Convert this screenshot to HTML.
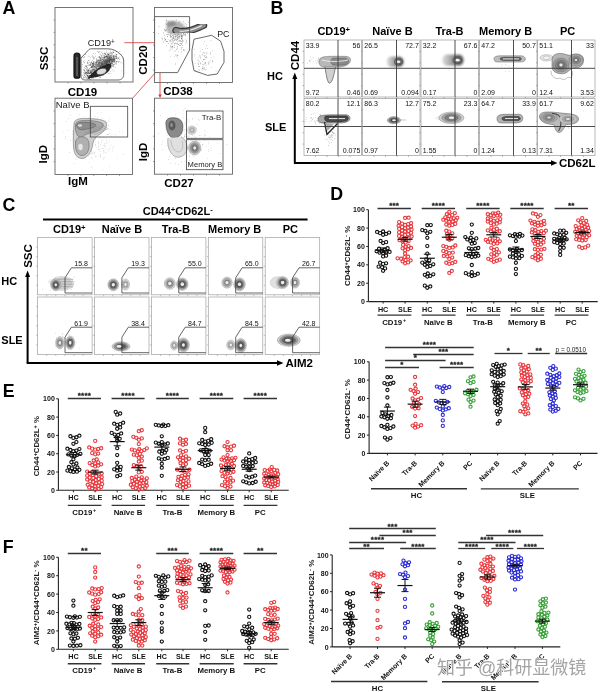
<!DOCTYPE html>
<html><head><meta charset="utf-8"><style>
html,body{margin:0;padding:0;background:#fff;}
svg{display:block;}
text{font-family:"Liberation Sans", Arial, sans-serif;}
</style></head><body>
<svg width="600" height="692" viewBox="0 0 600 692">
<defs>
<radialGradient id="bg"><stop offset="0" stop-color="#222"/><stop offset="0.6" stop-color="#555"/><stop offset="1" stop-color="#999" stop-opacity="0.3"/></radialGradient>
<linearGradient id="tailg" x1="0" y1="0" x2="1" y2="0"><stop offset="0" stop-color="#ddd" stop-opacity="0.2"/><stop offset="0.6" stop-color="#aaa" stop-opacity="0.8"/><stop offset="1" stop-color="#777"/></linearGradient>
<linearGradient id="tailg2" x1="0" y1="0" x2="1" y2="0"><stop offset="0" stop-color="#dcdcdc"/><stop offset="0.4" stop-color="#a4a4a4"/><stop offset="0.72" stop-color="#5e5e5e"/><stop offset="1" stop-color="#707070"/></linearGradient>
<filter id="soft" x="-20%" y="-20%" width="140%" height="140%"><feGaussianBlur stdDeviation="0.45"/></filter>
<filter id="soft2" x="-20%" y="-20%" width="140%" height="140%"><feGaussianBlur stdDeviation="0.9"/></filter>
</defs>
<rect width="600" height="692" fill="#fff"/>
<text x="2.60" y="13.50" font-size="17.8" font-weight="bold" text-anchor="start" fill="#000" >A</text>
<text x="270.40" y="13.50" font-size="17.8" font-weight="bold" text-anchor="start" fill="#000" >B</text>
<text x="2.40" y="211.10" font-size="17.8" font-weight="bold" text-anchor="start" fill="#000" >C</text>
<text x="330.20" y="199.50" font-size="17.8" font-weight="bold" text-anchor="start" fill="#000" >D</text>
<text x="2.70" y="396.50" font-size="17.8" font-weight="bold" text-anchor="start" fill="#000" >E</text>
<text x="2.70" y="553.00" font-size="17.8" font-weight="bold" text-anchor="start" fill="#000" >F</text>
<circle cx="89.0" cy="78.7" r="0.4" fill="#222"/>
<circle cx="91.8" cy="74.8" r="0.4" fill="#333"/>
<circle cx="89.8" cy="68.4" r="0.4" fill="#333"/>
<circle cx="92.0" cy="67.1" r="0.4" fill="#333"/>
<circle cx="114.5" cy="58.4" r="0.4" fill="#777"/>
<circle cx="96.5" cy="71.4" r="0.4" fill="#333"/>
<circle cx="92.8" cy="75.6" r="0.4" fill="#222"/>
<circle cx="114.4" cy="56.0" r="0.4" fill="#333"/>
<circle cx="91.1" cy="70.1" r="0.4" fill="#222"/>
<circle cx="110.0" cy="57.8" r="0.4" fill="#333"/>
<circle cx="88.8" cy="72.8" r="0.4" fill="#555"/>
<circle cx="104.1" cy="63.5" r="0.4" fill="#555"/>
<circle cx="90.6" cy="67.8" r="0.4" fill="#555"/>
<circle cx="107.4" cy="62.3" r="0.4" fill="#555"/>
<circle cx="102.3" cy="61.8" r="0.4" fill="#777"/>
<circle cx="91.7" cy="75.4" r="0.4" fill="#333"/>
<circle cx="90.1" cy="76.7" r="0.4" fill="#777"/>
<circle cx="106.5" cy="59.9" r="0.4" fill="#222"/>
<circle cx="104.6" cy="53.3" r="0.4" fill="#333"/>
<circle cx="93.8" cy="62.3" r="0.4" fill="#777"/>
<circle cx="84.4" cy="73.0" r="0.4" fill="#555"/>
<circle cx="108.8" cy="58.5" r="0.4" fill="#222"/>
<circle cx="101.0" cy="61.1" r="0.4" fill="#777"/>
<circle cx="113.5" cy="55.9" r="0.4" fill="#777"/>
<circle cx="99.1" cy="68.4" r="0.4" fill="#555"/>
<circle cx="100.3" cy="66.0" r="0.4" fill="#222"/>
<circle cx="116.5" cy="55.2" r="0.4" fill="#555"/>
<circle cx="101.1" cy="60.5" r="0.4" fill="#777"/>
<circle cx="94.0" cy="75.2" r="0.4" fill="#555"/>
<circle cx="104.2" cy="61.8" r="0.4" fill="#222"/>
<circle cx="99.3" cy="66.3" r="0.4" fill="#555"/>
<circle cx="103.5" cy="60.9" r="0.4" fill="#222"/>
<circle cx="107.2" cy="63.5" r="0.4" fill="#555"/>
<circle cx="94.0" cy="69.9" r="0.4" fill="#333"/>
<circle cx="110.7" cy="66.4" r="0.4" fill="#222"/>
<circle cx="95.1" cy="75.9" r="0.4" fill="#555"/>
<circle cx="95.6" cy="72.2" r="0.4" fill="#333"/>
<circle cx="91.4" cy="73.1" r="0.4" fill="#555"/>
<circle cx="108.2" cy="53.0" r="0.4" fill="#777"/>
<circle cx="111.8" cy="60.7" r="0.4" fill="#222"/>
<circle cx="112.1" cy="59.6" r="0.4" fill="#555"/>
<circle cx="104.8" cy="67.6" r="0.4" fill="#555"/>
<circle cx="97.7" cy="64.7" r="0.4" fill="#333"/>
<circle cx="106.7" cy="59.0" r="0.4" fill="#222"/>
<circle cx="104.6" cy="61.5" r="0.4" fill="#777"/>
<circle cx="110.4" cy="55.2" r="0.4" fill="#555"/>
<circle cx="90.6" cy="72.2" r="0.4" fill="#333"/>
<circle cx="111.8" cy="62.0" r="0.4" fill="#333"/>
<circle cx="92.4" cy="74.3" r="0.4" fill="#555"/>
<circle cx="97.1" cy="72.5" r="0.4" fill="#555"/>
<circle cx="92.8" cy="74.1" r="0.4" fill="#222"/>
<circle cx="113.2" cy="65.0" r="0.4" fill="#333"/>
<circle cx="84.2" cy="75.1" r="0.4" fill="#555"/>
<circle cx="94.2" cy="66.1" r="0.4" fill="#555"/>
<circle cx="96.5" cy="70.7" r="0.4" fill="#555"/>
<circle cx="92.2" cy="70.9" r="0.4" fill="#222"/>
<circle cx="105.7" cy="61.1" r="0.4" fill="#777"/>
<circle cx="93.4" cy="69.4" r="0.4" fill="#555"/>
<circle cx="92.2" cy="64.5" r="0.4" fill="#777"/>
<circle cx="89.6" cy="73.5" r="0.4" fill="#333"/>
<circle cx="87.7" cy="75.2" r="0.4" fill="#555"/>
<circle cx="100.8" cy="65.6" r="0.4" fill="#555"/>
<circle cx="104.3" cy="60.2" r="0.4" fill="#222"/>
<circle cx="91.6" cy="74.5" r="0.4" fill="#333"/>
<circle cx="92.5" cy="69.9" r="0.4" fill="#555"/>
<circle cx="94.1" cy="66.7" r="0.4" fill="#222"/>
<circle cx="96.5" cy="70.8" r="0.4" fill="#777"/>
<circle cx="101.7" cy="68.1" r="0.4" fill="#333"/>
<circle cx="85.3" cy="73.7" r="0.4" fill="#555"/>
<circle cx="101.6" cy="62.5" r="0.4" fill="#333"/>
<circle cx="96.4" cy="61.1" r="0.4" fill="#555"/>
<circle cx="88.8" cy="76.3" r="0.4" fill="#777"/>
<circle cx="107.1" cy="57.4" r="0.4" fill="#555"/>
<circle cx="105.7" cy="59.5" r="0.4" fill="#333"/>
<circle cx="93.0" cy="64.2" r="0.4" fill="#333"/>
<circle cx="100.0" cy="66.1" r="0.4" fill="#333"/>
<circle cx="99.7" cy="59.0" r="0.4" fill="#777"/>
<circle cx="112.5" cy="56.6" r="0.4" fill="#777"/>
<circle cx="96.9" cy="62.5" r="0.4" fill="#777"/>
<circle cx="112.9" cy="63.9" r="0.4" fill="#777"/>
<circle cx="98.6" cy="68.6" r="0.4" fill="#222"/>
<circle cx="111.0" cy="58.5" r="0.4" fill="#333"/>
<circle cx="89.0" cy="75.4" r="0.4" fill="#555"/>
<circle cx="102.1" cy="66.9" r="0.4" fill="#777"/>
<circle cx="97.1" cy="70.2" r="0.4" fill="#222"/>
<circle cx="84.4" cy="77.4" r="0.4" fill="#333"/>
<circle cx="101.7" cy="65.8" r="0.4" fill="#777"/>
<circle cx="116.8" cy="54.5" r="0.4" fill="#222"/>
<circle cx="95.1" cy="75.1" r="0.4" fill="#777"/>
<circle cx="109.6" cy="61.4" r="0.4" fill="#333"/>
<circle cx="112.2" cy="53.9" r="0.4" fill="#333"/>
<circle cx="110.1" cy="58.1" r="0.4" fill="#222"/>
<circle cx="110.7" cy="61.2" r="0.4" fill="#333"/>
<circle cx="97.7" cy="71.3" r="0.4" fill="#555"/>
<circle cx="111.7" cy="61.6" r="0.4" fill="#555"/>
<circle cx="107.7" cy="59.4" r="0.4" fill="#777"/>
<circle cx="87.9" cy="73.8" r="0.4" fill="#222"/>
<circle cx="82.3" cy="75.7" r="0.4" fill="#777"/>
<circle cx="92.4" cy="66.2" r="0.4" fill="#777"/>
<circle cx="95.4" cy="64.5" r="0.4" fill="#222"/>
<circle cx="89.0" cy="62.6" r="0.4" fill="#555"/>
<circle cx="105.9" cy="61.8" r="0.4" fill="#333"/>
<circle cx="87.7" cy="70.9" r="0.4" fill="#777"/>
<circle cx="116.4" cy="61.8" r="0.4" fill="#555"/>
<circle cx="95.4" cy="70.9" r="0.4" fill="#222"/>
<circle cx="85.9" cy="76.9" r="0.4" fill="#222"/>
<circle cx="102.3" cy="65.0" r="0.4" fill="#777"/>
<circle cx="109.6" cy="59.9" r="0.4" fill="#555"/>
<circle cx="97.9" cy="69.9" r="0.4" fill="#555"/>
<circle cx="112.6" cy="61.0" r="0.4" fill="#222"/>
<circle cx="88.1" cy="76.1" r="0.4" fill="#777"/>
<circle cx="93.0" cy="71.9" r="0.4" fill="#777"/>
<circle cx="101.5" cy="64.9" r="0.4" fill="#333"/>
<circle cx="93.6" cy="75.7" r="0.4" fill="#222"/>
<circle cx="89.4" cy="72.9" r="0.4" fill="#555"/>
<circle cx="96.6" cy="65.9" r="0.4" fill="#222"/>
<circle cx="115.2" cy="55.2" r="0.4" fill="#777"/>
<circle cx="87.0" cy="72.0" r="0.4" fill="#333"/>
<circle cx="101.3" cy="63.3" r="0.4" fill="#222"/>
<circle cx="111.0" cy="52.4" r="0.4" fill="#333"/>
<circle cx="105.8" cy="65.7" r="0.4" fill="#333"/>
<circle cx="96.3" cy="59.8" r="0.4" fill="#777"/>
<circle cx="99.4" cy="66.6" r="0.4" fill="#777"/>
<circle cx="97.0" cy="63.7" r="0.4" fill="#777"/>
<circle cx="103.8" cy="67.2" r="0.4" fill="#333"/>
<circle cx="101.5" cy="64.7" r="0.4" fill="#333"/>
<circle cx="93.3" cy="78.1" r="0.4" fill="#555"/>
<circle cx="111.3" cy="55.1" r="0.4" fill="#555"/>
<circle cx="90.3" cy="73.3" r="0.4" fill="#777"/>
<circle cx="98.2" cy="63.9" r="0.4" fill="#555"/>
<circle cx="91.3" cy="72.8" r="0.4" fill="#777"/>
<circle cx="105.4" cy="60.1" r="0.4" fill="#333"/>
<circle cx="109.0" cy="54.1" r="0.4" fill="#333"/>
<circle cx="100.2" cy="57.7" r="0.4" fill="#222"/>
<circle cx="103.9" cy="60.7" r="0.4" fill="#555"/>
<circle cx="102.7" cy="66.3" r="0.4" fill="#777"/>
<circle cx="107.0" cy="63.8" r="0.4" fill="#333"/>
<circle cx="116.6" cy="56.8" r="0.4" fill="#555"/>
<circle cx="109.1" cy="62.2" r="0.4" fill="#222"/>
<circle cx="102.0" cy="64.5" r="0.4" fill="#222"/>
<circle cx="108.8" cy="55.2" r="0.4" fill="#333"/>
<circle cx="96.3" cy="63.4" r="0.4" fill="#555"/>
<circle cx="107.6" cy="59.8" r="0.4" fill="#222"/>
<circle cx="94.3" cy="72.1" r="0.4" fill="#222"/>
<circle cx="92.7" cy="65.8" r="0.4" fill="#555"/>
<circle cx="100.3" cy="63.1" r="0.4" fill="#333"/>
<circle cx="94.7" cy="70.2" r="0.4" fill="#222"/>
<circle cx="100.3" cy="66.8" r="0.4" fill="#222"/>
<circle cx="109.6" cy="58.1" r="0.4" fill="#222"/>
<circle cx="106.1" cy="62.0" r="0.4" fill="#333"/>
<circle cx="102.5" cy="64.2" r="0.4" fill="#555"/>
<circle cx="101.7" cy="59.9" r="0.4" fill="#333"/>
<circle cx="97.8" cy="62.1" r="0.4" fill="#555"/>
<circle cx="97.4" cy="74.4" r="0.4" fill="#777"/>
<circle cx="102.2" cy="63.8" r="0.4" fill="#555"/>
<circle cx="101.5" cy="66.0" r="0.4" fill="#222"/>
<circle cx="105.5" cy="53.7" r="0.4" fill="#222"/>
<circle cx="106.8" cy="64.0" r="0.4" fill="#555"/>
<circle cx="91.3" cy="73.6" r="0.4" fill="#777"/>
<circle cx="104.5" cy="63.2" r="0.4" fill="#555"/>
<circle cx="111.9" cy="59.2" r="0.4" fill="#333"/>
<circle cx="109.1" cy="59.3" r="0.4" fill="#777"/>
<circle cx="111.1" cy="62.4" r="0.4" fill="#555"/>
<circle cx="104.9" cy="59.3" r="0.4" fill="#555"/>
<circle cx="98.6" cy="62.9" r="0.4" fill="#222"/>
<circle cx="94.4" cy="74.2" r="0.4" fill="#333"/>
<circle cx="90.3" cy="65.4" r="0.4" fill="#222"/>
<circle cx="105.1" cy="68.2" r="0.4" fill="#333"/>
<circle cx="113.8" cy="60.5" r="0.4" fill="#777"/>
<circle cx="88.3" cy="73.0" r="0.4" fill="#555"/>
<circle cx="98.8" cy="67.6" r="0.4" fill="#555"/>
<circle cx="104.0" cy="64.6" r="0.4" fill="#333"/>
<circle cx="112.2" cy="63.5" r="0.4" fill="#777"/>
<circle cx="106.1" cy="58.6" r="0.4" fill="#222"/>
<circle cx="94.7" cy="68.1" r="0.4" fill="#777"/>
<circle cx="113.1" cy="66.5" r="0.4" fill="#555"/>
<circle cx="104.9" cy="61.6" r="0.4" fill="#333"/>
<circle cx="114.7" cy="58.5" r="0.4" fill="#555"/>
<circle cx="84.3" cy="70.6" r="0.4" fill="#222"/>
<circle cx="116.2" cy="58.0" r="0.4" fill="#555"/>
<circle cx="115.2" cy="67.4" r="0.4" fill="#777"/>
<circle cx="109.7" cy="59.5" r="0.4" fill="#333"/>
<circle cx="83.6" cy="77.9" r="0.4" fill="#333"/>
<circle cx="93.9" cy="74.0" r="0.4" fill="#777"/>
<circle cx="90.9" cy="75.9" r="0.4" fill="#555"/>
<circle cx="86.2" cy="78.6" r="0.4" fill="#777"/>
<circle cx="101.9" cy="58.2" r="0.4" fill="#777"/>
<circle cx="106.9" cy="57.2" r="0.4" fill="#777"/>
<circle cx="100.7" cy="67.3" r="0.4" fill="#333"/>
<circle cx="85.7" cy="73.8" r="0.4" fill="#333"/>
<circle cx="109.0" cy="60.4" r="0.4" fill="#333"/>
<circle cx="93.9" cy="67.8" r="0.4" fill="#333"/>
<circle cx="91.6" cy="72.3" r="0.4" fill="#555"/>
<circle cx="109.4" cy="61.7" r="0.4" fill="#555"/>
<circle cx="102.5" cy="63.7" r="0.4" fill="#777"/>
<circle cx="107.5" cy="62.2" r="0.4" fill="#777"/>
<circle cx="109.8" cy="59.9" r="0.4" fill="#777"/>
<circle cx="108.9" cy="58.9" r="0.4" fill="#222"/>
<circle cx="117.4" cy="58.9" r="0.4" fill="#555"/>
<circle cx="110.5" cy="65.0" r="0.4" fill="#777"/>
<circle cx="93.3" cy="66.1" r="0.4" fill="#222"/>
<circle cx="88.0" cy="62.9" r="0.4" fill="#555"/>
<circle cx="102.3" cy="62.7" r="0.4" fill="#555"/>
<circle cx="95.6" cy="68.6" r="0.4" fill="#555"/>
<circle cx="98.5" cy="70.1" r="0.4" fill="#222"/>
<circle cx="107.2" cy="65.8" r="0.4" fill="#777"/>
<circle cx="112.6" cy="53.0" r="0.4" fill="#777"/>
<circle cx="89.4" cy="78.4" r="0.4" fill="#222"/>
<circle cx="93.3" cy="74.0" r="0.4" fill="#555"/>
<circle cx="91.1" cy="71.9" r="0.4" fill="#333"/>
<circle cx="85.0" cy="71.5" r="0.4" fill="#555"/>
<circle cx="114.4" cy="60.2" r="0.4" fill="#333"/>
<circle cx="84.3" cy="73.7" r="0.4" fill="#222"/>
<circle cx="109.0" cy="61.5" r="0.4" fill="#777"/>
<circle cx="101.4" cy="63.6" r="0.4" fill="#555"/>
<circle cx="104.8" cy="70.1" r="0.4" fill="#222"/>
<circle cx="89.8" cy="75.3" r="0.4" fill="#555"/>
<circle cx="98.9" cy="65.2" r="0.4" fill="#333"/>
<circle cx="100.2" cy="65.8" r="0.4" fill="#222"/>
<circle cx="97.7" cy="66.6" r="0.4" fill="#333"/>
<circle cx="91.7" cy="75.5" r="0.4" fill="#555"/>
<circle cx="103.3" cy="63.6" r="0.4" fill="#333"/>
<circle cx="106.0" cy="61.3" r="0.4" fill="#555"/>
<circle cx="84.8" cy="75.6" r="0.4" fill="#222"/>
<circle cx="99.1" cy="57.6" r="0.4" fill="#222"/>
<circle cx="98.9" cy="68.4" r="0.4" fill="#555"/>
<circle cx="95.6" cy="76.8" r="0.4" fill="#555"/>
<circle cx="101.5" cy="63.6" r="0.4" fill="#222"/>
<circle cx="110.8" cy="67.5" r="0.4" fill="#333"/>
<circle cx="86.5" cy="72.5" r="0.4" fill="#333"/>
<circle cx="87.0" cy="72.7" r="0.4" fill="#333"/>
<circle cx="107.1" cy="61.6" r="0.4" fill="#777"/>
<circle cx="91.9" cy="76.0" r="0.4" fill="#555"/>
<circle cx="101.4" cy="68.5" r="0.4" fill="#333"/>
<circle cx="91.9" cy="71.3" r="0.4" fill="#333"/>
<circle cx="97.7" cy="68.7" r="0.4" fill="#777"/>
<circle cx="87.4" cy="73.1" r="0.4" fill="#777"/>
<circle cx="90.8" cy="75.5" r="0.4" fill="#222"/>
<circle cx="110.1" cy="62.5" r="0.4" fill="#555"/>
<circle cx="101.2" cy="62.7" r="0.4" fill="#222"/>
<circle cx="111.2" cy="58.2" r="0.4" fill="#777"/>
<circle cx="108.8" cy="64.4" r="0.4" fill="#333"/>
<circle cx="102.9" cy="57.7" r="0.4" fill="#777"/>
<circle cx="103.0" cy="62.9" r="0.4" fill="#777"/>
<circle cx="88.3" cy="70.1" r="0.4" fill="#777"/>
<circle cx="86.2" cy="70.6" r="0.4" fill="#777"/>
<circle cx="111.0" cy="57.5" r="0.4" fill="#777"/>
<circle cx="101.7" cy="68.4" r="0.4" fill="#222"/>
<circle cx="118.7" cy="58.5" r="0.4" fill="#222"/>
<circle cx="105.9" cy="57.5" r="0.4" fill="#222"/>
<circle cx="105.2" cy="60.3" r="0.4" fill="#777"/>
<circle cx="107.7" cy="65.6" r="0.4" fill="#333"/>
<circle cx="87.8" cy="70.4" r="0.4" fill="#555"/>
<circle cx="91.8" cy="74.3" r="0.4" fill="#555"/>
<circle cx="111.6" cy="60.1" r="0.4" fill="#777"/>
<circle cx="104.7" cy="61.7" r="0.4" fill="#222"/>
<circle cx="104.2" cy="62.0" r="0.4" fill="#777"/>
<circle cx="104.7" cy="58.4" r="0.4" fill="#555"/>
<circle cx="92.7" cy="65.0" r="0.4" fill="#222"/>
<circle cx="100.6" cy="60.2" r="0.4" fill="#333"/>
<circle cx="106.9" cy="56.2" r="0.4" fill="#333"/>
<circle cx="106.6" cy="65.3" r="0.4" fill="#222"/>
<circle cx="96.4" cy="73.2" r="0.4" fill="#555"/>
<circle cx="85.9" cy="73.9" r="0.4" fill="#222"/>
<circle cx="100.0" cy="65.9" r="0.4" fill="#555"/>
<circle cx="95.1" cy="72.5" r="0.4" fill="#222"/>
<circle cx="98.7" cy="70.8" r="0.4" fill="#333"/>
<circle cx="91.6" cy="78.4" r="0.4" fill="#777"/>
<circle cx="94.5" cy="71.6" r="0.4" fill="#333"/>
<circle cx="96.4" cy="61.6" r="0.4" fill="#777"/>
<circle cx="105.4" cy="61.7" r="0.4" fill="#555"/>
<circle cx="99.5" cy="67.7" r="0.4" fill="#777"/>
<circle cx="89.9" cy="77.5" r="0.4" fill="#222"/>
<circle cx="103.8" cy="65.0" r="0.4" fill="#777"/>
<circle cx="87.4" cy="68.8" r="0.4" fill="#333"/>
<circle cx="99.3" cy="69.5" r="0.4" fill="#777"/>
<circle cx="99.0" cy="60.5" r="0.4" fill="#333"/>
<circle cx="102.2" cy="66.7" r="0.4" fill="#555"/>
<circle cx="91.6" cy="62.9" r="0.4" fill="#222"/>
<circle cx="105.0" cy="66.9" r="0.4" fill="#555"/>
<circle cx="93.2" cy="69.4" r="0.4" fill="#555"/>
<circle cx="116.0" cy="54.2" r="0.4" fill="#555"/>
<circle cx="90.6" cy="64.6" r="0.4" fill="#333"/>
<circle cx="91.0" cy="72.7" r="0.4" fill="#777"/>
<circle cx="113.0" cy="65.8" r="0.4" fill="#555"/>
<circle cx="92.1" cy="78.1" r="0.4" fill="#777"/>
<circle cx="99.2" cy="69.1" r="0.4" fill="#555"/>
<circle cx="89.8" cy="73.0" r="0.4" fill="#222"/>
<circle cx="93.7" cy="64.2" r="0.4" fill="#222"/>
<circle cx="106.5" cy="64.0" r="0.4" fill="#555"/>
<circle cx="100.3" cy="67.4" r="0.4" fill="#222"/>
<circle cx="84.0" cy="74.3" r="0.4" fill="#555"/>
<circle cx="115.3" cy="56.6" r="0.4" fill="#222"/>
<circle cx="115.1" cy="63.4" r="0.4" fill="#222"/>
<circle cx="91.6" cy="70.4" r="0.4" fill="#777"/>
<circle cx="104.3" cy="65.2" r="0.4" fill="#555"/>
<circle cx="95.8" cy="73.8" r="0.4" fill="#555"/>
<circle cx="112.8" cy="61.5" r="0.4" fill="#333"/>
<circle cx="109.6" cy="58.7" r="0.4" fill="#555"/>
<circle cx="94.9" cy="66.8" r="0.4" fill="#333"/>
<circle cx="106.3" cy="56.4" r="0.4" fill="#333"/>
<circle cx="91.3" cy="75.2" r="0.4" fill="#777"/>
<circle cx="92.8" cy="68.7" r="0.4" fill="#555"/>
<circle cx="110.9" cy="52.2" r="0.4" fill="#777"/>
<circle cx="101.5" cy="65.5" r="0.4" fill="#777"/>
<circle cx="95.3" cy="63.8" r="0.4" fill="#555"/>
<circle cx="86.7" cy="73.8" r="0.4" fill="#222"/>
<circle cx="97.8" cy="64.5" r="0.4" fill="#777"/>
<circle cx="99.9" cy="69.0" r="0.4" fill="#333"/>
<circle cx="90.1" cy="65.0" r="0.4" fill="#333"/>
<circle cx="113.1" cy="58.5" r="0.4" fill="#777"/>
<circle cx="114.5" cy="59.1" r="0.4" fill="#222"/>
<circle cx="87.4" cy="78.9" r="0.4" fill="#333"/>
<circle cx="87.5" cy="67.6" r="0.4" fill="#777"/>
<circle cx="95.8" cy="66.5" r="0.4" fill="#777"/>
<circle cx="88.8" cy="70.4" r="0.4" fill="#777"/>
<circle cx="91.7" cy="67.5" r="0.4" fill="#222"/>
<circle cx="110.1" cy="63.3" r="0.4" fill="#222"/>
<circle cx="114.7" cy="64.6" r="0.4" fill="#333"/>
<circle cx="102.6" cy="61.4" r="0.4" fill="#222"/>
<circle cx="111.4" cy="60.6" r="0.4" fill="#333"/>
<circle cx="87.9" cy="77.2" r="0.4" fill="#777"/>
<circle cx="103.6" cy="61.6" r="0.4" fill="#777"/>
<circle cx="111.1" cy="53.9" r="0.4" fill="#333"/>
<circle cx="100.1" cy="62.1" r="0.4" fill="#555"/>
<circle cx="107.7" cy="61.8" r="0.4" fill="#333"/>
<circle cx="98.3" cy="60.3" r="0.4" fill="#333"/>
<circle cx="101.9" cy="61.4" r="0.4" fill="#555"/>
<circle cx="115.2" cy="56.1" r="0.4" fill="#222"/>
<circle cx="96.3" cy="68.8" r="0.4" fill="#222"/>
<circle cx="87.1" cy="73.5" r="0.4" fill="#333"/>
<circle cx="89.5" cy="77.7" r="0.4" fill="#555"/>
<circle cx="113.5" cy="59.0" r="0.4" fill="#555"/>
<circle cx="114.1" cy="60.3" r="0.4" fill="#777"/>
<circle cx="110.3" cy="56.9" r="0.4" fill="#333"/>
<circle cx="92.6" cy="77.6" r="0.4" fill="#555"/>
<circle cx="99.9" cy="67.6" r="0.4" fill="#333"/>
<circle cx="112.2" cy="61.7" r="0.4" fill="#555"/>
<circle cx="104.7" cy="66.9" r="0.4" fill="#777"/>
<circle cx="92.8" cy="63.6" r="0.4" fill="#222"/>
<circle cx="93.9" cy="64.8" r="0.4" fill="#333"/>
<circle cx="99.2" cy="64.0" r="0.4" fill="#222"/>
<circle cx="105.5" cy="66.0" r="0.4" fill="#222"/>
<circle cx="107.5" cy="57.0" r="0.4" fill="#555"/>
<circle cx="109.0" cy="60.2" r="0.4" fill="#222"/>
<circle cx="111.8" cy="57.5" r="0.4" fill="#222"/>
<circle cx="113.2" cy="55.6" r="0.4" fill="#333"/>
<circle cx="116.4" cy="58.1" r="0.4" fill="#222"/>
<circle cx="106.1" cy="68.8" r="0.4" fill="#555"/>
<circle cx="92.7" cy="73.5" r="0.4" fill="#222"/>
<circle cx="105.4" cy="54.5" r="0.4" fill="#333"/>
<circle cx="107.9" cy="56.8" r="0.4" fill="#222"/>
<circle cx="93.7" cy="65.8" r="0.4" fill="#333"/>
<circle cx="104.9" cy="62.7" r="0.4" fill="#333"/>
<circle cx="118.4" cy="57.8" r="0.4" fill="#777"/>
<circle cx="101.1" cy="65.9" r="0.4" fill="#222"/>
<circle cx="107.4" cy="58.4" r="0.4" fill="#777"/>
<circle cx="87.6" cy="71.2" r="0.4" fill="#333"/>
<circle cx="104.4" cy="69.4" r="0.4" fill="#333"/>
<circle cx="116.8" cy="54.3" r="0.4" fill="#777"/>
<circle cx="113.7" cy="52.7" r="0.4" fill="#222"/>
<circle cx="93.0" cy="75.6" r="0.4" fill="#333"/>
<circle cx="92.8" cy="70.3" r="0.4" fill="#777"/>
<circle cx="87.4" cy="73.0" r="0.4" fill="#555"/>
<circle cx="91.3" cy="68.8" r="0.4" fill="#777"/>
<circle cx="92.5" cy="71.8" r="0.4" fill="#555"/>
<circle cx="96.7" cy="62.7" r="0.4" fill="#777"/>
<circle cx="93.8" cy="63.0" r="0.4" fill="#222"/>
<circle cx="102.5" cy="63.1" r="0.4" fill="#333"/>
<circle cx="104.7" cy="67.8" r="0.4" fill="#555"/>
<circle cx="110.2" cy="63.6" r="0.4" fill="#222"/>
<circle cx="111.8" cy="56.0" r="0.4" fill="#222"/>
<circle cx="105.7" cy="63.5" r="0.4" fill="#555"/>
<circle cx="110.0" cy="56.8" r="0.4" fill="#555"/>
<circle cx="83.5" cy="77.0" r="0.4" fill="#555"/>
<circle cx="98.6" cy="66.1" r="0.4" fill="#333"/>
<circle cx="108.3" cy="60.6" r="0.4" fill="#777"/>
<circle cx="107.7" cy="58.2" r="0.4" fill="#555"/>
<circle cx="96.4" cy="65.7" r="0.4" fill="#333"/>
<circle cx="93.8" cy="65.7" r="0.4" fill="#777"/>
<circle cx="93.9" cy="76.4" r="0.4" fill="#333"/>
<circle cx="89.3" cy="64.4" r="0.4" fill="#555"/>
<circle cx="97.7" cy="61.6" r="0.4" fill="#222"/>
<circle cx="87.6" cy="75.8" r="0.4" fill="#333"/>
<circle cx="100.1" cy="60.4" r="0.4" fill="#333"/>
<circle cx="112.0" cy="59.5" r="0.4" fill="#222"/>
<circle cx="101.1" cy="59.0" r="0.4" fill="#222"/>
<circle cx="113.3" cy="57.4" r="0.4" fill="#222"/>
<circle cx="105.2" cy="54.9" r="0.4" fill="#333"/>
<circle cx="97.3" cy="69.1" r="0.4" fill="#555"/>
<circle cx="112.5" cy="61.1" r="0.4" fill="#333"/>
<circle cx="106.4" cy="63.6" r="0.4" fill="#222"/>
<circle cx="93.7" cy="68.2" r="0.4" fill="#555"/>
<circle cx="92.0" cy="73.6" r="0.4" fill="#777"/>
<circle cx="102.7" cy="62.9" r="0.4" fill="#777"/>
<circle cx="90.0" cy="70.7" r="0.4" fill="#777"/>
<circle cx="102.8" cy="62.0" r="0.4" fill="#555"/>
<circle cx="104.8" cy="57.4" r="0.4" fill="#333"/>
<circle cx="100.5" cy="58.5" r="0.4" fill="#333"/>
<circle cx="112.9" cy="59.1" r="0.4" fill="#222"/>
<circle cx="111.1" cy="57.8" r="0.4" fill="#777"/>
<circle cx="108.5" cy="54.4" r="0.4" fill="#333"/>
<circle cx="103.4" cy="64.9" r="0.4" fill="#777"/>
<circle cx="111.3" cy="63.7" r="0.4" fill="#222"/>
<circle cx="110.0" cy="57.6" r="0.4" fill="#222"/>
<circle cx="91.8" cy="75.2" r="0.4" fill="#777"/>
<circle cx="109.3" cy="65.9" r="0.4" fill="#555"/>
<circle cx="99.4" cy="63.9" r="0.4" fill="#222"/>
<circle cx="103.3" cy="60.6" r="0.4" fill="#333"/>
<circle cx="83.6" cy="72.2" r="0.4" fill="#777"/>
<circle cx="104.7" cy="62.4" r="0.4" fill="#777"/>
<circle cx="109.7" cy="61.1" r="0.4" fill="#777"/>
<circle cx="100.9" cy="66.3" r="0.4" fill="#777"/>
<circle cx="105.3" cy="57.4" r="0.4" fill="#777"/>
<circle cx="93.1" cy="72.1" r="0.4" fill="#777"/>
<circle cx="96.0" cy="70.5" r="0.4" fill="#555"/>
<circle cx="95.6" cy="62.4" r="0.4" fill="#555"/>
<circle cx="88.6" cy="70.8" r="0.4" fill="#222"/>
<circle cx="105.7" cy="63.4" r="0.4" fill="#555"/>
<circle cx="95.3" cy="71.2" r="0.4" fill="#777"/>
<circle cx="111.5" cy="53.1" r="0.4" fill="#222"/>
<circle cx="92.6" cy="70.9" r="0.4" fill="#777"/>
<circle cx="94.9" cy="69.4" r="0.4" fill="#333"/>
<circle cx="92.3" cy="63.5" r="0.4" fill="#222"/>
<circle cx="96.2" cy="71.7" r="0.4" fill="#555"/>
<circle cx="109.3" cy="59.9" r="0.4" fill="#555"/>
<circle cx="111.0" cy="62.7" r="0.4" fill="#555"/>
<circle cx="106.5" cy="63.8" r="0.4" fill="#555"/>
<circle cx="95.7" cy="67.8" r="0.4" fill="#555"/>
<circle cx="113.2" cy="59.5" r="0.4" fill="#777"/>
<circle cx="83.2" cy="69.9" r="0.4" fill="#333"/>
<circle cx="98.4" cy="68.6" r="0.4" fill="#333"/>
<circle cx="106.9" cy="68.5" r="0.4" fill="#222"/>
<circle cx="107.7" cy="58.3" r="0.4" fill="#555"/>
<circle cx="113.6" cy="59.2" r="0.4" fill="#555"/>
<circle cx="86.1" cy="72.5" r="0.4" fill="#555"/>
<circle cx="108.8" cy="70.3" r="0.4" fill="#222"/>
<circle cx="106.6" cy="56.7" r="0.4" fill="#222"/>
<circle cx="94.6" cy="66.7" r="0.4" fill="#777"/>
<circle cx="110.6" cy="59.8" r="0.4" fill="#333"/>
<circle cx="114.8" cy="60.5" r="0.4" fill="#555"/>
<circle cx="87.0" cy="69.7" r="0.4" fill="#333"/>
<circle cx="100.8" cy="69.9" r="0.4" fill="#333"/>
<circle cx="91.6" cy="70.8" r="0.4" fill="#555"/>
<circle cx="102.9" cy="60.2" r="0.4" fill="#222"/>
<circle cx="93.8" cy="67.4" r="0.4" fill="#333"/>
<circle cx="104.8" cy="57.1" r="0.4" fill="#555"/>
<circle cx="100.0" cy="62.2" r="0.4" fill="#333"/>
<circle cx="99.7" cy="68.6" r="0.4" fill="#555"/>
<circle cx="88.0" cy="76.4" r="0.4" fill="#222"/>
<circle cx="85.5" cy="76.5" r="0.4" fill="#777"/>
<circle cx="104.0" cy="68.1" r="0.4" fill="#555"/>
<circle cx="114.4" cy="61.6" r="0.4" fill="#555"/>
<circle cx="86.8" cy="69.8" r="0.4" fill="#555"/>
<circle cx="106.1" cy="52.7" r="0.4" fill="#555"/>
<circle cx="95.1" cy="67.5" r="0.4" fill="#222"/>
<circle cx="109.6" cy="57.8" r="0.4" fill="#333"/>
<circle cx="101.2" cy="62.3" r="0.4" fill="#777"/>
<circle cx="91.8" cy="75.9" r="0.4" fill="#555"/>
<circle cx="104.9" cy="59.2" r="0.4" fill="#555"/>
<circle cx="87.5" cy="75.7" r="0.4" fill="#333"/>
<circle cx="90.1" cy="74.4" r="0.4" fill="#777"/>
<circle cx="93.2" cy="64.4" r="0.4" fill="#333"/>
<circle cx="100.7" cy="58.9" r="0.4" fill="#777"/>
<circle cx="97.9" cy="61.5" r="0.4" fill="#555"/>
<circle cx="94.0" cy="61.8" r="0.4" fill="#333"/>
<circle cx="99.2" cy="72.6" r="0.4" fill="#333"/>
<circle cx="103.3" cy="67.6" r="0.4" fill="#222"/>
<circle cx="115.4" cy="56.8" r="0.4" fill="#777"/>
<circle cx="88.4" cy="78.3" r="0.4" fill="#222"/>
<circle cx="107.8" cy="59.7" r="0.4" fill="#555"/>
<circle cx="94.3" cy="72.0" r="0.4" fill="#222"/>
<circle cx="113.8" cy="57.4" r="0.4" fill="#333"/>
<circle cx="89.1" cy="79.0" r="0.4" fill="#777"/>
<circle cx="91.7" cy="71.9" r="0.4" fill="#222"/>
<circle cx="99.3" cy="65.1" r="0.4" fill="#222"/>
<circle cx="93.7" cy="63.7" r="0.4" fill="#333"/>
<circle cx="107.6" cy="64.0" r="0.4" fill="#777"/>
<circle cx="99.3" cy="70.3" r="0.4" fill="#222"/>
<circle cx="109.1" cy="56.7" r="0.4" fill="#222"/>
<circle cx="114.4" cy="58.8" r="0.4" fill="#777"/>
<circle cx="98.4" cy="64.1" r="0.4" fill="#555"/>
<circle cx="108.0" cy="60.2" r="0.4" fill="#555"/>
<circle cx="89.2" cy="78.7" r="0.4" fill="#555"/>
<circle cx="107.5" cy="60.2" r="0.4" fill="#555"/>
<circle cx="91.6" cy="62.6" r="0.4" fill="#222"/>
<circle cx="98.2" cy="70.9" r="0.4" fill="#222"/>
<circle cx="96.6" cy="67.5" r="0.4" fill="#222"/>
<circle cx="96.8" cy="68.5" r="0.4" fill="#222"/>
<circle cx="88.6" cy="73.8" r="0.4" fill="#777"/>
<circle cx="99.3" cy="57.4" r="0.4" fill="#333"/>
<circle cx="88.4" cy="77.3" r="0.4" fill="#222"/>
<circle cx="91.5" cy="76.1" r="0.4" fill="#777"/>
<circle cx="88.4" cy="69.2" r="0.4" fill="#222"/>
<circle cx="116.5" cy="56.6" r="0.4" fill="#777"/>
<circle cx="92.6" cy="66.5" r="0.4" fill="#333"/>
<circle cx="112.1" cy="60.0" r="0.4" fill="#777"/>
<circle cx="89.9" cy="70.9" r="0.4" fill="#222"/>
<circle cx="93.4" cy="72.5" r="0.4" fill="#333"/>
<circle cx="97.2" cy="65.3" r="0.4" fill="#333"/>
<circle cx="109.7" cy="60.7" r="0.4" fill="#222"/>
<circle cx="116.3" cy="61.8" r="0.4" fill="#777"/>
<circle cx="94.5" cy="69.8" r="0.4" fill="#777"/>
<circle cx="103.3" cy="66.0" r="0.4" fill="#777"/>
<circle cx="99.0" cy="60.7" r="0.4" fill="#333"/>
<circle cx="96.7" cy="71.1" r="0.4" fill="#333"/>
<circle cx="109.9" cy="55.4" r="0.4" fill="#777"/>
<circle cx="87.6" cy="72.2" r="0.4" fill="#777"/>
<circle cx="94.3" cy="70.5" r="0.4" fill="#777"/>
<circle cx="101.6" cy="63.9" r="0.4" fill="#777"/>
<circle cx="102.4" cy="59.4" r="0.4" fill="#777"/>
<circle cx="100.6" cy="64.4" r="0.4" fill="#777"/>
<circle cx="97.0" cy="69.6" r="0.4" fill="#222"/>
<circle cx="100.2" cy="70.4" r="0.4" fill="#777"/>
<circle cx="92.7" cy="63.5" r="0.4" fill="#333"/>
<circle cx="106.8" cy="65.3" r="0.4" fill="#222"/>
<circle cx="95.4" cy="70.5" r="0.4" fill="#555"/>
<circle cx="93.6" cy="70.1" r="0.4" fill="#222"/>
<circle cx="91.3" cy="67.5" r="0.4" fill="#333"/>
<circle cx="109.1" cy="53.1" r="0.4" fill="#777"/>
<circle cx="100.6" cy="56.9" r="0.4" fill="#777"/>
<circle cx="110.0" cy="55.6" r="0.4" fill="#333"/>
<circle cx="109.1" cy="60.2" r="0.4" fill="#555"/>
<circle cx="95.0" cy="74.2" r="0.4" fill="#222"/>
<circle cx="98.9" cy="64.9" r="0.4" fill="#333"/>
<circle cx="90.7" cy="71.3" r="0.4" fill="#333"/>
<circle cx="91.2" cy="72.3" r="0.4" fill="#777"/>
<circle cx="113.2" cy="52.5" r="0.4" fill="#222"/>
<circle cx="114.3" cy="61.7" r="0.4" fill="#333"/>
<circle cx="108.2" cy="60.3" r="0.4" fill="#555"/>
<circle cx="88.0" cy="70.8" r="0.4" fill="#333"/>
<circle cx="90.9" cy="70.0" r="0.4" fill="#222"/>
<circle cx="95.1" cy="69.1" r="0.4" fill="#777"/>
<circle cx="109.5" cy="62.4" r="0.4" fill="#555"/>
<circle cx="97.6" cy="66.5" r="0.4" fill="#222"/>
<circle cx="107.0" cy="61.8" r="0.4" fill="#222"/>
<circle cx="112.1" cy="60.8" r="0.4" fill="#777"/>
<circle cx="99.1" cy="62.7" r="0.4" fill="#222"/>
<circle cx="97.4" cy="71.0" r="0.4" fill="#222"/>
<circle cx="98.4" cy="68.3" r="0.4" fill="#333"/>
<circle cx="89.4" cy="69.3" r="0.4" fill="#777"/>
<circle cx="108.4" cy="64.5" r="0.4" fill="#777"/>
<circle cx="103.8" cy="66.2" r="0.4" fill="#222"/>
<circle cx="108.5" cy="64.7" r="0.4" fill="#555"/>
<circle cx="100.9" cy="62.2" r="0.4" fill="#555"/>
<circle cx="103.6" cy="69.7" r="0.4" fill="#333"/>
<circle cx="94.4" cy="70.1" r="0.4" fill="#555"/>
<circle cx="108.3" cy="54.7" r="0.4" fill="#777"/>
<circle cx="103.7" cy="58.9" r="0.4" fill="#777"/>
<circle cx="103.9" cy="59.3" r="0.4" fill="#555"/>
<circle cx="94.2" cy="69.3" r="0.4" fill="#777"/>
<circle cx="103.6" cy="65.2" r="0.4" fill="#555"/>
<circle cx="110.4" cy="59.5" r="0.4" fill="#777"/>
<circle cx="102.9" cy="66.0" r="0.4" fill="#333"/>
<circle cx="105.8" cy="62.4" r="0.4" fill="#333"/>
<circle cx="91.7" cy="76.7" r="0.4" fill="#555"/>
<circle cx="101.5" cy="65.6" r="0.4" fill="#555"/>
<circle cx="106.0" cy="61.1" r="0.4" fill="#777"/>
<circle cx="104.0" cy="59.0" r="0.4" fill="#555"/>
<circle cx="103.4" cy="55.1" r="0.4" fill="#777"/>
<circle cx="108.7" cy="55.2" r="0.4" fill="#555"/>
<circle cx="97.7" cy="72.2" r="0.4" fill="#777"/>
<circle cx="103.0" cy="61.2" r="0.4" fill="#777"/>
<circle cx="97.0" cy="72.1" r="0.4" fill="#333"/>
<circle cx="99.4" cy="60.1" r="0.4" fill="#555"/>
<circle cx="94.1" cy="66.0" r="0.4" fill="#333"/>
<circle cx="111.9" cy="59.7" r="0.4" fill="#555"/>
<circle cx="94.7" cy="64.5" r="0.4" fill="#777"/>
<circle cx="98.9" cy="66.2" r="0.4" fill="#777"/>
<circle cx="107.3" cy="56.1" r="0.4" fill="#333"/>
<circle cx="87.2" cy="75.2" r="0.4" fill="#333"/>
<circle cx="97.1" cy="60.5" r="0.4" fill="#333"/>
<circle cx="99.9" cy="63.6" r="0.4" fill="#333"/>
<circle cx="103.4" cy="66.9" r="0.4" fill="#222"/>
<circle cx="100.8" cy="59.5" r="0.4" fill="#333"/>
<circle cx="113.3" cy="59.3" r="0.4" fill="#222"/>
<circle cx="104.4" cy="56.1" r="0.4" fill="#333"/>
<circle cx="102.4" cy="66.6" r="0.4" fill="#222"/>
<circle cx="111.6" cy="58.1" r="0.4" fill="#777"/>
<circle cx="93.6" cy="64.1" r="0.4" fill="#777"/>
<circle cx="116.4" cy="63.9" r="0.4" fill="#222"/>
<circle cx="113.3" cy="61.7" r="0.4" fill="#555"/>
<circle cx="95.3" cy="65.3" r="0.4" fill="#222"/>
<circle cx="98.6" cy="69.0" r="0.4" fill="#333"/>
<circle cx="86.4" cy="75.2" r="0.4" fill="#777"/>
<circle cx="91.4" cy="73.3" r="0.4" fill="#222"/>
<circle cx="104.4" cy="60.1" r="0.4" fill="#222"/>
<circle cx="100.2" cy="77.3" r="0.4" fill="#222"/>
<circle cx="103.3" cy="64.2" r="0.4" fill="#777"/>
<circle cx="87.9" cy="75.4" r="0.4" fill="#333"/>
<circle cx="106.5" cy="60.2" r="0.4" fill="#222"/>
<circle cx="100.7" cy="60.7" r="0.4" fill="#777"/>
<circle cx="99.9" cy="67.3" r="0.4" fill="#555"/>
<circle cx="105.7" cy="63.3" r="0.4" fill="#333"/>
<circle cx="108.1" cy="62.8" r="0.4" fill="#777"/>
<circle cx="103.9" cy="57.2" r="0.4" fill="#555"/>
<circle cx="106.6" cy="63.4" r="0.4" fill="#222"/>
<circle cx="107.6" cy="60.7" r="0.4" fill="#777"/>
<circle cx="88.4" cy="71.3" r="0.4" fill="#555"/>
<circle cx="95.8" cy="62.5" r="0.4" fill="#777"/>
<circle cx="105.1" cy="61.1" r="0.4" fill="#333"/>
<circle cx="90.3" cy="62.9" r="0.4" fill="#333"/>
<circle cx="98.2" cy="64.0" r="0.4" fill="#333"/>
<circle cx="98.6" cy="68.3" r="0.4" fill="#333"/>
<circle cx="86.8" cy="74.5" r="0.4" fill="#777"/>
<circle cx="91.4" cy="66.8" r="0.4" fill="#777"/>
<circle cx="97.3" cy="71.9" r="0.4" fill="#333"/>
<circle cx="104.7" cy="67.5" r="0.4" fill="#777"/>
<circle cx="94.2" cy="66.3" r="0.4" fill="#333"/>
<circle cx="104.5" cy="57.0" r="0.4" fill="#555"/>
<circle cx="101.1" cy="62.8" r="0.4" fill="#777"/>
<circle cx="113.0" cy="61.7" r="0.4" fill="#333"/>
<circle cx="96.1" cy="66.5" r="0.4" fill="#555"/>
<circle cx="97.8" cy="76.0" r="0.4" fill="#777"/>
<circle cx="116.4" cy="56.6" r="0.4" fill="#555"/>
<circle cx="104.1" cy="67.2" r="0.4" fill="#222"/>
<circle cx="104.2" cy="53.5" r="0.4" fill="#777"/>
<circle cx="101.1" cy="61.2" r="0.4" fill="#222"/>
<circle cx="112.6" cy="63.5" r="0.4" fill="#555"/>
<circle cx="110.3" cy="56.1" r="0.4" fill="#777"/>
<circle cx="102.6" cy="53.1" r="0.4" fill="#222"/>
<circle cx="100.2" cy="70.6" r="0.4" fill="#222"/>
<circle cx="110.0" cy="56.1" r="0.4" fill="#222"/>
<circle cx="98.5" cy="66.6" r="0.4" fill="#777"/>
<circle cx="102.8" cy="64.7" r="0.4" fill="#222"/>
<circle cx="112.8" cy="62.2" r="0.4" fill="#555"/>
<circle cx="113.6" cy="59.3" r="0.4" fill="#222"/>
<circle cx="100.6" cy="67.4" r="0.4" fill="#777"/>
<circle cx="108.6" cy="61.6" r="0.4" fill="#222"/>
<circle cx="97.1" cy="70.2" r="0.4" fill="#555"/>
<circle cx="96.2" cy="72.2" r="0.4" fill="#555"/>
<circle cx="87.5" cy="77.1" r="0.4" fill="#555"/>
<circle cx="110.1" cy="56.2" r="0.4" fill="#777"/>
<circle cx="103.5" cy="68.3" r="0.4" fill="#333"/>
<circle cx="101.4" cy="66.0" r="0.4" fill="#777"/>
<circle cx="91.2" cy="73.5" r="0.4" fill="#555"/>
<circle cx="87.7" cy="75.3" r="0.4" fill="#555"/>
<circle cx="113.4" cy="56.0" r="0.4" fill="#777"/>
<circle cx="117.1" cy="57.6" r="0.4" fill="#222"/>
<circle cx="104.1" cy="61.8" r="0.4" fill="#555"/>
<circle cx="103.7" cy="62.0" r="0.4" fill="#555"/>
<circle cx="108.5" cy="59.2" r="0.4" fill="#555"/>
<circle cx="99.4" cy="65.1" r="0.4" fill="#333"/>
<circle cx="106.6" cy="60.6" r="0.4" fill="#555"/>
<circle cx="88.5" cy="78.3" r="0.4" fill="#222"/>
<circle cx="107.1" cy="60.4" r="0.4" fill="#222"/>
<circle cx="91.4" cy="67.0" r="0.4" fill="#333"/>
<circle cx="93.6" cy="65.6" r="0.4" fill="#333"/>
<circle cx="97.6" cy="62.6" r="0.4" fill="#777"/>
<circle cx="111.2" cy="63.6" r="0.4" fill="#555"/>
<circle cx="110.7" cy="59.4" r="0.4" fill="#222"/>
<circle cx="117.0" cy="61.5" r="0.4" fill="#555"/>
<circle cx="103.7" cy="60.8" r="0.4" fill="#777"/>
<circle cx="100.1" cy="68.7" r="0.4" fill="#222"/>
<circle cx="100.3" cy="70.2" r="0.4" fill="#777"/>
<circle cx="104.7" cy="64.4" r="0.4" fill="#333"/>
<circle cx="92.9" cy="75.3" r="0.4" fill="#777"/>
<circle cx="109.3" cy="60.0" r="0.4" fill="#333"/>
<circle cx="112.1" cy="60.2" r="0.4" fill="#777"/>
<circle cx="97.5" cy="59.9" r="0.4" fill="#555"/>
<circle cx="106.5" cy="55.8" r="0.4" fill="#222"/>
<circle cx="108.9" cy="57.7" r="0.4" fill="#777"/>
<circle cx="118.1" cy="61.2" r="0.4" fill="#222"/>
<circle cx="107.6" cy="54.1" r="0.4" fill="#777"/>
<circle cx="98.6" cy="70.6" r="0.4" fill="#555"/>
<circle cx="102.6" cy="59.4" r="0.4" fill="#555"/>
<circle cx="114.2" cy="61.4" r="0.4" fill="#222"/>
<circle cx="97.8" cy="64.1" r="0.4" fill="#777"/>
<circle cx="106.4" cy="63.0" r="0.4" fill="#555"/>
<circle cx="111.3" cy="62.8" r="0.4" fill="#333"/>
<circle cx="103.4" cy="59.8" r="0.4" fill="#777"/>
<circle cx="113.9" cy="58.5" r="0.4" fill="#777"/>
<circle cx="94.9" cy="69.5" r="0.4" fill="#555"/>
<circle cx="100.1" cy="63.4" r="0.4" fill="#555"/>
<circle cx="98.9" cy="72.8" r="0.4" fill="#333"/>
<circle cx="99.5" cy="62.4" r="0.4" fill="#222"/>
<circle cx="109.7" cy="57.2" r="0.4" fill="#222"/>
<circle cx="84.5" cy="67.1" r="0.4" fill="#555"/>
<circle cx="93.7" cy="71.5" r="0.4" fill="#555"/>
<circle cx="108.5" cy="63.4" r="0.4" fill="#555"/>
<circle cx="89.5" cy="76.8" r="0.4" fill="#333"/>
<circle cx="111.6" cy="60.9" r="0.4" fill="#777"/>
<circle cx="106.9" cy="60.8" r="0.4" fill="#555"/>
<circle cx="109.2" cy="61.1" r="0.4" fill="#555"/>
<circle cx="113.6" cy="60.5" r="0.4" fill="#777"/>
<circle cx="90.8" cy="79.4" r="0.4" fill="#333"/>
<circle cx="111.9" cy="55.8" r="0.4" fill="#777"/>
<circle cx="98.0" cy="73.8" r="0.4" fill="#777"/>
<circle cx="90.5" cy="73.0" r="0.4" fill="#222"/>
<circle cx="103.2" cy="55.9" r="0.4" fill="#777"/>
<circle cx="107.6" cy="66.9" r="0.4" fill="#555"/>
<circle cx="103.0" cy="57.6" r="0.4" fill="#333"/>
<circle cx="95.5" cy="66.8" r="0.4" fill="#333"/>
<circle cx="113.5" cy="56.5" r="0.4" fill="#222"/>
<circle cx="98.3" cy="66.5" r="0.4" fill="#333"/>
<circle cx="106.2" cy="68.6" r="0.4" fill="#555"/>
<circle cx="107.4" cy="57.2" r="0.4" fill="#222"/>
<circle cx="97.9" cy="67.8" r="0.4" fill="#555"/>
<circle cx="98.3" cy="70.4" r="0.4" fill="#777"/>
<circle cx="93.3" cy="69.4" r="0.4" fill="#777"/>
<circle cx="115.1" cy="60.2" r="0.4" fill="#333"/>
<circle cx="101.9" cy="65.2" r="0.4" fill="#555"/>
<circle cx="88.5" cy="71.9" r="0.4" fill="#333"/>
<circle cx="110.8" cy="59.6" r="0.4" fill="#222"/>
<circle cx="96.8" cy="72.0" r="0.4" fill="#333"/>
<circle cx="93.9" cy="73.0" r="0.4" fill="#555"/>
<circle cx="102.5" cy="59.4" r="0.4" fill="#555"/>
<circle cx="96.5" cy="62.5" r="0.4" fill="#222"/>
<circle cx="113.7" cy="64.6" r="0.4" fill="#333"/>
<circle cx="104.4" cy="62.7" r="0.4" fill="#555"/>
<circle cx="115.6" cy="58.2" r="0.4" fill="#333"/>
<circle cx="94.6" cy="68.0" r="0.4" fill="#777"/>
<circle cx="98.2" cy="65.5" r="0.4" fill="#777"/>
<circle cx="107.4" cy="60.6" r="0.4" fill="#555"/>
<circle cx="100.0" cy="61.7" r="0.4" fill="#333"/>
<circle cx="85.7" cy="72.3" r="0.4" fill="#222"/>
<circle cx="109.3" cy="61.5" r="0.4" fill="#222"/>
<circle cx="96.4" cy="67.9" r="0.4" fill="#555"/>
<circle cx="96.2" cy="68.0" r="0.4" fill="#222"/>
<circle cx="95.8" cy="70.1" r="0.4" fill="#555"/>
<circle cx="105.5" cy="64.1" r="0.4" fill="#222"/>
<circle cx="96.6" cy="64.5" r="0.4" fill="#222"/>
<circle cx="85.3" cy="66.5" r="0.4" fill="#555"/>
<circle cx="104.3" cy="61.4" r="0.4" fill="#555"/>
<circle cx="104.5" cy="57.8" r="0.4" fill="#333"/>
<circle cx="85.6" cy="72.2" r="0.4" fill="#333"/>
<circle cx="119.5" cy="61.3" r="0.4" fill="#777"/>
<circle cx="100.3" cy="76.9" r="0.4" fill="#777"/>
<circle cx="112.6" cy="64.7" r="0.4" fill="#777"/>
<circle cx="97.9" cy="64.6" r="0.4" fill="#777"/>
<circle cx="114.6" cy="61.7" r="0.4" fill="#777"/>
<circle cx="93.0" cy="71.9" r="0.4" fill="#777"/>
<circle cx="90.5" cy="63.2" r="0.4" fill="#555"/>
<circle cx="96.7" cy="73.1" r="0.4" fill="#555"/>
<circle cx="87.6" cy="76.7" r="0.4" fill="#555"/>
<circle cx="112.2" cy="61.9" r="0.4" fill="#333"/>
<circle cx="106.5" cy="61.7" r="0.4" fill="#555"/>
<circle cx="107.5" cy="62.3" r="0.4" fill="#333"/>
<circle cx="102.0" cy="59.0" r="0.4" fill="#777"/>
<circle cx="91.1" cy="72.7" r="0.4" fill="#222"/>
<circle cx="102.7" cy="63.5" r="0.4" fill="#333"/>
<circle cx="111.0" cy="63.3" r="0.4" fill="#222"/>
<circle cx="88.4" cy="70.3" r="0.4" fill="#222"/>
<circle cx="88.8" cy="72.9" r="0.4" fill="#555"/>
<circle cx="97.2" cy="68.9" r="0.4" fill="#333"/>
<circle cx="92.5" cy="69.6" r="0.4" fill="#555"/>
<circle cx="86.2" cy="72.1" r="0.4" fill="#555"/>
<circle cx="108.1" cy="60.6" r="0.4" fill="#777"/>
<circle cx="103.4" cy="59.0" r="0.4" fill="#777"/>
<circle cx="105.5" cy="56.4" r="0.4" fill="#333"/>
<circle cx="93.0" cy="69.9" r="0.4" fill="#555"/>
<circle cx="98.9" cy="62.2" r="0.4" fill="#222"/>
<circle cx="110.3" cy="60.4" r="0.4" fill="#333"/>
<circle cx="105.4" cy="56.4" r="0.4" fill="#333"/>
<circle cx="86.6" cy="66.0" r="0.4" fill="#222"/>
<circle cx="102.2" cy="75.0" r="0.4" fill="#222"/>
<circle cx="93.7" cy="69.7" r="0.4" fill="#555"/>
<circle cx="116.8" cy="58.3" r="0.4" fill="#333"/>
<circle cx="103.8" cy="69.6" r="0.4" fill="#222"/>
<circle cx="92.5" cy="69.9" r="0.4" fill="#333"/>
<circle cx="87.4" cy="62.7" r="0.4" fill="#555"/>
<circle cx="108.8" cy="54.3" r="0.4" fill="#222"/>
<circle cx="94.4" cy="70.4" r="0.4" fill="#333"/>
<circle cx="86.1" cy="77.9" r="0.4" fill="#555"/>
<circle cx="98.2" cy="68.4" r="0.4" fill="#333"/>
<circle cx="86.6" cy="72.8" r="0.4" fill="#777"/>
<circle cx="98.5" cy="68.3" r="0.4" fill="#333"/>
<circle cx="109.7" cy="62.0" r="0.4" fill="#333"/>
<circle cx="109.7" cy="58.8" r="0.4" fill="#555"/>
<circle cx="103.5" cy="61.7" r="0.4" fill="#777"/>
<circle cx="114.6" cy="56.1" r="0.4" fill="#777"/>
<circle cx="99.2" cy="66.8" r="0.4" fill="#555"/>
<circle cx="110.2" cy="64.0" r="0.4" fill="#555"/>
<circle cx="90.5" cy="72.5" r="0.4" fill="#222"/>
<circle cx="108.8" cy="57.7" r="0.4" fill="#555"/>
<circle cx="107.9" cy="55.2" r="0.4" fill="#333"/>
<circle cx="104.5" cy="57.6" r="0.4" fill="#555"/>
<circle cx="113.8" cy="57.8" r="0.4" fill="#777"/>
<circle cx="105.7" cy="60.4" r="0.4" fill="#555"/>
<circle cx="107.5" cy="62.0" r="0.4" fill="#333"/>
<circle cx="108.6" cy="62.9" r="0.4" fill="#222"/>
<circle cx="90.0" cy="75.5" r="0.4" fill="#222"/>
<circle cx="90.1" cy="64.9" r="0.4" fill="#555"/>
<circle cx="87.2" cy="76.1" r="0.4" fill="#777"/>
<circle cx="99.6" cy="68.7" r="0.4" fill="#555"/>
<circle cx="101.0" cy="68.8" r="0.4" fill="#777"/>
<circle cx="98.2" cy="63.7" r="0.4" fill="#222"/>
<circle cx="105.8" cy="69.2" r="0.4" fill="#777"/>
<circle cx="112.5" cy="60.0" r="0.4" fill="#777"/>
<circle cx="104.7" cy="61.3" r="0.4" fill="#777"/>
<circle cx="102.4" cy="69.9" r="0.4" fill="#222"/>
<circle cx="85.7" cy="68.4" r="0.4" fill="#777"/>
<circle cx="108.5" cy="61.1" r="0.4" fill="#777"/>
<circle cx="92.8" cy="65.6" r="0.4" fill="#777"/>
<circle cx="99.9" cy="63.0" r="0.4" fill="#555"/>
<circle cx="110.1" cy="65.1" r="0.4" fill="#222"/>
<circle cx="93.9" cy="75.7" r="0.4" fill="#333"/>
<circle cx="102.1" cy="65.8" r="0.4" fill="#555"/>
<circle cx="89.4" cy="79.4" r="0.4" fill="#777"/>
<circle cx="98.8" cy="66.6" r="0.4" fill="#777"/>
<circle cx="104.4" cy="57.1" r="0.4" fill="#222"/>
<circle cx="107.0" cy="64.0" r="0.4" fill="#222"/>
<circle cx="108.8" cy="56.9" r="0.4" fill="#222"/>
<circle cx="90.7" cy="71.7" r="0.4" fill="#222"/>
<circle cx="103.1" cy="65.0" r="0.4" fill="#555"/>
<circle cx="112.0" cy="61.9" r="0.4" fill="#555"/>
<circle cx="108.0" cy="56.1" r="0.4" fill="#555"/>
<circle cx="101.6" cy="64.1" r="0.4" fill="#777"/>
<circle cx="87.9" cy="78.1" r="0.4" fill="#333"/>
<circle cx="109.7" cy="59.1" r="0.4" fill="#555"/>
<circle cx="97.7" cy="68.0" r="0.4" fill="#777"/>
<circle cx="112.0" cy="65.5" r="0.4" fill="#555"/>
<circle cx="109.3" cy="62.8" r="0.4" fill="#333"/>
<circle cx="114.6" cy="57.8" r="0.4" fill="#222"/>
<circle cx="89.6" cy="73.3" r="0.4" fill="#333"/>
<circle cx="104.4" cy="66.0" r="0.4" fill="#777"/>
<circle cx="113.2" cy="60.2" r="0.4" fill="#222"/>
<circle cx="91.5" cy="77.3" r="0.4" fill="#333"/>
<circle cx="92.4" cy="67.7" r="0.4" fill="#777"/>
<circle cx="88.9" cy="73.6" r="0.4" fill="#555"/>
<circle cx="100.0" cy="68.3" r="0.4" fill="#222"/>
<circle cx="100.5" cy="72.1" r="0.4" fill="#777"/>
<circle cx="108.3" cy="65.6" r="0.4" fill="#333"/>
<circle cx="109.1" cy="66.0" r="0.4" fill="#555"/>
<circle cx="106.2" cy="59.8" r="0.4" fill="#222"/>
<circle cx="112.6" cy="58.6" r="0.4" fill="#777"/>
<circle cx="94.0" cy="62.1" r="0.4" fill="#333"/>
<circle cx="93.3" cy="63.5" r="0.4" fill="#555"/>
<circle cx="89.8" cy="75.8" r="0.4" fill="#333"/>
<circle cx="92.2" cy="72.4" r="0.4" fill="#555"/>
<circle cx="88.3" cy="72.8" r="0.4" fill="#333"/>
<circle cx="99.8" cy="65.6" r="0.4" fill="#777"/>
<circle cx="106.2" cy="62.0" r="0.4" fill="#222"/>
<circle cx="102.0" cy="68.5" r="0.4" fill="#555"/>
<circle cx="98.7" cy="62.9" r="0.4" fill="#333"/>
<circle cx="109.1" cy="59.4" r="0.4" fill="#777"/>
<circle cx="94.2" cy="70.7" r="0.4" fill="#777"/>
<circle cx="109.5" cy="57.3" r="0.4" fill="#333"/>
<circle cx="100.0" cy="67.3" r="0.4" fill="#333"/>
<circle cx="104.0" cy="57.8" r="0.4" fill="#222"/>
<circle cx="92.5" cy="67.2" r="0.4" fill="#222"/>
<circle cx="88.6" cy="76.2" r="0.4" fill="#222"/>
<circle cx="92.4" cy="66.0" r="0.4" fill="#333"/>
<circle cx="108.7" cy="64.2" r="0.4" fill="#222"/>
<circle cx="106.3" cy="62.0" r="0.4" fill="#333"/>
<circle cx="102.9" cy="58.7" r="0.4" fill="#777"/>
<circle cx="107.1" cy="64.7" r="0.4" fill="#222"/>
<circle cx="98.2" cy="71.8" r="0.4" fill="#222"/>
<circle cx="103.2" cy="73.3" r="0.4" fill="#555"/>
<circle cx="105.8" cy="64.3" r="0.4" fill="#222"/>
<circle cx="86.2" cy="66.2" r="0.4" fill="#222"/>
<circle cx="102.2" cy="64.4" r="0.4" fill="#555"/>
<circle cx="106.8" cy="56.7" r="0.4" fill="#222"/>
<circle cx="107.6" cy="53.3" r="0.4" fill="#555"/>
<circle cx="99.6" cy="62.0" r="0.4" fill="#222"/>
<circle cx="103.5" cy="61.9" r="0.4" fill="#777"/>
<circle cx="107.7" cy="62.0" r="0.4" fill="#222"/>
<circle cx="107.0" cy="57.3" r="0.4" fill="#555"/>
<circle cx="88.8" cy="75.1" r="0.4" fill="#777"/>
<circle cx="109.4" cy="61.5" r="0.4" fill="#333"/>
<circle cx="84.3" cy="69.7" r="0.4" fill="#777"/>
<circle cx="108.9" cy="57.2" r="0.4" fill="#777"/>
<circle cx="108.8" cy="58.4" r="0.4" fill="#555"/>
<circle cx="114.6" cy="59.5" r="0.4" fill="#222"/>
<circle cx="115.6" cy="61.9" r="0.4" fill="#777"/>
<circle cx="107.7" cy="54.7" r="0.4" fill="#222"/>
<circle cx="91.2" cy="66.4" r="0.4" fill="#222"/>
<circle cx="97.8" cy="64.4" r="0.4" fill="#222"/>
<circle cx="91.1" cy="65.3" r="0.4" fill="#555"/>
<circle cx="84.8" cy="70.4" r="0.4" fill="#777"/>
<circle cx="106.1" cy="64.3" r="0.38" fill="#777"/>
<circle cx="93.0" cy="76.2" r="0.38" fill="#777"/>
<circle cx="84.0" cy="62.3" r="0.38" fill="#777"/>
<circle cx="109.6" cy="66.9" r="0.38" fill="#777"/>
<circle cx="106.7" cy="54.9" r="0.38" fill="#777"/>
<circle cx="119.4" cy="57.1" r="0.38" fill="#777"/>
<circle cx="99.7" cy="62.2" r="0.38" fill="#777"/>
<circle cx="100.2" cy="58.4" r="0.38" fill="#777"/>
<circle cx="116.2" cy="62.7" r="0.38" fill="#777"/>
<circle cx="110.5" cy="50.9" r="0.38" fill="#777"/>
<circle cx="106.4" cy="60.6" r="0.38" fill="#777"/>
<circle cx="104.4" cy="63.7" r="0.38" fill="#777"/>
<circle cx="104.8" cy="61.5" r="0.38" fill="#777"/>
<circle cx="101.1" cy="63.2" r="0.38" fill="#777"/>
<circle cx="102.7" cy="62.6" r="0.38" fill="#777"/>
<circle cx="96.4" cy="65.3" r="0.38" fill="#777"/>
<circle cx="91.6" cy="77.0" r="0.38" fill="#777"/>
<circle cx="109.1" cy="73.2" r="0.38" fill="#777"/>
<circle cx="99.1" cy="52.9" r="0.38" fill="#777"/>
<circle cx="84.8" cy="56.5" r="0.38" fill="#777"/>
<circle cx="93.8" cy="59.4" r="0.38" fill="#777"/>
<circle cx="96.4" cy="66.6" r="0.38" fill="#777"/>
<circle cx="96.6" cy="63.2" r="0.38" fill="#777"/>
<circle cx="85.3" cy="65.7" r="0.38" fill="#777"/>
<circle cx="103.0" cy="63.4" r="0.38" fill="#777"/>
<circle cx="98.3" cy="60.1" r="0.38" fill="#777"/>
<circle cx="96.8" cy="68.5" r="0.38" fill="#777"/>
<circle cx="100.9" cy="63.8" r="0.38" fill="#777"/>
<circle cx="109.0" cy="54.6" r="0.38" fill="#777"/>
<circle cx="88.2" cy="60.7" r="0.38" fill="#777"/>
<circle cx="101.5" cy="68.7" r="0.38" fill="#777"/>
<circle cx="98.9" cy="57.5" r="0.38" fill="#777"/>
<circle cx="107.0" cy="55.2" r="0.38" fill="#777"/>
<circle cx="85.3" cy="54.1" r="0.38" fill="#777"/>
<circle cx="96.7" cy="59.0" r="0.38" fill="#777"/>
<circle cx="100.0" cy="62.3" r="0.38" fill="#777"/>
<circle cx="101.7" cy="56.0" r="0.38" fill="#777"/>
<circle cx="122.1" cy="58.8" r="0.38" fill="#777"/>
<circle cx="96.0" cy="62.8" r="0.38" fill="#777"/>
<circle cx="97.5" cy="65.8" r="0.38" fill="#777"/>
<circle cx="97.2" cy="64.2" r="0.38" fill="#777"/>
<circle cx="104.2" cy="73.8" r="0.38" fill="#777"/>
<circle cx="90.1" cy="57.9" r="0.38" fill="#777"/>
<circle cx="108.1" cy="58.3" r="0.38" fill="#777"/>
<circle cx="101.1" cy="60.3" r="0.38" fill="#777"/>
<circle cx="106.2" cy="61.0" r="0.38" fill="#777"/>
<circle cx="120.6" cy="62.3" r="0.38" fill="#777"/>
<circle cx="97.3" cy="51.7" r="0.38" fill="#777"/>
<circle cx="101.0" cy="55.2" r="0.38" fill="#777"/>
<circle cx="106.6" cy="66.0" r="0.38" fill="#777"/>
<circle cx="101.4" cy="69.5" r="0.38" fill="#777"/>
<circle cx="118.8" cy="62.5" r="0.38" fill="#777"/>
<circle cx="99.7" cy="70.8" r="0.38" fill="#777"/>
<circle cx="102.9" cy="64.1" r="0.38" fill="#777"/>
<circle cx="108.8" cy="56.5" r="0.38" fill="#777"/>
<circle cx="119.7" cy="59.5" r="0.38" fill="#777"/>
<circle cx="100.1" cy="59.2" r="0.38" fill="#777"/>
<circle cx="96.3" cy="62.0" r="0.38" fill="#777"/>
<circle cx="107.5" cy="61.2" r="0.38" fill="#777"/>
<circle cx="93.4" cy="72.1" r="0.38" fill="#777"/>
<circle cx="93.6" cy="61.8" r="0.38" fill="#777"/>
<circle cx="113.9" cy="61.1" r="0.38" fill="#777"/>
<circle cx="98.6" cy="63.1" r="0.38" fill="#777"/>
<circle cx="83.3" cy="61.2" r="0.38" fill="#777"/>
<circle cx="101.9" cy="64.7" r="0.38" fill="#777"/>
<circle cx="91.9" cy="67.5" r="0.38" fill="#777"/>
<circle cx="92.1" cy="55.6" r="0.38" fill="#777"/>
<circle cx="105.5" cy="66.1" r="0.38" fill="#777"/>
<circle cx="101.8" cy="66.5" r="0.38" fill="#777"/>
<circle cx="108.5" cy="65.7" r="0.38" fill="#777"/>
<circle cx="103.7" cy="75.3" r="0.38" fill="#777"/>
<circle cx="88.8" cy="78.2" r="0.38" fill="#777"/>
<circle cx="103.0" cy="56.9" r="0.38" fill="#777"/>
<circle cx="107.4" cy="69.5" r="0.38" fill="#777"/>
<circle cx="87.8" cy="63.4" r="0.38" fill="#777"/>
<circle cx="108.8" cy="68.0" r="0.38" fill="#777"/>
<circle cx="100.6" cy="54.4" r="0.38" fill="#777"/>
<circle cx="99.3" cy="77.8" r="0.38" fill="#777"/>
<circle cx="99.7" cy="61.6" r="0.38" fill="#777"/>
<circle cx="94.6" cy="63.3" r="0.38" fill="#777"/>
<circle cx="102.4" cy="54.9" r="0.38" fill="#777"/>
<circle cx="121.2" cy="70.8" r="0.38" fill="#777"/>
<circle cx="104.2" cy="52.9" r="0.38" fill="#777"/>
<circle cx="96.4" cy="60.9" r="0.38" fill="#777"/>
<circle cx="108.4" cy="61.3" r="0.38" fill="#777"/>
<circle cx="88.5" cy="60.8" r="0.38" fill="#777"/>
<circle cx="98.1" cy="62.2" r="0.38" fill="#777"/>
<circle cx="109.1" cy="56.9" r="0.38" fill="#777"/>
<circle cx="84.4" cy="70.6" r="0.38" fill="#777"/>
<circle cx="110.2" cy="53.4" r="0.38" fill="#777"/>
<circle cx="107.8" cy="58.4" r="0.38" fill="#777"/>
<circle cx="107.3" cy="66.0" r="0.38" fill="#777"/>
<circle cx="85.9" cy="54.7" r="0.38" fill="#777"/>
<circle cx="98.6" cy="52.2" r="0.38" fill="#777"/>
<circle cx="88.1" cy="55.9" r="0.38" fill="#777"/>
<circle cx="98.4" cy="61.4" r="0.38" fill="#777"/>
<circle cx="92.3" cy="60.4" r="0.38" fill="#777"/>
<circle cx="112.4" cy="66.2" r="0.38" fill="#777"/>
<circle cx="104.4" cy="57.2" r="0.38" fill="#777"/>
<circle cx="93.3" cy="53.4" r="0.38" fill="#777"/>
<circle cx="98.6" cy="59.3" r="0.38" fill="#777"/>
<circle cx="93.1" cy="57.7" r="0.38" fill="#777"/>
<circle cx="87.0" cy="67.2" r="0.38" fill="#777"/>
<circle cx="106.5" cy="70.7" r="0.38" fill="#777"/>
<circle cx="103.7" cy="60.9" r="0.38" fill="#777"/>
<circle cx="109.3" cy="53.2" r="0.38" fill="#777"/>
<circle cx="86.0" cy="68.8" r="0.38" fill="#777"/>
<circle cx="105.2" cy="64.0" r="0.38" fill="#777"/>
<circle cx="113.9" cy="61.9" r="0.38" fill="#777"/>
<circle cx="102.6" cy="65.2" r="0.38" fill="#777"/>
<circle cx="88.1" cy="64.9" r="0.38" fill="#777"/>
<circle cx="106.4" cy="61.7" r="0.38" fill="#777"/>
<circle cx="92.9" cy="56.3" r="0.38" fill="#777"/>
<circle cx="114.0" cy="71.0" r="0.38" fill="#777"/>
<circle cx="99.1" cy="56.5" r="0.38" fill="#777"/>
<circle cx="112.1" cy="69.9" r="0.38" fill="#777"/>
<circle cx="105.6" cy="56.9" r="0.38" fill="#777"/>
<circle cx="108.2" cy="68.8" r="0.38" fill="#777"/>
<circle cx="95.5" cy="56.2" r="0.38" fill="#777"/>
<circle cx="96.1" cy="63.7" r="0.38" fill="#777"/>
<circle cx="104.5" cy="65.8" r="0.38" fill="#777"/>
<circle cx="100.3" cy="58.4" r="0.38" fill="#777"/>
<circle cx="103.6" cy="69.4" r="0.38" fill="#777"/>
<circle cx="101.8" cy="67.0" r="0.38" fill="#777"/>
<circle cx="99.4" cy="56.9" r="0.38" fill="#777"/>
<circle cx="96.1" cy="60.9" r="0.38" fill="#777"/>
<circle cx="84.6" cy="60.8" r="0.38" fill="#777"/>
<circle cx="93.9" cy="63.5" r="0.38" fill="#777"/>
<circle cx="107.9" cy="63.1" r="0.38" fill="#777"/>
<circle cx="96.1" cy="63.8" r="0.38" fill="#777"/>
<circle cx="89.3" cy="65.7" r="0.38" fill="#777"/>
<circle cx="113.6" cy="66.1" r="0.38" fill="#777"/>
<circle cx="115.0" cy="59.0" r="0.38" fill="#777"/>
<circle cx="82.0" cy="66.1" r="0.38" fill="#777"/>
<circle cx="116.3" cy="58.4" r="0.38" fill="#777"/>
<circle cx="115.9" cy="57.9" r="0.38" fill="#777"/>
<circle cx="97.6" cy="65.4" r="0.38" fill="#777"/>
<circle cx="84.5" cy="62.9" r="0.38" fill="#777"/>
<circle cx="98.9" cy="68.6" r="0.38" fill="#777"/>
<circle cx="102.5" cy="63.0" r="0.38" fill="#777"/>
<circle cx="98.9" cy="75.6" r="0.38" fill="#777"/>
<circle cx="105.3" cy="63.5" r="0.38" fill="#777"/>
<circle cx="100.6" cy="64.0" r="0.38" fill="#777"/>
<circle cx="108.8" cy="63.9" r="0.38" fill="#777"/>
<circle cx="114.9" cy="62.4" r="0.38" fill="#777"/>
<circle cx="106.0" cy="63.7" r="0.38" fill="#777"/>
<circle cx="107.0" cy="64.6" r="0.38" fill="#777"/>
<circle cx="105.1" cy="64.2" r="0.38" fill="#777"/>
<circle cx="102.5" cy="66.8" r="0.38" fill="#777"/>
<circle cx="93.6" cy="57.0" r="0.38" fill="#777"/>
<circle cx="100.4" cy="63.1" r="0.38" fill="#777"/>
<circle cx="113.0" cy="51.7" r="0.38" fill="#777"/>
<circle cx="114.9" cy="58.5" r="0.38" fill="#777"/>
<circle cx="91.9" cy="64.6" r="0.38" fill="#777"/>
<circle cx="103.7" cy="69.1" r="0.38" fill="#777"/>
<circle cx="104.8" cy="72.3" r="0.38" fill="#777"/>
<circle cx="98.2" cy="51.8" r="0.38" fill="#777"/>
<circle cx="97.8" cy="60.7" r="0.38" fill="#777"/>
<circle cx="107.3" cy="68.7" r="0.38" fill="#777"/>
<circle cx="101.6" cy="57.2" r="0.38" fill="#777"/>
<circle cx="110.3" cy="71.7" r="0.38" fill="#777"/>
<circle cx="122.0" cy="63.0" r="0.38" fill="#777"/>
<circle cx="111.6" cy="66.9" r="0.38" fill="#777"/>
<circle cx="102.4" cy="59.6" r="0.38" fill="#777"/>
<circle cx="111.3" cy="67.9" r="0.38" fill="#777"/>
<circle cx="99.7" cy="61.0" r="0.38" fill="#777"/>
<circle cx="82.6" cy="64.5" r="0.38" fill="#777"/>
<circle cx="101.6" cy="55.1" r="0.38" fill="#777"/>
<circle cx="113.9" cy="62.5" r="0.38" fill="#777"/>
<circle cx="89.8" cy="60.3" r="0.38" fill="#777"/>
<circle cx="89.1" cy="56.7" r="0.38" fill="#777"/>
<circle cx="87.5" cy="63.0" r="0.38" fill="#777"/>
<circle cx="84.1" cy="57.5" r="0.38" fill="#777"/>
<circle cx="100.5" cy="60.6" r="0.38" fill="#777"/>
<circle cx="101.6" cy="56.9" r="0.38" fill="#777"/>
<circle cx="93.8" cy="64.3" r="0.38" fill="#777"/>
<circle cx="96.4" cy="68.6" r="0.38" fill="#777"/>
<circle cx="95.5" cy="62.9" r="0.38" fill="#777"/>
<circle cx="97.0" cy="69.4" r="0.38" fill="#777"/>
<circle cx="90.7" cy="67.6" r="0.38" fill="#777"/>
<circle cx="111.6" cy="65.8" r="0.38" fill="#777"/>
<circle cx="113.6" cy="55.6" r="0.38" fill="#777"/>
<circle cx="83.1" cy="57.5" r="0.38" fill="#777"/>
<circle cx="95.5" cy="65.0" r="0.38" fill="#777"/>
<circle cx="94.3" cy="58.6" r="0.38" fill="#777"/>
<circle cx="97.5" cy="73.9" r="0.38" fill="#777"/>
<circle cx="93.8" cy="61.7" r="0.38" fill="#777"/>
<circle cx="103.3" cy="73.1" r="0.38" fill="#777"/>
<circle cx="99.4" cy="56.3" r="0.38" fill="#777"/>
<circle cx="116.3" cy="51.5" r="0.38" fill="#777"/>
<circle cx="104.6" cy="66.2" r="0.38" fill="#777"/>
<circle cx="108.6" cy="73.4" r="0.38" fill="#777"/>
<circle cx="95.5" cy="53.6" r="0.38" fill="#777"/>
<circle cx="103.4" cy="68.8" r="0.38" fill="#777"/>
<circle cx="99.1" cy="60.3" r="0.38" fill="#777"/>
<circle cx="112.1" cy="55.1" r="0.38" fill="#777"/>
<circle cx="119.2" cy="51.5" r="0.38" fill="#777"/>
<circle cx="91.6" cy="61.4" r="0.38" fill="#777"/>
<circle cx="91.6" cy="67.6" r="0.38" fill="#777"/>
<circle cx="93.7" cy="58.6" r="0.38" fill="#777"/>
<circle cx="97.1" cy="70.1" r="0.38" fill="#777"/>
<circle cx="99.9" cy="60.8" r="0.38" fill="#777"/>
<circle cx="111.8" cy="56.1" r="0.38" fill="#777"/>
<circle cx="87.3" cy="61.9" r="0.38" fill="#777"/>
<circle cx="104.6" cy="55.3" r="0.38" fill="#777"/>
<circle cx="98.0" cy="64.7" r="0.38" fill="#777"/>
<circle cx="98.2" cy="64.1" r="0.38" fill="#777"/>
<circle cx="99.6" cy="72.0" r="0.38" fill="#777"/>
<circle cx="86.2" cy="74.0" r="0.38" fill="#777"/>
<circle cx="104.1" cy="54.0" r="0.38" fill="#777"/>
<circle cx="110.9" cy="73.1" r="0.38" fill="#777"/>
<circle cx="110.6" cy="59.9" r="0.38" fill="#777"/>
<circle cx="101.4" cy="52.2" r="0.38" fill="#777"/>
<circle cx="96.7" cy="58.8" r="0.38" fill="#777"/>
<circle cx="88.4" cy="65.3" r="0.38" fill="#777"/>
<circle cx="102.4" cy="72.8" r="0.38" fill="#777"/>
<circle cx="98.0" cy="64.7" r="0.38" fill="#777"/>
<circle cx="89.7" cy="70.9" r="0.38" fill="#777"/>
<circle cx="94.2" cy="57.3" r="0.38" fill="#777"/>
<circle cx="86.6" cy="67.2" r="0.38" fill="#777"/>
<circle cx="102.8" cy="59.3" r="0.38" fill="#777"/>
<circle cx="103.4" cy="68.8" r="0.38" fill="#777"/>
<circle cx="101.3" cy="66.3" r="0.38" fill="#777"/>
<circle cx="98.2" cy="65.7" r="0.38" fill="#777"/>
<circle cx="110.3" cy="63.7" r="0.38" fill="#777"/>
<circle cx="87.2" cy="65.7" r="0.38" fill="#777"/>
<circle cx="121.5" cy="55.0" r="0.38" fill="#777"/>
<circle cx="92.0" cy="62.8" r="0.38" fill="#777"/>
<circle cx="92.0" cy="56.9" r="0.38" fill="#777"/>
<circle cx="106.4" cy="50.9" r="0.38" fill="#777"/>
<circle cx="116.3" cy="61.7" r="0.38" fill="#777"/>
<circle cx="99.8" cy="51.5" r="0.38" fill="#777"/>
<path d="M88,77.8 C91,74 95,70.5 100,67.5 C104,65 108,63.2 110.5,63.5 C112.5,64.5 111,68.5 108,72 C104,75.5 97,77.8 88,78.2 Z" fill="#151515" opacity="0.9" filter="url(#soft)"/>
<path d="M100,67 C104,63.5 109,60 113,58.5" fill="none" stroke="#333" stroke-width="3" opacity="0.55" filter="url(#soft2)"/>
<ellipse cx="101.5" cy="71.5" rx="5.2" ry="3" fill="#dcdcdc" stroke="#333" stroke-width="0.5" transform="rotate(-18 101.5 71.5)"/>
<path d="M74,56 C74,52 80,52 80,56 L80,76 C80,79 74,79 74,76 Z" fill="#2a2a2a" stroke="#111" stroke-width="1.2" filter="url(#soft)"/>
<line x1="77" y1="57" x2="77" y2="76" stroke="#999" stroke-width="0.8"/>
<path d="M81,58 L89,49.5 C90,48.9 90.5,48.8 91.5,48.8 L108,48.8 C113,49 117,51 120,54 C122.5,56 123.7,58 123.7,61 L123.7,74 C123.7,78 121.5,80 118,80 L85,80 C82.5,80 81,78.5 81,76 Z" fill="none" stroke="#444" stroke-width="0.8"/>
<rect x="55.00" y="7.50" width="78.00" height="74.50" stroke="#666" stroke-width="0.9" fill="none" />
<line x1="53.50" y1="19.92" x2="55.00" y2="19.92" stroke="#666" stroke-width="0.6" />
<line x1="53.50" y1="32.33" x2="55.00" y2="32.33" stroke="#666" stroke-width="0.6" />
<line x1="53.50" y1="44.75" x2="55.00" y2="44.75" stroke="#666" stroke-width="0.6" />
<line x1="53.50" y1="57.17" x2="55.00" y2="57.17" stroke="#666" stroke-width="0.6" />
<line x1="53.50" y1="69.58" x2="55.00" y2="69.58" stroke="#666" stroke-width="0.6" />
<line x1="68.00" y1="82.00" x2="68.00" y2="83.50" stroke="#666" stroke-width="0.6" />
<line x1="81.00" y1="82.00" x2="81.00" y2="83.50" stroke="#666" stroke-width="0.6" />
<line x1="94.00" y1="82.00" x2="94.00" y2="83.50" stroke="#666" stroke-width="0.6" />
<line x1="107.00" y1="82.00" x2="107.00" y2="83.50" stroke="#666" stroke-width="0.6" />
<line x1="120.00" y1="82.00" x2="120.00" y2="83.50" stroke="#666" stroke-width="0.6" />
<text transform="translate(47.50,58.50) rotate(-90)" font-size="11.5" font-weight="bold" text-anchor="middle" fill="#000" >SSC</text>
<text x="82.50" y="95.50" font-size="11.5" font-weight="bold" text-anchor="middle" fill="#000" >CD19</text>
<text x="87.70" y="45.70" font-size="9.1"  text-anchor="start" fill="#222" >CD19<tspan baseline-shift="38%" font-size="70%">+</tspan></text>
<circle cx="168.1" cy="29.8" r="0.38" fill="#555"/>
<circle cx="179.3" cy="28.9" r="0.38" fill="#555"/>
<circle cx="168.5" cy="22.0" r="0.38" fill="#555"/>
<circle cx="180.8" cy="31.6" r="0.38" fill="#555"/>
<circle cx="171.4" cy="26.1" r="0.38" fill="#555"/>
<circle cx="158.8" cy="33.6" r="0.38" fill="#555"/>
<circle cx="169.5" cy="32.7" r="0.38" fill="#555"/>
<circle cx="186.3" cy="30.5" r="0.38" fill="#555"/>
<circle cx="175.1" cy="39.7" r="0.38" fill="#555"/>
<circle cx="174.7" cy="34.1" r="0.38" fill="#555"/>
<circle cx="168.1" cy="26.9" r="0.38" fill="#555"/>
<circle cx="164.9" cy="40.1" r="0.38" fill="#555"/>
<circle cx="185.0" cy="30.1" r="0.38" fill="#555"/>
<circle cx="175.5" cy="30.8" r="0.38" fill="#555"/>
<circle cx="176.0" cy="38.7" r="0.38" fill="#555"/>
<circle cx="186.3" cy="27.0" r="0.38" fill="#555"/>
<circle cx="181.4" cy="38.3" r="0.38" fill="#555"/>
<circle cx="177.3" cy="39.6" r="0.38" fill="#555"/>
<circle cx="185.5" cy="34.3" r="0.38" fill="#555"/>
<circle cx="174.7" cy="40.6" r="0.38" fill="#555"/>
<circle cx="178.3" cy="37.1" r="0.38" fill="#555"/>
<circle cx="176.9" cy="25.0" r="0.38" fill="#555"/>
<circle cx="179.8" cy="36.8" r="0.38" fill="#555"/>
<circle cx="181.5" cy="38.2" r="0.38" fill="#555"/>
<circle cx="182.3" cy="36.0" r="0.38" fill="#555"/>
<circle cx="178.3" cy="38.4" r="0.38" fill="#555"/>
<circle cx="172.6" cy="27.6" r="0.38" fill="#555"/>
<circle cx="170.5" cy="35.1" r="0.38" fill="#555"/>
<circle cx="165.1" cy="31.0" r="0.38" fill="#555"/>
<circle cx="176.0" cy="36.5" r="0.38" fill="#555"/>
<circle cx="170.2" cy="34.8" r="0.38" fill="#555"/>
<circle cx="177.6" cy="30.7" r="0.38" fill="#555"/>
<circle cx="177.8" cy="33.1" r="0.38" fill="#555"/>
<circle cx="169.7" cy="32.0" r="0.38" fill="#555"/>
<circle cx="171.1" cy="47.5" r="0.38" fill="#555"/>
<circle cx="175.8" cy="30.0" r="0.38" fill="#555"/>
<circle cx="167.4" cy="34.3" r="0.38" fill="#555"/>
<circle cx="179.9" cy="34.6" r="0.38" fill="#555"/>
<circle cx="167.9" cy="27.2" r="0.38" fill="#555"/>
<circle cx="169.9" cy="35.7" r="0.38" fill="#555"/>
<circle cx="171.6" cy="33.8" r="0.38" fill="#555"/>
<circle cx="175.6" cy="34.2" r="0.38" fill="#555"/>
<circle cx="166.9" cy="41.6" r="0.38" fill="#555"/>
<circle cx="175.5" cy="36.9" r="0.38" fill="#555"/>
<circle cx="181.4" cy="44.1" r="0.38" fill="#555"/>
<circle cx="172.9" cy="30.0" r="0.38" fill="#555"/>
<circle cx="168.6" cy="25.7" r="0.38" fill="#555"/>
<circle cx="165.3" cy="39.1" r="0.38" fill="#555"/>
<circle cx="177.0" cy="24.7" r="0.38" fill="#555"/>
<circle cx="163.4" cy="33.0" r="0.38" fill="#555"/>
<circle cx="169.1" cy="26.1" r="0.38" fill="#555"/>
<circle cx="177.4" cy="37.0" r="0.38" fill="#555"/>
<circle cx="175.8" cy="43.2" r="0.38" fill="#555"/>
<circle cx="172.8" cy="31.9" r="0.38" fill="#555"/>
<circle cx="183.4" cy="49.9" r="0.38" fill="#555"/>
<circle cx="178.3" cy="24.9" r="0.38" fill="#555"/>
<circle cx="187.6" cy="33.7" r="0.38" fill="#555"/>
<circle cx="163.6" cy="42.1" r="0.38" fill="#555"/>
<circle cx="178.5" cy="30.5" r="0.38" fill="#555"/>
<circle cx="178.4" cy="34.4" r="0.38" fill="#555"/>
<circle cx="179.4" cy="21.8" r="0.38" fill="#555"/>
<circle cx="177.5" cy="37.4" r="0.38" fill="#555"/>
<circle cx="168.6" cy="43.3" r="0.38" fill="#555"/>
<circle cx="176.2" cy="20.0" r="0.38" fill="#555"/>
<circle cx="188.5" cy="31.7" r="0.38" fill="#555"/>
<circle cx="177.7" cy="32.9" r="0.38" fill="#555"/>
<circle cx="172.4" cy="29.8" r="0.38" fill="#555"/>
<circle cx="181.4" cy="38.5" r="0.38" fill="#555"/>
<circle cx="172.6" cy="40.9" r="0.38" fill="#555"/>
<circle cx="172.5" cy="35.5" r="0.38" fill="#555"/>
<circle cx="181.1" cy="36.3" r="0.38" fill="#555"/>
<circle cx="179.2" cy="36.3" r="0.38" fill="#555"/>
<circle cx="173.8" cy="35.9" r="0.38" fill="#555"/>
<circle cx="179.7" cy="25.6" r="0.38" fill="#555"/>
<circle cx="167.3" cy="36.5" r="0.38" fill="#555"/>
<circle cx="177.1" cy="35.5" r="0.38" fill="#555"/>
<circle cx="182.6" cy="37.0" r="0.38" fill="#555"/>
<circle cx="173.6" cy="38.1" r="0.38" fill="#555"/>
<circle cx="172.4" cy="46.4" r="0.38" fill="#555"/>
<circle cx="184.6" cy="34.4" r="0.38" fill="#555"/>
<circle cx="172.8" cy="37.8" r="0.38" fill="#555"/>
<circle cx="176.2" cy="29.1" r="0.38" fill="#555"/>
<circle cx="181.0" cy="35.1" r="0.38" fill="#555"/>
<circle cx="183.4" cy="33.1" r="0.38" fill="#555"/>
<circle cx="166.3" cy="20.2" r="0.38" fill="#555"/>
<circle cx="170.8" cy="45.1" r="0.38" fill="#555"/>
<circle cx="182.0" cy="35.3" r="0.38" fill="#555"/>
<circle cx="179.3" cy="25.9" r="0.38" fill="#555"/>
<circle cx="178.7" cy="27.3" r="0.38" fill="#555"/>
<circle cx="179.0" cy="32.0" r="0.38" fill="#555"/>
<circle cx="173.8" cy="30.8" r="0.38" fill="#555"/>
<circle cx="181.5" cy="47.8" r="0.38" fill="#555"/>
<circle cx="165.4" cy="39.5" r="0.38" fill="#555"/>
<circle cx="174.6" cy="45.1" r="0.38" fill="#555"/>
<circle cx="185.2" cy="28.6" r="0.38" fill="#555"/>
<circle cx="178.0" cy="44.3" r="0.38" fill="#555"/>
<circle cx="189.0" cy="30.2" r="0.38" fill="#555"/>
<circle cx="170.4" cy="36.4" r="0.38" fill="#555"/>
<circle cx="186.7" cy="41.0" r="0.38" fill="#555"/>
<circle cx="179.7" cy="38.1" r="0.38" fill="#555"/>
<circle cx="181.1" cy="34.9" r="0.38" fill="#555"/>
<circle cx="171.1" cy="39.3" r="0.38" fill="#555"/>
<circle cx="180.3" cy="40.6" r="0.38" fill="#555"/>
<circle cx="177.2" cy="30.8" r="0.38" fill="#555"/>
<circle cx="182.6" cy="40.4" r="0.38" fill="#555"/>
<circle cx="174.2" cy="32.7" r="0.38" fill="#555"/>
<circle cx="183.9" cy="28.9" r="0.38" fill="#555"/>
<circle cx="170.1" cy="40.3" r="0.38" fill="#555"/>
<circle cx="168.7" cy="34.3" r="0.38" fill="#555"/>
<circle cx="173.8" cy="42.1" r="0.38" fill="#555"/>
<circle cx="171.5" cy="32.5" r="0.38" fill="#555"/>
<circle cx="162.0" cy="38.0" r="0.38" fill="#555"/>
<circle cx="177.5" cy="39.3" r="0.38" fill="#555"/>
<circle cx="172.3" cy="47.0" r="0.38" fill="#555"/>
<circle cx="172.7" cy="46.4" r="0.38" fill="#555"/>
<circle cx="178.5" cy="29.7" r="0.38" fill="#555"/>
<circle cx="164.6" cy="38.0" r="0.38" fill="#555"/>
<circle cx="177.2" cy="43.5" r="0.38" fill="#555"/>
<circle cx="188.2" cy="22.2" r="0.38" fill="#555"/>
<circle cx="174.9" cy="36.8" r="0.38" fill="#555"/>
<circle cx="183.0" cy="35.2" r="0.38" fill="#555"/>
<circle cx="171.6" cy="32.3" r="0.38" fill="#555"/>
<circle cx="181.5" cy="24.9" r="0.38" fill="#555"/>
<circle cx="167.5" cy="25.0" r="0.38" fill="#555"/>
<circle cx="172.2" cy="42.9" r="0.38" fill="#555"/>
<circle cx="173.6" cy="38.7" r="0.38" fill="#555"/>
<circle cx="186.3" cy="42.1" r="0.38" fill="#555"/>
<circle cx="178.4" cy="33.0" r="0.38" fill="#555"/>
<circle cx="176.5" cy="31.5" r="0.38" fill="#555"/>
<circle cx="171.7" cy="37.0" r="0.38" fill="#555"/>
<circle cx="183.1" cy="29.7" r="0.38" fill="#555"/>
<circle cx="170.4" cy="33.6" r="0.38" fill="#555"/>
<circle cx="176.8" cy="39.2" r="0.38" fill="#555"/>
<circle cx="178.1" cy="34.5" r="0.38" fill="#555"/>
<circle cx="166.1" cy="30.4" r="0.38" fill="#555"/>
<circle cx="174.4" cy="29.2" r="0.38" fill="#555"/>
<circle cx="179.8" cy="33.8" r="0.38" fill="#555"/>
<circle cx="171.3" cy="36.6" r="0.38" fill="#555"/>
<circle cx="184.7" cy="50.1" r="0.38" fill="#555"/>
<circle cx="176.2" cy="30.4" r="0.38" fill="#555"/>
<circle cx="182.6" cy="45.4" r="0.38" fill="#555"/>
<circle cx="172.9" cy="38.3" r="0.38" fill="#555"/>
<circle cx="175.2" cy="39.9" r="0.38" fill="#555"/>
<circle cx="171.9" cy="30.8" r="0.38" fill="#555"/>
<circle cx="174.9" cy="32.6" r="0.38" fill="#555"/>
<circle cx="168.0" cy="32.0" r="0.38" fill="#555"/>
<circle cx="171.0" cy="46.7" r="0.38" fill="#555"/>
<circle cx="186.2" cy="29.5" r="0.38" fill="#555"/>
<circle cx="173.4" cy="36.2" r="0.38" fill="#555"/>
<circle cx="172.9" cy="29.9" r="0.38" fill="#555"/>
<circle cx="181.4" cy="41.4" r="0.38" fill="#555"/>
<circle cx="180.1" cy="43.5" r="0.38" fill="#555"/>
<circle cx="177.1" cy="32.9" r="0.38" fill="#555"/>
<circle cx="173.9" cy="30.6" r="0.38" fill="#555"/>
<circle cx="171.2" cy="43.6" r="0.38" fill="#555"/>
<circle cx="182.9" cy="32.7" r="0.38" fill="#555"/>
<circle cx="177.2" cy="27.5" r="0.38" fill="#555"/>
<circle cx="181.0" cy="32.4" r="0.38" fill="#555"/>
<circle cx="175.5" cy="31.5" r="0.38" fill="#555"/>
<circle cx="166.3" cy="29.8" r="0.38" fill="#555"/>
<circle cx="187.2" cy="27.8" r="0.38" fill="#555"/>
<circle cx="170.3" cy="31.8" r="0.38" fill="#555"/>
<circle cx="170.1" cy="26.6" r="0.38" fill="#555"/>
<circle cx="168.5" cy="26.9" r="0.38" fill="#555"/>
<circle cx="166.6" cy="24.2" r="0.38" fill="#555"/>
<circle cx="176.6" cy="27.2" r="0.38" fill="#555"/>
<circle cx="179.2" cy="27.7" r="0.38" fill="#555"/>
<circle cx="183.8" cy="21.3" r="0.38" fill="#555"/>
<circle cx="174.1" cy="26.3" r="0.38" fill="#555"/>
<circle cx="174.6" cy="43.7" r="0.38" fill="#555"/>
<circle cx="182.2" cy="29.9" r="0.38" fill="#555"/>
<circle cx="179.9" cy="45.4" r="0.38" fill="#555"/>
<circle cx="181.0" cy="31.4" r="0.38" fill="#555"/>
<circle cx="179.2" cy="36.6" r="0.38" fill="#555"/>
<circle cx="164.5" cy="29.8" r="0.38" fill="#555"/>
<circle cx="177.2" cy="46.4" r="0.38" fill="#555"/>
<circle cx="181.6" cy="35.4" r="0.38" fill="#555"/>
<circle cx="165.7" cy="30.6" r="0.38" fill="#555"/>
<circle cx="166.3" cy="34.4" r="0.38" fill="#555"/>
<circle cx="172.7" cy="39.3" r="0.38" fill="#555"/>
<circle cx="176.6" cy="33.9" r="0.38" fill="#555"/>
<circle cx="179.0" cy="40.2" r="0.38" fill="#555"/>
<circle cx="174.4" cy="30.1" r="0.38" fill="#555"/>
<circle cx="177.9" cy="55.4" r="0.38" fill="#555"/>
<circle cx="172.8" cy="28.2" r="0.38" fill="#555"/>
<circle cx="179.3" cy="23.1" r="0.38" fill="#555"/>
<circle cx="180.7" cy="25.8" r="0.38" fill="#555"/>
<circle cx="174.6" cy="31.9" r="0.38" fill="#555"/>
<circle cx="170.7" cy="37.0" r="0.38" fill="#555"/>
<circle cx="176.7" cy="40.7" r="0.38" fill="#555"/>
<circle cx="180.7" cy="30.7" r="0.38" fill="#555"/>
<circle cx="181.8" cy="38.1" r="0.38" fill="#555"/>
<circle cx="177.7" cy="35.3" r="0.38" fill="#555"/>
<circle cx="184.5" cy="29.4" r="0.38" fill="#555"/>
<circle cx="185.5" cy="35.4" r="0.38" fill="#555"/>
<circle cx="180.7" cy="41.1" r="0.38" fill="#555"/>
<circle cx="167.2" cy="41.3" r="0.38" fill="#555"/>
<circle cx="174.1" cy="34.1" r="0.38" fill="#555"/>
<circle cx="166.7" cy="41.5" r="0.38" fill="#555"/>
<circle cx="178.9" cy="23.0" r="0.38" fill="#555"/>
<circle cx="183.8" cy="33.5" r="0.38" fill="#555"/>
<circle cx="173.2" cy="21.6" r="0.38" fill="#555"/>
<circle cx="181.5" cy="29.4" r="0.38" fill="#555"/>
<circle cx="170.0" cy="40.7" r="0.38" fill="#555"/>
<circle cx="181.4" cy="38.1" r="0.38" fill="#555"/>
<circle cx="173.7" cy="37.4" r="0.38" fill="#555"/>
<circle cx="181.0" cy="43.3" r="0.38" fill="#555"/>
<circle cx="176.1" cy="36.2" r="0.38" fill="#555"/>
<circle cx="178.7" cy="44.5" r="0.38" fill="#555"/>
<circle cx="181.3" cy="36.5" r="0.38" fill="#555"/>
<circle cx="182.1" cy="42.6" r="0.38" fill="#555"/>
<circle cx="164.9" cy="29.3" r="0.38" fill="#555"/>
<circle cx="170.7" cy="24.1" r="0.38" fill="#555"/>
<circle cx="183.5" cy="27.4" r="0.38" fill="#555"/>
<circle cx="177.6" cy="38.1" r="0.38" fill="#555"/>
<circle cx="185.1" cy="23.8" r="0.38" fill="#555"/>
<circle cx="166.5" cy="20.3" r="0.38" fill="#555"/>
<circle cx="179.6" cy="27.4" r="0.38" fill="#555"/>
<circle cx="179.9" cy="40.8" r="0.38" fill="#555"/>
<circle cx="177.8" cy="34.0" r="0.38" fill="#555"/>
<circle cx="162.5" cy="39.1" r="0.38" fill="#555"/>
<circle cx="186.6" cy="24.8" r="0.38" fill="#555"/>
<circle cx="181.3" cy="36.0" r="0.38" fill="#555"/>
<circle cx="178.1" cy="26.5" r="0.38" fill="#555"/>
<circle cx="169.5" cy="50.2" r="0.38" fill="#555"/>
<circle cx="185.0" cy="34.9" r="0.38" fill="#555"/>
<circle cx="185.0" cy="26.7" r="0.38" fill="#555"/>
<circle cx="181.3" cy="30.4" r="0.38" fill="#555"/>
<circle cx="159.0" cy="26.8" r="0.38" fill="#555"/>
<circle cx="182.0" cy="39.5" r="0.38" fill="#555"/>
<circle cx="181.1" cy="33.8" r="0.38" fill="#555"/>
<circle cx="178.7" cy="22.5" r="0.38" fill="#555"/>
<circle cx="176.0" cy="55.2" r="0.38" fill="#555"/>
<circle cx="177.7" cy="30.3" r="0.38" fill="#555"/>
<circle cx="175.3" cy="34.2" r="0.38" fill="#555"/>
<circle cx="179.0" cy="24.9" r="0.38" fill="#555"/>
<circle cx="176.9" cy="31.2" r="0.38" fill="#555"/>
<circle cx="164.4" cy="35.6" r="0.38" fill="#555"/>
<circle cx="176.4" cy="29.7" r="0.38" fill="#555"/>
<circle cx="173.3" cy="40.8" r="0.38" fill="#555"/>
<circle cx="170.2" cy="41.8" r="0.35" fill="#888"/>
<circle cx="182.2" cy="38.2" r="0.35" fill="#888"/>
<circle cx="184.0" cy="41.0" r="0.35" fill="#888"/>
<circle cx="177.1" cy="47.8" r="0.35" fill="#888"/>
<circle cx="174.5" cy="43.6" r="0.35" fill="#888"/>
<circle cx="176.8" cy="56.2" r="0.35" fill="#888"/>
<circle cx="179.8" cy="45.7" r="0.35" fill="#888"/>
<circle cx="177.8" cy="55.4" r="0.35" fill="#888"/>
<circle cx="183.7" cy="30.3" r="0.35" fill="#888"/>
<circle cx="185.3" cy="39.1" r="0.35" fill="#888"/>
<circle cx="174.7" cy="38.3" r="0.35" fill="#888"/>
<circle cx="176.4" cy="49.6" r="0.35" fill="#888"/>
<circle cx="170.0" cy="41.3" r="0.35" fill="#888"/>
<circle cx="172.6" cy="40.0" r="0.35" fill="#888"/>
<circle cx="174.0" cy="47.1" r="0.35" fill="#888"/>
<circle cx="181.2" cy="33.1" r="0.35" fill="#888"/>
<circle cx="177.4" cy="48.4" r="0.35" fill="#888"/>
<circle cx="175.3" cy="63.2" r="0.35" fill="#888"/>
<circle cx="179.6" cy="35.1" r="0.35" fill="#888"/>
<circle cx="178.9" cy="35.9" r="0.35" fill="#888"/>
<circle cx="179.7" cy="41.1" r="0.35" fill="#888"/>
<circle cx="172.1" cy="48.8" r="0.35" fill="#888"/>
<circle cx="181.3" cy="49.3" r="0.35" fill="#888"/>
<circle cx="178.5" cy="51.5" r="0.35" fill="#888"/>
<circle cx="182.6" cy="47.2" r="0.35" fill="#888"/>
<circle cx="183.8" cy="50.7" r="0.35" fill="#888"/>
<circle cx="174.4" cy="47.6" r="0.35" fill="#888"/>
<circle cx="182.8" cy="41.3" r="0.35" fill="#888"/>
<circle cx="165.5" cy="40.2" r="0.35" fill="#888"/>
<circle cx="168.6" cy="32.4" r="0.35" fill="#888"/>
<circle cx="187.0" cy="49.8" r="0.35" fill="#888"/>
<circle cx="175.3" cy="50.8" r="0.35" fill="#888"/>
<circle cx="174.9" cy="51.2" r="0.35" fill="#888"/>
<circle cx="175.5" cy="64.6" r="0.35" fill="#888"/>
<circle cx="174.5" cy="39.4" r="0.35" fill="#888"/>
<circle cx="176.0" cy="43.4" r="0.35" fill="#888"/>
<circle cx="177.1" cy="54.5" r="0.35" fill="#888"/>
<circle cx="168.3" cy="39.5" r="0.35" fill="#888"/>
<circle cx="177.9" cy="57.9" r="0.35" fill="#888"/>
<circle cx="181.5" cy="43.9" r="0.35" fill="#888"/>
<circle cx="170.6" cy="56.2" r="0.35" fill="#888"/>
<circle cx="181.4" cy="43.6" r="0.35" fill="#888"/>
<circle cx="170.1" cy="46.6" r="0.35" fill="#888"/>
<circle cx="179.3" cy="37.2" r="0.35" fill="#888"/>
<circle cx="184.1" cy="32.6" r="0.35" fill="#888"/>
<circle cx="183.2" cy="34.6" r="0.35" fill="#888"/>
<circle cx="171.6" cy="41.3" r="0.35" fill="#888"/>
<circle cx="172.4" cy="49.5" r="0.35" fill="#888"/>
<circle cx="172.0" cy="44.4" r="0.35" fill="#888"/>
<circle cx="181.7" cy="51.2" r="0.35" fill="#888"/>
<circle cx="182.8" cy="41.4" r="0.35" fill="#888"/>
<circle cx="174.0" cy="45.8" r="0.35" fill="#888"/>
<circle cx="174.7" cy="56.4" r="0.35" fill="#888"/>
<circle cx="178.2" cy="31.5" r="0.35" fill="#888"/>
<circle cx="181.2" cy="48.5" r="0.35" fill="#888"/>
<circle cx="176.5" cy="31.4" r="0.35" fill="#888"/>
<circle cx="175.7" cy="37.6" r="0.35" fill="#888"/>
<circle cx="185.6" cy="33.3" r="0.35" fill="#888"/>
<circle cx="166.3" cy="45.7" r="0.35" fill="#888"/>
<circle cx="175.6" cy="54.5" r="0.35" fill="#888"/>
<circle cx="162.4" cy="41.0" r="0.35" fill="#888"/>
<circle cx="183.1" cy="40.8" r="0.35" fill="#888"/>
<circle cx="179.0" cy="36.6" r="0.35" fill="#888"/>
<circle cx="187.4" cy="31.3" r="0.35" fill="#888"/>
<circle cx="177.3" cy="41.8" r="0.35" fill="#888"/>
<circle cx="176.7" cy="49.2" r="0.35" fill="#888"/>
<circle cx="176.4" cy="43.9" r="0.35" fill="#888"/>
<circle cx="180.5" cy="45.6" r="0.35" fill="#888"/>
<circle cx="183.4" cy="34.8" r="0.35" fill="#888"/>
<circle cx="167.4" cy="36.7" r="0.35" fill="#888"/>
<circle cx="170.5" cy="48.9" r="0.35" fill="#888"/>
<circle cx="181.2" cy="52.5" r="0.35" fill="#888"/>
<circle cx="183.5" cy="49.7" r="0.35" fill="#888"/>
<circle cx="178.0" cy="41.3" r="0.35" fill="#888"/>
<circle cx="185.4" cy="43.3" r="0.35" fill="#888"/>
<circle cx="175.2" cy="35.8" r="0.35" fill="#888"/>
<circle cx="178.8" cy="36.3" r="0.35" fill="#888"/>
<circle cx="194.5" cy="56.0" r="0.35" fill="#777"/>
<circle cx="203.8" cy="44.0" r="0.35" fill="#777"/>
<circle cx="194.9" cy="54.6" r="0.35" fill="#777"/>
<circle cx="204.4" cy="41.6" r="0.35" fill="#777"/>
<circle cx="203.1" cy="67.6" r="0.35" fill="#777"/>
<circle cx="202.4" cy="49.6" r="0.35" fill="#777"/>
<circle cx="204.0" cy="52.4" r="0.35" fill="#777"/>
<circle cx="204.9" cy="59.7" r="0.35" fill="#777"/>
<circle cx="203.0" cy="52.4" r="0.35" fill="#777"/>
<circle cx="212.9" cy="61.9" r="0.35" fill="#777"/>
<circle cx="208.2" cy="61.9" r="0.35" fill="#777"/>
<circle cx="202.4" cy="64.2" r="0.35" fill="#777"/>
<circle cx="205.2" cy="62.7" r="0.35" fill="#777"/>
<circle cx="205.4" cy="57.3" r="0.35" fill="#777"/>
<circle cx="205.3" cy="62.7" r="0.35" fill="#777"/>
<circle cx="210.4" cy="54.6" r="0.35" fill="#777"/>
<circle cx="211.1" cy="40.7" r="0.35" fill="#777"/>
<circle cx="198.0" cy="60.2" r="0.35" fill="#777"/>
<circle cx="200.4" cy="64.0" r="0.35" fill="#777"/>
<circle cx="212.7" cy="50.3" r="0.35" fill="#777"/>
<circle cx="200.4" cy="51.1" r="0.35" fill="#777"/>
<circle cx="208.8" cy="64.5" r="0.35" fill="#777"/>
<circle cx="207.9" cy="53.1" r="0.35" fill="#777"/>
<circle cx="202.0" cy="54.4" r="0.35" fill="#777"/>
<circle cx="200.3" cy="57.2" r="0.35" fill="#777"/>
<circle cx="206.5" cy="45.7" r="0.35" fill="#777"/>
<circle cx="212.8" cy="61.3" r="0.35" fill="#777"/>
<circle cx="216.1" cy="70.9" r="0.35" fill="#777"/>
<circle cx="205.4" cy="63.8" r="0.35" fill="#777"/>
<circle cx="210.5" cy="53.1" r="0.35" fill="#777"/>
<circle cx="210.7" cy="60.6" r="0.35" fill="#777"/>
<circle cx="205.7" cy="55.8" r="0.35" fill="#777"/>
<circle cx="204.1" cy="53.3" r="0.35" fill="#777"/>
<circle cx="198.4" cy="62.9" r="0.35" fill="#777"/>
<circle cx="209.6" cy="62.6" r="0.35" fill="#777"/>
<circle cx="195.7" cy="58.5" r="0.35" fill="#777"/>
<circle cx="200.5" cy="58.8" r="0.35" fill="#777"/>
<circle cx="200.1" cy="55.9" r="0.35" fill="#777"/>
<circle cx="206.2" cy="57.9" r="0.35" fill="#777"/>
<circle cx="204.4" cy="56.7" r="0.35" fill="#777"/>
<circle cx="198.9" cy="57.1" r="0.35" fill="#777"/>
<circle cx="195.1" cy="63.1" r="0.35" fill="#777"/>
<circle cx="204.2" cy="59.3" r="0.35" fill="#777"/>
<circle cx="210.5" cy="52.3" r="0.35" fill="#777"/>
<circle cx="211.4" cy="67.5" r="0.35" fill="#777"/>
<circle cx="206.1" cy="52.8" r="0.35" fill="#777"/>
<circle cx="206.6" cy="56.7" r="0.35" fill="#777"/>
<circle cx="199.7" cy="61.6" r="0.35" fill="#777"/>
<circle cx="206.3" cy="53.9" r="0.35" fill="#777"/>
<circle cx="198.3" cy="64.7" r="0.35" fill="#777"/>
<circle cx="202.9" cy="55.2" r="0.35" fill="#777"/>
<circle cx="207.4" cy="48.6" r="0.35" fill="#777"/>
<circle cx="206.0" cy="57.5" r="0.35" fill="#777"/>
<circle cx="211.1" cy="57.6" r="0.35" fill="#777"/>
<circle cx="205.8" cy="48.2" r="0.35" fill="#777"/>
<circle cx="213.9" cy="56.8" r="0.35" fill="#777"/>
<circle cx="204.1" cy="64.5" r="0.35" fill="#777"/>
<circle cx="200.3" cy="63.7" r="0.35" fill="#777"/>
<circle cx="205.0" cy="69.9" r="0.35" fill="#777"/>
<circle cx="198.0" cy="59.9" r="0.35" fill="#777"/>
<circle cx="204.2" cy="55.5" r="0.35" fill="#777"/>
<circle cx="198.0" cy="63.1" r="0.35" fill="#777"/>
<circle cx="194.7" cy="49.7" r="0.35" fill="#777"/>
<circle cx="203.7" cy="59.8" r="0.35" fill="#777"/>
<circle cx="199.3" cy="55.8" r="0.35" fill="#777"/>
<circle cx="197.9" cy="72.5" r="0.35" fill="#555"/>
<circle cx="208.5" cy="63.3" r="0.35" fill="#555"/>
<circle cx="203.5" cy="59.1" r="0.35" fill="#555"/>
<circle cx="206.2" cy="65.0" r="0.35" fill="#555"/>
<circle cx="202.1" cy="69.9" r="0.35" fill="#555"/>
<circle cx="198.5" cy="66.6" r="0.35" fill="#555"/>
<circle cx="198.2" cy="64.0" r="0.35" fill="#555"/>
<circle cx="206.0" cy="57.5" r="0.35" fill="#555"/>
<circle cx="198.9" cy="69.5" r="0.35" fill="#555"/>
<circle cx="204.3" cy="63.1" r="0.35" fill="#555"/>
<circle cx="204.5" cy="67.5" r="0.35" fill="#555"/>
<circle cx="202.3" cy="61.4" r="0.35" fill="#555"/>
<circle cx="203.9" cy="69.3" r="0.35" fill="#555"/>
<circle cx="199.2" cy="70.6" r="0.35" fill="#555"/>
<circle cx="204.0" cy="68.5" r="0.35" fill="#555"/>
<circle cx="195.5" cy="70.7" r="0.35" fill="#555"/>
<circle cx="206.0" cy="69.7" r="0.35" fill="#555"/>
<circle cx="199.5" cy="66.4" r="0.35" fill="#555"/>
<circle cx="202.9" cy="68.4" r="0.35" fill="#555"/>
<circle cx="212.4" cy="60.1" r="0.35" fill="#555"/>
<circle cx="205.8" cy="63.5" r="0.35" fill="#555"/>
<circle cx="202.3" cy="68.6" r="0.35" fill="#555"/>
<circle cx="200.5" cy="63.0" r="0.35" fill="#555"/>
<circle cx="203.3" cy="64.9" r="0.35" fill="#555"/>
<circle cx="202.2" cy="67.0" r="0.35" fill="#555"/>
<ellipse cx="175.5" cy="28" rx="9.5" ry="6.8" fill="#a8a8a8" opacity="0.85" filter="url(#soft2)"/>
<ellipse cx="171" cy="23.5" rx="5" ry="2.6" fill="#777" opacity="0.7" filter="url(#soft2)"/>
<ellipse cx="176" cy="30" rx="4" ry="3" fill="#d8d8d8" opacity="0.8" filter="url(#soft2)"/>
<path d="M176,30.5 C184,33.5 195,29.5 203.5,25.3" fill="none" stroke="#3a3a3a" stroke-width="7.4" stroke-linecap="round" filter="url(#soft)"/>
<path d="M176,30.5 C184,33.5 195,29.5 203.5,25.3" fill="none" stroke="#8c8c8c" stroke-width="4.8" stroke-linecap="round" filter="url(#soft)"/>
<path d="M180,31 C187,32 195,29 201.5,25.8" fill="none" stroke="#f0f0f0" stroke-width="1.1" stroke-linecap="round"/>
<polygon points="154.60,16.60 189.60,16.60 189.60,50.00 177.60,72.60 154.60,72.60" stroke="#444" stroke-width="0.8" fill="none" />
<path d="M194,39.2 L211.7,35.3 L220.6,41.2 L224,51.4 L224,62.4 L217.2,74 L207.6,75.4 L194,70.6 L192,60 L192,50 Z" fill="none" stroke="#444" stroke-width="0.8" stroke-linejoin="round"/>
<rect x="154.50" y="7.50" width="78.00" height="75.00" stroke="#666" stroke-width="0.9" fill="none" />
<line x1="153.00" y1="20.00" x2="154.50" y2="20.00" stroke="#666" stroke-width="0.6" />
<line x1="153.00" y1="32.50" x2="154.50" y2="32.50" stroke="#666" stroke-width="0.6" />
<line x1="153.00" y1="45.00" x2="154.50" y2="45.00" stroke="#666" stroke-width="0.6" />
<line x1="153.00" y1="57.50" x2="154.50" y2="57.50" stroke="#666" stroke-width="0.6" />
<line x1="153.00" y1="70.00" x2="154.50" y2="70.00" stroke="#666" stroke-width="0.6" />
<line x1="167.50" y1="82.50" x2="167.50" y2="84.00" stroke="#666" stroke-width="0.6" />
<line x1="180.50" y1="82.50" x2="180.50" y2="84.00" stroke="#666" stroke-width="0.6" />
<line x1="193.50" y1="82.50" x2="193.50" y2="84.00" stroke="#666" stroke-width="0.6" />
<line x1="206.50" y1="82.50" x2="206.50" y2="84.00" stroke="#666" stroke-width="0.6" />
<line x1="219.50" y1="82.50" x2="219.50" y2="84.00" stroke="#666" stroke-width="0.6" />
<text transform="translate(146.60,60.00) rotate(-90)" font-size="11.5" font-weight="bold" text-anchor="middle" fill="#000" >CD20</text>
<text x="178.00" y="94.50" font-size="11.5" font-weight="bold" text-anchor="middle" fill="#000" >CD38</text>
<text x="217.20" y="36.70" font-size="8.9"  text-anchor="start" fill="#222" >PC</text>
<line x1="124.30" y1="42.70" x2="154.50" y2="42.70" stroke="#d33" stroke-width="0.8" />
<line x1="155.50" y1="72.50" x2="132.80" y2="98.00" stroke="#d33" stroke-width="0.8" />
<line x1="160.00" y1="73.00" x2="160.00" y2="96.00" stroke="#d33" stroke-width="0.8" />
<polygon points="158.30,94.50 161.70,94.50 160.00,98.00" stroke="#d33" stroke-width="0" fill="#d33" />
<circle cx="89.8" cy="135.2" r="0.35" fill="#999"/>
<circle cx="75.0" cy="124.5" r="0.35" fill="#999"/>
<circle cx="99.3" cy="127.6" r="0.35" fill="#999"/>
<circle cx="84.2" cy="131.6" r="0.35" fill="#999"/>
<circle cx="86.4" cy="139.0" r="0.35" fill="#999"/>
<circle cx="85.4" cy="125.2" r="0.35" fill="#999"/>
<circle cx="89.7" cy="151.5" r="0.35" fill="#999"/>
<circle cx="90.9" cy="127.0" r="0.35" fill="#999"/>
<circle cx="122.9" cy="132.0" r="0.35" fill="#999"/>
<circle cx="94.8" cy="135.5" r="0.35" fill="#999"/>
<circle cx="100.8" cy="144.5" r="0.35" fill="#999"/>
<circle cx="79.9" cy="154.4" r="0.35" fill="#999"/>
<circle cx="99.2" cy="126.3" r="0.35" fill="#999"/>
<circle cx="82.0" cy="128.0" r="0.35" fill="#999"/>
<circle cx="106.3" cy="143.1" r="0.35" fill="#999"/>
<circle cx="94.9" cy="152.1" r="0.35" fill="#999"/>
<circle cx="109.5" cy="141.0" r="0.35" fill="#999"/>
<circle cx="95.8" cy="137.6" r="0.35" fill="#999"/>
<circle cx="89.7" cy="138.7" r="0.35" fill="#999"/>
<circle cx="87.8" cy="145.7" r="0.35" fill="#999"/>
<circle cx="104.4" cy="125.1" r="0.35" fill="#999"/>
<circle cx="98.7" cy="134.9" r="0.35" fill="#999"/>
<circle cx="88.4" cy="121.7" r="0.35" fill="#999"/>
<circle cx="65.3" cy="138.2" r="0.35" fill="#999"/>
<circle cx="85.1" cy="133.1" r="0.35" fill="#999"/>
<circle cx="89.2" cy="126.5" r="0.35" fill="#999"/>
<circle cx="95.8" cy="156.2" r="0.35" fill="#999"/>
<circle cx="104.5" cy="143.9" r="0.35" fill="#999"/>
<circle cx="91.2" cy="139.7" r="0.35" fill="#999"/>
<circle cx="88.9" cy="135.9" r="0.35" fill="#999"/>
<circle cx="85.5" cy="131.1" r="0.35" fill="#999"/>
<circle cx="98.4" cy="142.7" r="0.35" fill="#999"/>
<circle cx="83.0" cy="139.7" r="0.35" fill="#999"/>
<circle cx="78.6" cy="137.4" r="0.35" fill="#999"/>
<circle cx="78.7" cy="133.0" r="0.35" fill="#999"/>
<circle cx="89.7" cy="148.0" r="0.35" fill="#999"/>
<circle cx="87.7" cy="128.1" r="0.35" fill="#999"/>
<circle cx="65.5" cy="136.6" r="0.35" fill="#999"/>
<circle cx="101.7" cy="140.5" r="0.35" fill="#999"/>
<circle cx="88.3" cy="138.4" r="0.35" fill="#999"/>
<circle cx="92.3" cy="127.8" r="0.35" fill="#999"/>
<circle cx="88.8" cy="147.2" r="0.35" fill="#999"/>
<circle cx="95.6" cy="139.2" r="0.35" fill="#999"/>
<circle cx="100.1" cy="123.1" r="0.35" fill="#999"/>
<circle cx="106.9" cy="128.8" r="0.35" fill="#999"/>
<circle cx="83.3" cy="152.4" r="0.35" fill="#999"/>
<circle cx="95.1" cy="138.4" r="0.35" fill="#999"/>
<circle cx="102.5" cy="125.5" r="0.35" fill="#999"/>
<circle cx="102.3" cy="169.6" r="0.35" fill="#999"/>
<circle cx="91.6" cy="141.1" r="0.35" fill="#999"/>
<circle cx="90.4" cy="154.4" r="0.35" fill="#999"/>
<circle cx="107.8" cy="142.8" r="0.35" fill="#999"/>
<circle cx="81.9" cy="143.7" r="0.35" fill="#999"/>
<circle cx="92.6" cy="123.4" r="0.35" fill="#999"/>
<circle cx="115.7" cy="134.8" r="0.35" fill="#999"/>
<circle cx="109.8" cy="118.5" r="0.35" fill="#999"/>
<circle cx="100.1" cy="128.8" r="0.35" fill="#999"/>
<circle cx="103.9" cy="145.4" r="0.35" fill="#999"/>
<circle cx="68.8" cy="118.4" r="0.35" fill="#999"/>
<circle cx="83.1" cy="127.1" r="0.35" fill="#999"/>
<circle cx="106.9" cy="149.0" r="0.35" fill="#999"/>
<circle cx="98.5" cy="141.5" r="0.35" fill="#999"/>
<circle cx="110.8" cy="145.2" r="0.35" fill="#999"/>
<circle cx="107.0" cy="134.2" r="0.35" fill="#999"/>
<circle cx="108.8" cy="150.3" r="0.35" fill="#999"/>
<circle cx="100.6" cy="156.8" r="0.35" fill="#999"/>
<circle cx="79.1" cy="114.2" r="0.35" fill="#999"/>
<circle cx="96.4" cy="147.5" r="0.35" fill="#999"/>
<circle cx="90.0" cy="144.3" r="0.35" fill="#999"/>
<circle cx="107.8" cy="134.4" r="0.35" fill="#999"/>
<circle cx="102.7" cy="148.5" r="0.35" fill="#999"/>
<circle cx="117.1" cy="158.0" r="0.35" fill="#999"/>
<circle cx="91.5" cy="140.7" r="0.35" fill="#999"/>
<circle cx="91.3" cy="129.3" r="0.35" fill="#999"/>
<circle cx="79.6" cy="123.1" r="0.35" fill="#999"/>
<circle cx="105.5" cy="146.8" r="0.35" fill="#999"/>
<circle cx="100.2" cy="137.3" r="0.35" fill="#999"/>
<circle cx="92.1" cy="158.0" r="0.35" fill="#999"/>
<circle cx="112.8" cy="147.9" r="0.35" fill="#999"/>
<circle cx="101.3" cy="112.5" r="0.35" fill="#999"/>
<circle cx="99.9" cy="126.3" r="0.35" fill="#999"/>
<circle cx="77.6" cy="143.7" r="0.35" fill="#999"/>
<circle cx="70.4" cy="115.2" r="0.35" fill="#999"/>
<circle cx="100.1" cy="151.5" r="0.35" fill="#999"/>
<circle cx="83.4" cy="142.8" r="0.35" fill="#999"/>
<circle cx="102.8" cy="158.0" r="0.35" fill="#999"/>
<circle cx="76.2" cy="130.7" r="0.35" fill="#999"/>
<circle cx="91.4" cy="153.7" r="0.35" fill="#999"/>
<circle cx="95.7" cy="145.8" r="0.35" fill="#999"/>
<circle cx="103.5" cy="153.0" r="0.35" fill="#999"/>
<circle cx="101.0" cy="127.2" r="0.35" fill="#999"/>
<circle cx="92.9" cy="135.2" r="0.35" fill="#999"/>
<circle cx="85.5" cy="139.2" r="0.35" fill="#999"/>
<circle cx="83.0" cy="138.6" r="0.35" fill="#999"/>
<circle cx="91.4" cy="166.9" r="0.35" fill="#999"/>
<circle cx="83.5" cy="137.3" r="0.35" fill="#999"/>
<circle cx="82.2" cy="140.6" r="0.35" fill="#999"/>
<circle cx="95.4" cy="128.4" r="0.35" fill="#999"/>
<circle cx="100.8" cy="126.5" r="0.35" fill="#999"/>
<circle cx="82.5" cy="126.6" r="0.35" fill="#999"/>
<circle cx="88.3" cy="137.8" r="0.35" fill="#999"/>
<circle cx="96.2" cy="124.0" r="0.35" fill="#999"/>
<circle cx="94.3" cy="153.9" r="0.35" fill="#999"/>
<circle cx="108.7" cy="134.7" r="0.35" fill="#999"/>
<circle cx="78.0" cy="135.2" r="0.35" fill="#999"/>
<circle cx="104.7" cy="145.9" r="0.35" fill="#999"/>
<circle cx="76.3" cy="147.0" r="0.35" fill="#999"/>
<circle cx="87.7" cy="145.1" r="0.35" fill="#999"/>
<circle cx="97.3" cy="132.6" r="0.35" fill="#999"/>
<circle cx="94.0" cy="152.7" r="0.35" fill="#999"/>
<circle cx="109.5" cy="133.6" r="0.35" fill="#999"/>
<circle cx="95.4" cy="144.2" r="0.35" fill="#999"/>
<circle cx="87.7" cy="140.0" r="0.35" fill="#999"/>
<circle cx="92.8" cy="145.8" r="0.35" fill="#999"/>
<circle cx="108.4" cy="121.2" r="0.35" fill="#999"/>
<circle cx="103.9" cy="127.2" r="0.35" fill="#999"/>
<circle cx="101.3" cy="142.4" r="0.35" fill="#999"/>
<circle cx="93.6" cy="136.9" r="0.35" fill="#999"/>
<circle cx="70.6" cy="140.2" r="0.35" fill="#999"/>
<circle cx="91.5" cy="151.1" r="0.35" fill="#999"/>
<circle cx="80.5" cy="126.8" r="0.35" fill="#999"/>
<circle cx="104.1" cy="157.4" r="0.35" fill="#999"/>
<circle cx="98.2" cy="143.5" r="0.35" fill="#999"/>
<circle cx="88.8" cy="147.4" r="0.35" fill="#999"/>
<circle cx="81.3" cy="143.1" r="0.35" fill="#999"/>
<circle cx="88.7" cy="118.2" r="0.35" fill="#999"/>
<circle cx="95.2" cy="116.5" r="0.35" fill="#999"/>
<circle cx="91.7" cy="157.6" r="0.35" fill="#999"/>
<circle cx="97.5" cy="117.8" r="0.35" fill="#999"/>
<circle cx="69.5" cy="152.2" r="0.35" fill="#999"/>
<circle cx="76.0" cy="159.5" r="0.35" fill="#999"/>
<circle cx="89.9" cy="136.1" r="0.35" fill="#999"/>
<circle cx="109.9" cy="129.7" r="0.35" fill="#999"/>
<circle cx="63.0" cy="131.5" r="0.35" fill="#999"/>
<circle cx="108.3" cy="125.8" r="0.35" fill="#999"/>
<circle cx="93.7" cy="121.0" r="0.35" fill="#999"/>
<circle cx="103.9" cy="150.6" r="0.35" fill="#999"/>
<circle cx="106.3" cy="140.6" r="0.35" fill="#999"/>
<circle cx="100.7" cy="156.5" r="0.35" fill="#999"/>
<circle cx="99.0" cy="135.9" r="0.35" fill="#999"/>
<circle cx="82.9" cy="136.3" r="0.35" fill="#999"/>
<circle cx="105.9" cy="137.9" r="0.35" fill="#999"/>
<circle cx="100.0" cy="155.2" r="0.35" fill="#999"/>
<circle cx="77.8" cy="143.0" r="0.35" fill="#999"/>
<circle cx="85.3" cy="142.2" r="0.35" fill="#999"/>
<circle cx="103.9" cy="151.1" r="0.35" fill="#999"/>
<circle cx="100.2" cy="148.6" r="0.35" fill="#999"/>
<circle cx="72.5" cy="131.6" r="0.35" fill="#999"/>
<circle cx="98.5" cy="149.7" r="0.35" fill="#999"/>
<circle cx="98.7" cy="145.8" r="0.35" fill="#999"/>
<circle cx="111.0" cy="136.0" r="0.35" fill="#999"/>
<circle cx="123.0" cy="154.2" r="0.35" fill="#999"/>
<circle cx="84.0" cy="153.4" r="0.35" fill="#999"/>
<circle cx="94.1" cy="131.8" r="0.35" fill="#999"/>
<circle cx="89.6" cy="150.2" r="0.35" fill="#999"/>
<circle cx="66.1" cy="121.4" r="0.35" fill="#999"/>
<circle cx="109.7" cy="166.5" r="0.35" fill="#999"/>
<circle cx="80.0" cy="133.9" r="0.35" fill="#999"/>
<circle cx="109.1" cy="148.3" r="0.35" fill="#999"/>
<circle cx="112.4" cy="150.8" r="0.35" fill="#999"/>
<circle cx="89.1" cy="162.0" r="0.35" fill="#999"/>
<circle cx="92.2" cy="128.5" r="0.35" fill="#999"/>
<circle cx="88.3" cy="155.1" r="0.35" fill="#999"/>
<circle cx="80.0" cy="142.7" r="0.35" fill="#999"/>
<circle cx="102.9" cy="139.5" r="0.35" fill="#999"/>
<circle cx="80.4" cy="156.0" r="0.35" fill="#999"/>
<circle cx="83.3" cy="143.1" r="0.35" fill="#999"/>
<circle cx="86.8" cy="142.9" r="0.35" fill="#999"/>
<circle cx="103.2" cy="159.1" r="0.35" fill="#999"/>
<circle cx="79.1" cy="142.7" r="0.35" fill="#999"/>
<circle cx="84.7" cy="142.2" r="0.35" fill="#999"/>
<circle cx="93.3" cy="141.3" r="0.35" fill="#999"/>
<circle cx="83.4" cy="134.4" r="0.35" fill="#999"/>
<circle cx="87.0" cy="130.7" r="0.35" fill="#999"/>
<circle cx="97.2" cy="112.9" r="0.35" fill="#999"/>
<circle cx="80.4" cy="152.0" r="0.35" fill="#999"/>
<circle cx="100.1" cy="154.1" r="0.35" fill="#999"/>
<circle cx="89.3" cy="152.8" r="0.35" fill="#999"/>
<circle cx="102.9" cy="118.3" r="0.35" fill="#999"/>
<circle cx="76.4" cy="149.1" r="0.35" fill="#999"/>
<circle cx="80.8" cy="136.2" r="0.35" fill="#999"/>
<circle cx="95.4" cy="142.0" r="0.35" fill="#999"/>
<circle cx="99.6" cy="149.9" r="0.35" fill="#999"/>
<circle cx="90.0" cy="147.5" r="0.35" fill="#999"/>
<circle cx="89.0" cy="150.5" r="0.35" fill="#999"/>
<circle cx="93.5" cy="118.3" r="0.35" fill="#999"/>
<circle cx="96.3" cy="125.1" r="0.35" fill="#999"/>
<circle cx="113.7" cy="146.0" r="0.35" fill="#999"/>
<circle cx="93.3" cy="134.2" r="0.35" fill="#999"/>
<circle cx="92.7" cy="153.2" r="0.35" fill="#999"/>
<circle cx="81.3" cy="128.6" r="0.35" fill="#999"/>
<circle cx="92.2" cy="152.0" r="0.35" fill="#999"/>
<circle cx="72.2" cy="133.9" r="0.35" fill="#999"/>
<circle cx="85.3" cy="150.6" r="0.35" fill="#999"/>
<circle cx="85.0" cy="152.0" r="0.35" fill="#999"/>
<circle cx="88.2" cy="148.1" r="0.35" fill="#999"/>
<circle cx="67.9" cy="130.3" r="0.35" fill="#999"/>
<circle cx="119.6" cy="131.5" r="0.35" fill="#999"/>
<circle cx="74.0" cy="163.6" r="0.35" fill="#999"/>
<circle cx="98.3" cy="146.9" r="0.35" fill="#999"/>
<circle cx="96.0" cy="156.3" r="0.35" fill="#999"/>
<circle cx="91.6" cy="150.0" r="0.35" fill="#999"/>
<circle cx="105.5" cy="152.7" r="0.35" fill="#999"/>
<circle cx="82.9" cy="130.2" r="0.35" fill="#999"/>
<circle cx="74.2" cy="123.4" r="0.35" fill="#999"/>
<circle cx="100.1" cy="137.8" r="0.35" fill="#999"/>
<circle cx="102.1" cy="126.7" r="0.35" fill="#999"/>
<circle cx="90.5" cy="133.4" r="0.35" fill="#999"/>
<circle cx="103.3" cy="137.6" r="0.35" fill="#999"/>
<circle cx="103.9" cy="148.2" r="0.35" fill="#999"/>
<circle cx="83.1" cy="157.1" r="0.35" fill="#999"/>
<circle cx="77.1" cy="123.5" r="0.35" fill="#999"/>
<circle cx="106.6" cy="124.8" r="0.35" fill="#999"/>
<circle cx="82.3" cy="150.5" r="0.35" fill="#999"/>
<circle cx="73.3" cy="140.2" r="0.35" fill="#999"/>
<circle cx="79.7" cy="129.8" r="0.35" fill="#999"/>
<circle cx="84.9" cy="152.0" r="0.35" fill="#999"/>
<circle cx="76.0" cy="153.9" r="0.35" fill="#999"/>
<path d="M74,124 C74,119 80,118 88,118.5 C96,118.8 103,119.5 106,122 C108,125 105,131 101,133.5 C97,135.5 94,138 93,143 C92,150 89,157 83,158.5 C77,159 74,154 73.5,147 C73,140 73.5,130 74,124 Z" fill="#cfcfcf" stroke="#777" stroke-width="0.6" filter="url(#soft)"/>
<path d="M75.5,124.5 C76,121 82,120 89,120.5 C96,121 101,122 103,124 C104,127 100,130 96,131.5 C90,133 85,134 82,137 C79,139 76.5,135 75.5,130 Z" fill="#a8a8a8" stroke="#666" stroke-width="0.6" filter="url(#soft)"/>
<path d="M76.5,125 C77,122.5 82,122 88,122.5 C93,123 96,124 96,125.5 C95,127.5 90,128.5 85,129.5 C80,130.5 77,129 76.5,125 Z" fill="#8c8c8c" stroke="#555" stroke-width="0.5" filter="url(#soft)"/>
<path d="M75.5,142 C76,138 80,136 84,137 C88,138 89.5,142 89,147 C88.5,152 86,155.5 82,155.5 C78,155.5 75.5,151 75.5,146 Z" fill="#b0b0b0" stroke="#666" stroke-width="0.6" filter="url(#soft)"/>
<ellipse cx="80.5" cy="147" rx="2.2" ry="3.2" fill="#e6e6e6"/>
<ellipse cx="80" cy="125.5" rx="2.2" ry="1.3" fill="#dcdcdc"/>
<path d="M85,133.0 C92,129 99,127 104.0,125.0" fill="none" stroke="#888" stroke-width="0.5"/>
<path d="M88,133.6 C95,130 101,128 105.5,126.2" fill="none" stroke="#888" stroke-width="0.5"/>
<path d="M91,134.2 C98,131 103,129 107.0,127.4" fill="none" stroke="#888" stroke-width="0.5"/>
<path d="M94,134.8 C101,132 105,130 108.5,128.6" fill="none" stroke="#888" stroke-width="0.5"/>
<rect x="90.30" y="106.30" width="37.40" height="30.70" stroke="#444" stroke-width="0.8" fill="none" />
<rect x="55.00" y="98.20" width="77.50" height="76.30" stroke="#666" stroke-width="0.9" fill="none" />
<line x1="53.50" y1="110.92" x2="55.00" y2="110.92" stroke="#666" stroke-width="0.6" />
<line x1="53.50" y1="123.63" x2="55.00" y2="123.63" stroke="#666" stroke-width="0.6" />
<line x1="53.50" y1="136.35" x2="55.00" y2="136.35" stroke="#666" stroke-width="0.6" />
<line x1="53.50" y1="149.07" x2="55.00" y2="149.07" stroke="#666" stroke-width="0.6" />
<line x1="53.50" y1="161.78" x2="55.00" y2="161.78" stroke="#666" stroke-width="0.6" />
<line x1="67.92" y1="174.50" x2="67.92" y2="176.00" stroke="#666" stroke-width="0.6" />
<line x1="80.83" y1="174.50" x2="80.83" y2="176.00" stroke="#666" stroke-width="0.6" />
<line x1="93.75" y1="174.50" x2="93.75" y2="176.00" stroke="#666" stroke-width="0.6" />
<line x1="106.67" y1="174.50" x2="106.67" y2="176.00" stroke="#666" stroke-width="0.6" />
<line x1="119.58" y1="174.50" x2="119.58" y2="176.00" stroke="#666" stroke-width="0.6" />
<text transform="translate(46.60,154.30) rotate(-90)" font-size="11.5" font-weight="bold" text-anchor="middle" fill="#000" >IgD</text>
<text x="78.00" y="185.00" font-size="11.5" font-weight="bold" text-anchor="middle" fill="#000" >IgM</text>
<text x="55.70" y="107.60" font-size="9.5"  text-anchor="start" fill="#222" >Na&#239;ve B</text>
<circle cx="176.9" cy="129.4" r="0.35" fill="#999"/>
<circle cx="184.3" cy="135.2" r="0.35" fill="#999"/>
<circle cx="181.3" cy="128.1" r="0.35" fill="#999"/>
<circle cx="179.3" cy="135.0" r="0.35" fill="#999"/>
<circle cx="179.7" cy="148.5" r="0.35" fill="#999"/>
<circle cx="175.7" cy="158.4" r="0.35" fill="#999"/>
<circle cx="177.6" cy="135.4" r="0.35" fill="#999"/>
<circle cx="173.8" cy="129.6" r="0.35" fill="#999"/>
<circle cx="194.3" cy="152.3" r="0.35" fill="#999"/>
<circle cx="196.6" cy="140.9" r="0.35" fill="#999"/>
<circle cx="167.2" cy="135.5" r="0.35" fill="#999"/>
<circle cx="201.0" cy="135.5" r="0.35" fill="#999"/>
<circle cx="198.5" cy="142.3" r="0.35" fill="#999"/>
<circle cx="185.0" cy="161.6" r="0.35" fill="#999"/>
<circle cx="189.0" cy="136.6" r="0.35" fill="#999"/>
<circle cx="186.4" cy="129.3" r="0.35" fill="#999"/>
<circle cx="190.4" cy="153.0" r="0.35" fill="#999"/>
<circle cx="176.4" cy="145.2" r="0.35" fill="#999"/>
<circle cx="183.9" cy="153.8" r="0.35" fill="#999"/>
<circle cx="182.3" cy="132.8" r="0.35" fill="#999"/>
<circle cx="178.8" cy="146.9" r="0.35" fill="#999"/>
<circle cx="183.8" cy="130.3" r="0.35" fill="#999"/>
<circle cx="184.8" cy="136.9" r="0.35" fill="#999"/>
<circle cx="192.8" cy="129.2" r="0.35" fill="#999"/>
<circle cx="204.6" cy="130.7" r="0.35" fill="#999"/>
<circle cx="186.6" cy="137.3" r="0.35" fill="#999"/>
<circle cx="184.9" cy="124.1" r="0.35" fill="#999"/>
<circle cx="196.7" cy="129.0" r="0.35" fill="#999"/>
<circle cx="170.1" cy="163.1" r="0.35" fill="#999"/>
<circle cx="193.5" cy="139.7" r="0.35" fill="#999"/>
<circle cx="192.9" cy="151.1" r="0.35" fill="#999"/>
<circle cx="181.1" cy="133.6" r="0.35" fill="#999"/>
<circle cx="172.1" cy="131.7" r="0.35" fill="#999"/>
<circle cx="187.0" cy="133.1" r="0.35" fill="#999"/>
<circle cx="194.2" cy="152.1" r="0.35" fill="#999"/>
<circle cx="185.2" cy="122.7" r="0.35" fill="#999"/>
<circle cx="184.6" cy="129.8" r="0.35" fill="#999"/>
<circle cx="203.0" cy="144.1" r="0.35" fill="#999"/>
<circle cx="183.3" cy="137.6" r="0.35" fill="#999"/>
<circle cx="200.9" cy="150.3" r="0.35" fill="#999"/>
<circle cx="180.9" cy="132.3" r="0.35" fill="#999"/>
<circle cx="184.1" cy="153.5" r="0.35" fill="#999"/>
<circle cx="195.1" cy="141.4" r="0.35" fill="#999"/>
<circle cx="185.2" cy="143.8" r="0.35" fill="#999"/>
<circle cx="201.3" cy="149.4" r="0.35" fill="#999"/>
<circle cx="177.6" cy="133.0" r="0.35" fill="#999"/>
<circle cx="172.2" cy="122.4" r="0.35" fill="#999"/>
<circle cx="184.2" cy="153.3" r="0.35" fill="#999"/>
<circle cx="176.0" cy="130.0" r="0.35" fill="#999"/>
<circle cx="189.8" cy="152.1" r="0.35" fill="#999"/>
<circle cx="181.1" cy="123.3" r="0.35" fill="#999"/>
<circle cx="180.6" cy="149.4" r="0.35" fill="#999"/>
<circle cx="193.7" cy="156.8" r="0.35" fill="#999"/>
<circle cx="186.6" cy="130.5" r="0.35" fill="#999"/>
<circle cx="181.7" cy="136.6" r="0.35" fill="#999"/>
<circle cx="192.2" cy="155.6" r="0.35" fill="#999"/>
<circle cx="176.5" cy="150.1" r="0.35" fill="#999"/>
<circle cx="198.4" cy="145.2" r="0.35" fill="#999"/>
<circle cx="176.5" cy="141.6" r="0.35" fill="#999"/>
<circle cx="179.0" cy="133.4" r="0.35" fill="#999"/>
<circle cx="181.6" cy="144.9" r="0.35" fill="#999"/>
<circle cx="195.2" cy="127.6" r="0.35" fill="#999"/>
<circle cx="194.0" cy="133.1" r="0.35" fill="#999"/>
<circle cx="187.9" cy="121.0" r="0.35" fill="#999"/>
<circle cx="211.0" cy="148.3" r="0.35" fill="#999"/>
<circle cx="174.3" cy="139.5" r="0.35" fill="#999"/>
<circle cx="178.3" cy="147.6" r="0.35" fill="#999"/>
<circle cx="186.1" cy="126.1" r="0.35" fill="#999"/>
<circle cx="173.7" cy="147.0" r="0.35" fill="#999"/>
<circle cx="178.9" cy="124.1" r="0.35" fill="#999"/>
<circle cx="186.5" cy="157.0" r="0.35" fill="#999"/>
<circle cx="196.1" cy="137.5" r="0.35" fill="#999"/>
<circle cx="199.1" cy="120.5" r="0.35" fill="#999"/>
<circle cx="185.0" cy="149.4" r="0.35" fill="#999"/>
<circle cx="180.0" cy="143.6" r="0.35" fill="#999"/>
<circle cx="194.9" cy="145.6" r="0.35" fill="#999"/>
<circle cx="168.9" cy="141.5" r="0.35" fill="#999"/>
<circle cx="196.1" cy="128.3" r="0.35" fill="#999"/>
<circle cx="184.2" cy="139.8" r="0.35" fill="#999"/>
<circle cx="199.2" cy="140.5" r="0.35" fill="#999"/>
<circle cx="188.1" cy="133.6" r="0.35" fill="#999"/>
<circle cx="206.7" cy="146.5" r="0.35" fill="#999"/>
<circle cx="204.3" cy="136.0" r="0.35" fill="#999"/>
<circle cx="208.4" cy="151.4" r="0.35" fill="#999"/>
<circle cx="175.4" cy="114.9" r="0.35" fill="#999"/>
<circle cx="174.7" cy="123.7" r="0.35" fill="#999"/>
<circle cx="194.9" cy="131.8" r="0.35" fill="#999"/>
<circle cx="188.3" cy="147.1" r="0.35" fill="#999"/>
<circle cx="169.9" cy="156.8" r="0.35" fill="#999"/>
<circle cx="191.6" cy="128.5" r="0.35" fill="#999"/>
<circle cx="186.5" cy="146.4" r="0.35" fill="#999"/>
<circle cx="178.6" cy="164.6" r="0.35" fill="#999"/>
<circle cx="200.8" cy="146.5" r="0.35" fill="#999"/>
<circle cx="199.4" cy="135.6" r="0.35" fill="#999"/>
<circle cx="184.3" cy="136.6" r="0.35" fill="#999"/>
<circle cx="167.0" cy="145.3" r="0.35" fill="#999"/>
<circle cx="191.1" cy="148.2" r="0.35" fill="#999"/>
<circle cx="162.3" cy="141.1" r="0.35" fill="#999"/>
<circle cx="170.5" cy="131.1" r="0.35" fill="#999"/>
<circle cx="175.7" cy="138.2" r="0.35" fill="#999"/>
<circle cx="204.3" cy="134.3" r="0.35" fill="#999"/>
<circle cx="220.4" cy="153.3" r="0.35" fill="#999"/>
<circle cx="185.8" cy="134.6" r="0.35" fill="#999"/>
<circle cx="172.9" cy="152.1" r="0.35" fill="#999"/>
<circle cx="192.4" cy="147.4" r="0.35" fill="#999"/>
<circle cx="187.3" cy="147.9" r="0.35" fill="#999"/>
<circle cx="183.0" cy="149.4" r="0.35" fill="#999"/>
<circle cx="169.6" cy="129.2" r="0.35" fill="#999"/>
<circle cx="223.2" cy="138.0" r="0.35" fill="#999"/>
<circle cx="208.3" cy="142.9" r="0.35" fill="#999"/>
<circle cx="182.7" cy="152.6" r="0.35" fill="#999"/>
<circle cx="191.9" cy="138.0" r="0.35" fill="#999"/>
<circle cx="194.2" cy="136.1" r="0.35" fill="#999"/>
<circle cx="195.0" cy="137.4" r="0.35" fill="#999"/>
<circle cx="182.0" cy="139.7" r="0.35" fill="#999"/>
<circle cx="192.9" cy="118.4" r="0.35" fill="#999"/>
<circle cx="181.5" cy="161.7" r="0.35" fill="#999"/>
<circle cx="192.5" cy="119.1" r="0.35" fill="#999"/>
<circle cx="207.8" cy="158.6" r="0.35" fill="#999"/>
<circle cx="181.4" cy="146.1" r="0.35" fill="#999"/>
<circle cx="210.9" cy="150.4" r="0.35" fill="#999"/>
<circle cx="180.7" cy="145.4" r="0.35" fill="#999"/>
<circle cx="189.9" cy="134.8" r="0.35" fill="#999"/>
<circle cx="189.5" cy="156.6" r="0.35" fill="#999"/>
<circle cx="202.5" cy="162.1" r="0.35" fill="#999"/>
<circle cx="198.6" cy="144.3" r="0.35" fill="#999"/>
<circle cx="200.1" cy="142.6" r="0.35" fill="#999"/>
<circle cx="187.0" cy="136.7" r="0.35" fill="#999"/>
<circle cx="198.3" cy="119.7" r="0.35" fill="#999"/>
<circle cx="193.4" cy="128.4" r="0.35" fill="#999"/>
<circle cx="190.1" cy="132.2" r="0.35" fill="#999"/>
<circle cx="192.1" cy="128.0" r="0.35" fill="#999"/>
<circle cx="190.9" cy="139.9" r="0.35" fill="#999"/>
<circle cx="205.1" cy="135.7" r="0.35" fill="#999"/>
<circle cx="195.9" cy="155.0" r="0.35" fill="#999"/>
<circle cx="183.8" cy="142.1" r="0.35" fill="#999"/>
<circle cx="158.6" cy="133.4" r="0.35" fill="#999"/>
<circle cx="202.8" cy="144.9" r="0.35" fill="#999"/>
<circle cx="226.8" cy="144.2" r="0.35" fill="#999"/>
<circle cx="160.5" cy="115.3" r="0.35" fill="#999"/>
<circle cx="175.5" cy="163.2" r="0.35" fill="#999"/>
<circle cx="161.9" cy="144.3" r="0.35" fill="#999"/>
<circle cx="179.0" cy="126.4" r="0.35" fill="#999"/>
<circle cx="192.7" cy="135.5" r="0.35" fill="#999"/>
<circle cx="171.5" cy="148.3" r="0.35" fill="#999"/>
<circle cx="187.6" cy="119.8" r="0.35" fill="#999"/>
<circle cx="185.4" cy="155.6" r="0.35" fill="#999"/>
<circle cx="185.2" cy="108.2" r="0.35" fill="#999"/>
<circle cx="170.5" cy="139.0" r="0.35" fill="#999"/>
<circle cx="195.3" cy="143.1" r="0.35" fill="#999"/>
<circle cx="188.3" cy="126.4" r="0.35" fill="#999"/>
<circle cx="208.6" cy="149.3" r="0.35" fill="#999"/>
<circle cx="190.2" cy="145.9" r="0.35" fill="#999"/>
<circle cx="206.0" cy="132.0" r="0.35" fill="#999"/>
<circle cx="182.8" cy="142.7" r="0.35" fill="#999"/>
<circle cx="179.5" cy="149.2" r="0.35" fill="#999"/>
<circle cx="175.0" cy="157.8" r="0.35" fill="#999"/>
<circle cx="182.2" cy="127.1" r="0.35" fill="#999"/>
<circle cx="204.3" cy="140.5" r="0.35" fill="#999"/>
<circle cx="183.1" cy="117.8" r="0.35" fill="#999"/>
<circle cx="182.2" cy="169.9" r="0.35" fill="#999"/>
<circle cx="196.8" cy="147.6" r="0.35" fill="#999"/>
<circle cx="182.3" cy="151.3" r="0.35" fill="#999"/>
<circle cx="189.3" cy="154.9" r="0.35" fill="#999"/>
<circle cx="222.4" cy="117.2" r="0.35" fill="#999"/>
<circle cx="209.7" cy="137.0" r="0.35" fill="#999"/>
<circle cx="168.6" cy="159.3" r="0.35" fill="#999"/>
<circle cx="167.0" cy="117.2" r="0.35" fill="#999"/>
<circle cx="191.5" cy="138.9" r="0.35" fill="#999"/>
<circle cx="187.5" cy="147.4" r="0.35" fill="#999"/>
<circle cx="188.2" cy="135.1" r="0.35" fill="#999"/>
<circle cx="192.6" cy="147.2" r="0.35" fill="#999"/>
<circle cx="191.5" cy="134.7" r="0.35" fill="#999"/>
<circle cx="178.7" cy="146.5" r="0.35" fill="#999"/>
<circle cx="189.0" cy="121.2" r="0.35" fill="#999"/>
<circle cx="197.2" cy="124.2" r="0.35" fill="#999"/>
<circle cx="190.3" cy="128.1" r="0.35" fill="#999"/>
<circle cx="188.1" cy="137.9" r="0.35" fill="#999"/>
<circle cx="217.2" cy="143.0" r="0.35" fill="#999"/>
<circle cx="184.9" cy="136.3" r="0.35" fill="#999"/>
<circle cx="180.7" cy="127.6" r="0.35" fill="#999"/>
<circle cx="194.2" cy="146.7" r="0.35" fill="#999"/>
<circle cx="188.2" cy="128.1" r="0.35" fill="#999"/>
<circle cx="181.7" cy="132.7" r="0.35" fill="#999"/>
<circle cx="183.8" cy="110.6" r="0.35" fill="#999"/>
<circle cx="162.8" cy="149.9" r="0.35" fill="#999"/>
<circle cx="193.3" cy="126.4" r="0.35" fill="#999"/>
<circle cx="190.4" cy="128.2" r="0.35" fill="#999"/>
<circle cx="170.8" cy="138.1" r="0.35" fill="#999"/>
<circle cx="188.7" cy="132.7" r="0.35" fill="#999"/>
<circle cx="174.6" cy="121.9" r="0.35" fill="#999"/>
<circle cx="177.2" cy="149.0" r="0.35" fill="#999"/>
<circle cx="189.5" cy="160.7" r="0.35" fill="#999"/>
<circle cx="202.2" cy="144.7" r="0.35" fill="#999"/>
<circle cx="178.0" cy="146.4" r="0.35" fill="#999"/>
<path d="M166,125 C165,119 169,117.5 174,117.8 C180,118 183,121 182.8,127 C182.6,133 180,137.5 175,138 C170,138.5 166.5,133 166,125 Z" fill="#8a8a8a" stroke="#444" stroke-width="0.6" filter="url(#soft)"/>
<ellipse cx="172" cy="125.5" rx="3.5" ry="5" fill="#5a5a5a" filter="url(#soft)"/>
<ellipse cx="171.5" cy="125" rx="1.2" ry="2" fill="#999"/>
<path d="M168,138 C167,145 169,152 174,156 C179,159 185,156 187,150 C188,144 185,139 181,137" fill="#e0e0e0" stroke="#888" stroke-width="0.6" filter="url(#soft)"/>
<path d="M171,140 C171,146 174,151 178,152 C182,152 184,147 182,141" fill="none" stroke="#999" stroke-width="0.5"/>
<g transform="translate(192.00,130.10) rotate(0)" opacity="1.0" filter="url(#soft)">
<ellipse rx="4.30" ry="4.30" fill="#e2e2e2" stroke="#777" stroke-width="0.45" stroke-opacity="0.55"/>
<ellipse rx="3.01" ry="3.01" fill="#cacaca" stroke="#777" stroke-width="0.45" stroke-opacity="0.55"/>
<ellipse rx="1.94" ry="1.94" fill="#b0b0b0" stroke="#777" stroke-width="0.45" stroke-opacity="0.55"/>
<ellipse cx="0.00" cy="0.00" rx="0.86" ry="0.86" fill="#ececec"/>
</g>
<g transform="translate(194.70,147.90) rotate(0)" opacity="1.0" filter="url(#soft)">
<ellipse rx="6.20" ry="7.00" fill="#c8c8c8" stroke="#555" stroke-width="0.45" stroke-opacity="0.55"/>
<ellipse rx="4.65" ry="5.25" fill="#a0a0a0" stroke="#555" stroke-width="0.45" stroke-opacity="0.55"/>
<ellipse rx="3.10" ry="3.50" fill="#7c7c7c" stroke="#555" stroke-width="0.45" stroke-opacity="0.55"/>
<ellipse cx="0.00" cy="0.00" rx="1.36" ry="1.54" fill="#ececec"/>
</g>
<rect x="186.50" y="111.00" width="36.50" height="27.30" stroke="#444" stroke-width="0.8" fill="none" />
<rect x="186.50" y="139.70" width="36.50" height="30.00" stroke="#444" stroke-width="0.8" fill="none" />
<text x="221.20" y="119.60" font-size="7.9"  text-anchor="end" fill="#222" >Tra-B</text>
<text x="187.60" y="166.60" font-size="7.6"  text-anchor="start" fill="#222" >Memory B</text>
<rect x="154.50" y="98.20" width="78.00" height="76.00" stroke="#666" stroke-width="0.9" fill="none" />
<line x1="153.00" y1="110.87" x2="154.50" y2="110.87" stroke="#666" stroke-width="0.6" />
<line x1="153.00" y1="123.53" x2="154.50" y2="123.53" stroke="#666" stroke-width="0.6" />
<line x1="153.00" y1="136.20" x2="154.50" y2="136.20" stroke="#666" stroke-width="0.6" />
<line x1="153.00" y1="148.87" x2="154.50" y2="148.87" stroke="#666" stroke-width="0.6" />
<line x1="153.00" y1="161.53" x2="154.50" y2="161.53" stroke="#666" stroke-width="0.6" />
<line x1="167.50" y1="174.20" x2="167.50" y2="175.70" stroke="#666" stroke-width="0.6" />
<line x1="180.50" y1="174.20" x2="180.50" y2="175.70" stroke="#666" stroke-width="0.6" />
<line x1="193.50" y1="174.20" x2="193.50" y2="175.70" stroke="#666" stroke-width="0.6" />
<line x1="206.50" y1="174.20" x2="206.50" y2="175.70" stroke="#666" stroke-width="0.6" />
<line x1="219.50" y1="174.20" x2="219.50" y2="175.70" stroke="#666" stroke-width="0.6" />
<text transform="translate(147.00,152.00) rotate(-90)" font-size="11.5" font-weight="bold" text-anchor="middle" fill="#000" >IgD</text>
<text x="179.00" y="187.00" font-size="11.5" font-weight="bold" text-anchor="middle" fill="#000" >CD27</text>
<text x="333.70" y="35.40" font-size="11" font-weight="bold" text-anchor="middle" fill="#000" >CD19<tspan baseline-shift="38%" font-size="70%">+</tspan></text>
<text x="392.50" y="35.40" font-size="11" font-weight="bold" text-anchor="middle" fill="#000" >Na&#239;ve B</text>
<text x="449.50" y="35.40" font-size="11" font-weight="bold" text-anchor="middle" fill="#000" >Tra-B</text>
<text x="505.60" y="35.40" font-size="11" font-weight="bold" text-anchor="middle" fill="#000" >Memory B</text>
<text x="567.60" y="35.40" font-size="11" font-weight="bold" text-anchor="middle" fill="#000" >PC</text>
<circle cx="310.7" cy="62.1" r="0.4" fill="#999"/>
<circle cx="324.0" cy="59.5" r="0.4" fill="#999"/>
<circle cx="310.0" cy="60.8" r="0.4" fill="#999"/>
<circle cx="320.9" cy="64.3" r="0.4" fill="#999"/>
<circle cx="310.7" cy="57.1" r="0.4" fill="#999"/>
<circle cx="322.2" cy="62.4" r="0.4" fill="#999"/>
<circle cx="327.2" cy="63.9" r="0.4" fill="#999"/>
<circle cx="317.4" cy="60.2" r="0.4" fill="#999"/>
<circle cx="333.4" cy="60.1" r="0.4" fill="#999"/>
<circle cx="313.3" cy="57.6" r="0.4" fill="#999"/>
<circle cx="318.6" cy="61.4" r="0.4" fill="#999"/>
<circle cx="315.9" cy="60.8" r="0.4" fill="#999"/>
<circle cx="319.6" cy="63.1" r="0.4" fill="#999"/>
<circle cx="324.6" cy="61.6" r="0.4" fill="#999"/>
<circle cx="307.3" cy="63.1" r="0.4" fill="#999"/>
<circle cx="309.5" cy="60.5" r="0.4" fill="#999"/>
<circle cx="309.2" cy="61.0" r="0.4" fill="#999"/>
<circle cx="313.3" cy="61.6" r="0.4" fill="#999"/>
<circle cx="337.8" cy="60.9" r="0.4" fill="#999"/>
<circle cx="323.1" cy="57.0" r="0.4" fill="#999"/>
<circle cx="316.3" cy="63.0" r="0.4" fill="#999"/>
<circle cx="317.4" cy="62.1" r="0.4" fill="#999"/>
<circle cx="318.6" cy="58.0" r="0.4" fill="#999"/>
<circle cx="321.4" cy="58.6" r="0.4" fill="#999"/>
<circle cx="329.2" cy="59.5" r="0.4" fill="#999"/>
<circle cx="322.1" cy="61.0" r="0.4" fill="#999"/>
<circle cx="323.7" cy="59.2" r="0.4" fill="#999"/>
<circle cx="324.0" cy="60.6" r="0.4" fill="#999"/>
<circle cx="325.6" cy="62.9" r="0.4" fill="#999"/>
<circle cx="318.8" cy="58.7" r="0.4" fill="#999"/>
<circle cx="322.6" cy="62.4" r="0.4" fill="#999"/>
<circle cx="327.9" cy="59.9" r="0.4" fill="#999"/>
<circle cx="321.3" cy="62.5" r="0.4" fill="#999"/>
<circle cx="319.7" cy="61.6" r="0.4" fill="#999"/>
<circle cx="319.1" cy="59.2" r="0.4" fill="#999"/>
<circle cx="311.9" cy="59.8" r="0.4" fill="#999"/>
<circle cx="321.5" cy="65.5" r="0.4" fill="#999"/>
<circle cx="323.9" cy="64.2" r="0.4" fill="#999"/>
<circle cx="322.7" cy="63.1" r="0.4" fill="#999"/>
<circle cx="319.1" cy="63.3" r="0.4" fill="#999"/>
<path d="M319,61 C319,57 325,56.3 333,56.3 L344,56.3 C349,56.3 351,58 350.5,60.5 C350,64 346,66.5 339,67 L324,67 C320,67 319,64 319,61 Z" fill="#b8b8b8" stroke="#666" stroke-width="0.5" opacity="1.0" filter="url(#soft)"/>
<path d="M333,58 L345,58 C349,58.5 349.5,62 347,64 C344,65.5 338,65.5 333,65 C330,64 330,59 333,58 Z" fill="#8a8a8a" stroke="#555" stroke-width="0.5" opacity="1.0" filter="url(#soft)"/>
<path d="M325,67 C326,74 327,81 329,83 C331.5,84 333.5,78 335.5,67" fill="#d0d0d0" stroke="#555" stroke-width="0.7" filter="url(#soft)"/>
<path d="M322,60 C328,62 340,62 348,60" fill="none" stroke="#eee" stroke-width="0.9" filter="url(#soft)"/>
<path d="M391.00,56.80 L399.50,56.80 C405.00,56.80 405.00,66.70 399.50,66.70 L391.00,66.70 C386.00,66.70 386.00,56.80 391.00,56.80 Z" fill="url(#tailg2)" stroke="#888" stroke-width="0.4" stroke-opacity="0.5" filter="url(#soft2)"/>
<ellipse cx="398.60" cy="61.75" rx="4.00" ry="3.10" fill="none" stroke="#555" stroke-width="1.4" opacity="0.8" filter="url(#soft)"/>
<ellipse cx="398.60" cy="61.75" rx="1.80" ry="1.30" fill="#f2f2f2" filter="url(#soft)"/>
<path d="M446.50,54.80 L459.50,54.80 C465.00,54.80 465.00,65.50 459.50,65.50 L446.50,65.50 C441.50,65.50 441.50,54.80 446.50,54.80 Z" fill="url(#tailg2)" stroke="#888" stroke-width="0.4" stroke-opacity="0.5" filter="url(#soft2)"/>
<ellipse cx="457.50" cy="60.15" rx="4.40" ry="3.10" fill="none" stroke="#555" stroke-width="1.4" opacity="0.8" filter="url(#soft)"/>
<ellipse cx="457.50" cy="60.15" rx="2.20" ry="1.30" fill="#f2f2f2" filter="url(#soft)"/>
<path d="M494,58.8 C494,56.3 497,55.8 502,55.8 L521,55.8 C525,56 526,58.8 525,60.5 C524,62 521,62 518,62 L498,62 C495,62 494,61 494,58.8 Z" fill="#bdbdbd" stroke="#666" stroke-width="0.5" opacity="1.0" filter="url(#soft)"/>
<path d="M500,58.8 C500,57.5 503,57.3 506,57.3 L519,57.3 C522,57.6 522,60.2 519,60.5 L505,60.5 C502,60.5 500,60 500,58.8 Z" fill="#666" stroke="#333" stroke-width="0.5" opacity="1.0" filter="url(#soft)"/>
<line x1="503" y1="58.9" x2="519" y2="58.9" stroke="#f2f2f2" stroke-width="0.9"/>
<circle cx="501.7" cy="66.7" r="0.35" fill="#aaa"/>
<circle cx="505.2" cy="64.6" r="0.35" fill="#aaa"/>
<circle cx="508.9" cy="66.2" r="0.35" fill="#aaa"/>
<circle cx="505.2" cy="71.4" r="0.35" fill="#aaa"/>
<circle cx="504.5" cy="62.2" r="0.35" fill="#aaa"/>
<circle cx="501.9" cy="64.4" r="0.35" fill="#aaa"/>
<circle cx="508.0" cy="68.6" r="0.35" fill="#aaa"/>
<circle cx="509.4" cy="71.6" r="0.35" fill="#aaa"/>
<circle cx="511.2" cy="68.0" r="0.35" fill="#aaa"/>
<circle cx="510.1" cy="68.1" r="0.35" fill="#aaa"/>
<circle cx="504.4" cy="68.6" r="0.35" fill="#aaa"/>
<circle cx="506.3" cy="65.5" r="0.35" fill="#aaa"/>
<g transform="translate(546.50,57.80) rotate(0)" opacity="1.0" filter="url(#soft)">
<ellipse rx="6.50" ry="3.20" fill="#e6e6e6" stroke="#666" stroke-width="0.5" stroke-opacity="0.55"/>
<ellipse rx="3.58" ry="1.76" fill="#f4f4f4" stroke="#666" stroke-width="0.5" stroke-opacity="0.55"/>
</g>
<path d="M552,60 C552,55 556,53 562,53.5 C566,54 568,56 571,55 C576,53 583,54 583.5,59 C584,64 581,68 575,68 C571,68 569,71 566,73 C561,75 553,73 552,68 Z" fill="#b4b4b4" stroke="#555" stroke-width="0.5" opacity="1.0" filter="url(#soft)"/>
<g transform="translate(561.00,65.00) rotate(0)" opacity="1.0" filter="url(#soft)">
<ellipse rx="8.00" ry="7.00" fill="#9c9c9c" stroke="#444" stroke-width="0.5" stroke-opacity="0.55"/>
<ellipse rx="5.76" ry="5.04" fill="#888" stroke="#444" stroke-width="0.5" stroke-opacity="0.55"/>
<ellipse rx="3.84" ry="3.36" fill="#777" stroke="#444" stroke-width="0.5" stroke-opacity="0.55"/>
<ellipse cx="0.00" cy="0.00" rx="1.60" ry="1.40" fill="#ececec"/>
</g>
<g transform="translate(576.00,60.00) rotate(0)" opacity="1.0" filter="url(#soft)">
<ellipse rx="7.00" ry="6.00" fill="#a8a8a8" stroke="#444" stroke-width="0.5" stroke-opacity="0.55"/>
<ellipse rx="4.76" ry="4.08" fill="#949494" stroke="#444" stroke-width="0.5" stroke-opacity="0.55"/>
<ellipse rx="2.94" ry="2.52" fill="#7c7c7c" stroke="#444" stroke-width="0.5" stroke-opacity="0.55"/>
<ellipse cx="0.00" cy="0.00" rx="1.26" ry="1.08" fill="#ececec"/>
</g>
<path d="M551,71 C551,77 556,80 560,78 C562,80 566,80 568,77 C571,79 574,76 572,71" fill="none" stroke="#999" stroke-width="0.6"/>
<circle cx="315.5" cy="122.8" r="0.4" fill="#999"/>
<circle cx="311.3" cy="114.5" r="0.4" fill="#999"/>
<circle cx="317.7" cy="120.7" r="0.4" fill="#999"/>
<circle cx="318.6" cy="120.4" r="0.4" fill="#999"/>
<circle cx="315.7" cy="117.7" r="0.4" fill="#999"/>
<circle cx="311.9" cy="118.7" r="0.4" fill="#999"/>
<circle cx="314.2" cy="121.6" r="0.4" fill="#999"/>
<circle cx="320.3" cy="116.1" r="0.4" fill="#999"/>
<circle cx="320.8" cy="119.2" r="0.4" fill="#999"/>
<circle cx="323.3" cy="123.0" r="0.4" fill="#999"/>
<circle cx="320.0" cy="114.8" r="0.4" fill="#999"/>
<circle cx="320.6" cy="115.3" r="0.4" fill="#999"/>
<circle cx="326.1" cy="117.6" r="0.4" fill="#999"/>
<circle cx="315.5" cy="123.9" r="0.4" fill="#999"/>
<circle cx="306.0" cy="119.3" r="0.4" fill="#999"/>
<circle cx="310.2" cy="118.0" r="0.4" fill="#999"/>
<circle cx="311.8" cy="121.0" r="0.4" fill="#999"/>
<circle cx="314.8" cy="120.2" r="0.4" fill="#999"/>
<circle cx="320.5" cy="114.9" r="0.4" fill="#999"/>
<circle cx="325.2" cy="118.7" r="0.4" fill="#999"/>
<circle cx="306.6" cy="117.6" r="0.4" fill="#999"/>
<circle cx="322.0" cy="121.8" r="0.4" fill="#999"/>
<circle cx="312.5" cy="119.5" r="0.4" fill="#999"/>
<circle cx="318.1" cy="121.9" r="0.4" fill="#999"/>
<circle cx="315.9" cy="121.8" r="0.4" fill="#999"/>
<circle cx="311.3" cy="117.5" r="0.4" fill="#999"/>
<circle cx="320.7" cy="121.1" r="0.4" fill="#999"/>
<circle cx="316.4" cy="120.8" r="0.4" fill="#999"/>
<circle cx="318.0" cy="121.2" r="0.4" fill="#999"/>
<circle cx="323.8" cy="120.6" r="0.4" fill="#999"/>
<circle cx="321.7" cy="118.3" r="0.4" fill="#999"/>
<circle cx="313.3" cy="113.3" r="0.4" fill="#999"/>
<circle cx="319.2" cy="119.4" r="0.4" fill="#999"/>
<circle cx="320.0" cy="114.5" r="0.4" fill="#999"/>
<circle cx="313.7" cy="117.9" r="0.4" fill="#999"/>
<circle cx="305.7" cy="121.6" r="0.4" fill="#999"/>
<circle cx="324.2" cy="116.0" r="0.4" fill="#999"/>
<circle cx="319.4" cy="123.7" r="0.4" fill="#999"/>
<circle cx="309.3" cy="121.8" r="0.4" fill="#999"/>
<circle cx="326.4" cy="124.1" r="0.4" fill="#999"/>
<circle cx="334.3" cy="138.8" r="0.4" fill="#888"/>
<circle cx="329.6" cy="137.8" r="0.4" fill="#888"/>
<circle cx="329.5" cy="126.7" r="0.4" fill="#888"/>
<circle cx="328.3" cy="141.2" r="0.4" fill="#888"/>
<circle cx="325.2" cy="139.2" r="0.4" fill="#888"/>
<circle cx="331.8" cy="136.4" r="0.4" fill="#888"/>
<circle cx="332.7" cy="131.3" r="0.4" fill="#888"/>
<circle cx="329.6" cy="143.0" r="0.4" fill="#888"/>
<circle cx="328.7" cy="131.9" r="0.4" fill="#888"/>
<circle cx="325.1" cy="131.7" r="0.4" fill="#888"/>
<circle cx="332.6" cy="140.2" r="0.4" fill="#888"/>
<circle cx="332.3" cy="137.2" r="0.4" fill="#888"/>
<circle cx="332.1" cy="135.7" r="0.4" fill="#888"/>
<circle cx="333.5" cy="133.3" r="0.4" fill="#888"/>
<circle cx="333.8" cy="133.7" r="0.4" fill="#888"/>
<circle cx="324.5" cy="127.7" r="0.4" fill="#888"/>
<circle cx="329.3" cy="131.8" r="0.4" fill="#888"/>
<circle cx="325.8" cy="130.2" r="0.4" fill="#888"/>
<circle cx="330.7" cy="136.0" r="0.4" fill="#888"/>
<circle cx="333.0" cy="129.7" r="0.4" fill="#888"/>
<circle cx="331.3" cy="139.2" r="0.4" fill="#888"/>
<circle cx="331.2" cy="142.8" r="0.4" fill="#888"/>
<circle cx="328.4" cy="134.0" r="0.4" fill="#888"/>
<circle cx="330.6" cy="132.0" r="0.4" fill="#888"/>
<circle cx="329.8" cy="135.2" r="0.4" fill="#888"/>
<circle cx="329.9" cy="131.5" r="0.4" fill="#888"/>
<circle cx="328.5" cy="133.6" r="0.4" fill="#888"/>
<circle cx="324.7" cy="134.9" r="0.4" fill="#888"/>
<circle cx="326.2" cy="132.8" r="0.4" fill="#888"/>
<circle cx="326.3" cy="134.5" r="0.4" fill="#888"/>
<circle cx="328.7" cy="132.7" r="0.4" fill="#888"/>
<circle cx="327.5" cy="134.6" r="0.4" fill="#888"/>
<circle cx="335.5" cy="125.2" r="0.4" fill="#888"/>
<circle cx="331.8" cy="135.1" r="0.4" fill="#888"/>
<circle cx="328.7" cy="127.8" r="0.4" fill="#888"/>
<circle cx="335.4" cy="134.9" r="0.4" fill="#888"/>
<circle cx="333.4" cy="132.2" r="0.4" fill="#888"/>
<circle cx="327.4" cy="139.3" r="0.4" fill="#888"/>
<circle cx="332.5" cy="132.5" r="0.4" fill="#888"/>
<circle cx="329.3" cy="137.1" r="0.4" fill="#888"/>
<circle cx="327.3" cy="129.9" r="0.4" fill="#888"/>
<circle cx="329.9" cy="139.0" r="0.4" fill="#888"/>
<circle cx="333.0" cy="134.9" r="0.4" fill="#888"/>
<circle cx="334.6" cy="133.3" r="0.4" fill="#888"/>
<circle cx="328.3" cy="145.5" r="0.4" fill="#888"/>
<circle cx="328.3" cy="137.0" r="0.4" fill="#888"/>
<circle cx="331.9" cy="134.6" r="0.4" fill="#888"/>
<circle cx="330.8" cy="137.4" r="0.4" fill="#888"/>
<circle cx="331.9" cy="131.2" r="0.4" fill="#888"/>
<path d="M318,118.5 C318,115.5 324,114.8 332,114.8 L346,114.8 C350,115 350.5,118 349.5,120 C348,122.5 343,123 337,123 L323,123 C319,123 318,121 318,118.5 Z" fill="#a8a8a8" stroke="#444" stroke-width="0.5" opacity="1.0" filter="url(#soft)"/>
<path d="M326,116 L346,116 C349,116.5 349,120 346,121 C340,122 332,122 327,121.5 C324,120.5 324,116.5 326,116 Z" fill="#4a4a4a" stroke="#222" stroke-width="0.6" opacity="1.0" filter="url(#soft)"/>
<line x1="329" y1="118.6" x2="345" y2="118.6" stroke="#e8e8e8" stroke-width="1"/>
<path d="M324.5,122 L327,134.5 L337.5,123.5" fill="none" stroke="#222" stroke-width="1.3" filter="url(#soft)"/>
<path d="M325.5,123 L327.5,131 L334,124" fill="#aaa" stroke="none" filter="url(#soft)"/>
<path d="M386.00,120.20 C390.00,118.20 392.00,116.70 394.00,116.70 L394.00,123.70 C392.00,123.70 390.00,122.20 386.00,120.20 Z" fill="url(#tailg)" opacity="0.6" filter="url(#soft)"/>
<g transform="translate(394.00,120.20) rotate(0)" opacity="1.0" filter="url(#soft)">
<ellipse rx="6.80" ry="3.60" fill="#b8b8b8" stroke="#444" stroke-width="0.45" stroke-opacity="0.55"/>
<ellipse rx="5.10" ry="2.70" fill="#7a7a7a" stroke="#444" stroke-width="0.45" stroke-opacity="0.55"/>
<ellipse rx="3.40" ry="1.80" fill="#4a4a4a" stroke="#444" stroke-width="0.45" stroke-opacity="0.55"/>
<ellipse cx="0.00" cy="0.00" rx="1.90" ry="1.01" fill="#ececec"/>
</g>
<path d="M400,120 C402,119 404,119.5 406,120" stroke="#bbb" stroke-width="1.5" fill="none" filter="url(#soft2)"/>
<path d="M433.00,118.00 C440.00,116.00 445.00,113.00 447.00,113.00 L447.00,123.00 C445.00,123.00 440.00,120.00 433.00,118.00 Z" fill="url(#tailg)" opacity="0.6" filter="url(#soft)"/>
<g transform="translate(451.50,117.80) rotate(0)" opacity="1.0" filter="url(#soft)">
<ellipse rx="12.50" ry="5.80" fill="#d0d0d0" stroke="#444" stroke-width="0.45" stroke-opacity="0.55"/>
<ellipse rx="9.75" ry="4.52" fill="#a8a8a8" stroke="#444" stroke-width="0.45" stroke-opacity="0.55"/>
<ellipse rx="6.88" ry="3.19" fill="#7e7e7e" stroke="#444" stroke-width="0.45" stroke-opacity="0.55"/>
<ellipse cx="0.00" cy="0.00" rx="2.75" ry="1.28" fill="#ececec"/>
</g>
<path d="M497,118.5 C497,115.5 500,114.3 505,114.3 L519,114.3 C523,114.5 523.5,118 522,121 C520,123 516,123 513,123 L501,123 C498,123 497,121 497,118.5 Z" fill="#b4b4b4" stroke="#555" stroke-width="0.5" opacity="1.0" filter="url(#soft)"/>
<path d="M502,118.5 C502,116.8 505,116.4 508,116.4 L518,116.4 C521,116.8 521,120.3 518,120.6 L506,120.6 C503,120.6 502,120 502,118.5 Z" fill="#555" stroke="#222" stroke-width="0.5" opacity="1.0" filter="url(#soft)"/>
<line x1="505" y1="118.5" x2="518" y2="118.5" stroke="#eee" stroke-width="0.9"/>
<path d="M539.5,117 C539,112.5 544,111.8 550,112 C556,112.3 560,113 566,113.5 C573,114 578.5,115 578.5,119 C578.5,123 573,124.5 566,124.5 C564,128 562,132.5 559,132.5 C556,132.5 555,128 554,124.5 C547,124.5 540,122 539.5,117 Z" fill="#bcbcbc" stroke="#555" stroke-width="0.5" opacity="1.0" filter="url(#soft)"/>
<g transform="translate(549.00,117.50) rotate(0)" opacity="1.0" filter="url(#soft)">
<ellipse rx="8.50" ry="5.00" fill="#a8a8a8" stroke="#555" stroke-width="0.45" stroke-opacity="0.55"/>
<ellipse rx="5.95" ry="3.50" fill="#969696" stroke="#555" stroke-width="0.45" stroke-opacity="0.55"/>
<ellipse rx="3.83" ry="2.25" fill="#888" stroke="#555" stroke-width="0.45" stroke-opacity="0.55"/>
<ellipse cx="0.00" cy="0.00" rx="1.70" ry="1.00" fill="#ddd"/>
</g>
<path d="M552,113.5 C557,113 561,116 561,121 C561,125 560,129 558.5,131" fill="none" stroke="#444" stroke-width="1.1" filter="url(#soft)"/>
<g transform="translate(568.00,119.00) rotate(0)" opacity="1.0" filter="url(#soft)">
<ellipse rx="9.00" ry="4.80" fill="#c4c4c4" stroke="#666" stroke-width="0.45" stroke-opacity="0.55"/>
<ellipse rx="5.85" ry="3.12" fill="#aaa" stroke="#666" stroke-width="0.45" stroke-opacity="0.55"/>
<ellipse rx="3.60" ry="1.92" fill="#9a9a9a" stroke="#666" stroke-width="0.45" stroke-opacity="0.55"/>
<ellipse cx="0.00" cy="0.00" rx="1.80" ry="0.96" fill="#e6e6e6"/>
</g>
<circle cx="568.9" cy="123.9" r="0.35" fill="#aaa"/>
<circle cx="567.7" cy="121.7" r="0.35" fill="#aaa"/>
<circle cx="569.1" cy="123.9" r="0.35" fill="#aaa"/>
<circle cx="574.6" cy="119.8" r="0.35" fill="#aaa"/>
<circle cx="583.5" cy="111.0" r="0.35" fill="#aaa"/>
<circle cx="568.4" cy="127.6" r="0.35" fill="#aaa"/>
<circle cx="566.7" cy="120.9" r="0.35" fill="#aaa"/>
<circle cx="567.6" cy="126.9" r="0.35" fill="#aaa"/>
<circle cx="575.7" cy="117.7" r="0.35" fill="#aaa"/>
<circle cx="569.3" cy="121.3" r="0.35" fill="#aaa"/>
<circle cx="574.4" cy="121.8" r="0.35" fill="#aaa"/>
<circle cx="568.8" cy="128.4" r="0.35" fill="#aaa"/>
<circle cx="565.9" cy="124.8" r="0.35" fill="#aaa"/>
<circle cx="562.8" cy="122.5" r="0.35" fill="#aaa"/>
<circle cx="555.5" cy="120.1" r="0.35" fill="#aaa"/>
<rect x="304.00" y="40.00" width="57.50" height="57.00" stroke="#9a9a9a" stroke-width="0.7" fill="none" />
<line x1="302.50" y1="51.40" x2="304.00" y2="51.40" stroke="#888" stroke-width="0.6" />
<line x1="302.50" y1="62.80" x2="304.00" y2="62.80" stroke="#888" stroke-width="0.6" />
<line x1="302.50" y1="74.20" x2="304.00" y2="74.20" stroke="#888" stroke-width="0.6" />
<line x1="302.50" y1="85.60" x2="304.00" y2="85.60" stroke="#888" stroke-width="0.6" />
<line x1="315.50" y1="97.00" x2="315.50" y2="98.50" stroke="#888" stroke-width="0.6" />
<line x1="327.00" y1="97.00" x2="327.00" y2="98.50" stroke="#888" stroke-width="0.6" />
<line x1="338.50" y1="97.00" x2="338.50" y2="98.50" stroke="#888" stroke-width="0.6" />
<line x1="350.00" y1="97.00" x2="350.00" y2="98.50" stroke="#888" stroke-width="0.6" />
<line x1="338.00" y1="40.00" x2="338.00" y2="97.00" stroke="#3a3a3a" stroke-width="0.9" />
<line x1="304.00" y1="68.30" x2="361.50" y2="68.30" stroke="#3a3a3a" stroke-width="0.9" />
<text x="305.80" y="47.60" font-size="7"  text-anchor="start" fill="#111" >33.9</text>
<text x="360.30" y="47.60" font-size="7"  text-anchor="end" fill="#111" >56</text>
<text x="305.80" y="94.60" font-size="7"  text-anchor="start" fill="#111" >9.72</text>
<text x="360.30" y="94.60" font-size="7"  text-anchor="end" fill="#111" >0.46</text>
<rect x="362.50" y="40.00" width="57.50" height="57.00" stroke="#9a9a9a" stroke-width="0.7" fill="none" />
<line x1="361.00" y1="51.40" x2="362.50" y2="51.40" stroke="#888" stroke-width="0.6" />
<line x1="361.00" y1="62.80" x2="362.50" y2="62.80" stroke="#888" stroke-width="0.6" />
<line x1="361.00" y1="74.20" x2="362.50" y2="74.20" stroke="#888" stroke-width="0.6" />
<line x1="361.00" y1="85.60" x2="362.50" y2="85.60" stroke="#888" stroke-width="0.6" />
<line x1="374.00" y1="97.00" x2="374.00" y2="98.50" stroke="#888" stroke-width="0.6" />
<line x1="385.50" y1="97.00" x2="385.50" y2="98.50" stroke="#888" stroke-width="0.6" />
<line x1="397.00" y1="97.00" x2="397.00" y2="98.50" stroke="#888" stroke-width="0.6" />
<line x1="408.50" y1="97.00" x2="408.50" y2="98.50" stroke="#888" stroke-width="0.6" />
<line x1="396.50" y1="40.00" x2="396.50" y2="97.00" stroke="#3a3a3a" stroke-width="0.9" />
<line x1="362.50" y1="68.30" x2="420.00" y2="68.30" stroke="#3a3a3a" stroke-width="0.9" />
<text x="364.30" y="47.60" font-size="7"  text-anchor="start" fill="#111" >26.5</text>
<text x="418.80" y="47.60" font-size="7"  text-anchor="end" fill="#111" >72.7</text>
<text x="364.30" y="94.60" font-size="7"  text-anchor="start" fill="#111" >0.69</text>
<text x="418.80" y="94.60" font-size="7"  text-anchor="end" fill="#111" >0.094</text>
<rect x="421.00" y="40.00" width="57.50" height="57.00" stroke="#9a9a9a" stroke-width="0.7" fill="none" />
<line x1="419.50" y1="51.40" x2="421.00" y2="51.40" stroke="#888" stroke-width="0.6" />
<line x1="419.50" y1="62.80" x2="421.00" y2="62.80" stroke="#888" stroke-width="0.6" />
<line x1="419.50" y1="74.20" x2="421.00" y2="74.20" stroke="#888" stroke-width="0.6" />
<line x1="419.50" y1="85.60" x2="421.00" y2="85.60" stroke="#888" stroke-width="0.6" />
<line x1="432.50" y1="97.00" x2="432.50" y2="98.50" stroke="#888" stroke-width="0.6" />
<line x1="444.00" y1="97.00" x2="444.00" y2="98.50" stroke="#888" stroke-width="0.6" />
<line x1="455.50" y1="97.00" x2="455.50" y2="98.50" stroke="#888" stroke-width="0.6" />
<line x1="467.00" y1="97.00" x2="467.00" y2="98.50" stroke="#888" stroke-width="0.6" />
<line x1="455.00" y1="40.00" x2="455.00" y2="97.00" stroke="#3a3a3a" stroke-width="0.9" />
<line x1="421.00" y1="68.30" x2="478.50" y2="68.30" stroke="#3a3a3a" stroke-width="0.9" />
<text x="422.80" y="47.60" font-size="7"  text-anchor="start" fill="#111" >32.2</text>
<text x="477.30" y="47.60" font-size="7"  text-anchor="end" fill="#111" >67.6</text>
<text x="422.80" y="94.60" font-size="7"  text-anchor="start" fill="#111" >0.17</text>
<text x="477.30" y="94.60" font-size="7"  text-anchor="end" fill="#111" >0</text>
<rect x="479.50" y="40.00" width="57.50" height="57.00" stroke="#9a9a9a" stroke-width="0.7" fill="none" />
<line x1="478.00" y1="51.40" x2="479.50" y2="51.40" stroke="#888" stroke-width="0.6" />
<line x1="478.00" y1="62.80" x2="479.50" y2="62.80" stroke="#888" stroke-width="0.6" />
<line x1="478.00" y1="74.20" x2="479.50" y2="74.20" stroke="#888" stroke-width="0.6" />
<line x1="478.00" y1="85.60" x2="479.50" y2="85.60" stroke="#888" stroke-width="0.6" />
<line x1="491.00" y1="97.00" x2="491.00" y2="98.50" stroke="#888" stroke-width="0.6" />
<line x1="502.50" y1="97.00" x2="502.50" y2="98.50" stroke="#888" stroke-width="0.6" />
<line x1="514.00" y1="97.00" x2="514.00" y2="98.50" stroke="#888" stroke-width="0.6" />
<line x1="525.50" y1="97.00" x2="525.50" y2="98.50" stroke="#888" stroke-width="0.6" />
<line x1="513.50" y1="40.00" x2="513.50" y2="97.00" stroke="#3a3a3a" stroke-width="0.9" />
<line x1="479.50" y1="68.30" x2="537.00" y2="68.30" stroke="#3a3a3a" stroke-width="0.9" />
<text x="481.30" y="47.60" font-size="7"  text-anchor="start" fill="#111" >47.2</text>
<text x="535.80" y="47.60" font-size="7"  text-anchor="end" fill="#111" >50.7</text>
<text x="481.30" y="94.60" font-size="7"  text-anchor="start" fill="#111" >2.09</text>
<text x="535.80" y="94.60" font-size="7"  text-anchor="end" fill="#111" >0</text>
<rect x="537.50" y="40.00" width="57.50" height="57.00" stroke="#9a9a9a" stroke-width="0.7" fill="none" />
<line x1="536.00" y1="51.40" x2="537.50" y2="51.40" stroke="#888" stroke-width="0.6" />
<line x1="536.00" y1="62.80" x2="537.50" y2="62.80" stroke="#888" stroke-width="0.6" />
<line x1="536.00" y1="74.20" x2="537.50" y2="74.20" stroke="#888" stroke-width="0.6" />
<line x1="536.00" y1="85.60" x2="537.50" y2="85.60" stroke="#888" stroke-width="0.6" />
<line x1="549.00" y1="97.00" x2="549.00" y2="98.50" stroke="#888" stroke-width="0.6" />
<line x1="560.50" y1="97.00" x2="560.50" y2="98.50" stroke="#888" stroke-width="0.6" />
<line x1="572.00" y1="97.00" x2="572.00" y2="98.50" stroke="#888" stroke-width="0.6" />
<line x1="583.50" y1="97.00" x2="583.50" y2="98.50" stroke="#888" stroke-width="0.6" />
<line x1="571.50" y1="40.00" x2="571.50" y2="97.00" stroke="#3a3a3a" stroke-width="0.9" />
<line x1="537.50" y1="68.30" x2="595.00" y2="68.30" stroke="#3a3a3a" stroke-width="0.9" />
<text x="539.30" y="47.60" font-size="7"  text-anchor="start" fill="#111" >51.1</text>
<text x="593.80" y="47.60" font-size="7"  text-anchor="end" fill="#111" >33</text>
<text x="539.30" y="94.60" font-size="7"  text-anchor="start" fill="#111" >12.4</text>
<text x="593.80" y="94.60" font-size="7"  text-anchor="end" fill="#111" >3.53</text>
<rect x="304.00" y="98.50" width="57.50" height="57.00" stroke="#9a9a9a" stroke-width="0.7" fill="none" />
<line x1="302.50" y1="109.90" x2="304.00" y2="109.90" stroke="#888" stroke-width="0.6" />
<line x1="302.50" y1="121.30" x2="304.00" y2="121.30" stroke="#888" stroke-width="0.6" />
<line x1="302.50" y1="132.70" x2="304.00" y2="132.70" stroke="#888" stroke-width="0.6" />
<line x1="302.50" y1="144.10" x2="304.00" y2="144.10" stroke="#888" stroke-width="0.6" />
<line x1="315.50" y1="155.50" x2="315.50" y2="157.00" stroke="#888" stroke-width="0.6" />
<line x1="327.00" y1="155.50" x2="327.00" y2="157.00" stroke="#888" stroke-width="0.6" />
<line x1="338.50" y1="155.50" x2="338.50" y2="157.00" stroke="#888" stroke-width="0.6" />
<line x1="350.00" y1="155.50" x2="350.00" y2="157.00" stroke="#888" stroke-width="0.6" />
<line x1="338.00" y1="98.50" x2="338.00" y2="155.50" stroke="#3a3a3a" stroke-width="0.9" />
<line x1="304.00" y1="126.50" x2="361.50" y2="126.50" stroke="#3a3a3a" stroke-width="0.9" />
<text x="305.80" y="106.10" font-size="7"  text-anchor="start" fill="#111" >80.2</text>
<text x="360.30" y="106.10" font-size="7"  text-anchor="end" fill="#111" >12.1</text>
<text x="305.80" y="153.10" font-size="7"  text-anchor="start" fill="#111" >7.62</text>
<text x="360.30" y="153.10" font-size="7"  text-anchor="end" fill="#111" >0.075</text>
<rect x="362.50" y="98.50" width="57.50" height="57.00" stroke="#9a9a9a" stroke-width="0.7" fill="none" />
<line x1="361.00" y1="109.90" x2="362.50" y2="109.90" stroke="#888" stroke-width="0.6" />
<line x1="361.00" y1="121.30" x2="362.50" y2="121.30" stroke="#888" stroke-width="0.6" />
<line x1="361.00" y1="132.70" x2="362.50" y2="132.70" stroke="#888" stroke-width="0.6" />
<line x1="361.00" y1="144.10" x2="362.50" y2="144.10" stroke="#888" stroke-width="0.6" />
<line x1="374.00" y1="155.50" x2="374.00" y2="157.00" stroke="#888" stroke-width="0.6" />
<line x1="385.50" y1="155.50" x2="385.50" y2="157.00" stroke="#888" stroke-width="0.6" />
<line x1="397.00" y1="155.50" x2="397.00" y2="157.00" stroke="#888" stroke-width="0.6" />
<line x1="408.50" y1="155.50" x2="408.50" y2="157.00" stroke="#888" stroke-width="0.6" />
<line x1="396.50" y1="98.50" x2="396.50" y2="155.50" stroke="#3a3a3a" stroke-width="0.9" />
<line x1="362.50" y1="126.50" x2="420.00" y2="126.50" stroke="#3a3a3a" stroke-width="0.9" />
<text x="364.30" y="106.10" font-size="7"  text-anchor="start" fill="#111" >86.3</text>
<text x="418.80" y="106.10" font-size="7"  text-anchor="end" fill="#111" >12.7</text>
<text x="364.30" y="153.10" font-size="7"  text-anchor="start" fill="#111" >0.97</text>
<text x="418.80" y="153.10" font-size="7"  text-anchor="end" fill="#111" >0</text>
<rect x="421.00" y="98.50" width="57.50" height="57.00" stroke="#9a9a9a" stroke-width="0.7" fill="none" />
<line x1="419.50" y1="109.90" x2="421.00" y2="109.90" stroke="#888" stroke-width="0.6" />
<line x1="419.50" y1="121.30" x2="421.00" y2="121.30" stroke="#888" stroke-width="0.6" />
<line x1="419.50" y1="132.70" x2="421.00" y2="132.70" stroke="#888" stroke-width="0.6" />
<line x1="419.50" y1="144.10" x2="421.00" y2="144.10" stroke="#888" stroke-width="0.6" />
<line x1="432.50" y1="155.50" x2="432.50" y2="157.00" stroke="#888" stroke-width="0.6" />
<line x1="444.00" y1="155.50" x2="444.00" y2="157.00" stroke="#888" stroke-width="0.6" />
<line x1="455.50" y1="155.50" x2="455.50" y2="157.00" stroke="#888" stroke-width="0.6" />
<line x1="467.00" y1="155.50" x2="467.00" y2="157.00" stroke="#888" stroke-width="0.6" />
<line x1="455.00" y1="98.50" x2="455.00" y2="155.50" stroke="#3a3a3a" stroke-width="0.9" />
<line x1="421.00" y1="126.50" x2="478.50" y2="126.50" stroke="#3a3a3a" stroke-width="0.9" />
<text x="422.80" y="106.10" font-size="7"  text-anchor="start" fill="#111" >75.2</text>
<text x="477.30" y="106.10" font-size="7"  text-anchor="end" fill="#111" >23.3</text>
<text x="422.80" y="153.10" font-size="7"  text-anchor="start" fill="#111" >1.55</text>
<text x="477.30" y="153.10" font-size="7"  text-anchor="end" fill="#111" >0</text>
<rect x="479.50" y="98.50" width="57.50" height="57.00" stroke="#9a9a9a" stroke-width="0.7" fill="none" />
<line x1="478.00" y1="109.90" x2="479.50" y2="109.90" stroke="#888" stroke-width="0.6" />
<line x1="478.00" y1="121.30" x2="479.50" y2="121.30" stroke="#888" stroke-width="0.6" />
<line x1="478.00" y1="132.70" x2="479.50" y2="132.70" stroke="#888" stroke-width="0.6" />
<line x1="478.00" y1="144.10" x2="479.50" y2="144.10" stroke="#888" stroke-width="0.6" />
<line x1="491.00" y1="155.50" x2="491.00" y2="157.00" stroke="#888" stroke-width="0.6" />
<line x1="502.50" y1="155.50" x2="502.50" y2="157.00" stroke="#888" stroke-width="0.6" />
<line x1="514.00" y1="155.50" x2="514.00" y2="157.00" stroke="#888" stroke-width="0.6" />
<line x1="525.50" y1="155.50" x2="525.50" y2="157.00" stroke="#888" stroke-width="0.6" />
<line x1="513.50" y1="98.50" x2="513.50" y2="155.50" stroke="#3a3a3a" stroke-width="0.9" />
<line x1="479.50" y1="126.50" x2="537.00" y2="126.50" stroke="#3a3a3a" stroke-width="0.9" />
<text x="481.30" y="106.10" font-size="7"  text-anchor="start" fill="#111" >64.7</text>
<text x="535.80" y="106.10" font-size="7"  text-anchor="end" fill="#111" >33.9</text>
<text x="481.30" y="153.10" font-size="7"  text-anchor="start" fill="#111" >1.24</text>
<text x="535.80" y="153.10" font-size="7"  text-anchor="end" fill="#111" >0.13</text>
<rect x="537.50" y="98.50" width="57.50" height="57.00" stroke="#9a9a9a" stroke-width="0.7" fill="none" />
<line x1="536.00" y1="109.90" x2="537.50" y2="109.90" stroke="#888" stroke-width="0.6" />
<line x1="536.00" y1="121.30" x2="537.50" y2="121.30" stroke="#888" stroke-width="0.6" />
<line x1="536.00" y1="132.70" x2="537.50" y2="132.70" stroke="#888" stroke-width="0.6" />
<line x1="536.00" y1="144.10" x2="537.50" y2="144.10" stroke="#888" stroke-width="0.6" />
<line x1="549.00" y1="155.50" x2="549.00" y2="157.00" stroke="#888" stroke-width="0.6" />
<line x1="560.50" y1="155.50" x2="560.50" y2="157.00" stroke="#888" stroke-width="0.6" />
<line x1="572.00" y1="155.50" x2="572.00" y2="157.00" stroke="#888" stroke-width="0.6" />
<line x1="583.50" y1="155.50" x2="583.50" y2="157.00" stroke="#888" stroke-width="0.6" />
<line x1="571.50" y1="98.50" x2="571.50" y2="155.50" stroke="#3a3a3a" stroke-width="0.9" />
<line x1="537.50" y1="126.50" x2="595.00" y2="126.50" stroke="#3a3a3a" stroke-width="0.9" />
<text x="539.30" y="106.10" font-size="7"  text-anchor="start" fill="#111" >61.7</text>
<text x="593.80" y="106.10" font-size="7"  text-anchor="end" fill="#111" >9.62</text>
<text x="539.30" y="153.10" font-size="7"  text-anchor="start" fill="#111" >7.31</text>
<text x="593.80" y="153.10" font-size="7"  text-anchor="end" fill="#111" >1.34</text>
<line x1="294.80" y1="78.00" x2="294.80" y2="163.50" stroke="#000" stroke-width="2" />
<line x1="294.00" y1="163.00" x2="552.00" y2="163.00" stroke="#000" stroke-width="2" />
<polygon points="292.30,79.00 297.30,79.00 294.80,72.50" stroke="#000" stroke-width="0" fill="#000" />
<polygon points="551.00,160.30 551.00,165.70 557.50,163.00" stroke="#000" stroke-width="0" fill="#000" />
<text transform="translate(298.50,55.50) rotate(-90)" font-size="11.5" font-weight="bold" text-anchor="middle" fill="#000" >CD44</text>
<text x="559.00" y="166.80" font-size="11.5" font-weight="bold" text-anchor="start" fill="#000" >CD62L</text>
<text x="267.00" y="79.60" font-size="11" font-weight="bold" text-anchor="start" fill="#000" >HC</text>
<text x="265.00" y="130.60" font-size="11" font-weight="bold" text-anchor="start" fill="#000" >SLE</text>
<line x1="43.00" y1="219.40" x2="307.60" y2="219.40" stroke="#000" stroke-width="2" />
<text x="142.70" y="214.50" font-size="11" font-weight="bold" text-anchor="start" fill="#000" >CD44<tspan baseline-shift="38%" font-size="70%">+</tspan>CD62L<tspan baseline-shift="38%" font-size="70%">-</tspan></text>
<text x="69.30" y="233.00" font-size="11" font-weight="bold" text-anchor="middle" fill="#000" >CD19<tspan baseline-shift="38%" font-size="70%">+</tspan></text>
<text x="122.00" y="233.00" font-size="11" font-weight="bold" text-anchor="middle" fill="#000" >Na&#239;ve B</text>
<text x="175.90" y="233.00" font-size="11" font-weight="bold" text-anchor="middle" fill="#000" >Tra-B</text>
<text x="234.70" y="233.00" font-size="11" font-weight="bold" text-anchor="middle" fill="#000" >Memory B</text>
<text x="290.30" y="233.00" font-size="11" font-weight="bold" text-anchor="middle" fill="#000" >PC</text>
<circle cx="65.5" cy="288.3" r="0.4" fill="#aaa"/>
<circle cx="54.7" cy="279.6" r="0.4" fill="#aaa"/>
<circle cx="62.6" cy="289.9" r="0.4" fill="#aaa"/>
<circle cx="63.0" cy="278.5" r="0.4" fill="#aaa"/>
<circle cx="54.9" cy="282.9" r="0.4" fill="#aaa"/>
<circle cx="66.7" cy="283.1" r="0.4" fill="#aaa"/>
<circle cx="57.7" cy="282.2" r="0.4" fill="#aaa"/>
<circle cx="61.4" cy="280.2" r="0.4" fill="#aaa"/>
<circle cx="60.2" cy="284.2" r="0.4" fill="#aaa"/>
<circle cx="71.5" cy="282.9" r="0.4" fill="#aaa"/>
<circle cx="66.8" cy="279.1" r="0.4" fill="#aaa"/>
<circle cx="66.1" cy="283.8" r="0.4" fill="#aaa"/>
<circle cx="56.5" cy="283.0" r="0.4" fill="#aaa"/>
<circle cx="66.4" cy="281.9" r="0.4" fill="#aaa"/>
<circle cx="67.3" cy="289.1" r="0.4" fill="#aaa"/>
<circle cx="71.4" cy="289.5" r="0.4" fill="#aaa"/>
<circle cx="51.5" cy="284.5" r="0.4" fill="#aaa"/>
<circle cx="55.6" cy="286.8" r="0.4" fill="#aaa"/>
<circle cx="60.7" cy="284.0" r="0.4" fill="#aaa"/>
<circle cx="63.4" cy="280.8" r="0.4" fill="#aaa"/>
<circle cx="60.9" cy="280.3" r="0.4" fill="#aaa"/>
<circle cx="74.5" cy="281.3" r="0.4" fill="#aaa"/>
<circle cx="60.4" cy="276.2" r="0.4" fill="#aaa"/>
<circle cx="50.1" cy="279.9" r="0.4" fill="#aaa"/>
<circle cx="65.7" cy="286.2" r="0.4" fill="#aaa"/>
<circle cx="62.2" cy="280.6" r="0.4" fill="#aaa"/>
<circle cx="73.0" cy="279.1" r="0.4" fill="#aaa"/>
<circle cx="54.4" cy="285.1" r="0.4" fill="#aaa"/>
<circle cx="53.4" cy="284.2" r="0.4" fill="#aaa"/>
<circle cx="66.9" cy="282.9" r="0.4" fill="#aaa"/>
<circle cx="63.1" cy="283.3" r="0.4" fill="#aaa"/>
<circle cx="51.9" cy="283.1" r="0.4" fill="#aaa"/>
<circle cx="49.0" cy="280.9" r="0.4" fill="#aaa"/>
<circle cx="61.7" cy="288.4" r="0.4" fill="#aaa"/>
<circle cx="50.8" cy="281.1" r="0.4" fill="#aaa"/>
<circle cx="61.8" cy="285.2" r="0.4" fill="#aaa"/>
<circle cx="50.7" cy="290.5" r="0.4" fill="#aaa"/>
<circle cx="54.6" cy="287.4" r="0.4" fill="#aaa"/>
<circle cx="58.9" cy="284.8" r="0.4" fill="#aaa"/>
<circle cx="71.8" cy="285.9" r="0.4" fill="#aaa"/>
<circle cx="61.1" cy="279.2" r="0.4" fill="#aaa"/>
<circle cx="55.7" cy="277.5" r="0.4" fill="#aaa"/>
<circle cx="74.2" cy="277.0" r="0.4" fill="#aaa"/>
<circle cx="42.4" cy="289.6" r="0.4" fill="#aaa"/>
<circle cx="69.1" cy="281.7" r="0.4" fill="#aaa"/>
<circle cx="66.0" cy="279.9" r="0.4" fill="#aaa"/>
<circle cx="56.3" cy="285.1" r="0.4" fill="#aaa"/>
<circle cx="63.0" cy="281.3" r="0.4" fill="#aaa"/>
<circle cx="71.5" cy="286.1" r="0.4" fill="#aaa"/>
<circle cx="61.2" cy="278.5" r="0.4" fill="#aaa"/>
<circle cx="61.2" cy="281.9" r="0.4" fill="#aaa"/>
<circle cx="59.7" cy="286.3" r="0.4" fill="#aaa"/>
<circle cx="56.3" cy="284.2" r="0.4" fill="#aaa"/>
<circle cx="65.8" cy="284.5" r="0.4" fill="#aaa"/>
<circle cx="59.8" cy="278.4" r="0.4" fill="#aaa"/>
<circle cx="48.8" cy="282.0" r="0.4" fill="#aaa"/>
<circle cx="64.8" cy="283.5" r="0.4" fill="#aaa"/>
<g transform="translate(62.00,283.50) rotate(0)" opacity="1.0" filter="url(#soft)">
<ellipse rx="12.00" ry="7.00" fill="#e4e4e4" stroke="#999" stroke-width="0.45" stroke-opacity="0.55"/>
<ellipse rx="9.60" ry="5.60" fill="#d0d0d0" stroke="#999" stroke-width="0.45" stroke-opacity="0.55"/>
</g>
<path d="M58,279.5 C63,278.9 68,278.9 73,279.5" stroke="#888" stroke-width="0.5" fill="none"/>
<path d="M58,282 C63,281.4 68,281.4 73,282" stroke="#888" stroke-width="0.5" fill="none"/>
<path d="M58,284.5 C63,283.9 68,283.9 73,284.5" stroke="#888" stroke-width="0.5" fill="none"/>
<path d="M58,287 C63,286.4 68,286.4 73,287" stroke="#888" stroke-width="0.5" fill="none"/>
<g transform="translate(55.80,284.80) rotate(0)" opacity="1.0" filter="url(#soft)">
<ellipse rx="5.00" ry="6.00" fill="#d0d0d0" stroke="#444" stroke-width="0.45" stroke-opacity="0.55"/>
<ellipse rx="4.00" ry="4.80" fill="#a0a0a0" stroke="#444" stroke-width="0.45" stroke-opacity="0.55"/>
<ellipse rx="3.00" ry="3.60" fill="#6a6a6a" stroke="#444" stroke-width="0.45" stroke-opacity="0.55"/>
<ellipse rx="2.10" ry="2.52" fill="#5a5a5a" stroke="#444" stroke-width="0.45" stroke-opacity="0.55"/>
<ellipse cx="0.00" cy="0.00" rx="1.25" ry="1.50" fill="#ececec"/>
</g>
<g transform="translate(125.50,284.50) rotate(0)" opacity="1.0" filter="url(#soft)">
<ellipse rx="4.00" ry="5.50" fill="#e2e2e2" stroke="#444" stroke-width="0.45" stroke-opacity="0.55"/>
<ellipse rx="2.80" ry="3.85" fill="#c4c4c4" stroke="#444" stroke-width="0.45" stroke-opacity="0.55"/>
<ellipse rx="1.80" ry="2.48" fill="#a8a8a8" stroke="#444" stroke-width="0.45" stroke-opacity="0.55"/>
<ellipse cx="0.00" cy="0.00" rx="1.20" ry="1.65" fill="#ececec"/>
</g>
<g transform="translate(113.30,284.80) rotate(0)" opacity="1.0" filter="url(#soft)">
<ellipse rx="5.50" ry="6.00" fill="#d0d0d0" stroke="#444" stroke-width="0.45" stroke-opacity="0.55"/>
<ellipse rx="4.40" ry="4.80" fill="#a0a0a0" stroke="#444" stroke-width="0.45" stroke-opacity="0.55"/>
<ellipse rx="3.30" ry="3.60" fill="#6a6a6a" stroke="#444" stroke-width="0.45" stroke-opacity="0.55"/>
<ellipse rx="2.31" ry="2.52" fill="#5a5a5a" stroke="#444" stroke-width="0.45" stroke-opacity="0.55"/>
<ellipse cx="0.00" cy="0.00" rx="1.65" ry="1.80" fill="#ececec"/>
</g>
<g transform="translate(169.80,283.50) rotate(0)" opacity="1.0" filter="url(#soft)">
<ellipse rx="5.50" ry="5.80" fill="#dadada" stroke="#444" stroke-width="0.45" stroke-opacity="0.55"/>
<ellipse rx="4.12" ry="4.35" fill="#b4b4b4" stroke="#444" stroke-width="0.45" stroke-opacity="0.55"/>
<ellipse rx="2.75" ry="2.90" fill="#8c8c8c" stroke="#444" stroke-width="0.45" stroke-opacity="0.55"/>
<ellipse cx="0.00" cy="0.00" rx="1.65" ry="1.74" fill="#ececec"/>
</g>
<g transform="translate(182.30,284.20) rotate(0)" opacity="1.0" filter="url(#soft)">
<ellipse rx="5.80" ry="6.20" fill="#d0d0d0" stroke="#444" stroke-width="0.45" stroke-opacity="0.55"/>
<ellipse rx="4.64" ry="4.96" fill="#a0a0a0" stroke="#444" stroke-width="0.45" stroke-opacity="0.55"/>
<ellipse rx="3.48" ry="3.72" fill="#6a6a6a" stroke="#444" stroke-width="0.45" stroke-opacity="0.55"/>
<ellipse rx="2.44" ry="2.60" fill="#5a5a5a" stroke="#444" stroke-width="0.45" stroke-opacity="0.55"/>
<ellipse cx="0.00" cy="0.00" rx="1.74" ry="1.86" fill="#ececec"/>
</g>
<g transform="translate(227.00,282.60) rotate(0)" opacity="1.0" filter="url(#soft)">
<ellipse rx="5.20" ry="5.60" fill="#dadada" stroke="#444" stroke-width="0.45" stroke-opacity="0.55"/>
<ellipse rx="3.90" ry="4.20" fill="#b4b4b4" stroke="#444" stroke-width="0.45" stroke-opacity="0.55"/>
<ellipse rx="2.60" ry="2.80" fill="#8c8c8c" stroke="#444" stroke-width="0.45" stroke-opacity="0.55"/>
<ellipse cx="0.00" cy="0.00" rx="1.56" ry="1.68" fill="#ececec"/>
</g>
<g transform="translate(239.50,284.30) rotate(0)" opacity="1.0" filter="url(#soft)">
<ellipse rx="5.80" ry="6.50" fill="#d0d0d0" stroke="#444" stroke-width="0.45" stroke-opacity="0.55"/>
<ellipse rx="4.64" ry="5.20" fill="#a0a0a0" stroke="#444" stroke-width="0.45" stroke-opacity="0.55"/>
<ellipse rx="3.48" ry="3.90" fill="#6a6a6a" stroke="#444" stroke-width="0.45" stroke-opacity="0.55"/>
<ellipse rx="2.44" ry="2.73" fill="#5a5a5a" stroke="#444" stroke-width="0.45" stroke-opacity="0.55"/>
<ellipse cx="0.00" cy="0.00" rx="1.62" ry="1.82" fill="#ececec"/>
</g>
<g transform="translate(278.00,282.60) rotate(0)" opacity="1.0" filter="url(#soft)">
<ellipse rx="8.00" ry="6.00" fill="#e0e0e0" stroke="#aaa" stroke-width="0.45" stroke-opacity="0.55"/>
</g>
<g transform="translate(295.00,282.60) rotate(0)" opacity="1.0" filter="url(#soft)">
<ellipse rx="4.50" ry="5.50" fill="#dadada" stroke="#444" stroke-width="0.45" stroke-opacity="0.55"/>
<ellipse rx="3.38" ry="4.12" fill="#b4b4b4" stroke="#444" stroke-width="0.45" stroke-opacity="0.55"/>
<ellipse rx="2.25" ry="2.75" fill="#8c8c8c" stroke="#444" stroke-width="0.45" stroke-opacity="0.55"/>
<ellipse cx="0.00" cy="0.00" rx="1.35" ry="1.65" fill="#ececec"/>
</g>
<g transform="translate(282.60,282.60) rotate(0)" opacity="1.0" filter="url(#soft)">
<ellipse rx="6.00" ry="6.00" fill="#d0d0d0" stroke="#444" stroke-width="0.45" stroke-opacity="0.55"/>
<ellipse rx="4.80" ry="4.80" fill="#a0a0a0" stroke="#444" stroke-width="0.45" stroke-opacity="0.55"/>
<ellipse rx="3.60" ry="3.60" fill="#6a6a6a" stroke="#444" stroke-width="0.45" stroke-opacity="0.55"/>
<ellipse rx="2.52" ry="2.52" fill="#5a5a5a" stroke="#444" stroke-width="0.45" stroke-opacity="0.55"/>
<ellipse cx="0.00" cy="0.00" rx="1.80" ry="1.80" fill="#ececec"/>
</g>
<circle cx="67.7" cy="339.3" r="0.4" fill="#aaa"/>
<circle cx="66.0" cy="342.3" r="0.4" fill="#aaa"/>
<circle cx="62.3" cy="336.3" r="0.4" fill="#aaa"/>
<circle cx="67.8" cy="337.7" r="0.4" fill="#aaa"/>
<circle cx="69.2" cy="338.9" r="0.4" fill="#aaa"/>
<circle cx="55.7" cy="333.1" r="0.4" fill="#aaa"/>
<circle cx="64.6" cy="338.5" r="0.4" fill="#aaa"/>
<circle cx="69.9" cy="335.5" r="0.4" fill="#aaa"/>
<circle cx="63.8" cy="343.0" r="0.4" fill="#aaa"/>
<circle cx="68.9" cy="334.6" r="0.4" fill="#aaa"/>
<circle cx="73.0" cy="336.7" r="0.4" fill="#aaa"/>
<circle cx="71.3" cy="338.4" r="0.4" fill="#aaa"/>
<circle cx="62.8" cy="333.5" r="0.4" fill="#aaa"/>
<circle cx="61.7" cy="348.1" r="0.4" fill="#aaa"/>
<circle cx="72.0" cy="338.0" r="0.4" fill="#aaa"/>
<circle cx="70.9" cy="347.3" r="0.4" fill="#aaa"/>
<circle cx="63.4" cy="337.2" r="0.4" fill="#aaa"/>
<circle cx="70.9" cy="341.9" r="0.4" fill="#aaa"/>
<circle cx="76.1" cy="342.3" r="0.4" fill="#aaa"/>
<circle cx="59.0" cy="339.8" r="0.4" fill="#aaa"/>
<circle cx="58.8" cy="344.0" r="0.4" fill="#aaa"/>
<circle cx="68.7" cy="337.9" r="0.4" fill="#aaa"/>
<circle cx="60.4" cy="344.7" r="0.4" fill="#aaa"/>
<circle cx="63.0" cy="346.4" r="0.4" fill="#aaa"/>
<circle cx="59.9" cy="338.6" r="0.4" fill="#aaa"/>
<circle cx="62.2" cy="334.6" r="0.4" fill="#aaa"/>
<circle cx="79.3" cy="348.8" r="0.4" fill="#aaa"/>
<circle cx="61.7" cy="344.2" r="0.4" fill="#aaa"/>
<circle cx="55.6" cy="346.6" r="0.4" fill="#aaa"/>
<circle cx="70.7" cy="338.2" r="0.4" fill="#aaa"/>
<circle cx="63.2" cy="341.3" r="0.4" fill="#aaa"/>
<circle cx="67.4" cy="338.1" r="0.4" fill="#aaa"/>
<circle cx="60.6" cy="338.7" r="0.4" fill="#aaa"/>
<circle cx="62.8" cy="344.1" r="0.4" fill="#aaa"/>
<circle cx="65.5" cy="341.3" r="0.4" fill="#aaa"/>
<circle cx="56.3" cy="338.0" r="0.4" fill="#aaa"/>
<circle cx="63.0" cy="337.3" r="0.4" fill="#aaa"/>
<g transform="translate(59.80,342.80) rotate(0)" opacity="1.0" filter="url(#soft)">
<ellipse rx="4.20" ry="6.20" fill="#dadada" stroke="#444" stroke-width="0.45" stroke-opacity="0.55"/>
<ellipse rx="3.15" ry="4.65" fill="#b4b4b4" stroke="#444" stroke-width="0.45" stroke-opacity="0.55"/>
<ellipse rx="2.10" ry="3.10" fill="#8c8c8c" stroke="#444" stroke-width="0.45" stroke-opacity="0.55"/>
<ellipse cx="0.00" cy="0.00" rx="1.26" ry="1.86" fill="#ececec"/>
</g>
<g transform="translate(70.20,342.80) rotate(0)" opacity="1.0" filter="url(#soft)">
<ellipse rx="4.60" ry="6.60" fill="#d0d0d0" stroke="#444" stroke-width="0.45" stroke-opacity="0.55"/>
<ellipse rx="3.68" ry="5.28" fill="#a0a0a0" stroke="#444" stroke-width="0.45" stroke-opacity="0.55"/>
<ellipse rx="2.76" ry="3.96" fill="#6a6a6a" stroke="#444" stroke-width="0.45" stroke-opacity="0.55"/>
<ellipse rx="1.93" ry="2.77" fill="#5a5a5a" stroke="#444" stroke-width="0.45" stroke-opacity="0.55"/>
<ellipse cx="0.00" cy="0.00" rx="1.38" ry="1.98" fill="#ececec"/>
</g>
<g transform="translate(121.00,346.40) rotate(0)" opacity="1.0" filter="url(#soft)">
<ellipse rx="9.00" ry="4.60" fill="#d0d0d0" stroke="#444" stroke-width="0.45" stroke-opacity="0.55"/>
<ellipse rx="7.20" ry="3.68" fill="#a0a0a0" stroke="#444" stroke-width="0.45" stroke-opacity="0.55"/>
<ellipse rx="5.40" ry="2.76" fill="#6a6a6a" stroke="#444" stroke-width="0.45" stroke-opacity="0.55"/>
<ellipse rx="3.78" ry="1.93" fill="#5a5a5a" stroke="#444" stroke-width="0.45" stroke-opacity="0.55"/>
<ellipse cx="-2.00" cy="0.00" rx="2.70" ry="1.38" fill="#ececec"/>
</g>
<g transform="translate(174.20,345.50) rotate(0)" opacity="1.0" filter="url(#soft)">
<ellipse rx="3.60" ry="4.60" fill="#e2e2e2" stroke="#444" stroke-width="0.45" stroke-opacity="0.55"/>
<ellipse rx="2.52" ry="3.22" fill="#c4c4c4" stroke="#444" stroke-width="0.45" stroke-opacity="0.55"/>
<ellipse rx="1.62" ry="2.07" fill="#a8a8a8" stroke="#444" stroke-width="0.45" stroke-opacity="0.55"/>
<ellipse cx="0.00" cy="0.00" rx="1.08" ry="1.38" fill="#ececec"/>
</g>
<g transform="translate(183.40,345.00) rotate(0)" opacity="1.0" filter="url(#soft)">
<ellipse rx="6.00" ry="7.00" fill="#d0d0d0" stroke="#444" stroke-width="0.45" stroke-opacity="0.55"/>
<ellipse rx="4.80" ry="5.60" fill="#a0a0a0" stroke="#444" stroke-width="0.45" stroke-opacity="0.55"/>
<ellipse rx="3.60" ry="4.20" fill="#6a6a6a" stroke="#444" stroke-width="0.45" stroke-opacity="0.55"/>
<ellipse rx="2.52" ry="2.94" fill="#5a5a5a" stroke="#444" stroke-width="0.45" stroke-opacity="0.55"/>
<ellipse cx="0.00" cy="0.00" rx="1.50" ry="1.75" fill="#ececec"/>
</g>
<g transform="translate(230.80,345.00) rotate(0)" opacity="1.0" filter="url(#soft)">
<ellipse rx="4.20" ry="4.80" fill="#e2e2e2" stroke="#444" stroke-width="0.45" stroke-opacity="0.55"/>
<ellipse rx="2.94" ry="3.36" fill="#c4c4c4" stroke="#444" stroke-width="0.45" stroke-opacity="0.55"/>
<ellipse rx="1.89" ry="2.16" fill="#a8a8a8" stroke="#444" stroke-width="0.45" stroke-opacity="0.55"/>
<ellipse cx="0.00" cy="0.00" rx="1.26" ry="1.44" fill="#ececec"/>
</g>
<g transform="translate(240.80,345.50) rotate(0)" opacity="1.0" filter="url(#soft)">
<ellipse rx="5.60" ry="7.00" fill="#d0d0d0" stroke="#444" stroke-width="0.45" stroke-opacity="0.55"/>
<ellipse rx="4.48" ry="5.60" fill="#a0a0a0" stroke="#444" stroke-width="0.45" stroke-opacity="0.55"/>
<ellipse rx="3.36" ry="4.20" fill="#6a6a6a" stroke="#444" stroke-width="0.45" stroke-opacity="0.55"/>
<ellipse rx="2.35" ry="2.94" fill="#5a5a5a" stroke="#444" stroke-width="0.45" stroke-opacity="0.55"/>
<ellipse cx="0.00" cy="0.00" rx="1.40" ry="1.75" fill="#ececec"/>
</g>
<g transform="translate(288.80,340.20) rotate(0)" opacity="1.0" filter="url(#soft)">
<ellipse rx="11.50" ry="6.20" fill="#d0d0d0" stroke="#444" stroke-width="0.45" stroke-opacity="0.55"/>
<ellipse rx="9.20" ry="4.96" fill="#a0a0a0" stroke="#444" stroke-width="0.45" stroke-opacity="0.55"/>
<ellipse rx="6.90" ry="3.72" fill="#6a6a6a" stroke="#444" stroke-width="0.45" stroke-opacity="0.55"/>
<ellipse rx="4.83" ry="2.60" fill="#5a5a5a" stroke="#444" stroke-width="0.45" stroke-opacity="0.55"/>
<ellipse cx="-1.00" cy="0.00" rx="2.88" ry="1.55" fill="#ececec"/>
</g>
<rect x="37.60" y="237.60" width="54.50" height="57.20" stroke="#a0a0a0" stroke-width="0.7" fill="none" />
<line x1="36.10" y1="247.13" x2="37.60" y2="247.13" stroke="#999" stroke-width="0.6" />
<line x1="36.10" y1="256.67" x2="37.60" y2="256.67" stroke="#999" stroke-width="0.6" />
<line x1="36.10" y1="266.20" x2="37.60" y2="266.20" stroke="#999" stroke-width="0.6" />
<line x1="36.10" y1="275.73" x2="37.60" y2="275.73" stroke="#999" stroke-width="0.6" />
<line x1="36.10" y1="285.27" x2="37.60" y2="285.27" stroke="#999" stroke-width="0.6" />
<line x1="46.68" y1="294.80" x2="46.68" y2="296.30" stroke="#999" stroke-width="0.6" />
<line x1="55.77" y1="294.80" x2="55.77" y2="296.30" stroke="#999" stroke-width="0.6" />
<line x1="64.85" y1="294.80" x2="64.85" y2="296.30" stroke="#999" stroke-width="0.6" />
<line x1="73.93" y1="294.80" x2="73.93" y2="296.30" stroke="#999" stroke-width="0.6" />
<line x1="83.02" y1="294.80" x2="83.02" y2="296.30" stroke="#999" stroke-width="0.6" />
<polyline points="92.10,267.80 71.40,267.80 65.00,277.80 65.00,293.00 92.10,293.00" stroke="#333" stroke-width="0.75" fill="none" />
<text x="87.90" y="266.20" font-size="7"  text-anchor="end" fill="#111" >15.8</text>
<rect x="94.50" y="237.60" width="54.50" height="57.20" stroke="#a0a0a0" stroke-width="0.7" fill="none" />
<line x1="93.00" y1="247.13" x2="94.50" y2="247.13" stroke="#999" stroke-width="0.6" />
<line x1="93.00" y1="256.67" x2="94.50" y2="256.67" stroke="#999" stroke-width="0.6" />
<line x1="93.00" y1="266.20" x2="94.50" y2="266.20" stroke="#999" stroke-width="0.6" />
<line x1="93.00" y1="275.73" x2="94.50" y2="275.73" stroke="#999" stroke-width="0.6" />
<line x1="93.00" y1="285.27" x2="94.50" y2="285.27" stroke="#999" stroke-width="0.6" />
<line x1="103.58" y1="294.80" x2="103.58" y2="296.30" stroke="#999" stroke-width="0.6" />
<line x1="112.67" y1="294.80" x2="112.67" y2="296.30" stroke="#999" stroke-width="0.6" />
<line x1="121.75" y1="294.80" x2="121.75" y2="296.30" stroke="#999" stroke-width="0.6" />
<line x1="130.83" y1="294.80" x2="130.83" y2="296.30" stroke="#999" stroke-width="0.6" />
<line x1="139.92" y1="294.80" x2="139.92" y2="296.30" stroke="#999" stroke-width="0.6" />
<polyline points="149.00,267.80 128.30,267.80 121.90,277.80 121.90,293.00 149.00,293.00" stroke="#333" stroke-width="0.75" fill="none" />
<text x="144.80" y="266.20" font-size="7"  text-anchor="end" fill="#111" >19.3</text>
<rect x="151.40" y="237.60" width="54.50" height="57.20" stroke="#a0a0a0" stroke-width="0.7" fill="none" />
<line x1="149.90" y1="247.13" x2="151.40" y2="247.13" stroke="#999" stroke-width="0.6" />
<line x1="149.90" y1="256.67" x2="151.40" y2="256.67" stroke="#999" stroke-width="0.6" />
<line x1="149.90" y1="266.20" x2="151.40" y2="266.20" stroke="#999" stroke-width="0.6" />
<line x1="149.90" y1="275.73" x2="151.40" y2="275.73" stroke="#999" stroke-width="0.6" />
<line x1="149.90" y1="285.27" x2="151.40" y2="285.27" stroke="#999" stroke-width="0.6" />
<line x1="160.48" y1="294.80" x2="160.48" y2="296.30" stroke="#999" stroke-width="0.6" />
<line x1="169.57" y1="294.80" x2="169.57" y2="296.30" stroke="#999" stroke-width="0.6" />
<line x1="178.65" y1="294.80" x2="178.65" y2="296.30" stroke="#999" stroke-width="0.6" />
<line x1="187.73" y1="294.80" x2="187.73" y2="296.30" stroke="#999" stroke-width="0.6" />
<line x1="196.82" y1="294.80" x2="196.82" y2="296.30" stroke="#999" stroke-width="0.6" />
<polyline points="205.90,267.80 185.20,267.80 178.80,277.80 178.80,293.00 205.90,293.00" stroke="#333" stroke-width="0.75" fill="none" />
<text x="201.70" y="266.20" font-size="7"  text-anchor="end" fill="#111" >55.0</text>
<rect x="208.30" y="237.60" width="54.50" height="57.20" stroke="#a0a0a0" stroke-width="0.7" fill="none" />
<line x1="206.80" y1="247.13" x2="208.30" y2="247.13" stroke="#999" stroke-width="0.6" />
<line x1="206.80" y1="256.67" x2="208.30" y2="256.67" stroke="#999" stroke-width="0.6" />
<line x1="206.80" y1="266.20" x2="208.30" y2="266.20" stroke="#999" stroke-width="0.6" />
<line x1="206.80" y1="275.73" x2="208.30" y2="275.73" stroke="#999" stroke-width="0.6" />
<line x1="206.80" y1="285.27" x2="208.30" y2="285.27" stroke="#999" stroke-width="0.6" />
<line x1="217.38" y1="294.80" x2="217.38" y2="296.30" stroke="#999" stroke-width="0.6" />
<line x1="226.47" y1="294.80" x2="226.47" y2="296.30" stroke="#999" stroke-width="0.6" />
<line x1="235.55" y1="294.80" x2="235.55" y2="296.30" stroke="#999" stroke-width="0.6" />
<line x1="244.63" y1="294.80" x2="244.63" y2="296.30" stroke="#999" stroke-width="0.6" />
<line x1="253.72" y1="294.80" x2="253.72" y2="296.30" stroke="#999" stroke-width="0.6" />
<polyline points="262.80,267.80 242.10,267.80 235.70,277.80 235.70,293.00 262.80,293.00" stroke="#333" stroke-width="0.75" fill="none" />
<text x="258.60" y="266.20" font-size="7"  text-anchor="end" fill="#111" >65.0</text>
<rect x="265.20" y="237.60" width="54.50" height="57.20" stroke="#a0a0a0" stroke-width="0.7" fill="none" />
<line x1="263.70" y1="247.13" x2="265.20" y2="247.13" stroke="#999" stroke-width="0.6" />
<line x1="263.70" y1="256.67" x2="265.20" y2="256.67" stroke="#999" stroke-width="0.6" />
<line x1="263.70" y1="266.20" x2="265.20" y2="266.20" stroke="#999" stroke-width="0.6" />
<line x1="263.70" y1="275.73" x2="265.20" y2="275.73" stroke="#999" stroke-width="0.6" />
<line x1="263.70" y1="285.27" x2="265.20" y2="285.27" stroke="#999" stroke-width="0.6" />
<line x1="274.28" y1="294.80" x2="274.28" y2="296.30" stroke="#999" stroke-width="0.6" />
<line x1="283.37" y1="294.80" x2="283.37" y2="296.30" stroke="#999" stroke-width="0.6" />
<line x1="292.45" y1="294.80" x2="292.45" y2="296.30" stroke="#999" stroke-width="0.6" />
<line x1="301.53" y1="294.80" x2="301.53" y2="296.30" stroke="#999" stroke-width="0.6" />
<line x1="310.62" y1="294.80" x2="310.62" y2="296.30" stroke="#999" stroke-width="0.6" />
<polyline points="319.70,267.80 299.00,267.80 292.60,277.80 292.60,293.00 319.70,293.00" stroke="#333" stroke-width="0.75" fill="none" />
<text x="315.50" y="266.20" font-size="7"  text-anchor="end" fill="#111" >26.7</text>
<rect x="37.60" y="297.00" width="54.50" height="57.50" stroke="#a0a0a0" stroke-width="0.7" fill="none" />
<line x1="36.10" y1="306.58" x2="37.60" y2="306.58" stroke="#999" stroke-width="0.6" />
<line x1="36.10" y1="316.17" x2="37.60" y2="316.17" stroke="#999" stroke-width="0.6" />
<line x1="36.10" y1="325.75" x2="37.60" y2="325.75" stroke="#999" stroke-width="0.6" />
<line x1="36.10" y1="335.33" x2="37.60" y2="335.33" stroke="#999" stroke-width="0.6" />
<line x1="36.10" y1="344.92" x2="37.60" y2="344.92" stroke="#999" stroke-width="0.6" />
<line x1="46.68" y1="354.50" x2="46.68" y2="356.00" stroke="#999" stroke-width="0.6" />
<line x1="55.77" y1="354.50" x2="55.77" y2="356.00" stroke="#999" stroke-width="0.6" />
<line x1="64.85" y1="354.50" x2="64.85" y2="356.00" stroke="#999" stroke-width="0.6" />
<line x1="73.93" y1="354.50" x2="73.93" y2="356.00" stroke="#999" stroke-width="0.6" />
<line x1="83.02" y1="354.50" x2="83.02" y2="356.00" stroke="#999" stroke-width="0.6" />
<polyline points="92.10,327.20 71.40,327.20 65.00,337.20 65.00,352.70 92.10,352.70" stroke="#333" stroke-width="0.75" fill="none" />
<text x="87.90" y="325.60" font-size="7"  text-anchor="end" fill="#111" >61.9</text>
<rect x="94.50" y="297.00" width="54.50" height="57.50" stroke="#a0a0a0" stroke-width="0.7" fill="none" />
<line x1="93.00" y1="306.58" x2="94.50" y2="306.58" stroke="#999" stroke-width="0.6" />
<line x1="93.00" y1="316.17" x2="94.50" y2="316.17" stroke="#999" stroke-width="0.6" />
<line x1="93.00" y1="325.75" x2="94.50" y2="325.75" stroke="#999" stroke-width="0.6" />
<line x1="93.00" y1="335.33" x2="94.50" y2="335.33" stroke="#999" stroke-width="0.6" />
<line x1="93.00" y1="344.92" x2="94.50" y2="344.92" stroke="#999" stroke-width="0.6" />
<line x1="103.58" y1="354.50" x2="103.58" y2="356.00" stroke="#999" stroke-width="0.6" />
<line x1="112.67" y1="354.50" x2="112.67" y2="356.00" stroke="#999" stroke-width="0.6" />
<line x1="121.75" y1="354.50" x2="121.75" y2="356.00" stroke="#999" stroke-width="0.6" />
<line x1="130.83" y1="354.50" x2="130.83" y2="356.00" stroke="#999" stroke-width="0.6" />
<line x1="139.92" y1="354.50" x2="139.92" y2="356.00" stroke="#999" stroke-width="0.6" />
<polyline points="149.00,327.20 128.30,327.20 121.90,337.20 121.90,352.70 149.00,352.70" stroke="#333" stroke-width="0.75" fill="none" />
<text x="144.80" y="325.60" font-size="7"  text-anchor="end" fill="#111" >38.4</text>
<rect x="151.40" y="297.00" width="54.50" height="57.50" stroke="#a0a0a0" stroke-width="0.7" fill="none" />
<line x1="149.90" y1="306.58" x2="151.40" y2="306.58" stroke="#999" stroke-width="0.6" />
<line x1="149.90" y1="316.17" x2="151.40" y2="316.17" stroke="#999" stroke-width="0.6" />
<line x1="149.90" y1="325.75" x2="151.40" y2="325.75" stroke="#999" stroke-width="0.6" />
<line x1="149.90" y1="335.33" x2="151.40" y2="335.33" stroke="#999" stroke-width="0.6" />
<line x1="149.90" y1="344.92" x2="151.40" y2="344.92" stroke="#999" stroke-width="0.6" />
<line x1="160.48" y1="354.50" x2="160.48" y2="356.00" stroke="#999" stroke-width="0.6" />
<line x1="169.57" y1="354.50" x2="169.57" y2="356.00" stroke="#999" stroke-width="0.6" />
<line x1="178.65" y1="354.50" x2="178.65" y2="356.00" stroke="#999" stroke-width="0.6" />
<line x1="187.73" y1="354.50" x2="187.73" y2="356.00" stroke="#999" stroke-width="0.6" />
<line x1="196.82" y1="354.50" x2="196.82" y2="356.00" stroke="#999" stroke-width="0.6" />
<polyline points="205.90,327.20 185.20,327.20 178.80,337.20 178.80,352.70 205.90,352.70" stroke="#333" stroke-width="0.75" fill="none" />
<text x="201.70" y="325.60" font-size="7"  text-anchor="end" fill="#111" >84.7</text>
<rect x="208.30" y="297.00" width="54.50" height="57.50" stroke="#a0a0a0" stroke-width="0.7" fill="none" />
<line x1="206.80" y1="306.58" x2="208.30" y2="306.58" stroke="#999" stroke-width="0.6" />
<line x1="206.80" y1="316.17" x2="208.30" y2="316.17" stroke="#999" stroke-width="0.6" />
<line x1="206.80" y1="325.75" x2="208.30" y2="325.75" stroke="#999" stroke-width="0.6" />
<line x1="206.80" y1="335.33" x2="208.30" y2="335.33" stroke="#999" stroke-width="0.6" />
<line x1="206.80" y1="344.92" x2="208.30" y2="344.92" stroke="#999" stroke-width="0.6" />
<line x1="217.38" y1="354.50" x2="217.38" y2="356.00" stroke="#999" stroke-width="0.6" />
<line x1="226.47" y1="354.50" x2="226.47" y2="356.00" stroke="#999" stroke-width="0.6" />
<line x1="235.55" y1="354.50" x2="235.55" y2="356.00" stroke="#999" stroke-width="0.6" />
<line x1="244.63" y1="354.50" x2="244.63" y2="356.00" stroke="#999" stroke-width="0.6" />
<line x1="253.72" y1="354.50" x2="253.72" y2="356.00" stroke="#999" stroke-width="0.6" />
<polyline points="262.80,327.20 242.10,327.20 235.70,337.20 235.70,352.70 262.80,352.70" stroke="#333" stroke-width="0.75" fill="none" />
<text x="258.60" y="325.60" font-size="7"  text-anchor="end" fill="#111" >84.5</text>
<rect x="265.20" y="297.00" width="54.50" height="57.50" stroke="#a0a0a0" stroke-width="0.7" fill="none" />
<line x1="263.70" y1="306.58" x2="265.20" y2="306.58" stroke="#999" stroke-width="0.6" />
<line x1="263.70" y1="316.17" x2="265.20" y2="316.17" stroke="#999" stroke-width="0.6" />
<line x1="263.70" y1="325.75" x2="265.20" y2="325.75" stroke="#999" stroke-width="0.6" />
<line x1="263.70" y1="335.33" x2="265.20" y2="335.33" stroke="#999" stroke-width="0.6" />
<line x1="263.70" y1="344.92" x2="265.20" y2="344.92" stroke="#999" stroke-width="0.6" />
<line x1="274.28" y1="354.50" x2="274.28" y2="356.00" stroke="#999" stroke-width="0.6" />
<line x1="283.37" y1="354.50" x2="283.37" y2="356.00" stroke="#999" stroke-width="0.6" />
<line x1="292.45" y1="354.50" x2="292.45" y2="356.00" stroke="#999" stroke-width="0.6" />
<line x1="301.53" y1="354.50" x2="301.53" y2="356.00" stroke="#999" stroke-width="0.6" />
<line x1="310.62" y1="354.50" x2="310.62" y2="356.00" stroke="#999" stroke-width="0.6" />
<polyline points="319.70,327.20 299.00,327.20 292.60,337.20 292.60,352.70 319.70,352.70" stroke="#333" stroke-width="0.75" fill="none" />
<text x="315.50" y="325.60" font-size="7"  text-anchor="end" fill="#111" >42.8</text>
<line x1="27.60" y1="276.00" x2="27.60" y2="363.50" stroke="#000" stroke-width="2" />
<line x1="26.80" y1="363.00" x2="278.00" y2="363.00" stroke="#000" stroke-width="2" />
<polygon points="25.10,277.00 30.10,277.00 27.60,270.50" stroke="#000" stroke-width="0" fill="#000" />
<polygon points="277.00,360.30 277.00,365.70 283.50,363.00" stroke="#000" stroke-width="0" fill="#000" />
<text transform="translate(31.50,256.00) rotate(-90)" font-size="11.5" font-weight="bold" text-anchor="middle" fill="#000" >SSC</text>
<text x="285.50" y="367.00" font-size="11.5" font-weight="bold" text-anchor="start" fill="#000" >AIM2</text>
<text x="1.30" y="284.70" font-size="11" font-weight="bold" text-anchor="start" fill="#000" >HC</text>
<text x="1.30" y="344.00" font-size="11" font-weight="bold" text-anchor="start" fill="#000" >SLE</text>
<line x1="368.40" y1="301.60" x2="368.40" y2="209.70" stroke="#222" stroke-width="1.1" />
<line x1="368.40" y1="301.60" x2="597.70" y2="301.60" stroke="#222" stroke-width="1.1" />
<line x1="366.20" y1="301.60" x2="368.40" y2="301.60" stroke="#222" stroke-width="1.0" />
<text x="364.80" y="304.20" font-size="7.0" font-weight="bold" text-anchor="end" fill="#111" >0</text>
<line x1="366.20" y1="283.22" x2="368.40" y2="283.22" stroke="#222" stroke-width="1.0" />
<text x="364.80" y="285.82" font-size="7.0" font-weight="bold" text-anchor="end" fill="#111" >20</text>
<line x1="366.20" y1="264.84" x2="368.40" y2="264.84" stroke="#222" stroke-width="1.0" />
<text x="364.80" y="267.44" font-size="7.0" font-weight="bold" text-anchor="end" fill="#111" >40</text>
<line x1="366.20" y1="246.46" x2="368.40" y2="246.46" stroke="#222" stroke-width="1.0" />
<text x="364.80" y="249.06" font-size="7.0" font-weight="bold" text-anchor="end" fill="#111" >60</text>
<line x1="366.20" y1="228.08" x2="368.40" y2="228.08" stroke="#222" stroke-width="1.0" />
<text x="364.80" y="230.68" font-size="7.0" font-weight="bold" text-anchor="end" fill="#111" >80</text>
<line x1="366.20" y1="209.70" x2="368.40" y2="209.70" stroke="#222" stroke-width="1.0" />
<text x="364.80" y="212.30" font-size="7.0" font-weight="bold" text-anchor="end" fill="#111" >100</text>
<line x1="383.10" y1="301.60" x2="383.10" y2="303.60" stroke="#222" stroke-width="1.0" />
<line x1="405.10" y1="301.60" x2="405.10" y2="303.60" stroke="#222" stroke-width="1.0" />
<line x1="427.30" y1="301.60" x2="427.30" y2="303.60" stroke="#222" stroke-width="1.0" />
<line x1="449.30" y1="301.60" x2="449.30" y2="303.60" stroke="#222" stroke-width="1.0" />
<line x1="471.80" y1="301.60" x2="471.80" y2="303.60" stroke="#222" stroke-width="1.0" />
<line x1="493.80" y1="301.60" x2="493.80" y2="303.60" stroke="#222" stroke-width="1.0" />
<line x1="515.90" y1="301.60" x2="515.90" y2="303.60" stroke="#222" stroke-width="1.0" />
<line x1="537.90" y1="301.60" x2="537.90" y2="303.60" stroke="#222" stroke-width="1.0" />
<line x1="560.20" y1="301.60" x2="560.20" y2="303.60" stroke="#222" stroke-width="1.0" />
<line x1="582.20" y1="301.60" x2="582.20" y2="303.60" stroke="#222" stroke-width="1.0" />
<circle cx="383.10" cy="234.74" r="1.6" fill="none" stroke="#111" stroke-width="1.1"/>
<circle cx="386.10" cy="233.96" r="1.6" fill="none" stroke="#111" stroke-width="1.1"/>
<circle cx="380.10" cy="233.17" r="1.6" fill="none" stroke="#111" stroke-width="1.1"/>
<circle cx="389.10" cy="232.58" r="1.6" fill="none" stroke="#111" stroke-width="1.1"/>
<circle cx="377.10" cy="231.94" r="1.6" fill="none" stroke="#111" stroke-width="1.1"/>
<circle cx="383.10" cy="231.46" r="1.6" fill="none" stroke="#111" stroke-width="1.1"/>
<circle cx="380.60" cy="240.95" r="1.6" fill="none" stroke="#111" stroke-width="1.1"/>
<circle cx="383.10" cy="243.04" r="1.6" fill="none" stroke="#111" stroke-width="1.1"/>
<circle cx="386.10" cy="242.13" r="1.6" fill="none" stroke="#111" stroke-width="1.1"/>
<circle cx="384.60" cy="249.73" r="1.6" fill="none" stroke="#111" stroke-width="1.1"/>
<circle cx="379.10" cy="248.74" r="1.6" fill="none" stroke="#111" stroke-width="1.1"/>
<circle cx="387.60" cy="248.22" r="1.6" fill="none" stroke="#111" stroke-width="1.1"/>
<circle cx="383.10" cy="253.20" r="1.6" fill="none" stroke="#111" stroke-width="1.1"/>
<circle cx="379.60" cy="252.69" r="1.6" fill="none" stroke="#111" stroke-width="1.1"/>
<circle cx="386.10" cy="252.43" r="1.6" fill="none" stroke="#111" stroke-width="1.1"/>
<circle cx="389.60" cy="251.94" r="1.6" fill="none" stroke="#111" stroke-width="1.1"/>
<circle cx="376.60" cy="251.25" r="1.6" fill="none" stroke="#111" stroke-width="1.1"/>
<circle cx="381.60" cy="250.97" r="1.6" fill="none" stroke="#111" stroke-width="1.1"/>
<circle cx="383.10" cy="256.39" r="1.6" fill="none" stroke="#111" stroke-width="1.1"/>
<circle cx="386.10" cy="255.65" r="1.6" fill="none" stroke="#111" stroke-width="1.1"/>
<circle cx="383.10" cy="263.92" r="1.6" fill="none" stroke="#111" stroke-width="1.1"/>
<circle cx="386.10" cy="263.32" r="1.6" fill="none" stroke="#111" stroke-width="1.1"/>
<circle cx="380.10" cy="262.70" r="1.6" fill="none" stroke="#111" stroke-width="1.1"/>
<circle cx="385.10" cy="268.40" r="1.6" fill="none" stroke="#111" stroke-width="1.1"/>
<circle cx="382.10" cy="267.18" r="1.6" fill="none" stroke="#111" stroke-width="1.1"/>
<circle cx="378.60" cy="266.66" r="1.6" fill="none" stroke="#111" stroke-width="1.1"/>
<circle cx="383.10" cy="270.81" r="1.6" fill="none" stroke="#111" stroke-width="1.1"/>
<line x1="375.60" y1="250.30" x2="390.60" y2="250.30" stroke="#111" stroke-width="1.2" />
<line x1="383.10" y1="247.94" x2="383.10" y2="252.67" stroke="#111" stroke-width="1.0" />
<line x1="379.60" y1="247.94" x2="386.60" y2="247.94" stroke="#111" stroke-width="1.0" />
<line x1="379.60" y1="252.67" x2="386.60" y2="252.67" stroke="#111" stroke-width="1.0" />
<circle cx="405.10" cy="217.94" r="1.6" fill="none" stroke="#e8383d" stroke-width="1.1"/>
<circle cx="408.60" cy="217.68" r="1.6" fill="none" stroke="#e8383d" stroke-width="1.1"/>
<circle cx="402.10" cy="223.59" r="1.6" fill="none" stroke="#e8383d" stroke-width="1.1"/>
<circle cx="411.10" cy="223.22" r="1.6" fill="none" stroke="#e8383d" stroke-width="1.1"/>
<circle cx="399.10" cy="222.16" r="1.6" fill="none" stroke="#e8383d" stroke-width="1.1"/>
<circle cx="405.10" cy="238.44" r="1.6" fill="none" stroke="#e8383d" stroke-width="1.1"/>
<circle cx="408.60" cy="237.91" r="1.6" fill="none" stroke="#e8383d" stroke-width="1.1"/>
<circle cx="402.10" cy="237.01" r="1.6" fill="none" stroke="#e8383d" stroke-width="1.1"/>
<circle cx="411.60" cy="236.49" r="1.6" fill="none" stroke="#e8383d" stroke-width="1.1"/>
<circle cx="399.10" cy="235.90" r="1.6" fill="none" stroke="#e8383d" stroke-width="1.1"/>
<circle cx="405.10" cy="235.09" r="1.6" fill="none" stroke="#e8383d" stroke-width="1.1"/>
<circle cx="408.10" cy="234.33" r="1.6" fill="none" stroke="#e8383d" stroke-width="1.1"/>
<circle cx="402.10" cy="233.80" r="1.6" fill="none" stroke="#e8383d" stroke-width="1.1"/>
<circle cx="411.10" cy="232.78" r="1.6" fill="none" stroke="#e8383d" stroke-width="1.1"/>
<circle cx="399.10" cy="232.41" r="1.6" fill="none" stroke="#e8383d" stroke-width="1.1"/>
<circle cx="405.10" cy="231.52" r="1.6" fill="none" stroke="#e8383d" stroke-width="1.1"/>
<circle cx="408.60" cy="231.04" r="1.6" fill="none" stroke="#e8383d" stroke-width="1.1"/>
<circle cx="402.10" cy="230.51" r="1.6" fill="none" stroke="#e8383d" stroke-width="1.1"/>
<circle cx="411.60" cy="229.66" r="1.6" fill="none" stroke="#e8383d" stroke-width="1.1"/>
<circle cx="399.10" cy="228.86" r="1.6" fill="none" stroke="#e8383d" stroke-width="1.1"/>
<circle cx="405.10" cy="228.30" r="1.6" fill="none" stroke="#e8383d" stroke-width="1.1"/>
<circle cx="408.10" cy="227.54" r="1.6" fill="none" stroke="#e8383d" stroke-width="1.1"/>
<circle cx="402.10" cy="227.15" r="1.6" fill="none" stroke="#e8383d" stroke-width="1.1"/>
<circle cx="411.10" cy="226.48" r="1.6" fill="none" stroke="#e8383d" stroke-width="1.1"/>
<circle cx="398.60" cy="225.81" r="1.6" fill="none" stroke="#e8383d" stroke-width="1.1"/>
<circle cx="405.10" cy="224.95" r="1.6" fill="none" stroke="#e8383d" stroke-width="1.1"/>
<circle cx="408.10" cy="224.09" r="1.6" fill="none" stroke="#e8383d" stroke-width="1.1"/>
<circle cx="405.60" cy="242.62" r="1.6" fill="none" stroke="#e8383d" stroke-width="1.1"/>
<circle cx="402.60" cy="241.47" r="1.6" fill="none" stroke="#e8383d" stroke-width="1.1"/>
<circle cx="408.60" cy="241.11" r="1.6" fill="none" stroke="#e8383d" stroke-width="1.1"/>
<circle cx="399.60" cy="240.18" r="1.6" fill="none" stroke="#e8383d" stroke-width="1.1"/>
<circle cx="405.10" cy="250.22" r="1.6" fill="none" stroke="#e8383d" stroke-width="1.1"/>
<circle cx="408.10" cy="249.26" r="1.6" fill="none" stroke="#e8383d" stroke-width="1.1"/>
<circle cx="402.60" cy="248.37" r="1.6" fill="none" stroke="#e8383d" stroke-width="1.1"/>
<circle cx="411.10" cy="247.95" r="1.6" fill="none" stroke="#e8383d" stroke-width="1.1"/>
<circle cx="405.60" cy="246.79" r="1.6" fill="none" stroke="#e8383d" stroke-width="1.1"/>
<circle cx="408.60" cy="246.13" r="1.6" fill="none" stroke="#e8383d" stroke-width="1.1"/>
<circle cx="403.10" cy="244.89" r="1.6" fill="none" stroke="#e8383d" stroke-width="1.1"/>
<circle cx="405.10" cy="253.44" r="1.6" fill="none" stroke="#e8383d" stroke-width="1.1"/>
<circle cx="405.10" cy="263.34" r="1.6" fill="none" stroke="#e8383d" stroke-width="1.1"/>
<circle cx="408.10" cy="262.40" r="1.6" fill="none" stroke="#e8383d" stroke-width="1.1"/>
<circle cx="402.60" cy="261.46" r="1.6" fill="none" stroke="#e8383d" stroke-width="1.1"/>
<circle cx="410.60" cy="260.45" r="1.6" fill="none" stroke="#e8383d" stroke-width="1.1"/>
<circle cx="405.60" cy="259.95" r="1.6" fill="none" stroke="#e8383d" stroke-width="1.1"/>
<circle cx="401.10" cy="258.71" r="1.6" fill="none" stroke="#e8383d" stroke-width="1.1"/>
<circle cx="397.60" cy="258.33" r="1.6" fill="none" stroke="#e8383d" stroke-width="1.1"/>
<circle cx="404.60" cy="257.05" r="1.6" fill="none" stroke="#e8383d" stroke-width="1.1"/>
<circle cx="408.10" cy="256.73" r="1.6" fill="none" stroke="#e8383d" stroke-width="1.1"/>
<line x1="397.60" y1="239.28" x2="412.60" y2="239.28" stroke="#111" stroke-width="1.2" />
<line x1="405.10" y1="237.39" x2="405.10" y2="241.17" stroke="#111" stroke-width="1.0" />
<line x1="401.60" y1="237.39" x2="408.60" y2="237.39" stroke="#111" stroke-width="1.0" />
<line x1="401.60" y1="241.17" x2="408.60" y2="241.17" stroke="#111" stroke-width="1.0" />
<circle cx="427.30" cy="225.19" r="1.6" fill="none" stroke="#111" stroke-width="1.1"/>
<circle cx="430.80" cy="225.03" r="1.6" fill="none" stroke="#111" stroke-width="1.1"/>
<circle cx="430.30" cy="231.79" r="1.6" fill="none" stroke="#111" stroke-width="1.1"/>
<circle cx="425.30" cy="230.82" r="1.6" fill="none" stroke="#111" stroke-width="1.1"/>
<circle cx="422.30" cy="230.17" r="1.6" fill="none" stroke="#111" stroke-width="1.1"/>
<circle cx="427.30" cy="233.32" r="1.6" fill="none" stroke="#111" stroke-width="1.1"/>
<circle cx="427.30" cy="237.82" r="1.6" fill="none" stroke="#111" stroke-width="1.1"/>
<circle cx="427.30" cy="246.09" r="1.6" fill="none" stroke="#111" stroke-width="1.1"/>
<circle cx="427.30" cy="253.63" r="1.6" fill="none" stroke="#111" stroke-width="1.1"/>
<circle cx="429.30" cy="260.29" r="1.6" fill="none" stroke="#111" stroke-width="1.1"/>
<circle cx="426.30" cy="259.41" r="1.6" fill="none" stroke="#111" stroke-width="1.1"/>
<circle cx="427.30" cy="266.90" r="1.6" fill="none" stroke="#111" stroke-width="1.1"/>
<circle cx="430.30" cy="265.98" r="1.6" fill="none" stroke="#111" stroke-width="1.1"/>
<circle cx="424.80" cy="264.82" r="1.6" fill="none" stroke="#111" stroke-width="1.1"/>
<circle cx="433.30" cy="264.28" r="1.6" fill="none" stroke="#111" stroke-width="1.1"/>
<circle cx="427.30" cy="262.88" r="1.6" fill="none" stroke="#111" stroke-width="1.1"/>
<circle cx="422.30" cy="262.64" r="1.6" fill="none" stroke="#111" stroke-width="1.1"/>
<circle cx="427.30" cy="276.60" r="1.6" fill="none" stroke="#111" stroke-width="1.1"/>
<circle cx="430.30" cy="275.93" r="1.6" fill="none" stroke="#111" stroke-width="1.1"/>
<circle cx="424.80" cy="274.79" r="1.6" fill="none" stroke="#111" stroke-width="1.1"/>
<circle cx="433.30" cy="274.29" r="1.6" fill="none" stroke="#111" stroke-width="1.1"/>
<circle cx="427.80" cy="273.50" r="1.6" fill="none" stroke="#111" stroke-width="1.1"/>
<circle cx="427.30" cy="287.73" r="1.6" fill="none" stroke="#111" stroke-width="1.1"/>
<circle cx="430.30" cy="286.46" r="1.6" fill="none" stroke="#111" stroke-width="1.1"/>
<circle cx="424.80" cy="285.64" r="1.6" fill="none" stroke="#111" stroke-width="1.1"/>
<line x1="419.80" y1="258.24" x2="434.80" y2="258.24" stroke="#111" stroke-width="1.2" />
<line x1="427.30" y1="254.21" x2="427.30" y2="262.27" stroke="#111" stroke-width="1.0" />
<line x1="423.80" y1="254.21" x2="430.80" y2="254.21" stroke="#111" stroke-width="1.0" />
<line x1="423.80" y1="262.27" x2="430.80" y2="262.27" stroke="#111" stroke-width="1.0" />
<circle cx="449.30" cy="215.99" r="1.6" fill="none" stroke="#e8383d" stroke-width="1.1"/>
<circle cx="452.30" cy="214.88" r="1.6" fill="none" stroke="#e8383d" stroke-width="1.1"/>
<circle cx="446.80" cy="214.20" r="1.6" fill="none" stroke="#e8383d" stroke-width="1.1"/>
<circle cx="454.80" cy="213.08" r="1.6" fill="none" stroke="#e8383d" stroke-width="1.1"/>
<circle cx="449.30" cy="211.81" r="1.6" fill="none" stroke="#e8383d" stroke-width="1.1"/>
<circle cx="449.30" cy="221.78" r="1.6" fill="none" stroke="#e8383d" stroke-width="1.1"/>
<circle cx="452.80" cy="221.36" r="1.6" fill="none" stroke="#e8383d" stroke-width="1.1"/>
<circle cx="446.30" cy="220.74" r="1.6" fill="none" stroke="#e8383d" stroke-width="1.1"/>
<circle cx="455.80" cy="220.36" r="1.6" fill="none" stroke="#e8383d" stroke-width="1.1"/>
<circle cx="443.30" cy="219.68" r="1.6" fill="none" stroke="#e8383d" stroke-width="1.1"/>
<circle cx="450.80" cy="219.28" r="1.6" fill="none" stroke="#e8383d" stroke-width="1.1"/>
<circle cx="448.30" cy="218.97" r="1.6" fill="none" stroke="#e8383d" stroke-width="1.1"/>
<circle cx="453.80" cy="218.29" r="1.6" fill="none" stroke="#e8383d" stroke-width="1.1"/>
<circle cx="457.30" cy="217.82" r="1.6" fill="none" stroke="#e8383d" stroke-width="1.1"/>
<circle cx="445.30" cy="217.29" r="1.6" fill="none" stroke="#e8383d" stroke-width="1.1"/>
<circle cx="449.30" cy="225.71" r="1.6" fill="none" stroke="#e8383d" stroke-width="1.1"/>
<circle cx="452.30" cy="224.89" r="1.6" fill="none" stroke="#e8383d" stroke-width="1.1"/>
<circle cx="446.30" cy="224.53" r="1.6" fill="none" stroke="#e8383d" stroke-width="1.1"/>
<circle cx="455.30" cy="223.88" r="1.6" fill="none" stroke="#e8383d" stroke-width="1.1"/>
<circle cx="449.30" cy="239.74" r="1.6" fill="none" stroke="#e8383d" stroke-width="1.1"/>
<circle cx="452.30" cy="238.40" r="1.6" fill="none" stroke="#e8383d" stroke-width="1.1"/>
<circle cx="447.30" cy="237.18" r="1.6" fill="none" stroke="#e8383d" stroke-width="1.1"/>
<circle cx="449.80" cy="235.27" r="1.6" fill="none" stroke="#e8383d" stroke-width="1.1"/>
<circle cx="446.80" cy="234.05" r="1.6" fill="none" stroke="#e8383d" stroke-width="1.1"/>
<circle cx="452.30" cy="233.41" r="1.6" fill="none" stroke="#e8383d" stroke-width="1.1"/>
<circle cx="449.30" cy="231.53" r="1.6" fill="none" stroke="#e8383d" stroke-width="1.1"/>
<circle cx="446.30" cy="230.74" r="1.6" fill="none" stroke="#e8383d" stroke-width="1.1"/>
<circle cx="449.30" cy="247.94" r="1.6" fill="none" stroke="#e8383d" stroke-width="1.1"/>
<circle cx="452.80" cy="247.46" r="1.6" fill="none" stroke="#e8383d" stroke-width="1.1"/>
<circle cx="446.30" cy="246.81" r="1.6" fill="none" stroke="#e8383d" stroke-width="1.1"/>
<circle cx="443.30" cy="246.12" r="1.6" fill="none" stroke="#e8383d" stroke-width="1.1"/>
<circle cx="455.30" cy="245.52" r="1.6" fill="none" stroke="#e8383d" stroke-width="1.1"/>
<circle cx="449.30" cy="253.14" r="1.6" fill="none" stroke="#e8383d" stroke-width="1.1"/>
<circle cx="452.80" cy="252.62" r="1.6" fill="none" stroke="#e8383d" stroke-width="1.1"/>
<circle cx="446.30" cy="251.98" r="1.6" fill="none" stroke="#e8383d" stroke-width="1.1"/>
<circle cx="443.30" cy="250.92" r="1.6" fill="none" stroke="#e8383d" stroke-width="1.1"/>
<circle cx="449.30" cy="259.01" r="1.6" fill="none" stroke="#e8383d" stroke-width="1.1"/>
<circle cx="452.30" cy="257.56" r="1.6" fill="none" stroke="#e8383d" stroke-width="1.1"/>
<circle cx="447.30" cy="256.44" r="1.6" fill="none" stroke="#e8383d" stroke-width="1.1"/>
<circle cx="443.80" cy="255.94" r="1.6" fill="none" stroke="#e8383d" stroke-width="1.1"/>
<circle cx="449.30" cy="263.87" r="1.6" fill="none" stroke="#e8383d" stroke-width="1.1"/>
<circle cx="452.30" cy="263.18" r="1.6" fill="none" stroke="#e8383d" stroke-width="1.1"/>
<circle cx="446.30" cy="262.76" r="1.6" fill="none" stroke="#e8383d" stroke-width="1.1"/>
<circle cx="455.30" cy="261.97" r="1.6" fill="none" stroke="#e8383d" stroke-width="1.1"/>
<circle cx="449.30" cy="272.94" r="1.6" fill="none" stroke="#e8383d" stroke-width="1.1"/>
<circle cx="451.80" cy="270.94" r="1.6" fill="none" stroke="#e8383d" stroke-width="1.1"/>
<line x1="441.80" y1="237.22" x2="456.80" y2="237.22" stroke="#111" stroke-width="1.2" />
<line x1="449.30" y1="234.56" x2="449.30" y2="239.87" stroke="#111" stroke-width="1.0" />
<line x1="445.80" y1="234.56" x2="452.80" y2="234.56" stroke="#111" stroke-width="1.0" />
<line x1="445.80" y1="239.87" x2="452.80" y2="239.87" stroke="#111" stroke-width="1.0" />
<circle cx="471.80" cy="224.59" r="1.6" fill="none" stroke="#111" stroke-width="1.1"/>
<circle cx="471.80" cy="232.86" r="1.6" fill="none" stroke="#111" stroke-width="1.1"/>
<circle cx="470.30" cy="240.97" r="1.6" fill="none" stroke="#111" stroke-width="1.1"/>
<circle cx="473.30" cy="239.93" r="1.6" fill="none" stroke="#111" stroke-width="1.1"/>
<circle cx="467.30" cy="239.45" r="1.6" fill="none" stroke="#111" stroke-width="1.1"/>
<circle cx="476.30" cy="238.38" r="1.6" fill="none" stroke="#111" stroke-width="1.1"/>
<circle cx="470.80" cy="237.69" r="1.6" fill="none" stroke="#111" stroke-width="1.1"/>
<circle cx="465.30" cy="237.07" r="1.6" fill="none" stroke="#111" stroke-width="1.1"/>
<circle cx="471.80" cy="243.69" r="1.6" fill="none" stroke="#111" stroke-width="1.1"/>
<circle cx="474.80" cy="243.07" r="1.6" fill="none" stroke="#111" stroke-width="1.1"/>
<circle cx="471.80" cy="249.17" r="1.6" fill="none" stroke="#111" stroke-width="1.1"/>
<circle cx="475.30" cy="248.69" r="1.6" fill="none" stroke="#111" stroke-width="1.1"/>
<circle cx="468.80" cy="248.32" r="1.6" fill="none" stroke="#111" stroke-width="1.1"/>
<circle cx="478.30" cy="248.01" r="1.6" fill="none" stroke="#111" stroke-width="1.1"/>
<circle cx="471.80" cy="257.04" r="1.6" fill="none" stroke="#111" stroke-width="1.1"/>
<circle cx="475.30" cy="256.56" r="1.6" fill="none" stroke="#111" stroke-width="1.1"/>
<circle cx="468.80" cy="256.16" r="1.6" fill="none" stroke="#111" stroke-width="1.1"/>
<circle cx="478.30" cy="255.68" r="1.6" fill="none" stroke="#111" stroke-width="1.1"/>
<circle cx="465.80" cy="255.17" r="1.6" fill="none" stroke="#111" stroke-width="1.1"/>
<circle cx="473.30" cy="254.32" r="1.6" fill="none" stroke="#111" stroke-width="1.1"/>
<circle cx="470.30" cy="253.82" r="1.6" fill="none" stroke="#111" stroke-width="1.1"/>
<circle cx="476.30" cy="253.30" r="1.6" fill="none" stroke="#111" stroke-width="1.1"/>
<circle cx="471.80" cy="265.02" r="1.6" fill="none" stroke="#111" stroke-width="1.1"/>
<circle cx="471.80" cy="275.99" r="1.6" fill="none" stroke="#111" stroke-width="1.1"/>
<circle cx="474.80" cy="275.20" r="1.6" fill="none" stroke="#111" stroke-width="1.1"/>
<circle cx="468.80" cy="274.62" r="1.6" fill="none" stroke="#111" stroke-width="1.1"/>
<circle cx="477.80" cy="273.68" r="1.6" fill="none" stroke="#111" stroke-width="1.1"/>
<circle cx="465.80" cy="273.16" r="1.6" fill="none" stroke="#111" stroke-width="1.1"/>
<circle cx="471.80" cy="272.13" r="1.6" fill="none" stroke="#111" stroke-width="1.1"/>
<line x1="464.30" y1="252.54" x2="479.30" y2="252.54" stroke="#111" stroke-width="1.2" />
<line x1="471.80" y1="249.93" x2="471.80" y2="255.16" stroke="#111" stroke-width="1.0" />
<line x1="468.30" y1="249.93" x2="475.30" y2="249.93" stroke="#111" stroke-width="1.0" />
<line x1="468.30" y1="255.16" x2="475.30" y2="255.16" stroke="#111" stroke-width="1.0" />
<circle cx="493.80" cy="215.99" r="1.6" fill="none" stroke="#e8383d" stroke-width="1.1"/>
<circle cx="497.30" cy="215.57" r="1.6" fill="none" stroke="#e8383d" stroke-width="1.1"/>
<circle cx="490.80" cy="215.20" r="1.6" fill="none" stroke="#e8383d" stroke-width="1.1"/>
<circle cx="500.30" cy="214.82" r="1.6" fill="none" stroke="#e8383d" stroke-width="1.1"/>
<circle cx="487.80" cy="214.18" r="1.6" fill="none" stroke="#e8383d" stroke-width="1.1"/>
<circle cx="495.30" cy="213.62" r="1.6" fill="none" stroke="#e8383d" stroke-width="1.1"/>
<circle cx="492.80" cy="213.36" r="1.6" fill="none" stroke="#e8383d" stroke-width="1.1"/>
<circle cx="498.30" cy="212.74" r="1.6" fill="none" stroke="#e8383d" stroke-width="1.1"/>
<circle cx="493.80" cy="224.59" r="1.6" fill="none" stroke="#e8383d" stroke-width="1.1"/>
<circle cx="496.80" cy="223.66" r="1.6" fill="none" stroke="#e8383d" stroke-width="1.1"/>
<circle cx="490.80" cy="223.16" r="1.6" fill="none" stroke="#e8383d" stroke-width="1.1"/>
<circle cx="499.80" cy="222.33" r="1.6" fill="none" stroke="#e8383d" stroke-width="1.1"/>
<circle cx="487.80" cy="221.60" r="1.6" fill="none" stroke="#e8383d" stroke-width="1.1"/>
<circle cx="493.80" cy="220.80" r="1.6" fill="none" stroke="#e8383d" stroke-width="1.1"/>
<circle cx="497.30" cy="220.31" r="1.6" fill="none" stroke="#e8383d" stroke-width="1.1"/>
<circle cx="490.80" cy="219.45" r="1.6" fill="none" stroke="#e8383d" stroke-width="1.1"/>
<circle cx="500.30" cy="219.07" r="1.6" fill="none" stroke="#e8383d" stroke-width="1.1"/>
<circle cx="487.80" cy="218.51" r="1.6" fill="none" stroke="#e8383d" stroke-width="1.1"/>
<circle cx="493.80" cy="233.24" r="1.6" fill="none" stroke="#e8383d" stroke-width="1.1"/>
<circle cx="496.80" cy="232.35" r="1.6" fill="none" stroke="#e8383d" stroke-width="1.1"/>
<circle cx="490.80" cy="231.60" r="1.6" fill="none" stroke="#e8383d" stroke-width="1.1"/>
<circle cx="499.80" cy="231.26" r="1.6" fill="none" stroke="#e8383d" stroke-width="1.1"/>
<circle cx="487.80" cy="230.38" r="1.6" fill="none" stroke="#e8383d" stroke-width="1.1"/>
<circle cx="493.80" cy="229.63" r="1.6" fill="none" stroke="#e8383d" stroke-width="1.1"/>
<circle cx="496.80" cy="228.76" r="1.6" fill="none" stroke="#e8383d" stroke-width="1.1"/>
<circle cx="491.30" cy="227.78" r="1.6" fill="none" stroke="#e8383d" stroke-width="1.1"/>
<circle cx="493.80" cy="243.88" r="1.6" fill="none" stroke="#e8383d" stroke-width="1.1"/>
<circle cx="497.30" cy="243.40" r="1.6" fill="none" stroke="#e8383d" stroke-width="1.1"/>
<circle cx="490.80" cy="242.41" r="1.6" fill="none" stroke="#e8383d" stroke-width="1.1"/>
<circle cx="487.80" cy="241.84" r="1.6" fill="none" stroke="#e8383d" stroke-width="1.1"/>
<circle cx="499.80" cy="241.30" r="1.6" fill="none" stroke="#e8383d" stroke-width="1.1"/>
<circle cx="495.30" cy="241.05" r="1.6" fill="none" stroke="#e8383d" stroke-width="1.1"/>
<circle cx="492.80" cy="240.36" r="1.6" fill="none" stroke="#e8383d" stroke-width="1.1"/>
<circle cx="485.80" cy="239.81" r="1.6" fill="none" stroke="#e8383d" stroke-width="1.1"/>
<circle cx="497.80" cy="238.88" r="1.6" fill="none" stroke="#e8383d" stroke-width="1.1"/>
<circle cx="489.80" cy="238.66" r="1.6" fill="none" stroke="#e8383d" stroke-width="1.1"/>
<circle cx="493.80" cy="249.98" r="1.6" fill="none" stroke="#e8383d" stroke-width="1.1"/>
<circle cx="496.80" cy="249.16" r="1.6" fill="none" stroke="#e8383d" stroke-width="1.1"/>
<circle cx="491.30" cy="248.04" r="1.6" fill="none" stroke="#e8383d" stroke-width="1.1"/>
<circle cx="493.80" cy="256.57" r="1.6" fill="none" stroke="#e8383d" stroke-width="1.1"/>
<circle cx="496.80" cy="254.87" r="1.6" fill="none" stroke="#e8383d" stroke-width="1.1"/>
<circle cx="491.30" cy="254.39" r="1.6" fill="none" stroke="#e8383d" stroke-width="1.1"/>
<circle cx="494.30" cy="253.05" r="1.6" fill="none" stroke="#e8383d" stroke-width="1.1"/>
<circle cx="498.80" cy="252.39" r="1.6" fill="none" stroke="#e8383d" stroke-width="1.1"/>
<circle cx="493.80" cy="261.84" r="1.6" fill="none" stroke="#e8383d" stroke-width="1.1"/>
<circle cx="496.80" cy="260.77" r="1.6" fill="none" stroke="#e8383d" stroke-width="1.1"/>
<circle cx="491.30" cy="259.95" r="1.6" fill="none" stroke="#e8383d" stroke-width="1.1"/>
<circle cx="499.80" cy="259.66" r="1.6" fill="none" stroke="#e8383d" stroke-width="1.1"/>
<circle cx="488.30" cy="258.86" r="1.6" fill="none" stroke="#e8383d" stroke-width="1.1"/>
<line x1="486.30" y1="234.80" x2="501.30" y2="234.80" stroke="#111" stroke-width="1.2" />
<line x1="493.80" y1="232.58" x2="493.80" y2="237.01" stroke="#111" stroke-width="1.0" />
<line x1="490.30" y1="232.58" x2="497.30" y2="232.58" stroke="#111" stroke-width="1.0" />
<line x1="490.30" y1="237.01" x2="497.30" y2="237.01" stroke="#111" stroke-width="1.0" />
<circle cx="515.90" cy="236.86" r="1.6" fill="none" stroke="#111" stroke-width="1.1"/>
<circle cx="519.40" cy="236.60" r="1.6" fill="none" stroke="#111" stroke-width="1.1"/>
<circle cx="512.90" cy="236.04" r="1.6" fill="none" stroke="#111" stroke-width="1.1"/>
<circle cx="522.40" cy="235.58" r="1.6" fill="none" stroke="#111" stroke-width="1.1"/>
<circle cx="509.90" cy="235.31" r="1.6" fill="none" stroke="#111" stroke-width="1.1"/>
<circle cx="517.40" cy="234.90" r="1.6" fill="none" stroke="#111" stroke-width="1.1"/>
<circle cx="514.90" cy="234.25" r="1.6" fill="none" stroke="#111" stroke-width="1.1"/>
<circle cx="519.90" cy="233.96" r="1.6" fill="none" stroke="#111" stroke-width="1.1"/>
<circle cx="515.90" cy="241.04" r="1.6" fill="none" stroke="#111" stroke-width="1.1"/>
<circle cx="515.90" cy="251.40" r="1.6" fill="none" stroke="#111" stroke-width="1.1"/>
<circle cx="518.90" cy="250.69" r="1.6" fill="none" stroke="#111" stroke-width="1.1"/>
<circle cx="512.90" cy="250.19" r="1.6" fill="none" stroke="#111" stroke-width="1.1"/>
<circle cx="521.90" cy="249.99" r="1.6" fill="none" stroke="#111" stroke-width="1.1"/>
<circle cx="509.90" cy="249.50" r="1.6" fill="none" stroke="#111" stroke-width="1.1"/>
<circle cx="516.90" cy="248.94" r="1.6" fill="none" stroke="#111" stroke-width="1.1"/>
<circle cx="515.90" cy="258.48" r="1.6" fill="none" stroke="#111" stroke-width="1.1"/>
<circle cx="519.40" cy="258.21" r="1.6" fill="none" stroke="#111" stroke-width="1.1"/>
<circle cx="512.90" cy="257.35" r="1.6" fill="none" stroke="#111" stroke-width="1.1"/>
<circle cx="509.90" cy="256.67" r="1.6" fill="none" stroke="#111" stroke-width="1.1"/>
<circle cx="521.90" cy="255.91" r="1.6" fill="none" stroke="#111" stroke-width="1.1"/>
<circle cx="515.90" cy="254.93" r="1.6" fill="none" stroke="#111" stroke-width="1.1"/>
<circle cx="518.90" cy="254.39" r="1.6" fill="none" stroke="#111" stroke-width="1.1"/>
<circle cx="512.90" cy="253.50" r="1.6" fill="none" stroke="#111" stroke-width="1.1"/>
<circle cx="515.90" cy="262.82" r="1.6" fill="none" stroke="#111" stroke-width="1.1"/>
<circle cx="515.90" cy="268.88" r="1.6" fill="none" stroke="#111" stroke-width="1.1"/>
<circle cx="515.90" cy="274.03" r="1.6" fill="none" stroke="#111" stroke-width="1.1"/>
<line x1="508.40" y1="249.25" x2="523.40" y2="249.25" stroke="#111" stroke-width="1.2" />
<line x1="515.90" y1="247.03" x2="515.90" y2="251.47" stroke="#111" stroke-width="1.0" />
<line x1="512.40" y1="247.03" x2="519.40" y2="247.03" stroke="#111" stroke-width="1.0" />
<line x1="512.40" y1="251.47" x2="519.40" y2="251.47" stroke="#111" stroke-width="1.0" />
<circle cx="537.90" cy="216.86" r="1.6" fill="none" stroke="#e8383d" stroke-width="1.1"/>
<circle cx="540.40" cy="215.10" r="1.6" fill="none" stroke="#e8383d" stroke-width="1.1"/>
<circle cx="535.90" cy="214.21" r="1.6" fill="none" stroke="#e8383d" stroke-width="1.1"/>
<circle cx="532.90" cy="213.45" r="1.6" fill="none" stroke="#e8383d" stroke-width="1.1"/>
<circle cx="537.90" cy="225.80" r="1.6" fill="none" stroke="#e8383d" stroke-width="1.1"/>
<circle cx="541.40" cy="225.27" r="1.6" fill="none" stroke="#e8383d" stroke-width="1.1"/>
<circle cx="534.90" cy="224.54" r="1.6" fill="none" stroke="#e8383d" stroke-width="1.1"/>
<circle cx="544.40" cy="224.03" r="1.6" fill="none" stroke="#e8383d" stroke-width="1.1"/>
<circle cx="531.90" cy="223.36" r="1.6" fill="none" stroke="#e8383d" stroke-width="1.1"/>
<circle cx="537.90" cy="222.72" r="1.6" fill="none" stroke="#e8383d" stroke-width="1.1"/>
<circle cx="540.90" cy="222.32" r="1.6" fill="none" stroke="#e8383d" stroke-width="1.1"/>
<circle cx="534.40" cy="221.82" r="1.6" fill="none" stroke="#e8383d" stroke-width="1.1"/>
<circle cx="543.90" cy="220.81" r="1.6" fill="none" stroke="#e8383d" stroke-width="1.1"/>
<circle cx="530.40" cy="220.58" r="1.6" fill="none" stroke="#e8383d" stroke-width="1.1"/>
<circle cx="537.90" cy="234.74" r="1.6" fill="none" stroke="#e8383d" stroke-width="1.1"/>
<circle cx="540.90" cy="233.93" r="1.6" fill="none" stroke="#e8383d" stroke-width="1.1"/>
<circle cx="534.90" cy="233.64" r="1.6" fill="none" stroke="#e8383d" stroke-width="1.1"/>
<circle cx="543.90" cy="233.09" r="1.6" fill="none" stroke="#e8383d" stroke-width="1.1"/>
<circle cx="531.90" cy="232.43" r="1.6" fill="none" stroke="#e8383d" stroke-width="1.1"/>
<circle cx="538.40" cy="231.92" r="1.6" fill="none" stroke="#e8383d" stroke-width="1.1"/>
<circle cx="541.40" cy="231.06" r="1.6" fill="none" stroke="#e8383d" stroke-width="1.1"/>
<circle cx="545.90" cy="230.68" r="1.6" fill="none" stroke="#e8383d" stroke-width="1.1"/>
<circle cx="535.40" cy="230.19" r="1.6" fill="none" stroke="#e8383d" stroke-width="1.1"/>
<circle cx="532.40" cy="229.34" r="1.6" fill="none" stroke="#e8383d" stroke-width="1.1"/>
<circle cx="537.90" cy="245.29" r="1.6" fill="none" stroke="#e8383d" stroke-width="1.1"/>
<circle cx="540.90" cy="244.51" r="1.6" fill="none" stroke="#e8383d" stroke-width="1.1"/>
<circle cx="534.90" cy="243.79" r="1.6" fill="none" stroke="#e8383d" stroke-width="1.1"/>
<circle cx="543.40" cy="242.42" r="1.6" fill="none" stroke="#e8383d" stroke-width="1.1"/>
<circle cx="537.90" cy="241.90" r="1.6" fill="none" stroke="#e8383d" stroke-width="1.1"/>
<circle cx="533.40" cy="240.93" r="1.6" fill="none" stroke="#e8383d" stroke-width="1.1"/>
<circle cx="540.90" cy="240.18" r="1.6" fill="none" stroke="#e8383d" stroke-width="1.1"/>
<circle cx="536.40" cy="239.09" r="1.6" fill="none" stroke="#e8383d" stroke-width="1.1"/>
<circle cx="543.90" cy="238.80" r="1.6" fill="none" stroke="#e8383d" stroke-width="1.1"/>
<circle cx="533.40" cy="237.59" r="1.6" fill="none" stroke="#e8383d" stroke-width="1.1"/>
<circle cx="537.90" cy="249.84" r="1.6" fill="none" stroke="#e8383d" stroke-width="1.1"/>
<circle cx="541.40" cy="249.62" r="1.6" fill="none" stroke="#e8383d" stroke-width="1.1"/>
<circle cx="534.90" cy="249.18" r="1.6" fill="none" stroke="#e8383d" stroke-width="1.1"/>
<circle cx="544.40" cy="248.82" r="1.6" fill="none" stroke="#e8383d" stroke-width="1.1"/>
<circle cx="537.90" cy="260.27" r="1.6" fill="none" stroke="#e8383d" stroke-width="1.1"/>
<circle cx="540.90" cy="258.86" r="1.6" fill="none" stroke="#e8383d" stroke-width="1.1"/>
<circle cx="535.40" cy="258.46" r="1.6" fill="none" stroke="#e8383d" stroke-width="1.1"/>
<circle cx="532.40" cy="257.14" r="1.6" fill="none" stroke="#e8383d" stroke-width="1.1"/>
<circle cx="538.40" cy="256.72" r="1.6" fill="none" stroke="#e8383d" stroke-width="1.1"/>
<circle cx="535.40" cy="255.22" r="1.6" fill="none" stroke="#e8383d" stroke-width="1.1"/>
<circle cx="540.90" cy="254.81" r="1.6" fill="none" stroke="#e8383d" stroke-width="1.1"/>
<circle cx="537.90" cy="253.33" r="1.6" fill="none" stroke="#e8383d" stroke-width="1.1"/>
<line x1="530.40" y1="236.49" x2="545.40" y2="236.49" stroke="#111" stroke-width="1.2" />
<line x1="537.90" y1="234.50" x2="537.90" y2="238.49" stroke="#111" stroke-width="1.0" />
<line x1="534.40" y1="234.50" x2="541.40" y2="234.50" stroke="#111" stroke-width="1.0" />
<line x1="534.40" y1="238.49" x2="541.40" y2="238.49" stroke="#111" stroke-width="1.0" />
<circle cx="560.20" cy="230.65" r="1.6" fill="none" stroke="#111" stroke-width="1.1"/>
<circle cx="563.70" cy="230.65" r="1.6" fill="none" stroke="#111" stroke-width="1.1"/>
<circle cx="560.20" cy="235.13" r="1.6" fill="none" stroke="#111" stroke-width="1.1"/>
<circle cx="563.70" cy="234.79" r="1.6" fill="none" stroke="#111" stroke-width="1.1"/>
<circle cx="557.20" cy="234.18" r="1.6" fill="none" stroke="#111" stroke-width="1.1"/>
<circle cx="554.20" cy="233.43" r="1.6" fill="none" stroke="#111" stroke-width="1.1"/>
<circle cx="566.20" cy="232.82" r="1.6" fill="none" stroke="#111" stroke-width="1.1"/>
<circle cx="560.20" cy="240.45" r="1.6" fill="none" stroke="#111" stroke-width="1.1"/>
<circle cx="563.70" cy="240.05" r="1.6" fill="none" stroke="#111" stroke-width="1.1"/>
<circle cx="557.20" cy="239.48" r="1.6" fill="none" stroke="#111" stroke-width="1.1"/>
<circle cx="566.70" cy="239.35" r="1.6" fill="none" stroke="#111" stroke-width="1.1"/>
<circle cx="554.20" cy="238.84" r="1.6" fill="none" stroke="#111" stroke-width="1.1"/>
<circle cx="561.70" cy="238.58" r="1.6" fill="none" stroke="#111" stroke-width="1.1"/>
<circle cx="559.20" cy="238.13" r="1.6" fill="none" stroke="#111" stroke-width="1.1"/>
<circle cx="564.70" cy="237.71" r="1.6" fill="none" stroke="#111" stroke-width="1.1"/>
<circle cx="560.20" cy="244.00" r="1.6" fill="none" stroke="#111" stroke-width="1.1"/>
<circle cx="563.70" cy="243.47" r="1.6" fill="none" stroke="#111" stroke-width="1.1"/>
<circle cx="557.20" cy="242.88" r="1.6" fill="none" stroke="#111" stroke-width="1.1"/>
<circle cx="554.20" cy="242.11" r="1.6" fill="none" stroke="#111" stroke-width="1.1"/>
<circle cx="560.20" cy="247.75" r="1.6" fill="none" stroke="#111" stroke-width="1.1"/>
<circle cx="563.70" cy="247.75" r="1.6" fill="none" stroke="#111" stroke-width="1.1"/>
<circle cx="560.20" cy="251.33" r="1.6" fill="none" stroke="#111" stroke-width="1.1"/>
<circle cx="560.20" cy="254.91" r="1.6" fill="none" stroke="#111" stroke-width="1.1"/>
<line x1="552.70" y1="239.93" x2="567.70" y2="239.93" stroke="#111" stroke-width="1.2" />
<line x1="560.20" y1="238.61" x2="560.20" y2="241.25" stroke="#111" stroke-width="1.0" />
<line x1="556.70" y1="238.61" x2="563.70" y2="238.61" stroke="#111" stroke-width="1.0" />
<line x1="556.70" y1="241.25" x2="563.70" y2="241.25" stroke="#111" stroke-width="1.0" />
<circle cx="582.20" cy="218.15" r="1.6" fill="none" stroke="#e8383d" stroke-width="1.1"/>
<circle cx="583.70" cy="222.92" r="1.6" fill="none" stroke="#e8383d" stroke-width="1.1"/>
<circle cx="580.70" cy="222.23" r="1.6" fill="none" stroke="#e8383d" stroke-width="1.1"/>
<circle cx="586.20" cy="220.94" r="1.6" fill="none" stroke="#e8383d" stroke-width="1.1"/>
<circle cx="578.20" cy="220.35" r="1.6" fill="none" stroke="#e8383d" stroke-width="1.1"/>
<circle cx="579.70" cy="230.28" r="1.6" fill="none" stroke="#e8383d" stroke-width="1.1"/>
<circle cx="585.70" cy="229.77" r="1.6" fill="none" stroke="#e8383d" stroke-width="1.1"/>
<circle cx="576.70" cy="229.02" r="1.6" fill="none" stroke="#e8383d" stroke-width="1.1"/>
<circle cx="582.20" cy="228.69" r="1.6" fill="none" stroke="#e8383d" stroke-width="1.1"/>
<circle cx="588.20" cy="227.74" r="1.6" fill="none" stroke="#e8383d" stroke-width="1.1"/>
<circle cx="579.20" cy="227.57" r="1.6" fill="none" stroke="#e8383d" stroke-width="1.1"/>
<circle cx="584.70" cy="227.00" r="1.6" fill="none" stroke="#e8383d" stroke-width="1.1"/>
<circle cx="575.70" cy="226.14" r="1.6" fill="none" stroke="#e8383d" stroke-width="1.1"/>
<circle cx="581.70" cy="225.42" r="1.6" fill="none" stroke="#e8383d" stroke-width="1.1"/>
<circle cx="587.20" cy="224.89" r="1.6" fill="none" stroke="#e8383d" stroke-width="1.1"/>
<circle cx="582.70" cy="237.45" r="1.6" fill="none" stroke="#e8383d" stroke-width="1.1"/>
<circle cx="586.70" cy="237.17" r="1.6" fill="none" stroke="#e8383d" stroke-width="1.1"/>
<circle cx="579.70" cy="236.53" r="1.6" fill="none" stroke="#e8383d" stroke-width="1.1"/>
<circle cx="576.70" cy="235.87" r="1.6" fill="none" stroke="#e8383d" stroke-width="1.1"/>
<circle cx="589.20" cy="235.29" r="1.6" fill="none" stroke="#e8383d" stroke-width="1.1"/>
<circle cx="584.20" cy="234.71" r="1.6" fill="none" stroke="#e8383d" stroke-width="1.1"/>
<circle cx="581.20" cy="234.03" r="1.6" fill="none" stroke="#e8383d" stroke-width="1.1"/>
<circle cx="578.20" cy="233.38" r="1.6" fill="none" stroke="#e8383d" stroke-width="1.1"/>
<circle cx="586.70" cy="232.79" r="1.6" fill="none" stroke="#e8383d" stroke-width="1.1"/>
<circle cx="575.20" cy="231.94" r="1.6" fill="none" stroke="#e8383d" stroke-width="1.1"/>
<circle cx="582.70" cy="231.32" r="1.6" fill="none" stroke="#e8383d" stroke-width="1.1"/>
<circle cx="589.20" cy="231.05" r="1.6" fill="none" stroke="#e8383d" stroke-width="1.1"/>
<circle cx="582.20" cy="240.49" r="1.6" fill="none" stroke="#e8383d" stroke-width="1.1"/>
<circle cx="585.70" cy="240.09" r="1.6" fill="none" stroke="#e8383d" stroke-width="1.1"/>
<circle cx="579.20" cy="239.94" r="1.6" fill="none" stroke="#e8383d" stroke-width="1.1"/>
<circle cx="576.20" cy="239.34" r="1.6" fill="none" stroke="#e8383d" stroke-width="1.1"/>
<circle cx="582.20" cy="248.07" r="1.6" fill="none" stroke="#e8383d" stroke-width="1.1"/>
<circle cx="585.20" cy="247.41" r="1.6" fill="none" stroke="#e8383d" stroke-width="1.1"/>
<circle cx="579.20" cy="246.70" r="1.6" fill="none" stroke="#e8383d" stroke-width="1.1"/>
<circle cx="588.20" cy="245.67" r="1.6" fill="none" stroke="#e8383d" stroke-width="1.1"/>
<line x1="574.70" y1="232.58" x2="589.70" y2="232.58" stroke="#111" stroke-width="1.2" />
<line x1="582.20" y1="231.25" x2="582.20" y2="233.91" stroke="#111" stroke-width="1.0" />
<line x1="578.70" y1="231.25" x2="585.70" y2="231.25" stroke="#111" stroke-width="1.0" />
<line x1="578.70" y1="233.91" x2="585.70" y2="233.91" stroke="#111" stroke-width="1.0" />
<line x1="377.50" y1="208.50" x2="410.90" y2="208.50" stroke="#333" stroke-width="1.3" />
<text x="394.20" y="208.00" font-size="8" font-weight="bold" text-anchor="middle" fill="#222" stroke="#222" stroke-width="0.3" letter-spacing="0.25">***</text>
<line x1="421.70" y1="208.50" x2="455.10" y2="208.50" stroke="#333" stroke-width="1.3" />
<text x="438.40" y="208.00" font-size="8" font-weight="bold" text-anchor="middle" fill="#222" stroke="#222" stroke-width="0.3" letter-spacing="0.25">****</text>
<line x1="466.20" y1="208.50" x2="499.60" y2="208.50" stroke="#333" stroke-width="1.3" />
<text x="482.90" y="208.00" font-size="8" font-weight="bold" text-anchor="middle" fill="#222" stroke="#222" stroke-width="0.3" letter-spacing="0.25">****</text>
<line x1="510.30" y1="208.50" x2="543.70" y2="208.50" stroke="#333" stroke-width="1.3" />
<text x="527.00" y="208.00" font-size="8" font-weight="bold" text-anchor="middle" fill="#222" stroke="#222" stroke-width="0.3" letter-spacing="0.25">****</text>
<line x1="554.60" y1="208.50" x2="588.00" y2="208.50" stroke="#333" stroke-width="1.3" />
<text x="571.30" y="208.00" font-size="8" font-weight="bold" text-anchor="middle" fill="#222" stroke="#222" stroke-width="0.3" letter-spacing="0.25">**</text>
<text x="383.10" y="311.80" font-size="7.2" font-weight="bold" text-anchor="middle" fill="#111" >HC</text>
<text x="405.10" y="311.80" font-size="7.2" font-weight="bold" text-anchor="middle" fill="#111" >SLE</text>
<line x1="377.50" y1="315.10" x2="411.30" y2="315.10" stroke="#333" stroke-width="1.4" />
<text x="394.10" y="324.60" font-size="7.8" font-weight="bold" text-anchor="middle" fill="#111" >CD19<tspan dx="0.8" baseline-shift="55%" font-size="70%">+</tspan></text>
<text x="427.30" y="311.80" font-size="7.2" font-weight="bold" text-anchor="middle" fill="#111" >HC</text>
<text x="449.30" y="311.80" font-size="7.2" font-weight="bold" text-anchor="middle" fill="#111" >SLE</text>
<line x1="421.70" y1="315.10" x2="455.50" y2="315.10" stroke="#333" stroke-width="1.4" />
<text x="438.30" y="324.60" font-size="7.8" font-weight="bold" text-anchor="middle" fill="#111" >Na&#239;ve B</text>
<text x="471.80" y="311.80" font-size="7.2" font-weight="bold" text-anchor="middle" fill="#111" >HC</text>
<text x="493.80" y="311.80" font-size="7.2" font-weight="bold" text-anchor="middle" fill="#111" >SLE</text>
<line x1="466.20" y1="315.10" x2="500.00" y2="315.10" stroke="#333" stroke-width="1.4" />
<text x="482.80" y="324.60" font-size="7.8" font-weight="bold" text-anchor="middle" fill="#111" >Tra-B</text>
<text x="515.90" y="311.80" font-size="7.2" font-weight="bold" text-anchor="middle" fill="#111" >HC</text>
<text x="537.90" y="311.80" font-size="7.2" font-weight="bold" text-anchor="middle" fill="#111" >SLE</text>
<line x1="510.30" y1="315.10" x2="544.10" y2="315.10" stroke="#333" stroke-width="1.4" />
<text x="526.90" y="324.60" font-size="7.8" font-weight="bold" text-anchor="middle" fill="#111" >Memory B</text>
<text x="560.20" y="311.80" font-size="7.2" font-weight="bold" text-anchor="middle" fill="#111" >HC</text>
<text x="582.20" y="311.80" font-size="7.2" font-weight="bold" text-anchor="middle" fill="#111" >SLE</text>
<line x1="554.60" y1="315.10" x2="588.40" y2="315.10" stroke="#333" stroke-width="1.4" />
<text x="571.20" y="324.60" font-size="7.8" font-weight="bold" text-anchor="middle" fill="#111" >PC</text>
<text transform="translate(349.60,255.80) rotate(-90)" font-size="8" font-weight="bold" text-anchor="middle" fill="#222" >CD44<tspan baseline-shift="38%" font-size="70%">+</tspan>CD62L<tspan baseline-shift="38%" font-size="70%">-</tspan> %</text>
<line x1="369.10" y1="453.40" x2="369.10" y2="361.80" stroke="#222" stroke-width="1.1" />
<line x1="369.10" y1="453.40" x2="597.50" y2="453.40" stroke="#222" stroke-width="1.1" />
<line x1="366.90" y1="453.40" x2="369.10" y2="453.40" stroke="#222" stroke-width="1.0" />
<text x="365.50" y="456.00" font-size="7.0" font-weight="bold" text-anchor="end" fill="#111" >0</text>
<line x1="366.90" y1="435.08" x2="369.10" y2="435.08" stroke="#222" stroke-width="1.0" />
<text x="365.50" y="437.68" font-size="7.0" font-weight="bold" text-anchor="end" fill="#111" >20</text>
<line x1="366.90" y1="416.76" x2="369.10" y2="416.76" stroke="#222" stroke-width="1.0" />
<text x="365.50" y="419.36" font-size="7.0" font-weight="bold" text-anchor="end" fill="#111" >40</text>
<line x1="366.90" y1="398.44" x2="369.10" y2="398.44" stroke="#222" stroke-width="1.0" />
<text x="365.50" y="401.04" font-size="7.0" font-weight="bold" text-anchor="end" fill="#111" >60</text>
<line x1="366.90" y1="380.12" x2="369.10" y2="380.12" stroke="#222" stroke-width="1.0" />
<text x="365.50" y="382.72" font-size="7.0" font-weight="bold" text-anchor="end" fill="#111" >80</text>
<line x1="366.90" y1="361.80" x2="369.10" y2="361.80" stroke="#222" stroke-width="1.0" />
<text x="365.50" y="364.40" font-size="7.0" font-weight="bold" text-anchor="end" fill="#111" >100</text>
<line x1="387.40" y1="453.40" x2="387.40" y2="455.40" stroke="#222" stroke-width="1.0" />
<circle cx="387.40" cy="377.24" r="1.6" fill="none" stroke="#111" stroke-width="1.1"/>
<circle cx="390.90" cy="377.06" r="1.6" fill="none" stroke="#111" stroke-width="1.1"/>
<circle cx="387.40" cy="384.38" r="1.6" fill="none" stroke="#111" stroke-width="1.1"/>
<circle cx="390.40" cy="383.76" r="1.6" fill="none" stroke="#111" stroke-width="1.1"/>
<circle cx="384.40" cy="383.10" r="1.6" fill="none" stroke="#111" stroke-width="1.1"/>
<circle cx="393.40" cy="382.77" r="1.6" fill="none" stroke="#111" stroke-width="1.1"/>
<circle cx="387.40" cy="390.01" r="1.6" fill="none" stroke="#111" stroke-width="1.1"/>
<circle cx="387.40" cy="397.52" r="1.6" fill="none" stroke="#111" stroke-width="1.1"/>
<circle cx="387.40" cy="405.49" r="1.6" fill="none" stroke="#111" stroke-width="1.1"/>
<circle cx="387.40" cy="418.78" r="1.6" fill="none" stroke="#111" stroke-width="1.1"/>
<circle cx="390.90" cy="418.25" r="1.6" fill="none" stroke="#111" stroke-width="1.1"/>
<circle cx="384.40" cy="417.28" r="1.6" fill="none" stroke="#111" stroke-width="1.1"/>
<circle cx="381.40" cy="416.51" r="1.6" fill="none" stroke="#111" stroke-width="1.1"/>
<circle cx="388.40" cy="415.86" r="1.6" fill="none" stroke="#111" stroke-width="1.1"/>
<circle cx="391.40" cy="414.99" r="1.6" fill="none" stroke="#111" stroke-width="1.1"/>
<circle cx="385.40" cy="414.28" r="1.6" fill="none" stroke="#111" stroke-width="1.1"/>
<circle cx="382.40" cy="412.99" r="1.6" fill="none" stroke="#111" stroke-width="1.1"/>
<circle cx="387.40" cy="428.93" r="1.6" fill="none" stroke="#111" stroke-width="1.1"/>
<circle cx="390.40" cy="428.15" r="1.6" fill="none" stroke="#111" stroke-width="1.1"/>
<circle cx="384.40" cy="427.23" r="1.6" fill="none" stroke="#111" stroke-width="1.1"/>
<circle cx="393.40" cy="426.52" r="1.6" fill="none" stroke="#111" stroke-width="1.1"/>
<circle cx="381.40" cy="426.00" r="1.6" fill="none" stroke="#111" stroke-width="1.1"/>
<circle cx="387.40" cy="424.87" r="1.6" fill="none" stroke="#111" stroke-width="1.1"/>
<circle cx="387.40" cy="439.65" r="1.6" fill="none" stroke="#111" stroke-width="1.1"/>
<circle cx="390.40" cy="438.08" r="1.6" fill="none" stroke="#111" stroke-width="1.1"/>
<circle cx="384.90" cy="437.54" r="1.6" fill="none" stroke="#111" stroke-width="1.1"/>
<line x1="379.90" y1="411.05" x2="394.90" y2="411.05" stroke="#111" stroke-width="1.2" />
<line x1="387.40" y1="407.13" x2="387.40" y2="414.97" stroke="#111" stroke-width="1.0" />
<line x1="383.90" y1="407.13" x2="390.90" y2="407.13" stroke="#111" stroke-width="1.0" />
<line x1="383.90" y1="414.97" x2="390.90" y2="414.97" stroke="#111" stroke-width="1.0" />
<line x1="415.10" y1="453.40" x2="415.10" y2="455.40" stroke="#222" stroke-width="1.0" />
<circle cx="415.10" cy="377.01" r="1.6" fill="none" stroke="#e8383d" stroke-width="1.1"/>
<circle cx="415.10" cy="384.70" r="1.6" fill="none" stroke="#e8383d" stroke-width="1.1"/>
<circle cx="415.10" cy="393.77" r="1.6" fill="none" stroke="#e8383d" stroke-width="1.1"/>
<circle cx="418.10" cy="392.06" r="1.6" fill="none" stroke="#e8383d" stroke-width="1.1"/>
<circle cx="413.60" cy="391.07" r="1.6" fill="none" stroke="#e8383d" stroke-width="1.1"/>
<circle cx="410.60" cy="389.81" r="1.6" fill="none" stroke="#e8383d" stroke-width="1.1"/>
<circle cx="415.60" cy="388.74" r="1.6" fill="none" stroke="#e8383d" stroke-width="1.1"/>
<circle cx="415.10" cy="400.30" r="1.6" fill="none" stroke="#e8383d" stroke-width="1.1"/>
<circle cx="418.10" cy="399.75" r="1.6" fill="none" stroke="#e8383d" stroke-width="1.1"/>
<circle cx="412.60" cy="398.45" r="1.6" fill="none" stroke="#e8383d" stroke-width="1.1"/>
<circle cx="421.10" cy="398.11" r="1.6" fill="none" stroke="#e8383d" stroke-width="1.1"/>
<circle cx="415.10" cy="408.58" r="1.6" fill="none" stroke="#e8383d" stroke-width="1.1"/>
<circle cx="418.60" cy="408.25" r="1.6" fill="none" stroke="#e8383d" stroke-width="1.1"/>
<circle cx="412.10" cy="406.86" r="1.6" fill="none" stroke="#e8383d" stroke-width="1.1"/>
<circle cx="416.10" cy="405.68" r="1.6" fill="none" stroke="#e8383d" stroke-width="1.1"/>
<circle cx="419.10" cy="404.26" r="1.6" fill="none" stroke="#e8383d" stroke-width="1.1"/>
<circle cx="414.10" cy="403.26" r="1.6" fill="none" stroke="#e8383d" stroke-width="1.1"/>
<circle cx="415.10" cy="416.03" r="1.6" fill="none" stroke="#e8383d" stroke-width="1.1"/>
<circle cx="415.10" cy="427.72" r="1.6" fill="none" stroke="#e8383d" stroke-width="1.1"/>
<circle cx="418.10" cy="426.61" r="1.6" fill="none" stroke="#e8383d" stroke-width="1.1"/>
<circle cx="412.60" cy="425.58" r="1.6" fill="none" stroke="#e8383d" stroke-width="1.1"/>
<circle cx="421.10" cy="425.18" r="1.6" fill="none" stroke="#e8383d" stroke-width="1.1"/>
<circle cx="415.60" cy="423.85" r="1.6" fill="none" stroke="#e8383d" stroke-width="1.1"/>
<line x1="407.60" y1="404.16" x2="422.60" y2="404.16" stroke="#111" stroke-width="1.2" />
<line x1="415.10" y1="401.13" x2="415.10" y2="407.18" stroke="#111" stroke-width="1.0" />
<line x1="411.60" y1="401.13" x2="418.60" y2="401.13" stroke="#111" stroke-width="1.0" />
<line x1="411.60" y1="407.18" x2="418.60" y2="407.18" stroke="#111" stroke-width="1.0" />
<line x1="442.80" y1="453.40" x2="442.80" y2="455.40" stroke="#222" stroke-width="1.0" />
<circle cx="442.80" cy="388.43" r="1.6" fill="none" stroke="#2b2bd6" stroke-width="1.1"/>
<circle cx="446.30" cy="388.07" r="1.6" fill="none" stroke="#2b2bd6" stroke-width="1.1"/>
<circle cx="439.80" cy="387.52" r="1.6" fill="none" stroke="#2b2bd6" stroke-width="1.1"/>
<circle cx="449.30" cy="387.00" r="1.6" fill="none" stroke="#2b2bd6" stroke-width="1.1"/>
<circle cx="436.80" cy="386.58" r="1.6" fill="none" stroke="#2b2bd6" stroke-width="1.1"/>
<circle cx="444.30" cy="386.09" r="1.6" fill="none" stroke="#2b2bd6" stroke-width="1.1"/>
<circle cx="442.80" cy="392.12" r="1.6" fill="none" stroke="#2b2bd6" stroke-width="1.1"/>
<circle cx="444.80" cy="403.84" r="1.6" fill="none" stroke="#2b2bd6" stroke-width="1.1"/>
<circle cx="441.80" cy="403.13" r="1.6" fill="none" stroke="#2b2bd6" stroke-width="1.1"/>
<circle cx="438.80" cy="402.33" r="1.6" fill="none" stroke="#2b2bd6" stroke-width="1.1"/>
<circle cx="447.30" cy="401.90" r="1.6" fill="none" stroke="#2b2bd6" stroke-width="1.1"/>
<circle cx="435.80" cy="400.90" r="1.6" fill="none" stroke="#2b2bd6" stroke-width="1.1"/>
<circle cx="442.80" cy="410.49" r="1.6" fill="none" stroke="#2b2bd6" stroke-width="1.1"/>
<circle cx="445.80" cy="409.46" r="1.6" fill="none" stroke="#2b2bd6" stroke-width="1.1"/>
<circle cx="439.80" cy="409.10" r="1.6" fill="none" stroke="#2b2bd6" stroke-width="1.1"/>
<circle cx="448.80" cy="408.27" r="1.6" fill="none" stroke="#2b2bd6" stroke-width="1.1"/>
<circle cx="436.80" cy="407.61" r="1.6" fill="none" stroke="#2b2bd6" stroke-width="1.1"/>
<circle cx="442.80" cy="406.40" r="1.6" fill="none" stroke="#2b2bd6" stroke-width="1.1"/>
<circle cx="442.80" cy="414.93" r="1.6" fill="none" stroke="#2b2bd6" stroke-width="1.1"/>
<circle cx="442.80" cy="420.42" r="1.6" fill="none" stroke="#2b2bd6" stroke-width="1.1"/>
<circle cx="442.80" cy="425.92" r="1.6" fill="none" stroke="#2b2bd6" stroke-width="1.1"/>
<line x1="435.30" y1="401.93" x2="450.30" y2="401.93" stroke="#111" stroke-width="1.2" />
<line x1="442.80" y1="399.37" x2="442.80" y2="404.49" stroke="#111" stroke-width="1.0" />
<line x1="439.30" y1="399.37" x2="446.30" y2="399.37" stroke="#111" stroke-width="1.0" />
<line x1="439.30" y1="404.49" x2="446.30" y2="404.49" stroke="#111" stroke-width="1.0" />
<line x1="470.50" y1="453.40" x2="470.50" y2="455.40" stroke="#222" stroke-width="1.0" />
<circle cx="470.50" cy="377.31" r="1.6" fill="none" stroke="#35a035" stroke-width="1.1"/>
<circle cx="473.50" cy="376.51" r="1.6" fill="none" stroke="#35a035" stroke-width="1.1"/>
<circle cx="470.50" cy="383.13" r="1.6" fill="none" stroke="#35a035" stroke-width="1.1"/>
<circle cx="473.50" cy="381.88" r="1.6" fill="none" stroke="#35a035" stroke-width="1.1"/>
<circle cx="468.00" cy="381.14" r="1.6" fill="none" stroke="#35a035" stroke-width="1.1"/>
<circle cx="470.50" cy="395.98" r="1.6" fill="none" stroke="#35a035" stroke-width="1.1"/>
<circle cx="473.50" cy="394.94" r="1.6" fill="none" stroke="#35a035" stroke-width="1.1"/>
<circle cx="468.00" cy="394.16" r="1.6" fill="none" stroke="#35a035" stroke-width="1.1"/>
<circle cx="465.00" cy="393.30" r="1.6" fill="none" stroke="#35a035" stroke-width="1.1"/>
<circle cx="470.50" cy="392.18" r="1.6" fill="none" stroke="#35a035" stroke-width="1.1"/>
<circle cx="473.50" cy="391.29" r="1.6" fill="none" stroke="#35a035" stroke-width="1.1"/>
<circle cx="467.50" cy="390.83" r="1.6" fill="none" stroke="#35a035" stroke-width="1.1"/>
<circle cx="476.50" cy="389.77" r="1.6" fill="none" stroke="#35a035" stroke-width="1.1"/>
<circle cx="470.50" cy="402.03" r="1.6" fill="none" stroke="#35a035" stroke-width="1.1"/>
<circle cx="473.50" cy="400.62" r="1.6" fill="none" stroke="#35a035" stroke-width="1.1"/>
<circle cx="468.50" cy="399.67" r="1.6" fill="none" stroke="#35a035" stroke-width="1.1"/>
<circle cx="470.50" cy="406.68" r="1.6" fill="none" stroke="#35a035" stroke-width="1.1"/>
<line x1="463.00" y1="391.26" x2="478.00" y2="391.26" stroke="#111" stroke-width="1.2" />
<line x1="470.50" y1="389.13" x2="470.50" y2="393.39" stroke="#111" stroke-width="1.0" />
<line x1="467.00" y1="389.13" x2="474.00" y2="389.13" stroke="#111" stroke-width="1.0" />
<line x1="467.00" y1="393.39" x2="474.00" y2="393.39" stroke="#111" stroke-width="1.0" />
<line x1="497.70" y1="453.40" x2="497.70" y2="455.40" stroke="#222" stroke-width="1.0" />
<circle cx="495.70" cy="366.82" r="1.6" fill="none" stroke="#111" stroke-width="1.1"/>
<circle cx="498.70" cy="366.14" r="1.6" fill="none" stroke="#111" stroke-width="1.1"/>
<circle cx="501.70" cy="365.40" r="1.6" fill="none" stroke="#111" stroke-width="1.1"/>
<circle cx="493.20" cy="365.03" r="1.6" fill="none" stroke="#111" stroke-width="1.1"/>
<circle cx="504.70" cy="364.57" r="1.6" fill="none" stroke="#111" stroke-width="1.1"/>
<circle cx="496.70" cy="363.83" r="1.6" fill="none" stroke="#111" stroke-width="1.1"/>
<circle cx="497.70" cy="377.11" r="1.6" fill="none" stroke="#111" stroke-width="1.1"/>
<circle cx="500.70" cy="376.18" r="1.6" fill="none" stroke="#111" stroke-width="1.1"/>
<circle cx="494.70" cy="375.63" r="1.6" fill="none" stroke="#111" stroke-width="1.1"/>
<circle cx="503.70" cy="374.54" r="1.6" fill="none" stroke="#111" stroke-width="1.1"/>
<circle cx="491.70" cy="374.21" r="1.6" fill="none" stroke="#111" stroke-width="1.1"/>
<circle cx="497.70" cy="373.30" r="1.6" fill="none" stroke="#111" stroke-width="1.1"/>
<circle cx="500.70" cy="372.15" r="1.6" fill="none" stroke="#111" stroke-width="1.1"/>
<circle cx="494.70" cy="371.90" r="1.6" fill="none" stroke="#111" stroke-width="1.1"/>
<circle cx="503.70" cy="370.95" r="1.6" fill="none" stroke="#111" stroke-width="1.1"/>
<circle cx="491.70" cy="370.31" r="1.6" fill="none" stroke="#111" stroke-width="1.1"/>
<circle cx="497.70" cy="369.43" r="1.6" fill="none" stroke="#111" stroke-width="1.1"/>
<circle cx="500.70" cy="368.55" r="1.6" fill="none" stroke="#111" stroke-width="1.1"/>
<circle cx="497.70" cy="386.05" r="1.6" fill="none" stroke="#111" stroke-width="1.1"/>
<circle cx="500.70" cy="385.08" r="1.6" fill="none" stroke="#111" stroke-width="1.1"/>
<circle cx="494.70" cy="384.60" r="1.6" fill="none" stroke="#111" stroke-width="1.1"/>
<circle cx="503.20" cy="383.27" r="1.6" fill="none" stroke="#111" stroke-width="1.1"/>
<circle cx="497.70" cy="382.53" r="1.6" fill="none" stroke="#111" stroke-width="1.1"/>
<circle cx="493.20" cy="381.84" r="1.6" fill="none" stroke="#111" stroke-width="1.1"/>
<circle cx="497.70" cy="396.97" r="1.6" fill="none" stroke="#111" stroke-width="1.1"/>
<circle cx="500.70" cy="395.76" r="1.6" fill="none" stroke="#111" stroke-width="1.1"/>
<circle cx="495.70" cy="394.52" r="1.6" fill="none" stroke="#111" stroke-width="1.1"/>
<circle cx="498.70" cy="392.79" r="1.6" fill="none" stroke="#111" stroke-width="1.1"/>
<circle cx="494.20" cy="391.80" r="1.6" fill="none" stroke="#111" stroke-width="1.1"/>
<circle cx="501.70" cy="391.30" r="1.6" fill="none" stroke="#111" stroke-width="1.1"/>
<circle cx="497.70" cy="389.67" r="1.6" fill="none" stroke="#111" stroke-width="1.1"/>
<circle cx="494.70" cy="388.78" r="1.6" fill="none" stroke="#111" stroke-width="1.1"/>
<circle cx="497.70" cy="405.22" r="1.6" fill="none" stroke="#111" stroke-width="1.1"/>
<circle cx="500.20" cy="403.44" r="1.6" fill="none" stroke="#111" stroke-width="1.1"/>
<circle cx="495.20" cy="403.02" r="1.6" fill="none" stroke="#111" stroke-width="1.1"/>
<circle cx="497.70" cy="401.19" r="1.6" fill="none" stroke="#111" stroke-width="1.1"/>
<circle cx="500.70" cy="399.86" r="1.6" fill="none" stroke="#111" stroke-width="1.1"/>
<circle cx="494.70" cy="399.51" r="1.6" fill="none" stroke="#111" stroke-width="1.1"/>
<circle cx="497.70" cy="414.34" r="1.6" fill="none" stroke="#111" stroke-width="1.1"/>
<circle cx="499.70" cy="411.87" r="1.6" fill="none" stroke="#111" stroke-width="1.1"/>
<circle cx="496.70" cy="411.16" r="1.6" fill="none" stroke="#111" stroke-width="1.1"/>
<circle cx="500.70" cy="408.95" r="1.6" fill="none" stroke="#111" stroke-width="1.1"/>
<circle cx="497.70" cy="423.68" r="1.6" fill="none" stroke="#111" stroke-width="1.1"/>
<circle cx="499.70" cy="421.03" r="1.6" fill="none" stroke="#111" stroke-width="1.1"/>
<line x1="490.20" y1="386.69" x2="505.20" y2="386.69" stroke="#111" stroke-width="1.2" />
<line x1="497.70" y1="384.17" x2="497.70" y2="389.21" stroke="#111" stroke-width="1.0" />
<line x1="494.20" y1="384.17" x2="501.20" y2="384.17" stroke="#111" stroke-width="1.0" />
<line x1="494.20" y1="389.21" x2="501.20" y2="389.21" stroke="#111" stroke-width="1.0" />
<line x1="525.30" y1="453.40" x2="525.30" y2="455.40" stroke="#222" stroke-width="1.0" />
<circle cx="526.80" cy="371.62" r="1.6" fill="none" stroke="#e8383d" stroke-width="1.1"/>
<circle cx="523.80" cy="370.28" r="1.6" fill="none" stroke="#e8383d" stroke-width="1.1"/>
<circle cx="528.80" cy="369.19" r="1.6" fill="none" stroke="#e8383d" stroke-width="1.1"/>
<circle cx="521.30" cy="368.45" r="1.6" fill="none" stroke="#e8383d" stroke-width="1.1"/>
<circle cx="525.30" cy="367.51" r="1.6" fill="none" stroke="#e8383d" stroke-width="1.1"/>
<circle cx="528.30" cy="365.98" r="1.6" fill="none" stroke="#e8383d" stroke-width="1.1"/>
<circle cx="523.30" cy="365.08" r="1.6" fill="none" stroke="#e8383d" stroke-width="1.1"/>
<circle cx="520.30" cy="364.41" r="1.6" fill="none" stroke="#e8383d" stroke-width="1.1"/>
<circle cx="525.30" cy="384.19" r="1.6" fill="none" stroke="#e8383d" stroke-width="1.1"/>
<circle cx="528.30" cy="383.18" r="1.6" fill="none" stroke="#e8383d" stroke-width="1.1"/>
<circle cx="522.80" cy="382.26" r="1.6" fill="none" stroke="#e8383d" stroke-width="1.1"/>
<circle cx="530.80" cy="381.26" r="1.6" fill="none" stroke="#e8383d" stroke-width="1.1"/>
<circle cx="525.30" cy="380.25" r="1.6" fill="none" stroke="#e8383d" stroke-width="1.1"/>
<circle cx="521.30" cy="379.53" r="1.6" fill="none" stroke="#e8383d" stroke-width="1.1"/>
<circle cx="527.80" cy="378.40" r="1.6" fill="none" stroke="#e8383d" stroke-width="1.1"/>
<circle cx="530.80" cy="377.83" r="1.6" fill="none" stroke="#e8383d" stroke-width="1.1"/>
<circle cx="524.80" cy="377.09" r="1.6" fill="none" stroke="#e8383d" stroke-width="1.1"/>
<circle cx="521.80" cy="375.69" r="1.6" fill="none" stroke="#e8383d" stroke-width="1.1"/>
<circle cx="527.30" cy="375.25" r="1.6" fill="none" stroke="#e8383d" stroke-width="1.1"/>
<circle cx="530.30" cy="374.42" r="1.6" fill="none" stroke="#e8383d" stroke-width="1.1"/>
<circle cx="524.30" cy="373.52" r="1.6" fill="none" stroke="#e8383d" stroke-width="1.1"/>
<circle cx="521.30" cy="372.31" r="1.6" fill="none" stroke="#e8383d" stroke-width="1.1"/>
<circle cx="525.30" cy="397.53" r="1.6" fill="none" stroke="#e8383d" stroke-width="1.1"/>
<circle cx="528.30" cy="396.92" r="1.6" fill="none" stroke="#e8383d" stroke-width="1.1"/>
<circle cx="522.80" cy="395.29" r="1.6" fill="none" stroke="#e8383d" stroke-width="1.1"/>
<circle cx="525.80" cy="394.26" r="1.6" fill="none" stroke="#e8383d" stroke-width="1.1"/>
<circle cx="529.30" cy="393.71" r="1.6" fill="none" stroke="#e8383d" stroke-width="1.1"/>
<circle cx="521.80" cy="392.40" r="1.6" fill="none" stroke="#e8383d" stroke-width="1.1"/>
<circle cx="525.30" cy="391.21" r="1.6" fill="none" stroke="#e8383d" stroke-width="1.1"/>
<circle cx="528.30" cy="390.06" r="1.6" fill="none" stroke="#e8383d" stroke-width="1.1"/>
<circle cx="522.80" cy="388.93" r="1.6" fill="none" stroke="#e8383d" stroke-width="1.1"/>
<circle cx="519.80" cy="388.38" r="1.6" fill="none" stroke="#e8383d" stroke-width="1.1"/>
<circle cx="525.30" cy="409.20" r="1.6" fill="none" stroke="#e8383d" stroke-width="1.1"/>
<circle cx="528.30" cy="408.28" r="1.6" fill="none" stroke="#e8383d" stroke-width="1.1"/>
<circle cx="524.30" cy="406.26" r="1.6" fill="none" stroke="#e8383d" stroke-width="1.1"/>
<circle cx="527.30" cy="404.61" r="1.6" fill="none" stroke="#e8383d" stroke-width="1.1"/>
<circle cx="522.80" cy="403.55" r="1.6" fill="none" stroke="#e8383d" stroke-width="1.1"/>
<circle cx="525.30" cy="401.26" r="1.6" fill="none" stroke="#e8383d" stroke-width="1.1"/>
<circle cx="525.30" cy="414.29" r="1.6" fill="none" stroke="#e8383d" stroke-width="1.1"/>
<circle cx="528.30" cy="413.45" r="1.6" fill="none" stroke="#e8383d" stroke-width="1.1"/>
<circle cx="523.30" cy="411.83" r="1.6" fill="none" stroke="#e8383d" stroke-width="1.1"/>
<circle cx="520.30" cy="411.25" r="1.6" fill="none" stroke="#e8383d" stroke-width="1.1"/>
<line x1="517.80" y1="386.91" x2="532.80" y2="386.91" stroke="#111" stroke-width="1.2" />
<line x1="525.30" y1="384.57" x2="525.30" y2="389.25" stroke="#111" stroke-width="1.0" />
<line x1="521.80" y1="384.57" x2="528.80" y2="384.57" stroke="#111" stroke-width="1.0" />
<line x1="521.80" y1="389.25" x2="528.80" y2="389.25" stroke="#111" stroke-width="1.0" />
<line x1="552.80" y1="453.40" x2="552.80" y2="455.40" stroke="#222" stroke-width="1.0" />
<circle cx="552.80" cy="369.90" r="1.6" fill="none" stroke="#2b2bd6" stroke-width="1.1"/>
<circle cx="555.80" cy="368.67" r="1.6" fill="none" stroke="#2b2bd6" stroke-width="1.1"/>
<circle cx="550.30" cy="367.83" r="1.6" fill="none" stroke="#2b2bd6" stroke-width="1.1"/>
<circle cx="553.30" cy="366.16" r="1.6" fill="none" stroke="#2b2bd6" stroke-width="1.1"/>
<circle cx="553.80" cy="386.69" r="1.6" fill="none" stroke="#2b2bd6" stroke-width="1.1"/>
<circle cx="550.80" cy="385.58" r="1.6" fill="none" stroke="#2b2bd6" stroke-width="1.1"/>
<circle cx="556.80" cy="385.02" r="1.6" fill="none" stroke="#2b2bd6" stroke-width="1.1"/>
<circle cx="547.80" cy="384.05" r="1.6" fill="none" stroke="#2b2bd6" stroke-width="1.1"/>
<circle cx="552.80" cy="383.20" r="1.6" fill="none" stroke="#2b2bd6" stroke-width="1.1"/>
<circle cx="559.30" cy="382.88" r="1.6" fill="none" stroke="#2b2bd6" stroke-width="1.1"/>
<circle cx="555.80" cy="381.53" r="1.6" fill="none" stroke="#2b2bd6" stroke-width="1.1"/>
<circle cx="550.30" cy="381.30" r="1.6" fill="none" stroke="#2b2bd6" stroke-width="1.1"/>
<circle cx="547.30" cy="379.99" r="1.6" fill="none" stroke="#2b2bd6" stroke-width="1.1"/>
<circle cx="553.30" cy="379.72" r="1.6" fill="none" stroke="#2b2bd6" stroke-width="1.1"/>
<circle cx="556.30" cy="378.44" r="1.6" fill="none" stroke="#2b2bd6" stroke-width="1.1"/>
<circle cx="550.80" cy="377.84" r="1.6" fill="none" stroke="#2b2bd6" stroke-width="1.1"/>
<circle cx="559.30" cy="377.04" r="1.6" fill="none" stroke="#2b2bd6" stroke-width="1.1"/>
<circle cx="553.80" cy="376.22" r="1.6" fill="none" stroke="#2b2bd6" stroke-width="1.1"/>
<circle cx="556.80" cy="375.24" r="1.6" fill="none" stroke="#2b2bd6" stroke-width="1.1"/>
<circle cx="550.30" cy="374.80" r="1.6" fill="none" stroke="#2b2bd6" stroke-width="1.1"/>
<circle cx="547.30" cy="373.70" r="1.6" fill="none" stroke="#2b2bd6" stroke-width="1.1"/>
<circle cx="559.30" cy="373.46" r="1.6" fill="none" stroke="#2b2bd6" stroke-width="1.1"/>
<circle cx="553.80" cy="400.55" r="1.6" fill="none" stroke="#2b2bd6" stroke-width="1.1"/>
<circle cx="550.80" cy="399.07" r="1.6" fill="none" stroke="#2b2bd6" stroke-width="1.1"/>
<circle cx="555.80" cy="397.90" r="1.6" fill="none" stroke="#2b2bd6" stroke-width="1.1"/>
<circle cx="552.80" cy="396.54" r="1.6" fill="none" stroke="#2b2bd6" stroke-width="1.1"/>
<circle cx="549.80" cy="395.44" r="1.6" fill="none" stroke="#2b2bd6" stroke-width="1.1"/>
<circle cx="555.30" cy="394.72" r="1.6" fill="none" stroke="#2b2bd6" stroke-width="1.1"/>
<circle cx="552.30" cy="393.51" r="1.6" fill="none" stroke="#2b2bd6" stroke-width="1.1"/>
<circle cx="549.30" cy="392.28" r="1.6" fill="none" stroke="#2b2bd6" stroke-width="1.1"/>
<circle cx="554.80" cy="391.28" r="1.6" fill="none" stroke="#2b2bd6" stroke-width="1.1"/>
<circle cx="552.30" cy="389.51" r="1.6" fill="none" stroke="#2b2bd6" stroke-width="1.1"/>
<circle cx="552.80" cy="411.61" r="1.6" fill="none" stroke="#2b2bd6" stroke-width="1.1"/>
<circle cx="555.80" cy="410.76" r="1.6" fill="none" stroke="#2b2bd6" stroke-width="1.1"/>
<circle cx="550.30" cy="409.60" r="1.6" fill="none" stroke="#2b2bd6" stroke-width="1.1"/>
<circle cx="558.30" cy="408.92" r="1.6" fill="none" stroke="#2b2bd6" stroke-width="1.1"/>
<circle cx="552.80" cy="406.98" r="1.6" fill="none" stroke="#2b2bd6" stroke-width="1.1"/>
<circle cx="555.80" cy="406.11" r="1.6" fill="none" stroke="#2b2bd6" stroke-width="1.1"/>
<circle cx="549.80" cy="405.24" r="1.6" fill="none" stroke="#2b2bd6" stroke-width="1.1"/>
<circle cx="552.80" cy="403.50" r="1.6" fill="none" stroke="#2b2bd6" stroke-width="1.1"/>
<line x1="545.30" y1="388.07" x2="560.30" y2="388.07" stroke="#111" stroke-width="1.2" />
<line x1="552.80" y1="385.96" x2="552.80" y2="390.17" stroke="#111" stroke-width="1.0" />
<line x1="549.30" y1="385.96" x2="556.30" y2="385.96" stroke="#111" stroke-width="1.0" />
<line x1="549.30" y1="390.17" x2="556.30" y2="390.17" stroke="#111" stroke-width="1.0" />
<line x1="580.50" y1="453.40" x2="580.50" y2="455.40" stroke="#222" stroke-width="1.0" />
<circle cx="580.50" cy="372.05" r="1.6" fill="none" stroke="#35a035" stroke-width="1.1"/>
<circle cx="583.50" cy="371.15" r="1.6" fill="none" stroke="#35a035" stroke-width="1.1"/>
<circle cx="578.50" cy="369.55" r="1.6" fill="none" stroke="#35a035" stroke-width="1.1"/>
<circle cx="578.50" cy="384.23" r="1.6" fill="none" stroke="#35a035" stroke-width="1.1"/>
<circle cx="582.50" cy="383.38" r="1.6" fill="none" stroke="#35a035" stroke-width="1.1"/>
<circle cx="585.50" cy="382.76" r="1.6" fill="none" stroke="#35a035" stroke-width="1.1"/>
<circle cx="576.50" cy="381.58" r="1.6" fill="none" stroke="#35a035" stroke-width="1.1"/>
<circle cx="580.50" cy="380.49" r="1.6" fill="none" stroke="#35a035" stroke-width="1.1"/>
<circle cx="583.50" cy="379.88" r="1.6" fill="none" stroke="#35a035" stroke-width="1.1"/>
<circle cx="575.00" cy="378.86" r="1.6" fill="none" stroke="#35a035" stroke-width="1.1"/>
<circle cx="578.50" cy="378.04" r="1.6" fill="none" stroke="#35a035" stroke-width="1.1"/>
<circle cx="581.50" cy="376.73" r="1.6" fill="none" stroke="#35a035" stroke-width="1.1"/>
<circle cx="584.50" cy="375.82" r="1.6" fill="none" stroke="#35a035" stroke-width="1.1"/>
<circle cx="579.00" cy="374.84" r="1.6" fill="none" stroke="#35a035" stroke-width="1.1"/>
<circle cx="576.00" cy="373.87" r="1.6" fill="none" stroke="#35a035" stroke-width="1.1"/>
<circle cx="580.50" cy="393.31" r="1.6" fill="none" stroke="#35a035" stroke-width="1.1"/>
<circle cx="583.50" cy="392.38" r="1.6" fill="none" stroke="#35a035" stroke-width="1.1"/>
<circle cx="577.50" cy="392.10" r="1.6" fill="none" stroke="#35a035" stroke-width="1.1"/>
<circle cx="586.50" cy="391.08" r="1.6" fill="none" stroke="#35a035" stroke-width="1.1"/>
<circle cx="575.00" cy="390.32" r="1.6" fill="none" stroke="#35a035" stroke-width="1.1"/>
<circle cx="580.50" cy="389.49" r="1.6" fill="none" stroke="#35a035" stroke-width="1.1"/>
<circle cx="583.50" cy="388.57" r="1.6" fill="none" stroke="#35a035" stroke-width="1.1"/>
<circle cx="578.00" cy="387.67" r="1.6" fill="none" stroke="#35a035" stroke-width="1.1"/>
<circle cx="586.00" cy="386.63" r="1.6" fill="none" stroke="#35a035" stroke-width="1.1"/>
<circle cx="581.00" cy="386.15" r="1.6" fill="none" stroke="#35a035" stroke-width="1.1"/>
<circle cx="580.50" cy="400.47" r="1.6" fill="none" stroke="#35a035" stroke-width="1.1"/>
<circle cx="583.50" cy="398.80" r="1.6" fill="none" stroke="#35a035" stroke-width="1.1"/>
<circle cx="578.00" cy="398.42" r="1.6" fill="none" stroke="#35a035" stroke-width="1.1"/>
<circle cx="575.00" cy="397.28" r="1.6" fill="none" stroke="#35a035" stroke-width="1.1"/>
<line x1="573.00" y1="384.69" x2="588.00" y2="384.69" stroke="#111" stroke-width="1.2" />
<line x1="580.50" y1="383.05" x2="580.50" y2="386.32" stroke="#111" stroke-width="1.0" />
<line x1="577.00" y1="383.05" x2="584.00" y2="383.05" stroke="#111" stroke-width="1.0" />
<line x1="577.00" y1="386.32" x2="584.00" y2="386.32" stroke="#111" stroke-width="1.0" />
<line x1="385.10" y1="347.50" x2="473.70" y2="347.50" stroke="#333" stroke-width="1.3" />
<text x="429.40" y="347.10" font-size="8" font-weight="bold" text-anchor="middle" fill="#222" stroke="#222" stroke-width="0.3" letter-spacing="0.25">****</text>
<line x1="413.20" y1="354.50" x2="473.70" y2="354.50" stroke="#333" stroke-width="1.3" />
<text x="443.45" y="353.90" font-size="8" font-weight="bold" text-anchor="middle" fill="#222" stroke="#222" stroke-width="0.3" letter-spacing="0.25">***</text>
<line x1="385.10" y1="360.50" x2="445.60" y2="360.50" stroke="#333" stroke-width="1.3" />
<text x="415.35" y="360.30" font-size="8" font-weight="bold" text-anchor="middle" fill="#222" stroke="#222" stroke-width="0.3" letter-spacing="0.25">*</text>
<line x1="385.10" y1="367.50" x2="419.00" y2="367.50" stroke="#333" stroke-width="1.3" />
<text x="402.05" y="367.00" font-size="8" font-weight="bold" text-anchor="middle" fill="#222" stroke="#222" stroke-width="0.3" letter-spacing="0.25">*</text>
<line x1="439.60" y1="367.50" x2="473.70" y2="367.50" stroke="#333" stroke-width="1.3" />
<text x="456.65" y="367.00" font-size="8" font-weight="bold" text-anchor="middle" fill="#222" stroke="#222" stroke-width="0.3" letter-spacing="0.25">****</text>
<line x1="494.50" y1="353.50" x2="522.50" y2="353.50" stroke="#333" stroke-width="1.3" />
<text x="508.50" y="353.40" font-size="8" font-weight="bold" text-anchor="middle" fill="#222" stroke="#222" stroke-width="0.3" letter-spacing="0.25">*</text>
<line x1="527.70" y1="353.50" x2="549.80" y2="353.50" stroke="#333" stroke-width="1.3" />
<text x="538.75" y="353.40" font-size="8" font-weight="bold" text-anchor="middle" fill="#222" stroke="#222" stroke-width="0.3" letter-spacing="0.25">**</text>
<line x1="555.20" y1="353.50" x2="587.20" y2="353.50" stroke="#333" stroke-width="1.3" />
<text x="570.80" y="351.60" font-size="6.4"  text-anchor="middle" fill="#222" >p = 0.0510</text>
<text transform="translate(389.80,463.60) rotate(-45)" font-size="7.0" font-weight="bold" text-anchor="end" fill="#111" >Na&#239;ve B</text>
<text transform="translate(417.50,463.60) rotate(-45)" font-size="7.0" font-weight="bold" text-anchor="end" fill="#111" >Tra-B</text>
<text transform="translate(445.20,463.60) rotate(-45)" font-size="7.0" font-weight="bold" text-anchor="end" fill="#111" >Memory B</text>
<text transform="translate(472.90,463.60) rotate(-45)" font-size="7.0" font-weight="bold" text-anchor="end" fill="#111" >PC</text>
<text transform="translate(500.10,463.60) rotate(-45)" font-size="7.0" font-weight="bold" text-anchor="end" fill="#111" >Na&#239;ve B</text>
<text transform="translate(527.70,463.60) rotate(-45)" font-size="7.0" font-weight="bold" text-anchor="end" fill="#111" >Tra-B</text>
<text transform="translate(555.20,463.60) rotate(-45)" font-size="7.0" font-weight="bold" text-anchor="end" fill="#111" >Memory B</text>
<text transform="translate(582.90,463.60) rotate(-45)" font-size="7.0" font-weight="bold" text-anchor="end" fill="#111" >PC</text>
<line x1="371.00" y1="488.80" x2="467.00" y2="488.80" stroke="#333" stroke-width="1.4" />
<line x1="480.80" y1="488.90" x2="578.80" y2="488.90" stroke="#333" stroke-width="1.4" />
<text x="416.50" y="497.80" font-size="7.8" font-weight="bold" text-anchor="middle" fill="#111" >HC</text>
<text x="527.40" y="497.80" font-size="7.8" font-weight="bold" text-anchor="middle" fill="#111" >SLE</text>
<text transform="translate(350.40,409.20) rotate(-90)" font-size="8" font-weight="bold" text-anchor="middle" fill="#222" >CD44<tspan baseline-shift="38%" font-size="70%">+</tspan>CD62L<tspan baseline-shift="38%" font-size="70%">-</tspan> %</text>
<line x1="58.40" y1="490.30" x2="58.40" y2="398.80" stroke="#222" stroke-width="1.1" />
<line x1="58.40" y1="490.30" x2="288.70" y2="490.30" stroke="#222" stroke-width="1.1" />
<line x1="56.20" y1="490.30" x2="58.40" y2="490.30" stroke="#222" stroke-width="1.0" />
<text x="54.80" y="492.90" font-size="7.0" font-weight="bold" text-anchor="end" fill="#111" >0</text>
<line x1="56.20" y1="472.00" x2="58.40" y2="472.00" stroke="#222" stroke-width="1.0" />
<text x="54.80" y="474.60" font-size="7.0" font-weight="bold" text-anchor="end" fill="#111" >20</text>
<line x1="56.20" y1="453.70" x2="58.40" y2="453.70" stroke="#222" stroke-width="1.0" />
<text x="54.80" y="456.30" font-size="7.0" font-weight="bold" text-anchor="end" fill="#111" >40</text>
<line x1="56.20" y1="435.40" x2="58.40" y2="435.40" stroke="#222" stroke-width="1.0" />
<text x="54.80" y="438.00" font-size="7.0" font-weight="bold" text-anchor="end" fill="#111" >60</text>
<line x1="56.20" y1="417.10" x2="58.40" y2="417.10" stroke="#222" stroke-width="1.0" />
<text x="54.80" y="419.70" font-size="7.0" font-weight="bold" text-anchor="end" fill="#111" >80</text>
<line x1="56.20" y1="398.80" x2="58.40" y2="398.80" stroke="#222" stroke-width="1.0" />
<text x="54.80" y="401.40" font-size="7.0" font-weight="bold" text-anchor="end" fill="#111" >100</text>
<line x1="73.40" y1="490.30" x2="73.40" y2="492.30" stroke="#222" stroke-width="1.0" />
<line x1="117.20" y1="490.30" x2="117.20" y2="492.30" stroke="#222" stroke-width="1.0" />
<line x1="161.80" y1="490.30" x2="161.80" y2="492.30" stroke="#222" stroke-width="1.0" />
<line x1="205.20" y1="490.30" x2="205.20" y2="492.30" stroke="#222" stroke-width="1.0" />
<line x1="249.20" y1="490.30" x2="249.20" y2="492.30" stroke="#222" stroke-width="1.0" />
<line x1="95.20" y1="490.30" x2="95.20" y2="492.30" stroke="#222" stroke-width="1.0" />
<line x1="138.80" y1="490.30" x2="138.80" y2="492.30" stroke="#222" stroke-width="1.0" />
<line x1="183.00" y1="490.30" x2="183.00" y2="492.30" stroke="#222" stroke-width="1.0" />
<line x1="227.50" y1="490.30" x2="227.50" y2="492.30" stroke="#222" stroke-width="1.0" />
<line x1="271.20" y1="490.30" x2="271.20" y2="492.30" stroke="#222" stroke-width="1.0" />
<circle cx="73.40" cy="437.91" r="1.6" fill="none" stroke="#111" stroke-width="1.1"/>
<circle cx="76.40" cy="437.25" r="1.6" fill="none" stroke="#111" stroke-width="1.1"/>
<circle cx="70.40" cy="436.26" r="1.6" fill="none" stroke="#111" stroke-width="1.1"/>
<circle cx="79.40" cy="435.71" r="1.6" fill="none" stroke="#111" stroke-width="1.1"/>
<circle cx="73.40" cy="443.81" r="1.6" fill="none" stroke="#111" stroke-width="1.1"/>
<circle cx="76.40" cy="442.11" r="1.6" fill="none" stroke="#111" stroke-width="1.1"/>
<circle cx="73.40" cy="451.25" r="1.6" fill="none" stroke="#111" stroke-width="1.1"/>
<circle cx="76.40" cy="450.57" r="1.6" fill="none" stroke="#111" stroke-width="1.1"/>
<circle cx="70.40" cy="450.01" r="1.6" fill="none" stroke="#111" stroke-width="1.1"/>
<circle cx="79.40" cy="449.05" r="1.6" fill="none" stroke="#111" stroke-width="1.1"/>
<circle cx="67.40" cy="448.70" r="1.6" fill="none" stroke="#111" stroke-width="1.1"/>
<circle cx="74.40" cy="456.30" r="1.6" fill="none" stroke="#111" stroke-width="1.1"/>
<circle cx="71.40" cy="455.44" r="1.6" fill="none" stroke="#111" stroke-width="1.1"/>
<circle cx="77.40" cy="454.87" r="1.6" fill="none" stroke="#111" stroke-width="1.1"/>
<circle cx="68.40" cy="454.40" r="1.6" fill="none" stroke="#111" stroke-width="1.1"/>
<circle cx="80.40" cy="453.88" r="1.6" fill="none" stroke="#111" stroke-width="1.1"/>
<circle cx="73.40" cy="459.19" r="1.6" fill="none" stroke="#111" stroke-width="1.1"/>
<circle cx="73.40" cy="464.56" r="1.6" fill="none" stroke="#111" stroke-width="1.1"/>
<circle cx="76.40" cy="463.49" r="1.6" fill="none" stroke="#111" stroke-width="1.1"/>
<circle cx="71.40" cy="462.19" r="1.6" fill="none" stroke="#111" stroke-width="1.1"/>
<circle cx="71.90" cy="468.28" r="1.6" fill="none" stroke="#111" stroke-width="1.1"/>
<circle cx="77.40" cy="467.52" r="1.6" fill="none" stroke="#111" stroke-width="1.1"/>
<circle cx="68.90" cy="466.95" r="1.6" fill="none" stroke="#111" stroke-width="1.1"/>
<circle cx="73.40" cy="471.93" r="1.6" fill="none" stroke="#111" stroke-width="1.1"/>
<circle cx="76.90" cy="471.70" r="1.6" fill="none" stroke="#111" stroke-width="1.1"/>
<circle cx="70.40" cy="471.24" r="1.6" fill="none" stroke="#111" stroke-width="1.1"/>
<circle cx="67.40" cy="470.62" r="1.6" fill="none" stroke="#111" stroke-width="1.1"/>
<circle cx="79.40" cy="469.86" r="1.6" fill="none" stroke="#111" stroke-width="1.1"/>
<circle cx="74.90" cy="469.47" r="1.6" fill="none" stroke="#111" stroke-width="1.1"/>
<line x1="65.90" y1="454.71" x2="80.90" y2="454.71" stroke="#111" stroke-width="1.2" />
<line x1="73.40" y1="452.49" x2="73.40" y2="456.93" stroke="#111" stroke-width="1.0" />
<line x1="69.90" y1="452.49" x2="76.90" y2="452.49" stroke="#111" stroke-width="1.0" />
<line x1="69.90" y1="456.93" x2="76.90" y2="456.93" stroke="#111" stroke-width="1.0" />
<circle cx="95.20" cy="440.89" r="1.6" fill="none" stroke="#e8383d" stroke-width="1.1"/>
<circle cx="95.20" cy="449.63" r="1.6" fill="none" stroke="#e8383d" stroke-width="1.1"/>
<circle cx="98.20" cy="449.02" r="1.6" fill="none" stroke="#e8383d" stroke-width="1.1"/>
<circle cx="92.20" cy="448.63" r="1.6" fill="none" stroke="#e8383d" stroke-width="1.1"/>
<circle cx="101.20" cy="448.23" r="1.6" fill="none" stroke="#e8383d" stroke-width="1.1"/>
<circle cx="89.20" cy="447.46" r="1.6" fill="none" stroke="#e8383d" stroke-width="1.1"/>
<circle cx="95.20" cy="454.37" r="1.6" fill="none" stroke="#e8383d" stroke-width="1.1"/>
<circle cx="98.20" cy="453.55" r="1.6" fill="none" stroke="#e8383d" stroke-width="1.1"/>
<circle cx="92.20" cy="453.17" r="1.6" fill="none" stroke="#e8383d" stroke-width="1.1"/>
<circle cx="93.70" cy="460.51" r="1.6" fill="none" stroke="#e8383d" stroke-width="1.1"/>
<circle cx="96.70" cy="459.43" r="1.6" fill="none" stroke="#e8383d" stroke-width="1.1"/>
<circle cx="95.20" cy="466.44" r="1.6" fill="none" stroke="#e8383d" stroke-width="1.1"/>
<circle cx="98.20" cy="465.62" r="1.6" fill="none" stroke="#e8383d" stroke-width="1.1"/>
<circle cx="92.20" cy="464.93" r="1.6" fill="none" stroke="#e8383d" stroke-width="1.1"/>
<circle cx="101.20" cy="464.33" r="1.6" fill="none" stroke="#e8383d" stroke-width="1.1"/>
<circle cx="95.20" cy="463.35" r="1.6" fill="none" stroke="#e8383d" stroke-width="1.1"/>
<circle cx="89.70" cy="463.14" r="1.6" fill="none" stroke="#e8383d" stroke-width="1.1"/>
<circle cx="98.20" cy="462.29" r="1.6" fill="none" stroke="#e8383d" stroke-width="1.1"/>
<circle cx="95.20" cy="489.63" r="1.6" fill="none" stroke="#e8383d" stroke-width="1.1"/>
<circle cx="98.70" cy="489.09" r="1.6" fill="none" stroke="#e8383d" stroke-width="1.1"/>
<circle cx="92.20" cy="488.47" r="1.6" fill="none" stroke="#e8383d" stroke-width="1.1"/>
<circle cx="89.20" cy="487.46" r="1.6" fill="none" stroke="#e8383d" stroke-width="1.1"/>
<circle cx="101.20" cy="487.09" r="1.6" fill="none" stroke="#e8383d" stroke-width="1.1"/>
<circle cx="95.20" cy="486.19" r="1.6" fill="none" stroke="#e8383d" stroke-width="1.1"/>
<circle cx="98.20" cy="485.84" r="1.6" fill="none" stroke="#e8383d" stroke-width="1.1"/>
<circle cx="92.20" cy="485.24" r="1.6" fill="none" stroke="#e8383d" stroke-width="1.1"/>
<circle cx="87.70" cy="484.69" r="1.6" fill="none" stroke="#e8383d" stroke-width="1.1"/>
<circle cx="102.20" cy="484.11" r="1.6" fill="none" stroke="#e8383d" stroke-width="1.1"/>
<circle cx="96.20" cy="483.52" r="1.6" fill="none" stroke="#e8383d" stroke-width="1.1"/>
<circle cx="99.20" cy="482.52" r="1.6" fill="none" stroke="#e8383d" stroke-width="1.1"/>
<circle cx="93.20" cy="481.83" r="1.6" fill="none" stroke="#e8383d" stroke-width="1.1"/>
<circle cx="90.20" cy="481.18" r="1.6" fill="none" stroke="#e8383d" stroke-width="1.1"/>
<circle cx="101.70" cy="480.67" r="1.6" fill="none" stroke="#e8383d" stroke-width="1.1"/>
<circle cx="95.70" cy="479.96" r="1.6" fill="none" stroke="#e8383d" stroke-width="1.1"/>
<circle cx="87.20" cy="479.48" r="1.6" fill="none" stroke="#e8383d" stroke-width="1.1"/>
<circle cx="98.70" cy="478.91" r="1.6" fill="none" stroke="#e8383d" stroke-width="1.1"/>
<circle cx="93.20" cy="478.05" r="1.6" fill="none" stroke="#e8383d" stroke-width="1.1"/>
<circle cx="89.70" cy="477.62" r="1.6" fill="none" stroke="#e8383d" stroke-width="1.1"/>
<circle cx="101.70" cy="477.19" r="1.6" fill="none" stroke="#e8383d" stroke-width="1.1"/>
<circle cx="96.20" cy="476.36" r="1.6" fill="none" stroke="#e8383d" stroke-width="1.1"/>
<circle cx="87.20" cy="475.59" r="1.6" fill="none" stroke="#e8383d" stroke-width="1.1"/>
<circle cx="92.70" cy="475.02" r="1.6" fill="none" stroke="#e8383d" stroke-width="1.1"/>
<circle cx="98.70" cy="474.51" r="1.6" fill="none" stroke="#e8383d" stroke-width="1.1"/>
<circle cx="89.70" cy="473.78" r="1.6" fill="none" stroke="#e8383d" stroke-width="1.1"/>
<circle cx="101.70" cy="473.38" r="1.6" fill="none" stroke="#e8383d" stroke-width="1.1"/>
<circle cx="95.20" cy="472.56" r="1.6" fill="none" stroke="#e8383d" stroke-width="1.1"/>
<circle cx="92.20" cy="471.97" r="1.6" fill="none" stroke="#e8383d" stroke-width="1.1"/>
<circle cx="87.20" cy="471.62" r="1.6" fill="none" stroke="#e8383d" stroke-width="1.1"/>
<line x1="87.70" y1="472.09" x2="102.70" y2="472.09" stroke="#111" stroke-width="1.2" />
<line x1="95.20" y1="470.15" x2="95.20" y2="474.03" stroke="#111" stroke-width="1.0" />
<line x1="91.70" y1="470.15" x2="98.70" y2="470.15" stroke="#111" stroke-width="1.0" />
<line x1="91.70" y1="474.03" x2="98.70" y2="474.03" stroke="#111" stroke-width="1.0" />
<circle cx="117.20" cy="414.66" r="1.6" fill="none" stroke="#111" stroke-width="1.1"/>
<circle cx="120.20" cy="413.51" r="1.6" fill="none" stroke="#111" stroke-width="1.1"/>
<circle cx="115.70" cy="411.90" r="1.6" fill="none" stroke="#111" stroke-width="1.1"/>
<circle cx="117.20" cy="424.83" r="1.6" fill="none" stroke="#111" stroke-width="1.1"/>
<circle cx="120.20" cy="424.14" r="1.6" fill="none" stroke="#111" stroke-width="1.1"/>
<circle cx="114.20" cy="423.68" r="1.6" fill="none" stroke="#111" stroke-width="1.1"/>
<circle cx="123.20" cy="422.68" r="1.6" fill="none" stroke="#111" stroke-width="1.1"/>
<circle cx="117.20" cy="428.77" r="1.6" fill="none" stroke="#111" stroke-width="1.1"/>
<circle cx="120.20" cy="427.41" r="1.6" fill="none" stroke="#111" stroke-width="1.1"/>
<circle cx="118.20" cy="434.96" r="1.6" fill="none" stroke="#111" stroke-width="1.1"/>
<circle cx="114.70" cy="434.54" r="1.6" fill="none" stroke="#111" stroke-width="1.1"/>
<circle cx="121.20" cy="433.44" r="1.6" fill="none" stroke="#111" stroke-width="1.1"/>
<circle cx="111.70" cy="432.90" r="1.6" fill="none" stroke="#111" stroke-width="1.1"/>
<circle cx="117.20" cy="440.70" r="1.6" fill="none" stroke="#111" stroke-width="1.1"/>
<circle cx="119.70" cy="438.81" r="1.6" fill="none" stroke="#111" stroke-width="1.1"/>
<circle cx="116.70" cy="437.67" r="1.6" fill="none" stroke="#111" stroke-width="1.1"/>
<circle cx="117.20" cy="448.21" r="1.6" fill="none" stroke="#111" stroke-width="1.1"/>
<circle cx="117.20" cy="455.07" r="1.6" fill="none" stroke="#111" stroke-width="1.1"/>
<circle cx="117.20" cy="462.85" r="1.6" fill="none" stroke="#111" stroke-width="1.1"/>
<circle cx="117.20" cy="467.19" r="1.6" fill="none" stroke="#111" stroke-width="1.1"/>
<circle cx="120.70" cy="466.92" r="1.6" fill="none" stroke="#111" stroke-width="1.1"/>
<circle cx="117.20" cy="470.70" r="1.6" fill="none" stroke="#111" stroke-width="1.1"/>
<circle cx="120.20" cy="469.94" r="1.6" fill="none" stroke="#111" stroke-width="1.1"/>
<circle cx="114.20" cy="469.36" r="1.6" fill="none" stroke="#111" stroke-width="1.1"/>
<circle cx="117.20" cy="476.27" r="1.6" fill="none" stroke="#111" stroke-width="1.1"/>
<circle cx="120.20" cy="475.08" r="1.6" fill="none" stroke="#111" stroke-width="1.1"/>
<line x1="109.70" y1="441.62" x2="124.70" y2="441.62" stroke="#111" stroke-width="1.2" />
<line x1="117.20" y1="437.51" x2="117.20" y2="445.74" stroke="#111" stroke-width="1.0" />
<line x1="113.70" y1="437.51" x2="120.70" y2="437.51" stroke="#111" stroke-width="1.0" />
<line x1="113.70" y1="445.74" x2="120.70" y2="445.74" stroke="#111" stroke-width="1.0" />
<circle cx="138.80" cy="431.18" r="1.6" fill="none" stroke="#e8383d" stroke-width="1.1"/>
<circle cx="141.80" cy="430.27" r="1.6" fill="none" stroke="#e8383d" stroke-width="1.1"/>
<circle cx="138.80" cy="439.71" r="1.6" fill="none" stroke="#e8383d" stroke-width="1.1"/>
<circle cx="141.80" cy="438.38" r="1.6" fill="none" stroke="#e8383d" stroke-width="1.1"/>
<circle cx="136.30" cy="437.81" r="1.6" fill="none" stroke="#e8383d" stroke-width="1.1"/>
<circle cx="133.30" cy="436.87" r="1.6" fill="none" stroke="#e8383d" stroke-width="1.1"/>
<circle cx="138.80" cy="444.09" r="1.6" fill="none" stroke="#e8383d" stroke-width="1.1"/>
<circle cx="137.80" cy="451.52" r="1.6" fill="none" stroke="#e8383d" stroke-width="1.1"/>
<circle cx="141.30" cy="451.15" r="1.6" fill="none" stroke="#e8383d" stroke-width="1.1"/>
<circle cx="134.80" cy="450.38" r="1.6" fill="none" stroke="#e8383d" stroke-width="1.1"/>
<circle cx="144.30" cy="450.06" r="1.6" fill="none" stroke="#e8383d" stroke-width="1.1"/>
<circle cx="131.80" cy="449.57" r="1.6" fill="none" stroke="#e8383d" stroke-width="1.1"/>
<circle cx="139.30" cy="449.20" r="1.6" fill="none" stroke="#e8383d" stroke-width="1.1"/>
<circle cx="146.80" cy="448.36" r="1.6" fill="none" stroke="#e8383d" stroke-width="1.1"/>
<circle cx="136.80" cy="455.36" r="1.6" fill="none" stroke="#e8383d" stroke-width="1.1"/>
<circle cx="133.80" cy="454.64" r="1.6" fill="none" stroke="#e8383d" stroke-width="1.1"/>
<circle cx="139.80" cy="453.92" r="1.6" fill="none" stroke="#e8383d" stroke-width="1.1"/>
<circle cx="138.80" cy="457.84" r="1.6" fill="none" stroke="#e8383d" stroke-width="1.1"/>
<circle cx="141.80" cy="456.57" r="1.6" fill="none" stroke="#e8383d" stroke-width="1.1"/>
<circle cx="138.80" cy="461.56" r="1.6" fill="none" stroke="#e8383d" stroke-width="1.1"/>
<circle cx="141.80" cy="460.67" r="1.6" fill="none" stroke="#e8383d" stroke-width="1.1"/>
<circle cx="141.30" cy="466.40" r="1.6" fill="none" stroke="#e8383d" stroke-width="1.1"/>
<circle cx="136.80" cy="465.82" r="1.6" fill="none" stroke="#e8383d" stroke-width="1.1"/>
<circle cx="133.80" cy="465.17" r="1.6" fill="none" stroke="#e8383d" stroke-width="1.1"/>
<circle cx="138.80" cy="468.34" r="1.6" fill="none" stroke="#e8383d" stroke-width="1.1"/>
<circle cx="138.80" cy="472.40" r="1.6" fill="none" stroke="#e8383d" stroke-width="1.1"/>
<circle cx="141.80" cy="471.82" r="1.6" fill="none" stroke="#e8383d" stroke-width="1.1"/>
<circle cx="138.80" cy="489.57" r="1.6" fill="none" stroke="#e8383d" stroke-width="1.1"/>
<circle cx="142.30" cy="489.17" r="1.6" fill="none" stroke="#e8383d" stroke-width="1.1"/>
<circle cx="135.80" cy="488.33" r="1.6" fill="none" stroke="#e8383d" stroke-width="1.1"/>
<circle cx="145.30" cy="488.11" r="1.6" fill="none" stroke="#e8383d" stroke-width="1.1"/>
<circle cx="132.80" cy="487.23" r="1.6" fill="none" stroke="#e8383d" stroke-width="1.1"/>
<circle cx="139.80" cy="486.61" r="1.6" fill="none" stroke="#e8383d" stroke-width="1.1"/>
<circle cx="142.80" cy="486.05" r="1.6" fill="none" stroke="#e8383d" stroke-width="1.1"/>
<circle cx="146.80" cy="485.71" r="1.6" fill="none" stroke="#e8383d" stroke-width="1.1"/>
<circle cx="136.80" cy="485.01" r="1.6" fill="none" stroke="#e8383d" stroke-width="1.1"/>
<circle cx="130.80" cy="484.74" r="1.6" fill="none" stroke="#e8383d" stroke-width="1.1"/>
<circle cx="133.80" cy="483.83" r="1.6" fill="none" stroke="#e8383d" stroke-width="1.1"/>
<circle cx="139.80" cy="483.27" r="1.6" fill="none" stroke="#e8383d" stroke-width="1.1"/>
<circle cx="143.30" cy="482.84" r="1.6" fill="none" stroke="#e8383d" stroke-width="1.1"/>
<circle cx="146.30" cy="482.17" r="1.6" fill="none" stroke="#e8383d" stroke-width="1.1"/>
<circle cx="136.80" cy="481.77" r="1.6" fill="none" stroke="#e8383d" stroke-width="1.1"/>
<circle cx="132.30" cy="481.07" r="1.6" fill="none" stroke="#e8383d" stroke-width="1.1"/>
<circle cx="141.30" cy="480.77" r="1.6" fill="none" stroke="#e8383d" stroke-width="1.1"/>
<circle cx="144.30" cy="480.35" r="1.6" fill="none" stroke="#e8383d" stroke-width="1.1"/>
<circle cx="134.80" cy="479.74" r="1.6" fill="none" stroke="#e8383d" stroke-width="1.1"/>
<circle cx="138.80" cy="478.90" r="1.6" fill="none" stroke="#e8383d" stroke-width="1.1"/>
<circle cx="146.80" cy="478.36" r="1.6" fill="none" stroke="#e8383d" stroke-width="1.1"/>
<circle cx="131.80" cy="478.01" r="1.6" fill="none" stroke="#e8383d" stroke-width="1.1"/>
<circle cx="141.80" cy="477.31" r="1.6" fill="none" stroke="#e8383d" stroke-width="1.1"/>
<circle cx="136.30" cy="476.67" r="1.6" fill="none" stroke="#e8383d" stroke-width="1.1"/>
<line x1="131.30" y1="467.70" x2="146.30" y2="467.70" stroke="#111" stroke-width="1.2" />
<line x1="138.80" y1="465.20" x2="138.80" y2="470.20" stroke="#111" stroke-width="1.0" />
<line x1="135.30" y1="465.20" x2="142.30" y2="465.20" stroke="#111" stroke-width="1.0" />
<line x1="135.30" y1="470.20" x2="142.30" y2="470.20" stroke="#111" stroke-width="1.0" />
<circle cx="161.80" cy="426.02" r="1.6" fill="none" stroke="#111" stroke-width="1.1"/>
<circle cx="165.30" cy="425.89" r="1.6" fill="none" stroke="#111" stroke-width="1.1"/>
<circle cx="158.80" cy="425.45" r="1.6" fill="none" stroke="#111" stroke-width="1.1"/>
<circle cx="168.30" cy="425.21" r="1.6" fill="none" stroke="#111" stroke-width="1.1"/>
<circle cx="155.80" cy="424.87" r="1.6" fill="none" stroke="#111" stroke-width="1.1"/>
<circle cx="163.30" cy="424.59" r="1.6" fill="none" stroke="#111" stroke-width="1.1"/>
<circle cx="161.80" cy="436.31" r="1.6" fill="none" stroke="#111" stroke-width="1.1"/>
<circle cx="161.80" cy="445.21" r="1.6" fill="none" stroke="#111" stroke-width="1.1"/>
<circle cx="164.80" cy="444.46" r="1.6" fill="none" stroke="#111" stroke-width="1.1"/>
<circle cx="158.80" cy="443.77" r="1.6" fill="none" stroke="#111" stroke-width="1.1"/>
<circle cx="167.80" cy="443.49" r="1.6" fill="none" stroke="#111" stroke-width="1.1"/>
<circle cx="155.80" cy="442.59" r="1.6" fill="none" stroke="#111" stroke-width="1.1"/>
<circle cx="161.80" cy="442.05" r="1.6" fill="none" stroke="#111" stroke-width="1.1"/>
<circle cx="161.80" cy="453.79" r="1.6" fill="none" stroke="#111" stroke-width="1.1"/>
<circle cx="164.80" cy="452.67" r="1.6" fill="none" stroke="#111" stroke-width="1.1"/>
<circle cx="159.30" cy="451.67" r="1.6" fill="none" stroke="#111" stroke-width="1.1"/>
<circle cx="162.30" cy="450.77" r="1.6" fill="none" stroke="#111" stroke-width="1.1"/>
<circle cx="166.30" cy="449.98" r="1.6" fill="none" stroke="#111" stroke-width="1.1"/>
<circle cx="161.80" cy="459.58" r="1.6" fill="none" stroke="#111" stroke-width="1.1"/>
<circle cx="164.80" cy="458.93" r="1.6" fill="none" stroke="#111" stroke-width="1.1"/>
<circle cx="158.80" cy="458.40" r="1.6" fill="none" stroke="#111" stroke-width="1.1"/>
<circle cx="167.80" cy="457.89" r="1.6" fill="none" stroke="#111" stroke-width="1.1"/>
<circle cx="161.80" cy="463.76" r="1.6" fill="none" stroke="#111" stroke-width="1.1"/>
<circle cx="161.80" cy="467.70" r="1.6" fill="none" stroke="#111" stroke-width="1.1"/>
<circle cx="161.80" cy="475.84" r="1.6" fill="none" stroke="#111" stroke-width="1.1"/>
<line x1="154.30" y1="447.11" x2="169.30" y2="447.11" stroke="#111" stroke-width="1.2" />
<line x1="161.80" y1="444.16" x2="161.80" y2="450.06" stroke="#111" stroke-width="1.0" />
<line x1="158.30" y1="444.16" x2="165.30" y2="444.16" stroke="#111" stroke-width="1.0" />
<line x1="158.30" y1="450.06" x2="165.30" y2="450.06" stroke="#111" stroke-width="1.0" />
<circle cx="183.00" cy="440.43" r="1.6" fill="none" stroke="#e8383d" stroke-width="1.1"/>
<circle cx="186.00" cy="439.76" r="1.6" fill="none" stroke="#e8383d" stroke-width="1.1"/>
<circle cx="180.00" cy="438.71" r="1.6" fill="none" stroke="#e8383d" stroke-width="1.1"/>
<circle cx="183.00" cy="444.78" r="1.6" fill="none" stroke="#e8383d" stroke-width="1.1"/>
<circle cx="186.00" cy="443.95" r="1.6" fill="none" stroke="#e8383d" stroke-width="1.1"/>
<circle cx="180.00" cy="443.42" r="1.6" fill="none" stroke="#e8383d" stroke-width="1.1"/>
<circle cx="183.00" cy="451.90" r="1.6" fill="none" stroke="#e8383d" stroke-width="1.1"/>
<circle cx="186.00" cy="450.82" r="1.6" fill="none" stroke="#e8383d" stroke-width="1.1"/>
<circle cx="180.00" cy="450.44" r="1.6" fill="none" stroke="#e8383d" stroke-width="1.1"/>
<circle cx="183.00" cy="460.90" r="1.6" fill="none" stroke="#e8383d" stroke-width="1.1"/>
<circle cx="186.00" cy="460.28" r="1.6" fill="none" stroke="#e8383d" stroke-width="1.1"/>
<circle cx="180.00" cy="459.68" r="1.6" fill="none" stroke="#e8383d" stroke-width="1.1"/>
<circle cx="189.00" cy="458.74" r="1.6" fill="none" stroke="#e8383d" stroke-width="1.1"/>
<circle cx="183.00" cy="457.74" r="1.6" fill="none" stroke="#e8383d" stroke-width="1.1"/>
<circle cx="178.00" cy="457.29" r="1.6" fill="none" stroke="#e8383d" stroke-width="1.1"/>
<circle cx="186.00" cy="456.37" r="1.6" fill="none" stroke="#e8383d" stroke-width="1.1"/>
<circle cx="181.00" cy="455.35" r="1.6" fill="none" stroke="#e8383d" stroke-width="1.1"/>
<circle cx="183.00" cy="465.33" r="1.6" fill="none" stroke="#e8383d" stroke-width="1.1"/>
<circle cx="186.00" cy="463.95" r="1.6" fill="none" stroke="#e8383d" stroke-width="1.1"/>
<circle cx="180.50" cy="463.25" r="1.6" fill="none" stroke="#e8383d" stroke-width="1.1"/>
<circle cx="183.00" cy="470.86" r="1.6" fill="none" stroke="#e8383d" stroke-width="1.1"/>
<circle cx="186.50" cy="470.67" r="1.6" fill="none" stroke="#e8383d" stroke-width="1.1"/>
<circle cx="180.00" cy="470.30" r="1.6" fill="none" stroke="#e8383d" stroke-width="1.1"/>
<circle cx="189.50" cy="469.77" r="1.6" fill="none" stroke="#e8383d" stroke-width="1.1"/>
<circle cx="177.00" cy="469.53" r="1.6" fill="none" stroke="#e8383d" stroke-width="1.1"/>
<circle cx="183.00" cy="488.05" r="1.6" fill="none" stroke="#e8383d" stroke-width="1.1"/>
<circle cx="186.00" cy="486.99" r="1.6" fill="none" stroke="#e8383d" stroke-width="1.1"/>
<circle cx="180.00" cy="486.38" r="1.6" fill="none" stroke="#e8383d" stroke-width="1.1"/>
<circle cx="189.00" cy="485.66" r="1.6" fill="none" stroke="#e8383d" stroke-width="1.1"/>
<circle cx="177.00" cy="485.07" r="1.6" fill="none" stroke="#e8383d" stroke-width="1.1"/>
<circle cx="183.00" cy="484.24" r="1.6" fill="none" stroke="#e8383d" stroke-width="1.1"/>
<circle cx="186.00" cy="483.35" r="1.6" fill="none" stroke="#e8383d" stroke-width="1.1"/>
<circle cx="180.50" cy="482.07" r="1.6" fill="none" stroke="#e8383d" stroke-width="1.1"/>
<circle cx="188.50" cy="481.39" r="1.6" fill="none" stroke="#e8383d" stroke-width="1.1"/>
<circle cx="183.50" cy="480.96" r="1.6" fill="none" stroke="#e8383d" stroke-width="1.1"/>
<circle cx="178.00" cy="480.22" r="1.6" fill="none" stroke="#e8383d" stroke-width="1.1"/>
<circle cx="181.00" cy="478.81" r="1.6" fill="none" stroke="#e8383d" stroke-width="1.1"/>
<circle cx="184.50" cy="478.00" r="1.6" fill="none" stroke="#e8383d" stroke-width="1.1"/>
<circle cx="188.00" cy="477.47" r="1.6" fill="none" stroke="#e8383d" stroke-width="1.1"/>
<circle cx="178.50" cy="476.82" r="1.6" fill="none" stroke="#e8383d" stroke-width="1.1"/>
<circle cx="182.00" cy="475.84" r="1.6" fill="none" stroke="#e8383d" stroke-width="1.1"/>
<circle cx="185.00" cy="474.79" r="1.6" fill="none" stroke="#e8383d" stroke-width="1.1"/>
<circle cx="188.50" cy="474.40" r="1.6" fill="none" stroke="#e8383d" stroke-width="1.1"/>
<line x1="175.50" y1="469.25" x2="190.50" y2="469.25" stroke="#111" stroke-width="1.2" />
<line x1="183.00" y1="466.96" x2="183.00" y2="471.55" stroke="#111" stroke-width="1.0" />
<line x1="179.50" y1="466.96" x2="186.50" y2="466.96" stroke="#111" stroke-width="1.0" />
<line x1="179.50" y1="471.55" x2="186.50" y2="471.55" stroke="#111" stroke-width="1.0" />
<circle cx="205.20" cy="427.90" r="1.6" fill="none" stroke="#111" stroke-width="1.1"/>
<circle cx="205.20" cy="432.20" r="1.6" fill="none" stroke="#111" stroke-width="1.1"/>
<circle cx="205.20" cy="441.60" r="1.6" fill="none" stroke="#111" stroke-width="1.1"/>
<circle cx="208.20" cy="440.86" r="1.6" fill="none" stroke="#111" stroke-width="1.1"/>
<circle cx="202.20" cy="439.93" r="1.6" fill="none" stroke="#111" stroke-width="1.1"/>
<circle cx="211.20" cy="439.18" r="1.6" fill="none" stroke="#111" stroke-width="1.1"/>
<circle cx="205.20" cy="444.98" r="1.6" fill="none" stroke="#111" stroke-width="1.1"/>
<circle cx="208.70" cy="444.54" r="1.6" fill="none" stroke="#111" stroke-width="1.1"/>
<circle cx="202.20" cy="444.10" r="1.6" fill="none" stroke="#111" stroke-width="1.1"/>
<circle cx="199.20" cy="443.33" r="1.6" fill="none" stroke="#111" stroke-width="1.1"/>
<circle cx="211.70" cy="442.83" r="1.6" fill="none" stroke="#111" stroke-width="1.1"/>
<circle cx="206.70" cy="452.22" r="1.6" fill="none" stroke="#111" stroke-width="1.1"/>
<circle cx="203.70" cy="451.54" r="1.6" fill="none" stroke="#111" stroke-width="1.1"/>
<circle cx="209.70" cy="450.72" r="1.6" fill="none" stroke="#111" stroke-width="1.1"/>
<circle cx="200.70" cy="450.28" r="1.6" fill="none" stroke="#111" stroke-width="1.1"/>
<circle cx="205.70" cy="449.38" r="1.6" fill="none" stroke="#111" stroke-width="1.1"/>
<circle cx="205.20" cy="455.07" r="1.6" fill="none" stroke="#111" stroke-width="1.1"/>
<circle cx="208.70" cy="455.07" r="1.6" fill="none" stroke="#111" stroke-width="1.1"/>
<circle cx="205.20" cy="460.19" r="1.6" fill="none" stroke="#111" stroke-width="1.1"/>
<circle cx="208.70" cy="459.72" r="1.6" fill="none" stroke="#111" stroke-width="1.1"/>
<circle cx="202.20" cy="459.55" r="1.6" fill="none" stroke="#111" stroke-width="1.1"/>
<circle cx="205.20" cy="465.91" r="1.6" fill="none" stroke="#111" stroke-width="1.1"/>
<circle cx="208.20" cy="464.96" r="1.6" fill="none" stroke="#111" stroke-width="1.1"/>
<circle cx="202.20" cy="464.21" r="1.6" fill="none" stroke="#111" stroke-width="1.1"/>
<circle cx="211.20" cy="463.77" r="1.6" fill="none" stroke="#111" stroke-width="1.1"/>
<circle cx="199.20" cy="463.02" r="1.6" fill="none" stroke="#111" stroke-width="1.1"/>
<line x1="197.70" y1="450.59" x2="212.70" y2="450.59" stroke="#111" stroke-width="1.2" />
<line x1="205.20" y1="448.53" x2="205.20" y2="452.65" stroke="#111" stroke-width="1.0" />
<line x1="201.70" y1="448.53" x2="208.70" y2="448.53" stroke="#111" stroke-width="1.0" />
<line x1="201.70" y1="452.65" x2="208.70" y2="452.65" stroke="#111" stroke-width="1.0" />
<circle cx="227.50" cy="442.08" r="1.6" fill="none" stroke="#e8383d" stroke-width="1.1"/>
<circle cx="227.50" cy="447.19" r="1.6" fill="none" stroke="#e8383d" stroke-width="1.1"/>
<circle cx="231.00" cy="446.66" r="1.6" fill="none" stroke="#e8383d" stroke-width="1.1"/>
<circle cx="224.50" cy="446.26" r="1.6" fill="none" stroke="#e8383d" stroke-width="1.1"/>
<circle cx="234.00" cy="445.76" r="1.6" fill="none" stroke="#e8383d" stroke-width="1.1"/>
<circle cx="227.50" cy="450.31" r="1.6" fill="none" stroke="#e8383d" stroke-width="1.1"/>
<circle cx="231.00" cy="450.31" r="1.6" fill="none" stroke="#e8383d" stroke-width="1.1"/>
<circle cx="227.50" cy="455.07" r="1.6" fill="none" stroke="#e8383d" stroke-width="1.1"/>
<circle cx="227.50" cy="461.09" r="1.6" fill="none" stroke="#e8383d" stroke-width="1.1"/>
<circle cx="231.00" cy="460.72" r="1.6" fill="none" stroke="#e8383d" stroke-width="1.1"/>
<circle cx="224.50" cy="460.53" r="1.6" fill="none" stroke="#e8383d" stroke-width="1.1"/>
<circle cx="234.00" cy="460.13" r="1.6" fill="none" stroke="#e8383d" stroke-width="1.1"/>
<circle cx="221.50" cy="459.56" r="1.6" fill="none" stroke="#e8383d" stroke-width="1.1"/>
<circle cx="229.00" cy="459.04" r="1.6" fill="none" stroke="#e8383d" stroke-width="1.1"/>
<circle cx="226.50" cy="458.79" r="1.6" fill="none" stroke="#e8383d" stroke-width="1.1"/>
<circle cx="232.00" cy="458.29" r="1.6" fill="none" stroke="#e8383d" stroke-width="1.1"/>
<circle cx="235.50" cy="457.86" r="1.6" fill="none" stroke="#e8383d" stroke-width="1.1"/>
<circle cx="223.50" cy="457.40" r="1.6" fill="none" stroke="#e8383d" stroke-width="1.1"/>
<circle cx="227.50" cy="467.40" r="1.6" fill="none" stroke="#e8383d" stroke-width="1.1"/>
<circle cx="224.00" cy="467.01" r="1.6" fill="none" stroke="#e8383d" stroke-width="1.1"/>
<circle cx="230.50" cy="466.37" r="1.6" fill="none" stroke="#e8383d" stroke-width="1.1"/>
<circle cx="234.00" cy="465.94" r="1.6" fill="none" stroke="#e8383d" stroke-width="1.1"/>
<circle cx="221.00" cy="465.50" r="1.6" fill="none" stroke="#e8383d" stroke-width="1.1"/>
<circle cx="226.00" cy="464.86" r="1.6" fill="none" stroke="#e8383d" stroke-width="1.1"/>
<circle cx="228.50" cy="464.53" r="1.6" fill="none" stroke="#e8383d" stroke-width="1.1"/>
<circle cx="232.00" cy="463.95" r="1.6" fill="none" stroke="#e8383d" stroke-width="1.1"/>
<circle cx="227.50" cy="473.53" r="1.6" fill="none" stroke="#e8383d" stroke-width="1.1"/>
<circle cx="230.50" cy="472.87" r="1.6" fill="none" stroke="#e8383d" stroke-width="1.1"/>
<circle cx="224.50" cy="472.63" r="1.6" fill="none" stroke="#e8383d" stroke-width="1.1"/>
<circle cx="233.50" cy="471.73" r="1.6" fill="none" stroke="#e8383d" stroke-width="1.1"/>
<circle cx="221.50" cy="471.10" r="1.6" fill="none" stroke="#e8383d" stroke-width="1.1"/>
<circle cx="228.50" cy="470.91" r="1.6" fill="none" stroke="#e8383d" stroke-width="1.1"/>
<circle cx="226.00" cy="470.26" r="1.6" fill="none" stroke="#e8383d" stroke-width="1.1"/>
<circle cx="231.50" cy="469.53" r="1.6" fill="none" stroke="#e8383d" stroke-width="1.1"/>
<circle cx="227.50" cy="488.00" r="1.6" fill="none" stroke="#e8383d" stroke-width="1.1"/>
<circle cx="230.50" cy="486.53" r="1.6" fill="none" stroke="#e8383d" stroke-width="1.1"/>
<circle cx="225.00" cy="486.17" r="1.6" fill="none" stroke="#e8383d" stroke-width="1.1"/>
<circle cx="222.00" cy="485.15" r="1.6" fill="none" stroke="#e8383d" stroke-width="1.1"/>
<circle cx="227.50" cy="483.36" r="1.6" fill="none" stroke="#e8383d" stroke-width="1.1"/>
<circle cx="230.50" cy="482.43" r="1.6" fill="none" stroke="#e8383d" stroke-width="1.1"/>
<circle cx="225.00" cy="481.55" r="1.6" fill="none" stroke="#e8383d" stroke-width="1.1"/>
<circle cx="233.00" cy="480.64" r="1.6" fill="none" stroke="#e8383d" stroke-width="1.1"/>
<circle cx="227.50" cy="479.37" r="1.6" fill="none" stroke="#e8383d" stroke-width="1.1"/>
<circle cx="230.50" cy="477.99" r="1.6" fill="none" stroke="#e8383d" stroke-width="1.1"/>
<circle cx="225.50" cy="477.06" r="1.6" fill="none" stroke="#e8383d" stroke-width="1.1"/>
<circle cx="222.50" cy="476.21" r="1.6" fill="none" stroke="#e8383d" stroke-width="1.1"/>
<line x1="220.00" y1="468.43" x2="235.00" y2="468.43" stroke="#111" stroke-width="1.2" />
<line x1="227.50" y1="466.61" x2="227.50" y2="470.25" stroke="#111" stroke-width="1.0" />
<line x1="224.00" y1="466.61" x2="231.00" y2="466.61" stroke="#111" stroke-width="1.0" />
<line x1="224.00" y1="470.25" x2="231.00" y2="470.25" stroke="#111" stroke-width="1.0" />
<circle cx="249.20" cy="453.43" r="1.6" fill="none" stroke="#111" stroke-width="1.1"/>
<circle cx="249.20" cy="459.99" r="1.6" fill="none" stroke="#111" stroke-width="1.1"/>
<circle cx="252.20" cy="459.13" r="1.6" fill="none" stroke="#111" stroke-width="1.1"/>
<circle cx="246.20" cy="458.66" r="1.6" fill="none" stroke="#111" stroke-width="1.1"/>
<circle cx="255.20" cy="457.93" r="1.6" fill="none" stroke="#111" stroke-width="1.1"/>
<circle cx="249.20" cy="463.25" r="1.6" fill="none" stroke="#111" stroke-width="1.1"/>
<circle cx="252.70" cy="462.92" r="1.6" fill="none" stroke="#111" stroke-width="1.1"/>
<circle cx="246.20" cy="462.47" r="1.6" fill="none" stroke="#111" stroke-width="1.1"/>
<circle cx="255.70" cy="462.15" r="1.6" fill="none" stroke="#111" stroke-width="1.1"/>
<circle cx="243.20" cy="461.47" r="1.6" fill="none" stroke="#111" stroke-width="1.1"/>
<circle cx="249.70" cy="467.13" r="1.6" fill="none" stroke="#111" stroke-width="1.1"/>
<circle cx="246.20" cy="466.75" r="1.6" fill="none" stroke="#111" stroke-width="1.1"/>
<circle cx="252.70" cy="466.27" r="1.6" fill="none" stroke="#111" stroke-width="1.1"/>
<circle cx="243.20" cy="465.94" r="1.6" fill="none" stroke="#111" stroke-width="1.1"/>
<circle cx="249.20" cy="470.17" r="1.6" fill="none" stroke="#111" stroke-width="1.1"/>
<circle cx="249.20" cy="477.53" r="1.6" fill="none" stroke="#111" stroke-width="1.1"/>
<circle cx="252.20" cy="476.70" r="1.6" fill="none" stroke="#111" stroke-width="1.1"/>
<circle cx="246.20" cy="476.30" r="1.6" fill="none" stroke="#111" stroke-width="1.1"/>
<circle cx="255.20" cy="475.60" r="1.6" fill="none" stroke="#111" stroke-width="1.1"/>
<circle cx="249.20" cy="483.42" r="1.6" fill="none" stroke="#111" stroke-width="1.1"/>
<circle cx="252.70" cy="483.01" r="1.6" fill="none" stroke="#111" stroke-width="1.1"/>
<circle cx="246.20" cy="482.29" r="1.6" fill="none" stroke="#111" stroke-width="1.1"/>
<circle cx="255.70" cy="481.77" r="1.6" fill="none" stroke="#111" stroke-width="1.1"/>
<circle cx="243.20" cy="481.29" r="1.6" fill="none" stroke="#111" stroke-width="1.1"/>
<line x1="241.70" y1="469.25" x2="256.70" y2="469.25" stroke="#111" stroke-width="1.2" />
<line x1="249.20" y1="467.34" x2="249.20" y2="471.17" stroke="#111" stroke-width="1.0" />
<line x1="245.70" y1="467.34" x2="252.70" y2="467.34" stroke="#111" stroke-width="1.0" />
<line x1="245.70" y1="471.17" x2="252.70" y2="471.17" stroke="#111" stroke-width="1.0" />
<circle cx="271.70" cy="467.15" r="1.6" fill="none" stroke="#e8383d" stroke-width="1.1"/>
<circle cx="271.20" cy="471.28" r="1.6" fill="none" stroke="#e8383d" stroke-width="1.1"/>
<circle cx="267.70" cy="470.88" r="1.6" fill="none" stroke="#e8383d" stroke-width="1.1"/>
<circle cx="277.20" cy="470.45" r="1.6" fill="none" stroke="#e8383d" stroke-width="1.1"/>
<circle cx="264.70" cy="470.10" r="1.6" fill="none" stroke="#e8383d" stroke-width="1.1"/>
<circle cx="274.20" cy="469.89" r="1.6" fill="none" stroke="#e8383d" stroke-width="1.1"/>
<circle cx="269.70" cy="469.54" r="1.6" fill="none" stroke="#e8383d" stroke-width="1.1"/>
<circle cx="271.20" cy="486.92" r="1.6" fill="none" stroke="#e8383d" stroke-width="1.1"/>
<circle cx="274.70" cy="486.43" r="1.6" fill="none" stroke="#e8383d" stroke-width="1.1"/>
<circle cx="268.20" cy="485.95" r="1.6" fill="none" stroke="#e8383d" stroke-width="1.1"/>
<circle cx="265.20" cy="485.29" r="1.6" fill="none" stroke="#e8383d" stroke-width="1.1"/>
<circle cx="277.70" cy="484.95" r="1.6" fill="none" stroke="#e8383d" stroke-width="1.1"/>
<circle cx="272.70" cy="484.54" r="1.6" fill="none" stroke="#e8383d" stroke-width="1.1"/>
<circle cx="270.20" cy="484.02" r="1.6" fill="none" stroke="#e8383d" stroke-width="1.1"/>
<circle cx="275.20" cy="483.62" r="1.6" fill="none" stroke="#e8383d" stroke-width="1.1"/>
<circle cx="267.20" cy="482.79" r="1.6" fill="none" stroke="#e8383d" stroke-width="1.1"/>
<circle cx="264.20" cy="482.44" r="1.6" fill="none" stroke="#e8383d" stroke-width="1.1"/>
<circle cx="278.20" cy="481.89" r="1.6" fill="none" stroke="#e8383d" stroke-width="1.1"/>
<circle cx="272.20" cy="481.53" r="1.6" fill="none" stroke="#e8383d" stroke-width="1.1"/>
<circle cx="275.20" cy="480.69" r="1.6" fill="none" stroke="#e8383d" stroke-width="1.1"/>
<circle cx="269.20" cy="480.39" r="1.6" fill="none" stroke="#e8383d" stroke-width="1.1"/>
<circle cx="266.20" cy="480.02" r="1.6" fill="none" stroke="#e8383d" stroke-width="1.1"/>
<circle cx="277.70" cy="479.23" r="1.6" fill="none" stroke="#e8383d" stroke-width="1.1"/>
<circle cx="271.70" cy="478.71" r="1.6" fill="none" stroke="#e8383d" stroke-width="1.1"/>
<circle cx="264.20" cy="478.47" r="1.6" fill="none" stroke="#e8383d" stroke-width="1.1"/>
<circle cx="274.70" cy="477.72" r="1.6" fill="none" stroke="#e8383d" stroke-width="1.1"/>
<circle cx="268.20" cy="477.41" r="1.6" fill="none" stroke="#e8383d" stroke-width="1.1"/>
<circle cx="277.20" cy="476.88" r="1.6" fill="none" stroke="#e8383d" stroke-width="1.1"/>
<circle cx="265.70" cy="476.08" r="1.6" fill="none" stroke="#e8383d" stroke-width="1.1"/>
<circle cx="271.20" cy="475.56" r="1.6" fill="none" stroke="#e8383d" stroke-width="1.1"/>
<circle cx="273.70" cy="475.40" r="1.6" fill="none" stroke="#e8383d" stroke-width="1.1"/>
<circle cx="268.70" cy="474.88" r="1.6" fill="none" stroke="#e8383d" stroke-width="1.1"/>
<circle cx="278.20" cy="474.24" r="1.6" fill="none" stroke="#e8383d" stroke-width="1.1"/>
<circle cx="264.20" cy="473.82" r="1.6" fill="none" stroke="#e8383d" stroke-width="1.1"/>
<circle cx="275.20" cy="473.07" r="1.6" fill="none" stroke="#e8383d" stroke-width="1.1"/>
<line x1="263.70" y1="477.03" x2="278.70" y2="477.03" stroke="#111" stroke-width="1.2" />
<line x1="271.20" y1="476.07" x2="271.20" y2="478.00" stroke="#111" stroke-width="1.0" />
<line x1="267.70" y1="476.07" x2="274.70" y2="476.07" stroke="#111" stroke-width="1.0" />
<line x1="267.70" y1="478.00" x2="274.70" y2="478.00" stroke="#111" stroke-width="1.0" />
<line x1="67.80" y1="398.50" x2="101.00" y2="398.50" stroke="#333" stroke-width="1.3" />
<text x="84.40" y="397.80" font-size="8" font-weight="bold" text-anchor="middle" fill="#222" stroke="#222" stroke-width="0.3" letter-spacing="0.25">****</text>
<line x1="111.60" y1="398.50" x2="144.60" y2="398.50" stroke="#333" stroke-width="1.3" />
<text x="128.10" y="397.80" font-size="8" font-weight="bold" text-anchor="middle" fill="#222" stroke="#222" stroke-width="0.3" letter-spacing="0.25">****</text>
<line x1="156.20" y1="398.50" x2="188.80" y2="398.50" stroke="#333" stroke-width="1.3" />
<text x="172.50" y="397.80" font-size="8" font-weight="bold" text-anchor="middle" fill="#222" stroke="#222" stroke-width="0.3" letter-spacing="0.25">****</text>
<line x1="199.60" y1="398.50" x2="233.30" y2="398.50" stroke="#333" stroke-width="1.3" />
<text x="216.45" y="397.80" font-size="8" font-weight="bold" text-anchor="middle" fill="#222" stroke="#222" stroke-width="0.3" letter-spacing="0.25">****</text>
<line x1="243.60" y1="398.50" x2="277.00" y2="398.50" stroke="#333" stroke-width="1.3" />
<text x="260.30" y="397.80" font-size="8" font-weight="bold" text-anchor="middle" fill="#222" stroke="#222" stroke-width="0.3" letter-spacing="0.25">****</text>
<text x="73.40" y="500.40" font-size="7.2" font-weight="bold" text-anchor="middle" fill="#111" >HC</text>
<text x="95.20" y="500.40" font-size="7.2" font-weight="bold" text-anchor="middle" fill="#111" >SLE</text>
<line x1="67.80" y1="505.40" x2="101.40" y2="505.40" stroke="#333" stroke-width="1.4" />
<text x="84.30" y="515.00" font-size="7.8" font-weight="bold" text-anchor="middle" fill="#111" >CD19<tspan dx="0.8" baseline-shift="55%" font-size="70%">+</tspan></text>
<text x="117.20" y="500.40" font-size="7.2" font-weight="bold" text-anchor="middle" fill="#111" >HC</text>
<text x="138.80" y="500.40" font-size="7.2" font-weight="bold" text-anchor="middle" fill="#111" >SLE</text>
<line x1="111.60" y1="505.40" x2="145.00" y2="505.40" stroke="#333" stroke-width="1.4" />
<text x="128.00" y="515.00" font-size="7.8" font-weight="bold" text-anchor="middle" fill="#111" >Na&#239;ve B</text>
<text x="161.80" y="500.40" font-size="7.2" font-weight="bold" text-anchor="middle" fill="#111" >HC</text>
<text x="183.00" y="500.40" font-size="7.2" font-weight="bold" text-anchor="middle" fill="#111" >SLE</text>
<line x1="156.20" y1="505.40" x2="189.20" y2="505.40" stroke="#333" stroke-width="1.4" />
<text x="172.40" y="515.00" font-size="7.8" font-weight="bold" text-anchor="middle" fill="#111" >Tra-B</text>
<text x="205.20" y="500.40" font-size="7.2" font-weight="bold" text-anchor="middle" fill="#111" >HC</text>
<text x="227.50" y="500.40" font-size="7.2" font-weight="bold" text-anchor="middle" fill="#111" >SLE</text>
<line x1="199.60" y1="505.40" x2="233.70" y2="505.40" stroke="#333" stroke-width="1.4" />
<text x="216.35" y="515.00" font-size="7.8" font-weight="bold" text-anchor="middle" fill="#111" >Memory B</text>
<text x="249.20" y="500.40" font-size="7.2" font-weight="bold" text-anchor="middle" fill="#111" >HC</text>
<text x="271.20" y="500.40" font-size="7.2" font-weight="bold" text-anchor="middle" fill="#111" >SLE</text>
<line x1="243.60" y1="505.40" x2="277.40" y2="505.40" stroke="#333" stroke-width="1.4" />
<text x="260.20" y="515.00" font-size="7.8" font-weight="bold" text-anchor="middle" fill="#111" >PC</text>
<text transform="translate(39.20,446.20) rotate(-90)" font-size="7.8" font-weight="bold" text-anchor="middle" fill="#222" >CD44<tspan baseline-shift="38%" font-size="70%">+</tspan>CD62L<tspan baseline-shift="38%" font-size="70%">+</tspan> %</text>
<line x1="58.40" y1="649.30" x2="58.40" y2="557.30" stroke="#222" stroke-width="1.1" />
<line x1="58.40" y1="649.30" x2="288.70" y2="649.30" stroke="#222" stroke-width="1.1" />
<line x1="56.20" y1="649.30" x2="58.40" y2="649.30" stroke="#222" stroke-width="1.0" />
<text x="54.80" y="651.90" font-size="7.0" font-weight="bold" text-anchor="end" fill="#111" >0</text>
<line x1="56.20" y1="630.90" x2="58.40" y2="630.90" stroke="#222" stroke-width="1.0" />
<text x="54.80" y="633.50" font-size="7.0" font-weight="bold" text-anchor="end" fill="#111" >20</text>
<line x1="56.20" y1="612.50" x2="58.40" y2="612.50" stroke="#222" stroke-width="1.0" />
<text x="54.80" y="615.10" font-size="7.0" font-weight="bold" text-anchor="end" fill="#111" >40</text>
<line x1="56.20" y1="594.10" x2="58.40" y2="594.10" stroke="#222" stroke-width="1.0" />
<text x="54.80" y="596.70" font-size="7.0" font-weight="bold" text-anchor="end" fill="#111" >60</text>
<line x1="56.20" y1="575.70" x2="58.40" y2="575.70" stroke="#222" stroke-width="1.0" />
<text x="54.80" y="578.30" font-size="7.0" font-weight="bold" text-anchor="end" fill="#111" >80</text>
<line x1="56.20" y1="557.30" x2="58.40" y2="557.30" stroke="#222" stroke-width="1.0" />
<text x="54.80" y="559.90" font-size="7.0" font-weight="bold" text-anchor="end" fill="#111" >100</text>
<line x1="73.40" y1="649.30" x2="73.40" y2="651.30" stroke="#222" stroke-width="1.0" />
<line x1="117.20" y1="649.30" x2="117.20" y2="651.30" stroke="#222" stroke-width="1.0" />
<line x1="161.80" y1="649.30" x2="161.80" y2="651.30" stroke="#222" stroke-width="1.0" />
<line x1="205.20" y1="649.30" x2="205.20" y2="651.30" stroke="#222" stroke-width="1.0" />
<line x1="249.20" y1="649.30" x2="249.20" y2="651.30" stroke="#222" stroke-width="1.0" />
<line x1="95.20" y1="649.30" x2="95.20" y2="651.30" stroke="#222" stroke-width="1.0" />
<line x1="138.80" y1="649.30" x2="138.80" y2="651.30" stroke="#222" stroke-width="1.0" />
<line x1="183.00" y1="649.30" x2="183.00" y2="651.30" stroke="#222" stroke-width="1.0" />
<line x1="227.50" y1="649.30" x2="227.50" y2="651.30" stroke="#222" stroke-width="1.0" />
<line x1="271.20" y1="649.30" x2="271.20" y2="651.30" stroke="#222" stroke-width="1.0" />
<circle cx="73.40" cy="600.54" r="1.6" fill="none" stroke="#111" stroke-width="1.1"/>
<circle cx="73.40" cy="605.69" r="1.6" fill="none" stroke="#111" stroke-width="1.1"/>
<circle cx="73.40" cy="617.76" r="1.6" fill="none" stroke="#111" stroke-width="1.1"/>
<circle cx="76.90" cy="617.60" r="1.6" fill="none" stroke="#111" stroke-width="1.1"/>
<circle cx="69.90" cy="617.27" r="1.6" fill="none" stroke="#111" stroke-width="1.1"/>
<circle cx="79.90" cy="616.83" r="1.6" fill="none" stroke="#111" stroke-width="1.1"/>
<circle cx="66.90" cy="616.53" r="1.6" fill="none" stroke="#111" stroke-width="1.1"/>
<circle cx="74.90" cy="616.36" r="1.6" fill="none" stroke="#111" stroke-width="1.1"/>
<circle cx="72.40" cy="625.20" r="1.6" fill="none" stroke="#111" stroke-width="1.1"/>
<circle cx="76.40" cy="624.66" r="1.6" fill="none" stroke="#111" stroke-width="1.1"/>
<circle cx="69.40" cy="624.33" r="1.6" fill="none" stroke="#111" stroke-width="1.1"/>
<circle cx="79.40" cy="623.98" r="1.6" fill="none" stroke="#111" stroke-width="1.1"/>
<circle cx="66.40" cy="623.76" r="1.6" fill="none" stroke="#111" stroke-width="1.1"/>
<circle cx="73.90" cy="623.13" r="1.6" fill="none" stroke="#111" stroke-width="1.1"/>
<circle cx="71.40" cy="622.78" r="1.6" fill="none" stroke="#111" stroke-width="1.1"/>
<circle cx="73.40" cy="629.81" r="1.6" fill="none" stroke="#111" stroke-width="1.1"/>
<circle cx="76.90" cy="629.41" r="1.6" fill="none" stroke="#111" stroke-width="1.1"/>
<circle cx="70.40" cy="629.01" r="1.6" fill="none" stroke="#111" stroke-width="1.1"/>
<circle cx="79.90" cy="628.49" r="1.6" fill="none" stroke="#111" stroke-width="1.1"/>
<circle cx="67.40" cy="628.04" r="1.6" fill="none" stroke="#111" stroke-width="1.1"/>
<circle cx="74.90" cy="627.49" r="1.6" fill="none" stroke="#111" stroke-width="1.1"/>
<circle cx="73.40" cy="634.20" r="1.6" fill="none" stroke="#111" stroke-width="1.1"/>
<circle cx="76.40" cy="633.56" r="1.6" fill="none" stroke="#111" stroke-width="1.1"/>
<circle cx="70.40" cy="633.30" r="1.6" fill="none" stroke="#111" stroke-width="1.1"/>
<circle cx="74.90" cy="638.74" r="1.6" fill="none" stroke="#111" stroke-width="1.1"/>
<circle cx="71.40" cy="638.43" r="1.6" fill="none" stroke="#111" stroke-width="1.1"/>
<circle cx="77.90" cy="637.80" r="1.6" fill="none" stroke="#111" stroke-width="1.1"/>
<circle cx="73.40" cy="641.57" r="1.6" fill="none" stroke="#111" stroke-width="1.1"/>
<circle cx="73.40" cy="645.96" r="1.6" fill="none" stroke="#111" stroke-width="1.1"/>
<circle cx="76.90" cy="645.68" r="1.6" fill="none" stroke="#111" stroke-width="1.1"/>
<circle cx="69.90" cy="645.55" r="1.6" fill="none" stroke="#111" stroke-width="1.1"/>
<circle cx="80.40" cy="645.26" r="1.6" fill="none" stroke="#111" stroke-width="1.1"/>
<line x1="65.90" y1="627.50" x2="80.90" y2="627.50" stroke="#111" stroke-width="1.2" />
<line x1="73.40" y1="625.50" x2="73.40" y2="629.49" stroke="#111" stroke-width="1.0" />
<line x1="69.90" y1="625.50" x2="76.90" y2="625.50" stroke="#111" stroke-width="1.0" />
<line x1="69.90" y1="629.49" x2="76.90" y2="629.49" stroke="#111" stroke-width="1.0" />
<circle cx="95.20" cy="567.42" r="1.6" fill="none" stroke="#e8383d" stroke-width="1.1"/>
<circle cx="95.20" cy="572.02" r="1.6" fill="none" stroke="#e8383d" stroke-width="1.1"/>
<circle cx="95.20" cy="577.54" r="1.6" fill="none" stroke="#e8383d" stroke-width="1.1"/>
<circle cx="95.20" cy="589.41" r="1.6" fill="none" stroke="#e8383d" stroke-width="1.1"/>
<circle cx="98.70" cy="589.04" r="1.6" fill="none" stroke="#e8383d" stroke-width="1.1"/>
<circle cx="92.20" cy="588.52" r="1.6" fill="none" stroke="#e8383d" stroke-width="1.1"/>
<circle cx="101.70" cy="588.11" r="1.6" fill="none" stroke="#e8383d" stroke-width="1.1"/>
<circle cx="95.20" cy="594.63" r="1.6" fill="none" stroke="#e8383d" stroke-width="1.1"/>
<circle cx="98.70" cy="594.12" r="1.6" fill="none" stroke="#e8383d" stroke-width="1.1"/>
<circle cx="92.20" cy="593.63" r="1.6" fill="none" stroke="#e8383d" stroke-width="1.1"/>
<circle cx="89.20" cy="592.52" r="1.6" fill="none" stroke="#e8383d" stroke-width="1.1"/>
<circle cx="101.20" cy="592.26" r="1.6" fill="none" stroke="#e8383d" stroke-width="1.1"/>
<circle cx="95.20" cy="603.09" r="1.6" fill="none" stroke="#e8383d" stroke-width="1.1"/>
<circle cx="98.20" cy="602.11" r="1.6" fill="none" stroke="#e8383d" stroke-width="1.1"/>
<circle cx="92.70" cy="601.12" r="1.6" fill="none" stroke="#e8383d" stroke-width="1.1"/>
<circle cx="95.70" cy="599.84" r="1.6" fill="none" stroke="#e8383d" stroke-width="1.1"/>
<circle cx="99.70" cy="599.32" r="1.6" fill="none" stroke="#e8383d" stroke-width="1.1"/>
<circle cx="95.20" cy="608.49" r="1.6" fill="none" stroke="#e8383d" stroke-width="1.1"/>
<circle cx="98.20" cy="607.49" r="1.6" fill="none" stroke="#e8383d" stroke-width="1.1"/>
<circle cx="92.70" cy="606.71" r="1.6" fill="none" stroke="#e8383d" stroke-width="1.1"/>
<circle cx="95.20" cy="619.94" r="1.6" fill="none" stroke="#e8383d" stroke-width="1.1"/>
<circle cx="98.20" cy="619.10" r="1.6" fill="none" stroke="#e8383d" stroke-width="1.1"/>
<circle cx="92.20" cy="618.50" r="1.6" fill="none" stroke="#e8383d" stroke-width="1.1"/>
<circle cx="101.20" cy="617.43" r="1.6" fill="none" stroke="#e8383d" stroke-width="1.1"/>
<circle cx="89.20" cy="616.94" r="1.6" fill="none" stroke="#e8383d" stroke-width="1.1"/>
<circle cx="95.20" cy="615.83" r="1.6" fill="none" stroke="#e8383d" stroke-width="1.1"/>
<circle cx="98.20" cy="614.86" r="1.6" fill="none" stroke="#e8383d" stroke-width="1.1"/>
<circle cx="92.70" cy="614.03" r="1.6" fill="none" stroke="#e8383d" stroke-width="1.1"/>
<circle cx="95.20" cy="629.53" r="1.6" fill="none" stroke="#e8383d" stroke-width="1.1"/>
<circle cx="98.20" cy="628.82" r="1.6" fill="none" stroke="#e8383d" stroke-width="1.1"/>
<circle cx="92.20" cy="627.99" r="1.6" fill="none" stroke="#e8383d" stroke-width="1.1"/>
<circle cx="101.20" cy="627.10" r="1.6" fill="none" stroke="#e8383d" stroke-width="1.1"/>
<circle cx="95.20" cy="626.15" r="1.6" fill="none" stroke="#e8383d" stroke-width="1.1"/>
<circle cx="89.70" cy="625.77" r="1.6" fill="none" stroke="#e8383d" stroke-width="1.1"/>
<circle cx="98.20" cy="624.51" r="1.6" fill="none" stroke="#e8383d" stroke-width="1.1"/>
<circle cx="93.20" cy="623.70" r="1.6" fill="none" stroke="#e8383d" stroke-width="1.1"/>
<circle cx="95.20" cy="637.30" r="1.6" fill="none" stroke="#e8383d" stroke-width="1.1"/>
<circle cx="98.20" cy="636.31" r="1.6" fill="none" stroke="#e8383d" stroke-width="1.1"/>
<circle cx="92.20" cy="635.68" r="1.6" fill="none" stroke="#e8383d" stroke-width="1.1"/>
<circle cx="101.20" cy="634.71" r="1.6" fill="none" stroke="#e8383d" stroke-width="1.1"/>
<circle cx="95.20" cy="633.83" r="1.6" fill="none" stroke="#e8383d" stroke-width="1.1"/>
<circle cx="90.20" cy="633.37" r="1.6" fill="none" stroke="#e8383d" stroke-width="1.1"/>
<circle cx="98.20" cy="632.55" r="1.6" fill="none" stroke="#e8383d" stroke-width="1.1"/>
<circle cx="92.70" cy="631.62" r="1.6" fill="none" stroke="#e8383d" stroke-width="1.1"/>
<circle cx="95.20" cy="641.57" r="1.6" fill="none" stroke="#e8383d" stroke-width="1.1"/>
<line x1="87.70" y1="612.50" x2="102.70" y2="612.50" stroke="#111" stroke-width="1.2" />
<line x1="95.20" y1="609.63" x2="95.20" y2="615.37" stroke="#111" stroke-width="1.0" />
<line x1="91.70" y1="609.63" x2="98.70" y2="609.63" stroke="#111" stroke-width="1.0" />
<line x1="91.70" y1="615.37" x2="98.70" y2="615.37" stroke="#111" stroke-width="1.0" />
<circle cx="117.20" cy="597.09" r="1.6" fill="none" stroke="#111" stroke-width="1.1"/>
<circle cx="120.20" cy="596.37" r="1.6" fill="none" stroke="#111" stroke-width="1.1"/>
<circle cx="114.20" cy="595.74" r="1.6" fill="none" stroke="#111" stroke-width="1.1"/>
<circle cx="123.20" cy="595.47" r="1.6" fill="none" stroke="#111" stroke-width="1.1"/>
<circle cx="117.20" cy="607.13" r="1.6" fill="none" stroke="#111" stroke-width="1.1"/>
<circle cx="120.70" cy="606.75" r="1.6" fill="none" stroke="#111" stroke-width="1.1"/>
<circle cx="114.20" cy="606.16" r="1.6" fill="none" stroke="#111" stroke-width="1.1"/>
<circle cx="117.20" cy="610.66" r="1.6" fill="none" stroke="#111" stroke-width="1.1"/>
<circle cx="120.70" cy="610.66" r="1.6" fill="none" stroke="#111" stroke-width="1.1"/>
<circle cx="117.20" cy="613.88" r="1.6" fill="none" stroke="#111" stroke-width="1.1"/>
<circle cx="120.70" cy="613.88" r="1.6" fill="none" stroke="#111" stroke-width="1.1"/>
<circle cx="117.20" cy="620.23" r="1.6" fill="none" stroke="#111" stroke-width="1.1"/>
<circle cx="120.70" cy="620.23" r="1.6" fill="none" stroke="#111" stroke-width="1.1"/>
<circle cx="113.70" cy="620.23" r="1.6" fill="none" stroke="#111" stroke-width="1.1"/>
<circle cx="117.20" cy="628.07" r="1.6" fill="none" stroke="#111" stroke-width="1.1"/>
<circle cx="120.70" cy="627.83" r="1.6" fill="none" stroke="#111" stroke-width="1.1"/>
<circle cx="113.70" cy="627.55" r="1.6" fill="none" stroke="#111" stroke-width="1.1"/>
<circle cx="124.20" cy="627.36" r="1.6" fill="none" stroke="#111" stroke-width="1.1"/>
<circle cx="117.20" cy="632.57" r="1.6" fill="none" stroke="#111" stroke-width="1.1"/>
<circle cx="120.70" cy="632.33" r="1.6" fill="none" stroke="#111" stroke-width="1.1"/>
<circle cx="114.20" cy="631.94" r="1.6" fill="none" stroke="#111" stroke-width="1.1"/>
<circle cx="123.70" cy="631.48" r="1.6" fill="none" stroke="#111" stroke-width="1.1"/>
<circle cx="117.20" cy="638.37" r="1.6" fill="none" stroke="#111" stroke-width="1.1"/>
<circle cx="120.20" cy="637.57" r="1.6" fill="none" stroke="#111" stroke-width="1.1"/>
<circle cx="114.20" cy="637.25" r="1.6" fill="none" stroke="#111" stroke-width="1.1"/>
<circle cx="117.20" cy="641.57" r="1.6" fill="none" stroke="#111" stroke-width="1.1"/>
<circle cx="117.20" cy="646.51" r="1.6" fill="none" stroke="#111" stroke-width="1.1"/>
<circle cx="120.70" cy="646.04" r="1.6" fill="none" stroke="#111" stroke-width="1.1"/>
<circle cx="114.20" cy="645.80" r="1.6" fill="none" stroke="#111" stroke-width="1.1"/>
<line x1="109.70" y1="623.54" x2="124.70" y2="623.54" stroke="#111" stroke-width="1.2" />
<line x1="117.20" y1="620.56" x2="117.20" y2="626.52" stroke="#111" stroke-width="1.0" />
<line x1="113.70" y1="620.56" x2="120.70" y2="620.56" stroke="#111" stroke-width="1.0" />
<line x1="113.70" y1="626.52" x2="120.70" y2="626.52" stroke="#111" stroke-width="1.0" />
<circle cx="138.80" cy="566.50" r="1.6" fill="none" stroke="#e8383d" stroke-width="1.1"/>
<circle cx="138.80" cy="576.62" r="1.6" fill="none" stroke="#e8383d" stroke-width="1.1"/>
<circle cx="138.80" cy="583.40" r="1.6" fill="none" stroke="#e8383d" stroke-width="1.1"/>
<circle cx="141.80" cy="582.74" r="1.6" fill="none" stroke="#e8383d" stroke-width="1.1"/>
<circle cx="135.80" cy="582.17" r="1.6" fill="none" stroke="#e8383d" stroke-width="1.1"/>
<circle cx="138.80" cy="588.21" r="1.6" fill="none" stroke="#e8383d" stroke-width="1.1"/>
<circle cx="138.80" cy="599.00" r="1.6" fill="none" stroke="#e8383d" stroke-width="1.1"/>
<circle cx="141.80" cy="598.13" r="1.6" fill="none" stroke="#e8383d" stroke-width="1.1"/>
<circle cx="136.30" cy="596.71" r="1.6" fill="none" stroke="#e8383d" stroke-width="1.1"/>
<circle cx="139.30" cy="595.14" r="1.6" fill="none" stroke="#e8383d" stroke-width="1.1"/>
<circle cx="140.80" cy="609.10" r="1.6" fill="none" stroke="#e8383d" stroke-width="1.1"/>
<circle cx="138.80" cy="611.58" r="1.6" fill="none" stroke="#e8383d" stroke-width="1.1"/>
<circle cx="138.80" cy="615.40" r="1.6" fill="none" stroke="#e8383d" stroke-width="1.1"/>
<circle cx="142.30" cy="615.13" r="1.6" fill="none" stroke="#e8383d" stroke-width="1.1"/>
<circle cx="135.80" cy="614.65" r="1.6" fill="none" stroke="#e8383d" stroke-width="1.1"/>
<circle cx="132.80" cy="613.96" r="1.6" fill="none" stroke="#e8383d" stroke-width="1.1"/>
<circle cx="138.80" cy="620.23" r="1.6" fill="none" stroke="#e8383d" stroke-width="1.1"/>
<circle cx="142.30" cy="620.23" r="1.6" fill="none" stroke="#e8383d" stroke-width="1.1"/>
<circle cx="130.80" cy="629.89" r="1.6" fill="none" stroke="#e8383d" stroke-width="1.1"/>
<circle cx="139.80" cy="629.11" r="1.6" fill="none" stroke="#e8383d" stroke-width="1.1"/>
<circle cx="136.80" cy="628.44" r="1.6" fill="none" stroke="#e8383d" stroke-width="1.1"/>
<circle cx="142.80" cy="627.48" r="1.6" fill="none" stroke="#e8383d" stroke-width="1.1"/>
<circle cx="133.80" cy="626.86" r="1.6" fill="none" stroke="#e8383d" stroke-width="1.1"/>
<circle cx="145.80" cy="626.64" r="1.6" fill="none" stroke="#e8383d" stroke-width="1.1"/>
<circle cx="138.80" cy="625.65" r="1.6" fill="none" stroke="#e8383d" stroke-width="1.1"/>
<circle cx="130.80" cy="625.28" r="1.6" fill="none" stroke="#e8383d" stroke-width="1.1"/>
<circle cx="141.80" cy="624.49" r="1.6" fill="none" stroke="#e8383d" stroke-width="1.1"/>
<circle cx="136.30" cy="623.85" r="1.6" fill="none" stroke="#e8383d" stroke-width="1.1"/>
<circle cx="138.80" cy="642.06" r="1.6" fill="none" stroke="#e8383d" stroke-width="1.1"/>
<circle cx="141.80" cy="641.44" r="1.6" fill="none" stroke="#e8383d" stroke-width="1.1"/>
<circle cx="135.80" cy="640.88" r="1.6" fill="none" stroke="#e8383d" stroke-width="1.1"/>
<circle cx="144.80" cy="640.25" r="1.6" fill="none" stroke="#e8383d" stroke-width="1.1"/>
<circle cx="132.80" cy="639.66" r="1.6" fill="none" stroke="#e8383d" stroke-width="1.1"/>
<circle cx="139.80" cy="639.14" r="1.6" fill="none" stroke="#e8383d" stroke-width="1.1"/>
<circle cx="142.80" cy="638.52" r="1.6" fill="none" stroke="#e8383d" stroke-width="1.1"/>
<circle cx="136.80" cy="637.98" r="1.6" fill="none" stroke="#e8383d" stroke-width="1.1"/>
<circle cx="145.80" cy="637.03" r="1.6" fill="none" stroke="#e8383d" stroke-width="1.1"/>
<circle cx="133.80" cy="636.29" r="1.6" fill="none" stroke="#e8383d" stroke-width="1.1"/>
<circle cx="138.80" cy="635.64" r="1.6" fill="none" stroke="#e8383d" stroke-width="1.1"/>
<circle cx="142.30" cy="635.15" r="1.6" fill="none" stroke="#e8383d" stroke-width="1.1"/>
<circle cx="131.30" cy="634.54" r="1.6" fill="none" stroke="#e8383d" stroke-width="1.1"/>
<circle cx="135.80" cy="633.90" r="1.6" fill="none" stroke="#e8383d" stroke-width="1.1"/>
<circle cx="144.80" cy="633.25" r="1.6" fill="none" stroke="#e8383d" stroke-width="1.1"/>
<circle cx="140.30" cy="632.91" r="1.6" fill="none" stroke="#e8383d" stroke-width="1.1"/>
<circle cx="133.30" cy="632.15" r="1.6" fill="none" stroke="#e8383d" stroke-width="1.1"/>
<circle cx="137.80" cy="631.56" r="1.6" fill="none" stroke="#e8383d" stroke-width="1.1"/>
<circle cx="142.80" cy="631.11" r="1.6" fill="none" stroke="#e8383d" stroke-width="1.1"/>
<circle cx="145.80" cy="630.08" r="1.6" fill="none" stroke="#e8383d" stroke-width="1.1"/>
<circle cx="138.80" cy="645.62" r="1.6" fill="none" stroke="#e8383d" stroke-width="1.1"/>
<circle cx="142.30" cy="645.62" r="1.6" fill="none" stroke="#e8383d" stroke-width="1.1"/>
<line x1="131.30" y1="622.62" x2="146.30" y2="622.62" stroke="#111" stroke-width="1.2" />
<line x1="138.80" y1="619.79" x2="138.80" y2="625.45" stroke="#111" stroke-width="1.0" />
<line x1="135.30" y1="619.79" x2="142.30" y2="619.79" stroke="#111" stroke-width="1.0" />
<line x1="135.30" y1="625.45" x2="142.30" y2="625.45" stroke="#111" stroke-width="1.0" />
<circle cx="161.80" cy="577.96" r="1.6" fill="none" stroke="#111" stroke-width="1.1"/>
<circle cx="165.30" cy="577.47" r="1.6" fill="none" stroke="#111" stroke-width="1.1"/>
<circle cx="158.80" cy="576.78" r="1.6" fill="none" stroke="#111" stroke-width="1.1"/>
<circle cx="168.30" cy="576.38" r="1.6" fill="none" stroke="#111" stroke-width="1.1"/>
<circle cx="155.80" cy="575.80" r="1.6" fill="none" stroke="#111" stroke-width="1.1"/>
<circle cx="163.30" cy="575.37" r="1.6" fill="none" stroke="#111" stroke-width="1.1"/>
<circle cx="161.80" cy="581.92" r="1.6" fill="none" stroke="#111" stroke-width="1.1"/>
<circle cx="165.30" cy="581.67" r="1.6" fill="none" stroke="#111" stroke-width="1.1"/>
<circle cx="158.80" cy="581.26" r="1.6" fill="none" stroke="#111" stroke-width="1.1"/>
<circle cx="161.80" cy="586.72" r="1.6" fill="none" stroke="#111" stroke-width="1.1"/>
<circle cx="164.80" cy="586.16" r="1.6" fill="none" stroke="#111" stroke-width="1.1"/>
<circle cx="158.80" cy="585.65" r="1.6" fill="none" stroke="#111" stroke-width="1.1"/>
<circle cx="164.30" cy="590.98" r="1.6" fill="none" stroke="#111" stroke-width="1.1"/>
<circle cx="159.80" cy="590.64" r="1.6" fill="none" stroke="#111" stroke-width="1.1"/>
<circle cx="167.30" cy="590.15" r="1.6" fill="none" stroke="#111" stroke-width="1.1"/>
<circle cx="161.80" cy="593.18" r="1.6" fill="none" stroke="#111" stroke-width="1.1"/>
<circle cx="161.80" cy="597.12" r="1.6" fill="none" stroke="#111" stroke-width="1.1"/>
<circle cx="165.30" cy="596.60" r="1.6" fill="none" stroke="#111" stroke-width="1.1"/>
<circle cx="158.80" cy="596.11" r="1.6" fill="none" stroke="#111" stroke-width="1.1"/>
<circle cx="161.80" cy="606.06" r="1.6" fill="none" stroke="#111" stroke-width="1.1"/>
<circle cx="161.80" cy="613.88" r="1.6" fill="none" stroke="#111" stroke-width="1.1"/>
<circle cx="161.80" cy="622.62" r="1.6" fill="none" stroke="#111" stroke-width="1.1"/>
<circle cx="161.80" cy="628.42" r="1.6" fill="none" stroke="#111" stroke-width="1.1"/>
<circle cx="161.80" cy="631.82" r="1.6" fill="none" stroke="#111" stroke-width="1.1"/>
<circle cx="161.80" cy="641.57" r="1.6" fill="none" stroke="#111" stroke-width="1.1"/>
<line x1="154.30" y1="595.66" x2="169.30" y2="595.66" stroke="#111" stroke-width="1.2" />
<line x1="161.80" y1="591.84" x2="161.80" y2="599.49" stroke="#111" stroke-width="1.0" />
<line x1="158.30" y1="591.84" x2="165.30" y2="591.84" stroke="#111" stroke-width="1.0" />
<line x1="158.30" y1="599.49" x2="165.30" y2="599.49" stroke="#111" stroke-width="1.0" />
<circle cx="183.00" cy="562.49" r="1.6" fill="none" stroke="#e8383d" stroke-width="1.1"/>
<circle cx="186.50" cy="562.02" r="1.6" fill="none" stroke="#e8383d" stroke-width="1.1"/>
<circle cx="180.00" cy="561.80" r="1.6" fill="none" stroke="#e8383d" stroke-width="1.1"/>
<circle cx="177.00" cy="561.07" r="1.6" fill="none" stroke="#e8383d" stroke-width="1.1"/>
<circle cx="189.50" cy="560.63" r="1.6" fill="none" stroke="#e8383d" stroke-width="1.1"/>
<circle cx="184.50" cy="560.17" r="1.6" fill="none" stroke="#e8383d" stroke-width="1.1"/>
<circle cx="183.00" cy="572.17" r="1.6" fill="none" stroke="#e8383d" stroke-width="1.1"/>
<circle cx="186.00" cy="571.61" r="1.6" fill="none" stroke="#e8383d" stroke-width="1.1"/>
<circle cx="180.00" cy="571.20" r="1.6" fill="none" stroke="#e8383d" stroke-width="1.1"/>
<circle cx="189.00" cy="570.70" r="1.6" fill="none" stroke="#e8383d" stroke-width="1.1"/>
<circle cx="177.00" cy="570.41" r="1.6" fill="none" stroke="#e8383d" stroke-width="1.1"/>
<circle cx="184.00" cy="570.07" r="1.6" fill="none" stroke="#e8383d" stroke-width="1.1"/>
<circle cx="187.00" cy="569.26" r="1.6" fill="none" stroke="#e8383d" stroke-width="1.1"/>
<circle cx="181.50" cy="568.89" r="1.6" fill="none" stroke="#e8383d" stroke-width="1.1"/>
<circle cx="191.00" cy="568.34" r="1.6" fill="none" stroke="#e8383d" stroke-width="1.1"/>
<circle cx="175.00" cy="567.93" r="1.6" fill="none" stroke="#e8383d" stroke-width="1.1"/>
<circle cx="178.50" cy="567.40" r="1.6" fill="none" stroke="#e8383d" stroke-width="1.1"/>
<circle cx="184.50" cy="567.03" r="1.6" fill="none" stroke="#e8383d" stroke-width="1.1"/>
<circle cx="188.50" cy="566.80" r="1.6" fill="none" stroke="#e8383d" stroke-width="1.1"/>
<circle cx="181.00" cy="566.09" r="1.6" fill="none" stroke="#e8383d" stroke-width="1.1"/>
<circle cx="183.00" cy="579.20" r="1.6" fill="none" stroke="#e8383d" stroke-width="1.1"/>
<circle cx="186.00" cy="578.39" r="1.6" fill="none" stroke="#e8383d" stroke-width="1.1"/>
<circle cx="180.00" cy="578.14" r="1.6" fill="none" stroke="#e8383d" stroke-width="1.1"/>
<circle cx="189.00" cy="577.28" r="1.6" fill="none" stroke="#e8383d" stroke-width="1.1"/>
<circle cx="177.00" cy="576.83" r="1.6" fill="none" stroke="#e8383d" stroke-width="1.1"/>
<circle cx="183.50" cy="576.29" r="1.6" fill="none" stroke="#e8383d" stroke-width="1.1"/>
<circle cx="186.50" cy="575.40" r="1.6" fill="none" stroke="#e8383d" stroke-width="1.1"/>
<circle cx="180.50" cy="574.66" r="1.6" fill="none" stroke="#e8383d" stroke-width="1.1"/>
<circle cx="190.50" cy="574.42" r="1.6" fill="none" stroke="#e8383d" stroke-width="1.1"/>
<circle cx="177.50" cy="573.64" r="1.6" fill="none" stroke="#e8383d" stroke-width="1.1"/>
<circle cx="183.00" cy="584.32" r="1.6" fill="none" stroke="#e8383d" stroke-width="1.1"/>
<circle cx="186.50" cy="583.90" r="1.6" fill="none" stroke="#e8383d" stroke-width="1.1"/>
<circle cx="180.00" cy="583.40" r="1.6" fill="none" stroke="#e8383d" stroke-width="1.1"/>
<circle cx="189.50" cy="583.26" r="1.6" fill="none" stroke="#e8383d" stroke-width="1.1"/>
<circle cx="177.00" cy="582.75" r="1.6" fill="none" stroke="#e8383d" stroke-width="1.1"/>
<circle cx="184.50" cy="582.46" r="1.6" fill="none" stroke="#e8383d" stroke-width="1.1"/>
<circle cx="183.00" cy="594.15" r="1.6" fill="none" stroke="#e8383d" stroke-width="1.1"/>
<circle cx="186.00" cy="592.96" r="1.6" fill="none" stroke="#e8383d" stroke-width="1.1"/>
<circle cx="181.00" cy="591.83" r="1.6" fill="none" stroke="#e8383d" stroke-width="1.1"/>
<circle cx="178.00" cy="591.08" r="1.6" fill="none" stroke="#e8383d" stroke-width="1.1"/>
<circle cx="183.00" cy="597.93" r="1.6" fill="none" stroke="#e8383d" stroke-width="1.1"/>
<circle cx="186.50" cy="597.63" r="1.6" fill="none" stroke="#e8383d" stroke-width="1.1"/>
<circle cx="179.50" cy="597.40" r="1.6" fill="none" stroke="#e8383d" stroke-width="1.1"/>
<circle cx="183.00" cy="602.50" r="1.6" fill="none" stroke="#e8383d" stroke-width="1.1"/>
<circle cx="186.00" cy="601.89" r="1.6" fill="none" stroke="#e8383d" stroke-width="1.1"/>
<circle cx="180.00" cy="600.84" r="1.6" fill="none" stroke="#e8383d" stroke-width="1.1"/>
<circle cx="183.00" cy="607.96" r="1.6" fill="none" stroke="#e8383d" stroke-width="1.1"/>
<circle cx="186.00" cy="606.60" r="1.6" fill="none" stroke="#e8383d" stroke-width="1.1"/>
<circle cx="180.50" cy="605.83" r="1.6" fill="none" stroke="#e8383d" stroke-width="1.1"/>
<line x1="175.50" y1="579.66" x2="190.50" y2="579.66" stroke="#111" stroke-width="1.2" />
<line x1="183.00" y1="577.68" x2="183.00" y2="581.63" stroke="#111" stroke-width="1.0" />
<line x1="179.50" y1="577.68" x2="186.50" y2="577.68" stroke="#111" stroke-width="1.0" />
<line x1="179.50" y1="581.63" x2="186.50" y2="581.63" stroke="#111" stroke-width="1.0" />
<circle cx="206.20" cy="568.14" r="1.6" fill="none" stroke="#111" stroke-width="1.1"/>
<circle cx="203.20" cy="567.00" r="1.6" fill="none" stroke="#111" stroke-width="1.1"/>
<circle cx="208.70" cy="566.22" r="1.6" fill="none" stroke="#111" stroke-width="1.1"/>
<circle cx="200.20" cy="565.26" r="1.6" fill="none" stroke="#111" stroke-width="1.1"/>
<circle cx="205.20" cy="564.43" r="1.6" fill="none" stroke="#111" stroke-width="1.1"/>
<circle cx="205.20" cy="571.03" r="1.6" fill="none" stroke="#111" stroke-width="1.1"/>
<circle cx="208.70" cy="570.49" r="1.6" fill="none" stroke="#111" stroke-width="1.1"/>
<circle cx="202.20" cy="569.98" r="1.6" fill="none" stroke="#111" stroke-width="1.1"/>
<circle cx="205.20" cy="577.14" r="1.6" fill="none" stroke="#111" stroke-width="1.1"/>
<circle cx="208.70" cy="576.62" r="1.6" fill="none" stroke="#111" stroke-width="1.1"/>
<circle cx="202.20" cy="575.79" r="1.6" fill="none" stroke="#111" stroke-width="1.1"/>
<circle cx="211.70" cy="575.41" r="1.6" fill="none" stroke="#111" stroke-width="1.1"/>
<circle cx="205.20" cy="580.38" r="1.6" fill="none" stroke="#111" stroke-width="1.1"/>
<circle cx="208.70" cy="579.91" r="1.6" fill="none" stroke="#111" stroke-width="1.1"/>
<circle cx="202.20" cy="579.72" r="1.6" fill="none" stroke="#111" stroke-width="1.1"/>
<circle cx="199.20" cy="579.11" r="1.6" fill="none" stroke="#111" stroke-width="1.1"/>
<circle cx="205.20" cy="585.10" r="1.6" fill="none" stroke="#111" stroke-width="1.1"/>
<circle cx="208.20" cy="584.24" r="1.6" fill="none" stroke="#111" stroke-width="1.1"/>
<circle cx="205.20" cy="591.18" r="1.6" fill="none" stroke="#111" stroke-width="1.1"/>
<circle cx="208.70" cy="590.99" r="1.6" fill="none" stroke="#111" stroke-width="1.1"/>
<circle cx="202.20" cy="590.32" r="1.6" fill="none" stroke="#111" stroke-width="1.1"/>
<circle cx="205.20" cy="601.18" r="1.6" fill="none" stroke="#111" stroke-width="1.1"/>
<circle cx="205.20" cy="610.29" r="1.6" fill="none" stroke="#111" stroke-width="1.1"/>
<circle cx="205.20" cy="625.84" r="1.6" fill="none" stroke="#111" stroke-width="1.1"/>
<circle cx="208.70" cy="625.51" r="1.6" fill="none" stroke="#111" stroke-width="1.1"/>
<circle cx="205.20" cy="631.82" r="1.6" fill="none" stroke="#111" stroke-width="1.1"/>
<circle cx="205.20" cy="639.82" r="1.6" fill="none" stroke="#111" stroke-width="1.1"/>
<line x1="197.70" y1="587.75" x2="212.70" y2="587.75" stroke="#111" stroke-width="1.2" />
<line x1="205.20" y1="583.57" x2="205.20" y2="591.93" stroke="#111" stroke-width="1.0" />
<line x1="201.70" y1="583.57" x2="208.70" y2="583.57" stroke="#111" stroke-width="1.0" />
<line x1="201.70" y1="591.93" x2="208.70" y2="591.93" stroke="#111" stroke-width="1.0" />
<circle cx="220.50" cy="562.29" r="1.6" fill="none" stroke="#e8383d" stroke-width="1.1"/>
<circle cx="223.50" cy="561.78" r="1.6" fill="none" stroke="#e8383d" stroke-width="1.1"/>
<circle cx="227.50" cy="561.00" r="1.6" fill="none" stroke="#e8383d" stroke-width="1.1"/>
<circle cx="233.50" cy="560.80" r="1.6" fill="none" stroke="#e8383d" stroke-width="1.1"/>
<circle cx="230.50" cy="560.40" r="1.6" fill="none" stroke="#e8383d" stroke-width="1.1"/>
<circle cx="221.50" cy="559.92" r="1.6" fill="none" stroke="#e8383d" stroke-width="1.1"/>
<circle cx="225.00" cy="559.29" r="1.6" fill="none" stroke="#e8383d" stroke-width="1.1"/>
<circle cx="228.50" cy="558.86" r="1.6" fill="none" stroke="#e8383d" stroke-width="1.1"/>
<circle cx="229.50" cy="572.19" r="1.6" fill="none" stroke="#e8383d" stroke-width="1.1"/>
<circle cx="226.00" cy="571.90" r="1.6" fill="none" stroke="#e8383d" stroke-width="1.1"/>
<circle cx="232.50" cy="571.54" r="1.6" fill="none" stroke="#e8383d" stroke-width="1.1"/>
<circle cx="223.00" cy="570.91" r="1.6" fill="none" stroke="#e8383d" stroke-width="1.1"/>
<circle cx="220.50" cy="570.70" r="1.6" fill="none" stroke="#e8383d" stroke-width="1.1"/>
<circle cx="228.00" cy="570.13" r="1.6" fill="none" stroke="#e8383d" stroke-width="1.1"/>
<circle cx="234.50" cy="569.64" r="1.6" fill="none" stroke="#e8383d" stroke-width="1.1"/>
<circle cx="231.00" cy="569.40" r="1.6" fill="none" stroke="#e8383d" stroke-width="1.1"/>
<circle cx="225.00" cy="568.99" r="1.6" fill="none" stroke="#e8383d" stroke-width="1.1"/>
<circle cx="222.00" cy="568.50" r="1.6" fill="none" stroke="#e8383d" stroke-width="1.1"/>
<circle cx="229.00" cy="568.17" r="1.6" fill="none" stroke="#e8383d" stroke-width="1.1"/>
<circle cx="233.00" cy="567.58" r="1.6" fill="none" stroke="#e8383d" stroke-width="1.1"/>
<circle cx="226.50" cy="567.17" r="1.6" fill="none" stroke="#e8383d" stroke-width="1.1"/>
<circle cx="224.00" cy="566.66" r="1.6" fill="none" stroke="#e8383d" stroke-width="1.1"/>
<circle cx="220.50" cy="566.51" r="1.6" fill="none" stroke="#e8383d" stroke-width="1.1"/>
<circle cx="230.50" cy="565.92" r="1.6" fill="none" stroke="#e8383d" stroke-width="1.1"/>
<circle cx="234.50" cy="565.64" r="1.6" fill="none" stroke="#e8383d" stroke-width="1.1"/>
<circle cx="228.00" cy="564.94" r="1.6" fill="none" stroke="#e8383d" stroke-width="1.1"/>
<circle cx="222.50" cy="564.63" r="1.6" fill="none" stroke="#e8383d" stroke-width="1.1"/>
<circle cx="225.50" cy="564.29" r="1.6" fill="none" stroke="#e8383d" stroke-width="1.1"/>
<circle cx="232.50" cy="563.76" r="1.6" fill="none" stroke="#e8383d" stroke-width="1.1"/>
<circle cx="230.00" cy="563.40" r="1.6" fill="none" stroke="#e8383d" stroke-width="1.1"/>
<circle cx="227.50" cy="583.61" r="1.6" fill="none" stroke="#e8383d" stroke-width="1.1"/>
<circle cx="230.50" cy="582.62" r="1.6" fill="none" stroke="#e8383d" stroke-width="1.1"/>
<circle cx="225.00" cy="581.76" r="1.6" fill="none" stroke="#e8383d" stroke-width="1.1"/>
<circle cx="228.00" cy="580.21" r="1.6" fill="none" stroke="#e8383d" stroke-width="1.1"/>
<circle cx="231.00" cy="579.60" r="1.6" fill="none" stroke="#e8383d" stroke-width="1.1"/>
<circle cx="223.50" cy="579.00" r="1.6" fill="none" stroke="#e8383d" stroke-width="1.1"/>
<circle cx="226.50" cy="577.49" r="1.6" fill="none" stroke="#e8383d" stroke-width="1.1"/>
<circle cx="229.50" cy="576.93" r="1.6" fill="none" stroke="#e8383d" stroke-width="1.1"/>
<circle cx="224.00" cy="575.52" r="1.6" fill="none" stroke="#e8383d" stroke-width="1.1"/>
<circle cx="227.50" cy="574.56" r="1.6" fill="none" stroke="#e8383d" stroke-width="1.1"/>
<circle cx="227.50" cy="592.44" r="1.6" fill="none" stroke="#e8383d" stroke-width="1.1"/>
<line x1="220.00" y1="568.34" x2="235.00" y2="568.34" stroke="#111" stroke-width="1.2" />
<line x1="227.50" y1="567.11" x2="227.50" y2="569.57" stroke="#111" stroke-width="1.0" />
<line x1="224.00" y1="567.11" x2="231.00" y2="567.11" stroke="#111" stroke-width="1.0" />
<line x1="224.00" y1="569.57" x2="231.00" y2="569.57" stroke="#111" stroke-width="1.0" />
<circle cx="249.20" cy="609.56" r="1.6" fill="none" stroke="#111" stroke-width="1.1"/>
<circle cx="249.20" cy="616.92" r="1.6" fill="none" stroke="#111" stroke-width="1.1"/>
<circle cx="249.20" cy="623.54" r="1.6" fill="none" stroke="#111" stroke-width="1.1"/>
<circle cx="249.20" cy="629.29" r="1.6" fill="none" stroke="#111" stroke-width="1.1"/>
<circle cx="252.20" cy="627.75" r="1.6" fill="none" stroke="#111" stroke-width="1.1"/>
<circle cx="247.20" cy="626.93" r="1.6" fill="none" stroke="#111" stroke-width="1.1"/>
<circle cx="244.20" cy="626.31" r="1.6" fill="none" stroke="#111" stroke-width="1.1"/>
<circle cx="249.20" cy="635.72" r="1.6" fill="none" stroke="#111" stroke-width="1.1"/>
<circle cx="252.70" cy="635.25" r="1.6" fill="none" stroke="#111" stroke-width="1.1"/>
<circle cx="246.20" cy="634.67" r="1.6" fill="none" stroke="#111" stroke-width="1.1"/>
<circle cx="243.20" cy="634.07" r="1.6" fill="none" stroke="#111" stroke-width="1.1"/>
<circle cx="255.70" cy="633.82" r="1.6" fill="none" stroke="#111" stroke-width="1.1"/>
<circle cx="250.70" cy="633.22" r="1.6" fill="none" stroke="#111" stroke-width="1.1"/>
<circle cx="248.20" cy="632.83" r="1.6" fill="none" stroke="#111" stroke-width="1.1"/>
<circle cx="253.20" cy="632.35" r="1.6" fill="none" stroke="#111" stroke-width="1.1"/>
<circle cx="245.20" cy="631.73" r="1.6" fill="none" stroke="#111" stroke-width="1.1"/>
<circle cx="242.20" cy="630.99" r="1.6" fill="none" stroke="#111" stroke-width="1.1"/>
<circle cx="249.20" cy="643.11" r="1.6" fill="none" stroke="#111" stroke-width="1.1"/>
<circle cx="252.20" cy="642.22" r="1.6" fill="none" stroke="#111" stroke-width="1.1"/>
<circle cx="246.70" cy="640.87" r="1.6" fill="none" stroke="#111" stroke-width="1.1"/>
<circle cx="249.70" cy="640.10" r="1.6" fill="none" stroke="#111" stroke-width="1.1"/>
<circle cx="253.70" cy="639.51" r="1.6" fill="none" stroke="#111" stroke-width="1.1"/>
<circle cx="249.20" cy="647.83" r="1.6" fill="none" stroke="#111" stroke-width="1.1"/>
<line x1="241.70" y1="633.66" x2="256.70" y2="633.66" stroke="#111" stroke-width="1.2" />
<line x1="249.20" y1="631.87" x2="249.20" y2="635.45" stroke="#111" stroke-width="1.0" />
<line x1="245.70" y1="631.87" x2="252.70" y2="631.87" stroke="#111" stroke-width="1.0" />
<line x1="245.70" y1="635.45" x2="252.70" y2="635.45" stroke="#111" stroke-width="1.0" />
<circle cx="271.20" cy="602.81" r="1.6" fill="none" stroke="#e8383d" stroke-width="1.1"/>
<circle cx="274.20" cy="602.12" r="1.6" fill="none" stroke="#e8383d" stroke-width="1.1"/>
<circle cx="271.20" cy="610.71" r="1.6" fill="none" stroke="#e8383d" stroke-width="1.1"/>
<circle cx="274.70" cy="610.41" r="1.6" fill="none" stroke="#e8383d" stroke-width="1.1"/>
<circle cx="268.20" cy="609.92" r="1.6" fill="none" stroke="#e8383d" stroke-width="1.1"/>
<circle cx="265.20" cy="609.27" r="1.6" fill="none" stroke="#e8383d" stroke-width="1.1"/>
<circle cx="277.70" cy="609.02" r="1.6" fill="none" stroke="#e8383d" stroke-width="1.1"/>
<circle cx="272.70" cy="608.35" r="1.6" fill="none" stroke="#e8383d" stroke-width="1.1"/>
<circle cx="270.20" cy="608.16" r="1.6" fill="none" stroke="#e8383d" stroke-width="1.1"/>
<circle cx="275.20" cy="607.63" r="1.6" fill="none" stroke="#e8383d" stroke-width="1.1"/>
<circle cx="271.20" cy="615.36" r="1.6" fill="none" stroke="#e8383d" stroke-width="1.1"/>
<circle cx="274.70" cy="614.83" r="1.6" fill="none" stroke="#e8383d" stroke-width="1.1"/>
<circle cx="268.20" cy="614.16" r="1.6" fill="none" stroke="#e8383d" stroke-width="1.1"/>
<circle cx="271.70" cy="620.33" r="1.6" fill="none" stroke="#e8383d" stroke-width="1.1"/>
<circle cx="268.20" cy="619.98" r="1.6" fill="none" stroke="#e8383d" stroke-width="1.1"/>
<circle cx="274.70" cy="619.60" r="1.6" fill="none" stroke="#e8383d" stroke-width="1.1"/>
<circle cx="265.20" cy="618.89" r="1.6" fill="none" stroke="#e8383d" stroke-width="1.1"/>
<circle cx="277.70" cy="618.66" r="1.6" fill="none" stroke="#e8383d" stroke-width="1.1"/>
<circle cx="271.20" cy="629.86" r="1.6" fill="none" stroke="#e8383d" stroke-width="1.1"/>
<circle cx="274.20" cy="629.20" r="1.6" fill="none" stroke="#e8383d" stroke-width="1.1"/>
<circle cx="268.20" cy="628.64" r="1.6" fill="none" stroke="#e8383d" stroke-width="1.1"/>
<circle cx="277.20" cy="628.32" r="1.6" fill="none" stroke="#e8383d" stroke-width="1.1"/>
<circle cx="265.20" cy="627.77" r="1.6" fill="none" stroke="#e8383d" stroke-width="1.1"/>
<circle cx="272.20" cy="627.33" r="1.6" fill="none" stroke="#e8383d" stroke-width="1.1"/>
<circle cx="275.20" cy="626.81" r="1.6" fill="none" stroke="#e8383d" stroke-width="1.1"/>
<circle cx="269.70" cy="626.33" r="1.6" fill="none" stroke="#e8383d" stroke-width="1.1"/>
<circle cx="278.20" cy="625.64" r="1.6" fill="none" stroke="#e8383d" stroke-width="1.1"/>
<circle cx="266.70" cy="625.33" r="1.6" fill="none" stroke="#e8383d" stroke-width="1.1"/>
<circle cx="273.20" cy="624.44" r="1.6" fill="none" stroke="#e8383d" stroke-width="1.1"/>
<circle cx="264.20" cy="624.07" r="1.6" fill="none" stroke="#e8383d" stroke-width="1.1"/>
<circle cx="276.20" cy="623.79" r="1.6" fill="none" stroke="#e8383d" stroke-width="1.1"/>
<circle cx="270.20" cy="622.99" r="1.6" fill="none" stroke="#e8383d" stroke-width="1.1"/>
<circle cx="271.20" cy="633.84" r="1.6" fill="none" stroke="#e8383d" stroke-width="1.1"/>
<circle cx="274.70" cy="633.84" r="1.6" fill="none" stroke="#e8383d" stroke-width="1.1"/>
<circle cx="271.20" cy="640.25" r="1.6" fill="none" stroke="#e8383d" stroke-width="1.1"/>
<circle cx="274.20" cy="639.53" r="1.6" fill="none" stroke="#e8383d" stroke-width="1.1"/>
<circle cx="268.20" cy="639.07" r="1.6" fill="none" stroke="#e8383d" stroke-width="1.1"/>
<circle cx="277.20" cy="638.26" r="1.6" fill="none" stroke="#e8383d" stroke-width="1.1"/>
<circle cx="265.20" cy="637.81" r="1.6" fill="none" stroke="#e8383d" stroke-width="1.1"/>
<circle cx="271.20" cy="637.00" r="1.6" fill="none" stroke="#e8383d" stroke-width="1.1"/>
<line x1="263.70" y1="622.62" x2="278.70" y2="622.62" stroke="#111" stroke-width="1.2" />
<line x1="271.20" y1="620.91" x2="271.20" y2="624.33" stroke="#111" stroke-width="1.0" />
<line x1="267.70" y1="620.91" x2="274.70" y2="620.91" stroke="#111" stroke-width="1.0" />
<line x1="267.70" y1="624.33" x2="274.70" y2="624.33" stroke="#111" stroke-width="1.0" />
<line x1="67.80" y1="553.50" x2="101.00" y2="553.50" stroke="#333" stroke-width="1.3" />
<text x="84.40" y="553.30" font-size="8" font-weight="bold" text-anchor="middle" fill="#222" stroke="#222" stroke-width="0.3" letter-spacing="0.25">**</text>
<line x1="156.20" y1="553.50" x2="188.80" y2="553.50" stroke="#333" stroke-width="1.3" />
<text x="172.50" y="553.30" font-size="8" font-weight="bold" text-anchor="middle" fill="#222" stroke="#222" stroke-width="0.3" letter-spacing="0.25">***</text>
<line x1="199.60" y1="553.50" x2="233.30" y2="553.50" stroke="#333" stroke-width="1.3" />
<text x="216.45" y="553.30" font-size="8" font-weight="bold" text-anchor="middle" fill="#222" stroke="#222" stroke-width="0.3" letter-spacing="0.25">****</text>
<line x1="243.60" y1="553.50" x2="277.00" y2="553.50" stroke="#333" stroke-width="1.3" />
<text x="260.30" y="553.30" font-size="8" font-weight="bold" text-anchor="middle" fill="#222" stroke="#222" stroke-width="0.3" letter-spacing="0.25">**</text>
<text x="73.40" y="659.30" font-size="7.2" font-weight="bold" text-anchor="middle" fill="#111" >HC</text>
<text x="95.20" y="659.30" font-size="7.2" font-weight="bold" text-anchor="middle" fill="#111" >SLE</text>
<line x1="67.80" y1="663.80" x2="101.40" y2="663.80" stroke="#333" stroke-width="1.4" />
<text x="84.30" y="673.40" font-size="7.8" font-weight="bold" text-anchor="middle" fill="#111" >CD19<tspan dx="0.8" baseline-shift="55%" font-size="70%">+</tspan></text>
<text x="117.20" y="659.30" font-size="7.2" font-weight="bold" text-anchor="middle" fill="#111" >HC</text>
<text x="138.80" y="659.30" font-size="7.2" font-weight="bold" text-anchor="middle" fill="#111" >SLE</text>
<line x1="111.60" y1="663.80" x2="145.00" y2="663.80" stroke="#333" stroke-width="1.4" />
<text x="128.00" y="673.40" font-size="7.8" font-weight="bold" text-anchor="middle" fill="#111" >Na&#239;ve B</text>
<text x="161.80" y="659.30" font-size="7.2" font-weight="bold" text-anchor="middle" fill="#111" >HC</text>
<text x="183.00" y="659.30" font-size="7.2" font-weight="bold" text-anchor="middle" fill="#111" >SLE</text>
<line x1="156.20" y1="663.80" x2="189.20" y2="663.80" stroke="#333" stroke-width="1.4" />
<text x="172.40" y="673.40" font-size="7.8" font-weight="bold" text-anchor="middle" fill="#111" >Tra-B</text>
<text x="205.20" y="659.30" font-size="7.2" font-weight="bold" text-anchor="middle" fill="#111" >HC</text>
<text x="227.50" y="659.30" font-size="7.2" font-weight="bold" text-anchor="middle" fill="#111" >SLE</text>
<line x1="199.60" y1="663.80" x2="233.70" y2="663.80" stroke="#333" stroke-width="1.4" />
<text x="216.35" y="673.40" font-size="7.8" font-weight="bold" text-anchor="middle" fill="#111" >Memory B</text>
<text x="249.20" y="659.30" font-size="7.2" font-weight="bold" text-anchor="middle" fill="#111" >HC</text>
<text x="271.20" y="659.30" font-size="7.2" font-weight="bold" text-anchor="middle" fill="#111" >SLE</text>
<line x1="243.60" y1="663.80" x2="277.40" y2="663.80" stroke="#333" stroke-width="1.4" />
<text x="260.20" y="673.40" font-size="7.8" font-weight="bold" text-anchor="middle" fill="#111" >PC</text>
<text transform="translate(38.50,602.90) rotate(-90)" font-size="8" font-weight="bold" text-anchor="middle" fill="#222" >AIM2<tspan baseline-shift="38%" font-size="70%">+</tspan>/CD44<tspan baseline-shift="38%" font-size="70%">+</tspan>CD62L<tspan baseline-shift="38%" font-size="70%">-</tspan> %</text>
<line x1="332.20" y1="646.90" x2="332.20" y2="554.90" stroke="#222" stroke-width="1.1" />
<line x1="332.20" y1="646.90" x2="560.30" y2="646.90" stroke="#222" stroke-width="1.1" />
<line x1="330.00" y1="646.90" x2="332.20" y2="646.90" stroke="#222" stroke-width="1.0" />
<text x="328.60" y="649.50" font-size="7.0" font-weight="bold" text-anchor="end" fill="#111" >0</text>
<line x1="330.00" y1="628.50" x2="332.20" y2="628.50" stroke="#222" stroke-width="1.0" />
<text x="328.60" y="631.10" font-size="7.0" font-weight="bold" text-anchor="end" fill="#111" >20</text>
<line x1="330.00" y1="610.10" x2="332.20" y2="610.10" stroke="#222" stroke-width="1.0" />
<text x="328.60" y="612.70" font-size="7.0" font-weight="bold" text-anchor="end" fill="#111" >40</text>
<line x1="330.00" y1="591.70" x2="332.20" y2="591.70" stroke="#222" stroke-width="1.0" />
<text x="328.60" y="594.30" font-size="7.0" font-weight="bold" text-anchor="end" fill="#111" >60</text>
<line x1="330.00" y1="573.30" x2="332.20" y2="573.30" stroke="#222" stroke-width="1.0" />
<text x="328.60" y="575.90" font-size="7.0" font-weight="bold" text-anchor="end" fill="#111" >80</text>
<line x1="330.00" y1="554.90" x2="332.20" y2="554.90" stroke="#222" stroke-width="1.0" />
<text x="328.60" y="557.50" font-size="7.0" font-weight="bold" text-anchor="end" fill="#111" >100</text>
<line x1="350.10" y1="646.90" x2="350.10" y2="648.90" stroke="#222" stroke-width="1.0" />
<circle cx="350.10" cy="594.35" r="1.6" fill="none" stroke="#111" stroke-width="1.1"/>
<circle cx="353.10" cy="593.27" r="1.6" fill="none" stroke="#111" stroke-width="1.1"/>
<circle cx="347.10" cy="593.02" r="1.6" fill="none" stroke="#111" stroke-width="1.1"/>
<circle cx="350.10" cy="607.52" r="1.6" fill="none" stroke="#111" stroke-width="1.1"/>
<circle cx="353.10" cy="605.84" r="1.6" fill="none" stroke="#111" stroke-width="1.1"/>
<circle cx="349.60" cy="604.50" r="1.6" fill="none" stroke="#111" stroke-width="1.1"/>
<circle cx="346.60" cy="603.26" r="1.6" fill="none" stroke="#111" stroke-width="1.1"/>
<circle cx="350.10" cy="601.42" r="1.6" fill="none" stroke="#111" stroke-width="1.1"/>
<circle cx="350.10" cy="618.48" r="1.6" fill="none" stroke="#111" stroke-width="1.1"/>
<circle cx="352.60" cy="616.39" r="1.6" fill="none" stroke="#111" stroke-width="1.1"/>
<circle cx="349.10" cy="615.49" r="1.6" fill="none" stroke="#111" stroke-width="1.1"/>
<circle cx="346.10" cy="613.85" r="1.6" fill="none" stroke="#111" stroke-width="1.1"/>
<circle cx="351.10" cy="613.04" r="1.6" fill="none" stroke="#111" stroke-width="1.1"/>
<circle cx="350.10" cy="626.59" r="1.6" fill="none" stroke="#111" stroke-width="1.1"/>
<circle cx="353.10" cy="625.44" r="1.6" fill="none" stroke="#111" stroke-width="1.1"/>
<circle cx="348.60" cy="623.82" r="1.6" fill="none" stroke="#111" stroke-width="1.1"/>
<circle cx="345.10" cy="623.56" r="1.6" fill="none" stroke="#111" stroke-width="1.1"/>
<circle cx="351.60" cy="622.40" r="1.6" fill="none" stroke="#111" stroke-width="1.1"/>
<circle cx="350.10" cy="634.19" r="1.6" fill="none" stroke="#111" stroke-width="1.1"/>
<circle cx="353.10" cy="632.65" r="1.6" fill="none" stroke="#111" stroke-width="1.1"/>
<circle cx="347.60" cy="631.98" r="1.6" fill="none" stroke="#111" stroke-width="1.1"/>
<circle cx="350.60" cy="630.73" r="1.6" fill="none" stroke="#111" stroke-width="1.1"/>
<circle cx="350.10" cy="643.32" r="1.6" fill="none" stroke="#111" stroke-width="1.1"/>
<circle cx="352.60" cy="641.25" r="1.6" fill="none" stroke="#111" stroke-width="1.1"/>
<circle cx="349.60" cy="640.17" r="1.6" fill="none" stroke="#111" stroke-width="1.1"/>
<line x1="342.60" y1="619.39" x2="357.60" y2="619.39" stroke="#111" stroke-width="1.2" />
<line x1="350.10" y1="616.36" x2="350.10" y2="622.43" stroke="#111" stroke-width="1.0" />
<line x1="346.60" y1="616.36" x2="353.60" y2="616.36" stroke="#111" stroke-width="1.0" />
<line x1="346.60" y1="622.43" x2="353.60" y2="622.43" stroke="#111" stroke-width="1.0" />
<line x1="377.50" y1="646.90" x2="377.50" y2="648.90" stroke="#222" stroke-width="1.0" />
<circle cx="377.50" cy="577.41" r="1.6" fill="none" stroke="#e8383d" stroke-width="1.1"/>
<circle cx="380.50" cy="576.61" r="1.6" fill="none" stroke="#e8383d" stroke-width="1.1"/>
<circle cx="374.50" cy="575.70" r="1.6" fill="none" stroke="#e8383d" stroke-width="1.1"/>
<circle cx="383.50" cy="575.20" r="1.6" fill="none" stroke="#e8383d" stroke-width="1.1"/>
<circle cx="371.50" cy="574.53" r="1.6" fill="none" stroke="#e8383d" stroke-width="1.1"/>
<circle cx="377.50" cy="573.70" r="1.6" fill="none" stroke="#e8383d" stroke-width="1.1"/>
<circle cx="381.00" cy="573.39" r="1.6" fill="none" stroke="#e8383d" stroke-width="1.1"/>
<circle cx="374.50" cy="572.62" r="1.6" fill="none" stroke="#e8383d" stroke-width="1.1"/>
<circle cx="377.50" cy="587.85" r="1.6" fill="none" stroke="#e8383d" stroke-width="1.1"/>
<circle cx="380.00" cy="585.82" r="1.6" fill="none" stroke="#e8383d" stroke-width="1.1"/>
<circle cx="376.50" cy="584.89" r="1.6" fill="none" stroke="#e8383d" stroke-width="1.1"/>
<circle cx="373.50" cy="583.39" r="1.6" fill="none" stroke="#e8383d" stroke-width="1.1"/>
<circle cx="377.50" cy="594.46" r="1.6" fill="none" stroke="#e8383d" stroke-width="1.1"/>
<circle cx="380.50" cy="592.81" r="1.6" fill="none" stroke="#e8383d" stroke-width="1.1"/>
<circle cx="375.50" cy="591.98" r="1.6" fill="none" stroke="#e8383d" stroke-width="1.1"/>
<circle cx="377.50" cy="598.88" r="1.6" fill="none" stroke="#e8383d" stroke-width="1.1"/>
<circle cx="377.50" cy="610.84" r="1.6" fill="none" stroke="#e8383d" stroke-width="1.1"/>
<circle cx="377.50" cy="620.22" r="1.6" fill="none" stroke="#e8383d" stroke-width="1.1"/>
<circle cx="377.50" cy="627.81" r="1.6" fill="none" stroke="#e8383d" stroke-width="1.1"/>
<circle cx="380.50" cy="626.81" r="1.6" fill="none" stroke="#e8383d" stroke-width="1.1"/>
<circle cx="377.50" cy="638.90" r="1.6" fill="none" stroke="#e8383d" stroke-width="1.1"/>
<line x1="370.00" y1="592.71" x2="385.00" y2="592.71" stroke="#111" stroke-width="1.2" />
<line x1="377.50" y1="588.23" x2="377.50" y2="597.19" stroke="#111" stroke-width="1.0" />
<line x1="374.00" y1="588.23" x2="381.00" y2="588.23" stroke="#111" stroke-width="1.0" />
<line x1="374.00" y1="597.19" x2="381.00" y2="597.19" stroke="#111" stroke-width="1.0" />
<line x1="405.00" y1="646.90" x2="405.00" y2="648.90" stroke="#222" stroke-width="1.0" />
<circle cx="405.00" cy="566.28" r="1.6" fill="none" stroke="#2b2bd6" stroke-width="1.1"/>
<circle cx="408.00" cy="565.21" r="1.6" fill="none" stroke="#2b2bd6" stroke-width="1.1"/>
<circle cx="402.50" cy="564.33" r="1.6" fill="none" stroke="#2b2bd6" stroke-width="1.1"/>
<circle cx="405.50" cy="563.27" r="1.6" fill="none" stroke="#2b2bd6" stroke-width="1.1"/>
<circle cx="409.00" cy="562.30" r="1.6" fill="none" stroke="#2b2bd6" stroke-width="1.1"/>
<circle cx="403.50" cy="560.61" r="1.6" fill="none" stroke="#2b2bd6" stroke-width="1.1"/>
<circle cx="405.00" cy="577.20" r="1.6" fill="none" stroke="#2b2bd6" stroke-width="1.1"/>
<circle cx="408.00" cy="576.10" r="1.6" fill="none" stroke="#2b2bd6" stroke-width="1.1"/>
<circle cx="403.00" cy="574.75" r="1.6" fill="none" stroke="#2b2bd6" stroke-width="1.1"/>
<circle cx="400.00" cy="574.06" r="1.6" fill="none" stroke="#2b2bd6" stroke-width="1.1"/>
<circle cx="405.50" cy="572.60" r="1.6" fill="none" stroke="#2b2bd6" stroke-width="1.1"/>
<circle cx="405.00" cy="589.58" r="1.6" fill="none" stroke="#2b2bd6" stroke-width="1.1"/>
<circle cx="405.00" cy="598.88" r="1.6" fill="none" stroke="#2b2bd6" stroke-width="1.1"/>
<circle cx="405.00" cy="606.88" r="1.6" fill="none" stroke="#2b2bd6" stroke-width="1.1"/>
<circle cx="405.00" cy="623.47" r="1.6" fill="none" stroke="#2b2bd6" stroke-width="1.1"/>
<circle cx="408.00" cy="622.00" r="1.6" fill="none" stroke="#2b2bd6" stroke-width="1.1"/>
<circle cx="405.00" cy="628.22" r="1.6" fill="none" stroke="#2b2bd6" stroke-width="1.1"/>
<circle cx="405.00" cy="637.52" r="1.6" fill="none" stroke="#2b2bd6" stroke-width="1.1"/>
<line x1="397.50" y1="585.54" x2="412.50" y2="585.54" stroke="#111" stroke-width="1.2" />
<line x1="405.00" y1="579.43" x2="405.00" y2="591.64" stroke="#111" stroke-width="1.0" />
<line x1="401.50" y1="579.43" x2="408.50" y2="579.43" stroke="#111" stroke-width="1.0" />
<line x1="401.50" y1="591.64" x2="408.50" y2="591.64" stroke="#111" stroke-width="1.0" />
<line x1="432.20" y1="646.90" x2="432.20" y2="648.90" stroke="#222" stroke-width="1.0" />
<circle cx="432.20" cy="605.50" r="1.6" fill="none" stroke="#35a035" stroke-width="1.1"/>
<circle cx="432.20" cy="613.50" r="1.6" fill="none" stroke="#35a035" stroke-width="1.1"/>
<circle cx="432.70" cy="630.75" r="1.6" fill="none" stroke="#35a035" stroke-width="1.1"/>
<circle cx="429.20" cy="629.74" r="1.6" fill="none" stroke="#35a035" stroke-width="1.1"/>
<circle cx="435.70" cy="629.01" r="1.6" fill="none" stroke="#35a035" stroke-width="1.1"/>
<circle cx="426.20" cy="628.34" r="1.6" fill="none" stroke="#35a035" stroke-width="1.1"/>
<circle cx="432.20" cy="627.11" r="1.6" fill="none" stroke="#35a035" stroke-width="1.1"/>
<circle cx="438.20" cy="626.79" r="1.6" fill="none" stroke="#35a035" stroke-width="1.1"/>
<circle cx="435.20" cy="625.80" r="1.6" fill="none" stroke="#35a035" stroke-width="1.1"/>
<circle cx="429.70" cy="625.31" r="1.6" fill="none" stroke="#35a035" stroke-width="1.1"/>
<circle cx="426.70" cy="624.61" r="1.6" fill="none" stroke="#35a035" stroke-width="1.1"/>
<circle cx="432.70" cy="623.81" r="1.6" fill="none" stroke="#35a035" stroke-width="1.1"/>
<circle cx="436.70" cy="622.98" r="1.6" fill="none" stroke="#35a035" stroke-width="1.1"/>
<circle cx="429.70" cy="622.21" r="1.6" fill="none" stroke="#35a035" stroke-width="1.1"/>
<circle cx="432.20" cy="644.05" r="1.6" fill="none" stroke="#35a035" stroke-width="1.1"/>
<circle cx="434.20" cy="641.55" r="1.6" fill="none" stroke="#35a035" stroke-width="1.1"/>
<circle cx="431.20" cy="640.18" r="1.6" fill="none" stroke="#35a035" stroke-width="1.1"/>
<circle cx="428.20" cy="639.32" r="1.6" fill="none" stroke="#35a035" stroke-width="1.1"/>
<circle cx="432.70" cy="637.49" r="1.6" fill="none" stroke="#35a035" stroke-width="1.1"/>
<circle cx="430.20" cy="635.71" r="1.6" fill="none" stroke="#35a035" stroke-width="1.1"/>
<circle cx="433.20" cy="633.97" r="1.6" fill="none" stroke="#35a035" stroke-width="1.1"/>
<circle cx="430.20" cy="632.63" r="1.6" fill="none" stroke="#35a035" stroke-width="1.1"/>
<line x1="424.70" y1="629.51" x2="439.70" y2="629.51" stroke="#111" stroke-width="1.2" />
<line x1="432.20" y1="627.58" x2="432.20" y2="631.45" stroke="#111" stroke-width="1.0" />
<line x1="428.70" y1="627.58" x2="435.70" y2="627.58" stroke="#111" stroke-width="1.0" />
<line x1="428.70" y1="631.45" x2="435.70" y2="631.45" stroke="#111" stroke-width="1.0" />
<line x1="459.60" y1="646.90" x2="459.60" y2="648.90" stroke="#222" stroke-width="1.0" />
<circle cx="459.60" cy="562.90" r="1.6" fill="none" stroke="#111" stroke-width="1.1"/>
<circle cx="459.60" cy="580.61" r="1.6" fill="none" stroke="#111" stroke-width="1.1"/>
<circle cx="462.10" cy="578.64" r="1.6" fill="none" stroke="#111" stroke-width="1.1"/>
<circle cx="459.60" cy="575.84" r="1.6" fill="none" stroke="#111" stroke-width="1.1"/>
<circle cx="462.10" cy="574.04" r="1.6" fill="none" stroke="#111" stroke-width="1.1"/>
<circle cx="459.60" cy="585.54" r="1.6" fill="none" stroke="#111" stroke-width="1.1"/>
<circle cx="459.60" cy="597.39" r="1.6" fill="none" stroke="#111" stroke-width="1.1"/>
<circle cx="462.10" cy="595.23" r="1.6" fill="none" stroke="#111" stroke-width="1.1"/>
<circle cx="459.10" cy="593.96" r="1.6" fill="none" stroke="#111" stroke-width="1.1"/>
<circle cx="456.10" cy="593.06" r="1.6" fill="none" stroke="#111" stroke-width="1.1"/>
<circle cx="459.60" cy="610.93" r="1.6" fill="none" stroke="#111" stroke-width="1.1"/>
<circle cx="462.60" cy="609.34" r="1.6" fill="none" stroke="#111" stroke-width="1.1"/>
<circle cx="459.10" cy="607.88" r="1.6" fill="none" stroke="#111" stroke-width="1.1"/>
<circle cx="456.10" cy="606.53" r="1.6" fill="none" stroke="#111" stroke-width="1.1"/>
<circle cx="457.60" cy="618.51" r="1.6" fill="none" stroke="#111" stroke-width="1.1"/>
<circle cx="463.60" cy="618.10" r="1.6" fill="none" stroke="#111" stroke-width="1.1"/>
<circle cx="460.60" cy="617.25" r="1.6" fill="none" stroke="#111" stroke-width="1.1"/>
<circle cx="455.10" cy="616.56" r="1.6" fill="none" stroke="#111" stroke-width="1.1"/>
<circle cx="466.10" cy="616.12" r="1.6" fill="none" stroke="#111" stroke-width="1.1"/>
<circle cx="458.10" cy="615.49" r="1.6" fill="none" stroke="#111" stroke-width="1.1"/>
<circle cx="462.10" cy="614.52" r="1.6" fill="none" stroke="#111" stroke-width="1.1"/>
<circle cx="453.60" cy="613.73" r="1.6" fill="none" stroke="#111" stroke-width="1.1"/>
<circle cx="460.60" cy="623.85" r="1.6" fill="none" stroke="#111" stroke-width="1.1"/>
<circle cx="455.60" cy="623.62" r="1.6" fill="none" stroke="#111" stroke-width="1.1"/>
<circle cx="463.60" cy="622.80" r="1.6" fill="none" stroke="#111" stroke-width="1.1"/>
<circle cx="452.60" cy="622.63" r="1.6" fill="none" stroke="#111" stroke-width="1.1"/>
<circle cx="466.60" cy="622.01" r="1.6" fill="none" stroke="#111" stroke-width="1.1"/>
<circle cx="458.60" cy="621.51" r="1.6" fill="none" stroke="#111" stroke-width="1.1"/>
<circle cx="455.10" cy="620.83" r="1.6" fill="none" stroke="#111" stroke-width="1.1"/>
<circle cx="461.60" cy="620.42" r="1.6" fill="none" stroke="#111" stroke-width="1.1"/>
<circle cx="461.10" cy="637.63" r="1.6" fill="none" stroke="#111" stroke-width="1.1"/>
<circle cx="458.10" cy="636.70" r="1.6" fill="none" stroke="#111" stroke-width="1.1"/>
<circle cx="464.10" cy="636.12" r="1.6" fill="none" stroke="#111" stroke-width="1.1"/>
<circle cx="455.10" cy="635.50" r="1.6" fill="none" stroke="#111" stroke-width="1.1"/>
<circle cx="467.10" cy="635.09" r="1.6" fill="none" stroke="#111" stroke-width="1.1"/>
<circle cx="460.10" cy="634.32" r="1.6" fill="none" stroke="#111" stroke-width="1.1"/>
<circle cx="452.60" cy="633.65" r="1.6" fill="none" stroke="#111" stroke-width="1.1"/>
<circle cx="463.10" cy="633.36" r="1.6" fill="none" stroke="#111" stroke-width="1.1"/>
<circle cx="457.10" cy="632.69" r="1.6" fill="none" stroke="#111" stroke-width="1.1"/>
<circle cx="466.10" cy="631.79" r="1.6" fill="none" stroke="#111" stroke-width="1.1"/>
<circle cx="460.10" cy="631.22" r="1.6" fill="none" stroke="#111" stroke-width="1.1"/>
<circle cx="454.60" cy="630.92" r="1.6" fill="none" stroke="#111" stroke-width="1.1"/>
<circle cx="463.10" cy="630.30" r="1.6" fill="none" stroke="#111" stroke-width="1.1"/>
<circle cx="451.60" cy="629.56" r="1.6" fill="none" stroke="#111" stroke-width="1.1"/>
<circle cx="457.60" cy="629.05" r="1.6" fill="none" stroke="#111" stroke-width="1.1"/>
<circle cx="466.10" cy="628.56" r="1.6" fill="none" stroke="#111" stroke-width="1.1"/>
<circle cx="460.60" cy="627.92" r="1.6" fill="none" stroke="#111" stroke-width="1.1"/>
<circle cx="455.10" cy="627.21" r="1.6" fill="none" stroke="#111" stroke-width="1.1"/>
<circle cx="463.60" cy="626.65" r="1.6" fill="none" stroke="#111" stroke-width="1.1"/>
<circle cx="458.10" cy="625.91" r="1.6" fill="none" stroke="#111" stroke-width="1.1"/>
<circle cx="459.60" cy="644.07" r="1.6" fill="none" stroke="#111" stroke-width="1.1"/>
<circle cx="462.60" cy="642.60" r="1.6" fill="none" stroke="#111" stroke-width="1.1"/>
<circle cx="459.60" cy="640.34" r="1.6" fill="none" stroke="#111" stroke-width="1.1"/>
<line x1="452.10" y1="621.05" x2="467.10" y2="621.05" stroke="#111" stroke-width="1.2" />
<line x1="459.60" y1="618.37" x2="459.60" y2="623.73" stroke="#111" stroke-width="1.0" />
<line x1="456.10" y1="618.37" x2="463.10" y2="618.37" stroke="#111" stroke-width="1.0" />
<line x1="456.10" y1="623.73" x2="463.10" y2="623.73" stroke="#111" stroke-width="1.0" />
<line x1="487.40" y1="646.90" x2="487.40" y2="648.90" stroke="#222" stroke-width="1.0" />
<circle cx="487.40" cy="561.08" r="1.6" fill="none" stroke="#e8383d" stroke-width="1.1"/>
<circle cx="490.40" cy="559.94" r="1.6" fill="none" stroke="#e8383d" stroke-width="1.1"/>
<circle cx="484.40" cy="559.60" r="1.6" fill="none" stroke="#e8383d" stroke-width="1.1"/>
<circle cx="493.40" cy="558.57" r="1.6" fill="none" stroke="#e8383d" stroke-width="1.1"/>
<circle cx="487.40" cy="557.24" r="1.6" fill="none" stroke="#e8383d" stroke-width="1.1"/>
<circle cx="490.40" cy="556.66" r="1.6" fill="none" stroke="#e8383d" stroke-width="1.1"/>
<circle cx="485.90" cy="573.07" r="1.6" fill="none" stroke="#e8383d" stroke-width="1.1"/>
<circle cx="489.90" cy="572.24" r="1.6" fill="none" stroke="#e8383d" stroke-width="1.1"/>
<circle cx="482.90" cy="571.57" r="1.6" fill="none" stroke="#e8383d" stroke-width="1.1"/>
<circle cx="492.90" cy="571.00" r="1.6" fill="none" stroke="#e8383d" stroke-width="1.1"/>
<circle cx="487.40" cy="570.37" r="1.6" fill="none" stroke="#e8383d" stroke-width="1.1"/>
<circle cx="480.40" cy="569.74" r="1.6" fill="none" stroke="#e8383d" stroke-width="1.1"/>
<circle cx="490.40" cy="568.78" r="1.6" fill="none" stroke="#e8383d" stroke-width="1.1"/>
<circle cx="485.40" cy="568.04" r="1.6" fill="none" stroke="#e8383d" stroke-width="1.1"/>
<circle cx="482.40" cy="567.36" r="1.6" fill="none" stroke="#e8383d" stroke-width="1.1"/>
<circle cx="492.90" cy="566.57" r="1.6" fill="none" stroke="#e8383d" stroke-width="1.1"/>
<circle cx="487.40" cy="565.68" r="1.6" fill="none" stroke="#e8383d" stroke-width="1.1"/>
<circle cx="484.40" cy="565.22" r="1.6" fill="none" stroke="#e8383d" stroke-width="1.1"/>
<circle cx="490.40" cy="564.00" r="1.6" fill="none" stroke="#e8383d" stroke-width="1.1"/>
<circle cx="481.40" cy="563.74" r="1.6" fill="none" stroke="#e8383d" stroke-width="1.1"/>
<circle cx="487.40" cy="581.20" r="1.6" fill="none" stroke="#e8383d" stroke-width="1.1"/>
<circle cx="490.90" cy="580.84" r="1.6" fill="none" stroke="#e8383d" stroke-width="1.1"/>
<circle cx="484.40" cy="579.74" r="1.6" fill="none" stroke="#e8383d" stroke-width="1.1"/>
<circle cx="493.40" cy="579.06" r="1.6" fill="none" stroke="#e8383d" stroke-width="1.1"/>
<circle cx="488.90" cy="578.40" r="1.6" fill="none" stroke="#e8383d" stroke-width="1.1"/>
<circle cx="481.40" cy="578.05" r="1.6" fill="none" stroke="#e8383d" stroke-width="1.1"/>
<circle cx="485.90" cy="576.98" r="1.6" fill="none" stroke="#e8383d" stroke-width="1.1"/>
<circle cx="491.40" cy="576.77" r="1.6" fill="none" stroke="#e8383d" stroke-width="1.1"/>
<circle cx="494.40" cy="575.98" r="1.6" fill="none" stroke="#e8383d" stroke-width="1.1"/>
<circle cx="488.40" cy="575.10" r="1.6" fill="none" stroke="#e8383d" stroke-width="1.1"/>
<circle cx="489.90" cy="591.92" r="1.6" fill="none" stroke="#e8383d" stroke-width="1.1"/>
<circle cx="486.90" cy="590.22" r="1.6" fill="none" stroke="#e8383d" stroke-width="1.1"/>
<circle cx="489.90" cy="588.84" r="1.6" fill="none" stroke="#e8383d" stroke-width="1.1"/>
<circle cx="484.90" cy="587.63" r="1.6" fill="none" stroke="#e8383d" stroke-width="1.1"/>
<circle cx="487.40" cy="604.66" r="1.6" fill="none" stroke="#e8383d" stroke-width="1.1"/>
<circle cx="489.90" cy="602.77" r="1.6" fill="none" stroke="#e8383d" stroke-width="1.1"/>
<circle cx="485.40" cy="602.05" r="1.6" fill="none" stroke="#e8383d" stroke-width="1.1"/>
<circle cx="487.90" cy="600.20" r="1.6" fill="none" stroke="#e8383d" stroke-width="1.1"/>
<circle cx="485.40" cy="598.39" r="1.6" fill="none" stroke="#e8383d" stroke-width="1.1"/>
<circle cx="489.40" cy="597.34" r="1.6" fill="none" stroke="#e8383d" stroke-width="1.1"/>
<circle cx="483.40" cy="595.89" r="1.6" fill="none" stroke="#e8383d" stroke-width="1.1"/>
<circle cx="487.40" cy="593.99" r="1.6" fill="none" stroke="#e8383d" stroke-width="1.1"/>
<line x1="479.90" y1="576.98" x2="494.90" y2="576.98" stroke="#111" stroke-width="1.2" />
<line x1="487.40" y1="574.83" x2="487.40" y2="579.13" stroke="#111" stroke-width="1.0" />
<line x1="483.90" y1="574.83" x2="490.90" y2="574.83" stroke="#111" stroke-width="1.0" />
<line x1="483.90" y1="579.13" x2="490.90" y2="579.13" stroke="#111" stroke-width="1.0" />
<line x1="515.00" y1="646.90" x2="515.00" y2="648.90" stroke="#222" stroke-width="1.0" />
<circle cx="515.00" cy="559.89" r="1.6" fill="none" stroke="#2b2bd6" stroke-width="1.1"/>
<circle cx="518.00" cy="559.72" r="1.6" fill="none" stroke="#2b2bd6" stroke-width="1.1"/>
<circle cx="512.00" cy="558.94" r="1.6" fill="none" stroke="#2b2bd6" stroke-width="1.1"/>
<circle cx="521.00" cy="558.30" r="1.6" fill="none" stroke="#2b2bd6" stroke-width="1.1"/>
<circle cx="509.00" cy="557.37" r="1.6" fill="none" stroke="#2b2bd6" stroke-width="1.1"/>
<circle cx="515.00" cy="556.79" r="1.6" fill="none" stroke="#2b2bd6" stroke-width="1.1"/>
<circle cx="518.50" cy="556.33" r="1.6" fill="none" stroke="#2b2bd6" stroke-width="1.1"/>
<circle cx="512.00" cy="555.89" r="1.6" fill="none" stroke="#2b2bd6" stroke-width="1.1"/>
<circle cx="515.00" cy="573.06" r="1.6" fill="none" stroke="#2b2bd6" stroke-width="1.1"/>
<circle cx="511.50" cy="572.60" r="1.6" fill="none" stroke="#2b2bd6" stroke-width="1.1"/>
<circle cx="518.00" cy="571.98" r="1.6" fill="none" stroke="#2b2bd6" stroke-width="1.1"/>
<circle cx="521.00" cy="571.41" r="1.6" fill="none" stroke="#2b2bd6" stroke-width="1.1"/>
<circle cx="509.00" cy="570.60" r="1.6" fill="none" stroke="#2b2bd6" stroke-width="1.1"/>
<circle cx="514.00" cy="570.10" r="1.6" fill="none" stroke="#2b2bd6" stroke-width="1.1"/>
<circle cx="517.00" cy="569.46" r="1.6" fill="none" stroke="#2b2bd6" stroke-width="1.1"/>
<circle cx="520.00" cy="568.39" r="1.6" fill="none" stroke="#2b2bd6" stroke-width="1.1"/>
<circle cx="511.50" cy="568.21" r="1.6" fill="none" stroke="#2b2bd6" stroke-width="1.1"/>
<circle cx="508.50" cy="567.49" r="1.6" fill="none" stroke="#2b2bd6" stroke-width="1.1"/>
<circle cx="515.00" cy="566.72" r="1.6" fill="none" stroke="#2b2bd6" stroke-width="1.1"/>
<circle cx="518.00" cy="565.86" r="1.6" fill="none" stroke="#2b2bd6" stroke-width="1.1"/>
<circle cx="512.00" cy="565.17" r="1.6" fill="none" stroke="#2b2bd6" stroke-width="1.1"/>
<circle cx="521.00" cy="564.78" r="1.6" fill="none" stroke="#2b2bd6" stroke-width="1.1"/>
<circle cx="509.00" cy="564.20" r="1.6" fill="none" stroke="#2b2bd6" stroke-width="1.1"/>
<circle cx="515.00" cy="563.18" r="1.6" fill="none" stroke="#2b2bd6" stroke-width="1.1"/>
<circle cx="518.50" cy="562.69" r="1.6" fill="none" stroke="#2b2bd6" stroke-width="1.1"/>
<circle cx="511.50" cy="562.26" r="1.6" fill="none" stroke="#2b2bd6" stroke-width="1.1"/>
<circle cx="521.50" cy="561.31" r="1.6" fill="none" stroke="#2b2bd6" stroke-width="1.1"/>
<circle cx="508.50" cy="560.75" r="1.6" fill="none" stroke="#2b2bd6" stroke-width="1.1"/>
<circle cx="515.00" cy="579.44" r="1.6" fill="none" stroke="#2b2bd6" stroke-width="1.1"/>
<circle cx="518.50" cy="579.16" r="1.6" fill="none" stroke="#2b2bd6" stroke-width="1.1"/>
<circle cx="512.00" cy="577.69" r="1.6" fill="none" stroke="#2b2bd6" stroke-width="1.1"/>
<circle cx="521.00" cy="577.29" r="1.6" fill="none" stroke="#2b2bd6" stroke-width="1.1"/>
<circle cx="515.00" cy="576.34" r="1.6" fill="none" stroke="#2b2bd6" stroke-width="1.1"/>
<circle cx="518.00" cy="575.17" r="1.6" fill="none" stroke="#2b2bd6" stroke-width="1.1"/>
<circle cx="515.00" cy="589.58" r="1.6" fill="none" stroke="#2b2bd6" stroke-width="1.1"/>
<line x1="507.50" y1="565.57" x2="522.50" y2="565.57" stroke="#111" stroke-width="1.2" />
<line x1="515.00" y1="564.19" x2="515.00" y2="566.95" stroke="#111" stroke-width="1.0" />
<line x1="511.50" y1="564.19" x2="518.50" y2="564.19" stroke="#111" stroke-width="1.0" />
<line x1="511.50" y1="566.95" x2="518.50" y2="566.95" stroke="#111" stroke-width="1.0" />
<line x1="542.40" y1="646.90" x2="542.40" y2="648.90" stroke="#222" stroke-width="1.0" />
<circle cx="542.40" cy="607.73" r="1.6" fill="none" stroke="#35a035" stroke-width="1.1"/>
<circle cx="545.40" cy="606.69" r="1.6" fill="none" stroke="#35a035" stroke-width="1.1"/>
<circle cx="540.40" cy="605.28" r="1.6" fill="none" stroke="#35a035" stroke-width="1.1"/>
<circle cx="542.90" cy="603.27" r="1.6" fill="none" stroke="#35a035" stroke-width="1.1"/>
<circle cx="545.90" cy="602.60" r="1.6" fill="none" stroke="#35a035" stroke-width="1.1"/>
<circle cx="540.40" cy="601.29" r="1.6" fill="none" stroke="#35a035" stroke-width="1.1"/>
<circle cx="542.90" cy="599.18" r="1.6" fill="none" stroke="#35a035" stroke-width="1.1"/>
<circle cx="545.90" cy="598.62" r="1.6" fill="none" stroke="#35a035" stroke-width="1.1"/>
<circle cx="537.40" cy="621.24" r="1.6" fill="none" stroke="#35a035" stroke-width="1.1"/>
<circle cx="543.90" cy="620.20" r="1.6" fill="none" stroke="#35a035" stroke-width="1.1"/>
<circle cx="547.40" cy="619.66" r="1.6" fill="none" stroke="#35a035" stroke-width="1.1"/>
<circle cx="541.40" cy="618.31" r="1.6" fill="none" stroke="#35a035" stroke-width="1.1"/>
<circle cx="538.40" cy="617.41" r="1.6" fill="none" stroke="#35a035" stroke-width="1.1"/>
<circle cx="544.40" cy="616.73" r="1.6" fill="none" stroke="#35a035" stroke-width="1.1"/>
<circle cx="547.40" cy="615.54" r="1.6" fill="none" stroke="#35a035" stroke-width="1.1"/>
<circle cx="541.90" cy="614.69" r="1.6" fill="none" stroke="#35a035" stroke-width="1.1"/>
<circle cx="538.40" cy="614.23" r="1.6" fill="none" stroke="#35a035" stroke-width="1.1"/>
<circle cx="544.40" cy="612.89" r="1.6" fill="none" stroke="#35a035" stroke-width="1.1"/>
<circle cx="548.40" cy="612.60" r="1.6" fill="none" stroke="#35a035" stroke-width="1.1"/>
<circle cx="541.40" cy="611.22" r="1.6" fill="none" stroke="#35a035" stroke-width="1.1"/>
<circle cx="542.40" cy="636.98" r="1.6" fill="none" stroke="#35a035" stroke-width="1.1"/>
<circle cx="545.40" cy="636.06" r="1.6" fill="none" stroke="#35a035" stroke-width="1.1"/>
<circle cx="540.40" cy="634.62" r="1.6" fill="none" stroke="#35a035" stroke-width="1.1"/>
<circle cx="543.40" cy="633.69" r="1.6" fill="none" stroke="#35a035" stroke-width="1.1"/>
<circle cx="546.40" cy="632.53" r="1.6" fill="none" stroke="#35a035" stroke-width="1.1"/>
<circle cx="540.90" cy="631.51" r="1.6" fill="none" stroke="#35a035" stroke-width="1.1"/>
<circle cx="543.90" cy="630.52" r="1.6" fill="none" stroke="#35a035" stroke-width="1.1"/>
<circle cx="538.40" cy="629.48" r="1.6" fill="none" stroke="#35a035" stroke-width="1.1"/>
<circle cx="541.90" cy="628.06" r="1.6" fill="none" stroke="#35a035" stroke-width="1.1"/>
<circle cx="544.90" cy="626.82" r="1.6" fill="none" stroke="#35a035" stroke-width="1.1"/>
<circle cx="539.90" cy="625.73" r="1.6" fill="none" stroke="#35a035" stroke-width="1.1"/>
<circle cx="542.90" cy="624.13" r="1.6" fill="none" stroke="#35a035" stroke-width="1.1"/>
<circle cx="545.90" cy="623.34" r="1.6" fill="none" stroke="#35a035" stroke-width="1.1"/>
<circle cx="540.90" cy="621.77" r="1.6" fill="none" stroke="#35a035" stroke-width="1.1"/>
<line x1="534.90" y1="621.14" x2="549.90" y2="621.14" stroke="#111" stroke-width="1.2" />
<line x1="542.40" y1="619.16" x2="542.40" y2="623.12" stroke="#111" stroke-width="1.0" />
<line x1="538.90" y1="619.16" x2="545.90" y2="619.16" stroke="#111" stroke-width="1.0" />
<line x1="538.90" y1="623.12" x2="545.90" y2="623.12" stroke="#111" stroke-width="1.0" />
<line x1="349.20" y1="528.50" x2="435.80" y2="528.50" stroke="#333" stroke-width="1.3" />
<text x="392.50" y="528.60" font-size="8" font-weight="bold" text-anchor="middle" fill="#222" stroke="#222" stroke-width="0.3" letter-spacing="0.25">***</text>
<line x1="379.40" y1="535.50" x2="435.80" y2="535.50" stroke="#333" stroke-width="1.3" />
<text x="407.60" y="535.20" font-size="8" font-weight="bold" text-anchor="middle" fill="#222" stroke="#222" stroke-width="0.3" letter-spacing="0.25">***</text>
<line x1="349.20" y1="542.50" x2="406.00" y2="542.50" stroke="#333" stroke-width="1.3" />
<text x="377.60" y="541.80" font-size="8" font-weight="bold" text-anchor="middle" fill="#222" stroke="#222" stroke-width="0.3" letter-spacing="0.25">****</text>
<line x1="349.20" y1="548.50" x2="384.00" y2="548.50" stroke="#333" stroke-width="1.3" />
<text x="366.60" y="548.60" font-size="8" font-weight="bold" text-anchor="middle" fill="#222" stroke="#222" stroke-width="0.3" letter-spacing="0.25">**</text>
<line x1="400.20" y1="548.50" x2="435.80" y2="548.50" stroke="#333" stroke-width="1.3" />
<text x="418.00" y="548.60" font-size="8" font-weight="bold" text-anchor="middle" fill="#222" stroke="#222" stroke-width="0.3" letter-spacing="0.25">****</text>
<line x1="486.10" y1="535.50" x2="543.20" y2="535.50" stroke="#333" stroke-width="1.3" />
<text x="514.65" y="534.80" font-size="8" font-weight="bold" text-anchor="middle" fill="#222" stroke="#222" stroke-width="0.3" letter-spacing="0.25">****</text>
<line x1="458.30" y1="542.50" x2="515.50" y2="542.50" stroke="#333" stroke-width="1.3" />
<text x="486.90" y="541.80" font-size="8" font-weight="bold" text-anchor="middle" fill="#222" stroke="#222" stroke-width="0.3" letter-spacing="0.25">****</text>
<line x1="458.30" y1="548.50" x2="485.20" y2="548.50" stroke="#333" stroke-width="1.3" />
<text x="471.75" y="548.60" font-size="8" font-weight="bold" text-anchor="middle" fill="#222" stroke="#222" stroke-width="0.3" letter-spacing="0.25">****</text>
<line x1="491.30" y1="548.50" x2="513.30" y2="548.50" stroke="#333" stroke-width="1.3" />
<text x="502.30" y="548.60" font-size="8" font-weight="bold" text-anchor="middle" fill="#222" stroke="#222" stroke-width="0.3" letter-spacing="0.25">****</text>
<line x1="517.00" y1="548.50" x2="544.00" y2="548.50" stroke="#333" stroke-width="1.3" />
<text x="530.50" y="548.60" font-size="8" font-weight="bold" text-anchor="middle" fill="#222" stroke="#222" stroke-width="0.3" letter-spacing="0.25">****</text>
<text transform="translate(352.70,656.60) rotate(-45)" font-size="7.0" font-weight="bold" text-anchor="end" fill="#111" >Na&#239;ve B</text>
<text transform="translate(380.10,656.60) rotate(-45)" font-size="7.0" font-weight="bold" text-anchor="end" fill="#111" >Tra-B</text>
<text transform="translate(407.60,656.60) rotate(-45)" font-size="7.0" font-weight="bold" text-anchor="end" fill="#111" >Memory B</text>
<text transform="translate(434.80,656.60) rotate(-45)" font-size="7.0" font-weight="bold" text-anchor="end" fill="#111" >PC</text>
<text transform="translate(462.20,656.60) rotate(-45)" font-size="7.0" font-weight="bold" text-anchor="end" fill="#111" >Na&#239;ve B</text>
<text transform="translate(490.00,656.60) rotate(-45)" font-size="7.0" font-weight="bold" text-anchor="end" fill="#111" >Tra-B</text>
<text transform="translate(517.60,656.60) rotate(-45)" font-size="7.0" font-weight="bold" text-anchor="end" fill="#111" >Memory B</text>
<text transform="translate(545.00,656.60) rotate(-45)" font-size="7.0" font-weight="bold" text-anchor="end" fill="#111" >PC</text>
<line x1="331.00" y1="681.50" x2="427.40" y2="681.50" stroke="#333" stroke-width="1.4" />
<line x1="442.00" y1="681.80" x2="538.60" y2="681.80" stroke="#333" stroke-width="1.4" />
<text x="377.50" y="691.00" font-size="7.8" font-weight="bold" text-anchor="middle" fill="#111" >HC</text>
<text x="488.30" y="691.00" font-size="7.8" font-weight="bold" text-anchor="middle" fill="#111" >SLE</text>
<text transform="translate(313.50,602.20) rotate(-90)" font-size="8" font-weight="bold" text-anchor="middle" fill="#222" >AIM2<tspan baseline-shift="38%" font-size="70%">+</tspan>/CD44<tspan baseline-shift="38%" font-size="70%">+</tspan>CD62L<tspan baseline-shift="38%" font-size="70%">-</tspan> %</text>
<text x="437" y="674" font-size="18" fill="#a4a4a4" stroke="#fff" stroke-width="1.1" paint-order="stroke" stroke-linejoin="round" style="font-family:'Liberation Sans', 'Noto Sans CJK SC', sans-serif">知乎 @科研显微镜</text>
</svg>
</body></html>
